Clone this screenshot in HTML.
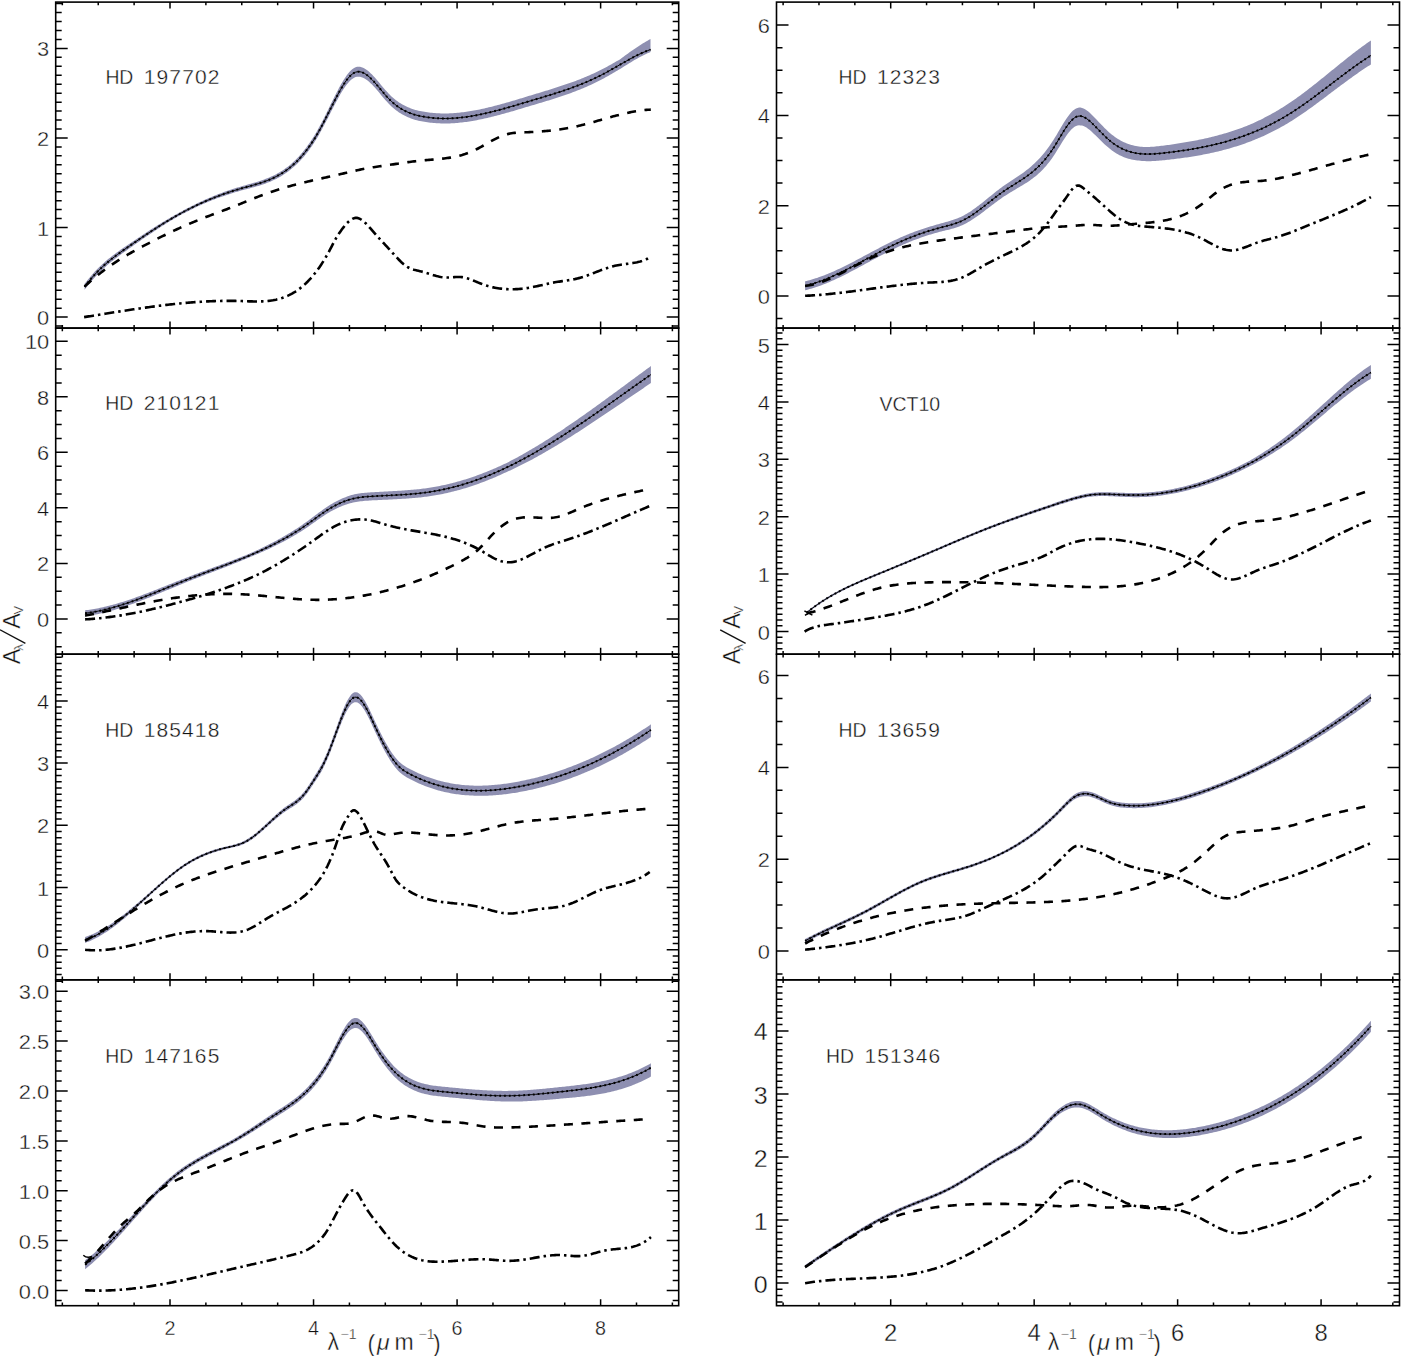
<!DOCTYPE html><html><head><meta charset="utf-8"><style>html,body{margin:0;padding:0;background:#fff;}svg{display:block;}</style></head><body>
<svg width="1403" height="1356" viewBox="0 0 1403 1356">
<rect width="1403" height="1356" fill="#fff"/>
<path d="M84.6 283.87 L86.1 281.91 L87.59 280 L89.09 278.16 L90.59 276.38 L92.09 274.66 L93.58 272.99 L95.08 271.37 L96.58 269.81 L98.07 268.29 L99.57 266.82 L101.07 265.4 L102.57 264.01 L104.06 262.67 L105.56 261.36 L107.06 260.09 L108.55 258.85 L110.05 257.64 L111.55 256.46 L113.04 255.31 L114.54 254.18 L116.04 253.07 L117.54 251.98 L119.03 250.9 L120.53 249.85 L122.03 248.8 L123.52 247.77 L125.02 246.74 L126.52 245.72 L128.02 244.7 L129.51 243.69 L131.01 242.68 L132.51 241.67 L134 240.66 L135.5 239.65 L137 238.65 L138.5 237.65 L139.99 236.65 L141.49 235.66 L142.99 234.67 L144.48 233.69 L145.98 232.71 L147.48 231.74 L148.97 230.77 L150.47 229.8 L151.97 228.85 L153.47 227.89 L154.96 226.95 L156.46 226.01 L157.96 225.07 L159.45 224.15 L160.95 223.23 L162.45 222.32 L163.95 221.42 L165.44 220.52 L166.94 219.63 L168.44 218.75 L169.93 217.88 L171.43 217.02 L172.93 216.17 L174.43 215.33 L175.92 214.5 L177.42 213.68 L178.92 212.86 L180.41 212.05 L181.91 211.23 L183.41 210.41 L184.91 209.6 L186.4 208.8 L187.9 208.02 L189.4 207.24 L190.89 206.47 L192.39 205.72 L193.89 204.97 L195.38 204.23 L196.88 203.51 L198.38 202.79 L199.88 202.08 L201.37 201.39 L202.87 200.7 L204.37 200.02 L205.86 199.36 L207.36 198.7 L208.86 198.05 L210.36 197.41 L211.85 196.79 L213.35 196.17 L214.85 195.56 L216.34 194.96 L217.84 194.37 L219.34 193.79 L220.84 193.22 L222.33 192.66 L223.83 192.11 L225.33 191.57 L226.82 191.04 L228.32 190.52 L229.82 190.01 L231.31 189.5 L232.81 189.01 L234.31 188.52 L235.81 188.05 L237.3 187.58 L238.8 187.13 L240.3 186.68 L241.79 186.24 L243.29 185.81 L244.79 185.39 L246.29 184.96 L247.78 184.54 L249.28 184.12 L250.78 183.69 L252.27 183.26 L253.77 182.82 L255.27 182.38 L256.77 181.92 L258.26 181.45 L259.76 180.97 L261.26 180.47 L262.75 179.95 L264.25 179.41 L265.75 178.85 L267.24 178.26 L268.74 177.65 L270.24 177.01 L271.74 176.34 L273.23 175.64 L274.73 174.9 L276.23 174.13 L277.72 173.31 L279.22 172.46 L280.72 171.57 L282.22 170.63 L283.71 169.65 L285.21 168.62 L286.71 167.54 L288.2 166.41 L289.7 165.22 L291.2 163.95 L292.7 162.61 L294.19 161.21 L295.69 159.75 L297.19 158.22 L298.68 156.63 L300.18 154.97 L301.68 153.25 L303.18 151.45 L304.67 149.58 L306.17 147.63 L307.67 145.6 L309.16 143.5 L310.66 141.31 L312.16 139.04 L313.65 136.68 L315.15 134.24 L316.65 131.71 L318.15 129.08 L319.64 126.36 L321.14 123.55 L322.64 120.67 L324.13 117.72 L325.63 114.72 L327.13 111.69 L328.63 108.64 L330.12 105.58 L331.62 102.52 L333.12 99.49 L334.61 96.48 L336.11 93.53 L337.61 90.64 L339.11 87.82 L340.6 85.11 L342.1 82.5 L343.6 80.03 L345.09 77.72 L346.59 75.57 L348.09 73.61 L349.58 71.86 L351.08 70.33 L352.58 69.05 L354.08 68.02 L355.57 67.28 L357.07 66.83 L358.57 66.66 L360.06 66.79 L361.56 67.14 L363.06 67.71 L364.56 68.48 L366.05 69.42 L367.55 70.52 L369.05 71.76 L370.54 73.13 L372.04 74.61 L373.54 76.19 L375.04 77.84 L376.53 79.55 L378.03 81.31 L379.53 83.09 L381.02 84.89 L382.52 86.68 L384.02 88.45 L385.52 90.18 L387.01 91.86 L388.51 93.46 L390.01 94.98 L391.5 96.42 L393 97.77 L394.5 99.03 L395.99 100.22 L397.49 101.34 L398.99 102.38 L400.49 103.35 L401.98 104.25 L403.48 105.09 L404.98 105.87 L406.47 106.59 L407.97 107.26 L409.47 107.87 L410.97 108.44 L412.46 108.96 L413.96 109.44 L415.46 109.88 L416.95 110.28 L418.45 110.64 L419.95 110.98 L421.45 111.29 L422.94 111.58 L424.44 111.84 L425.94 112.08 L427.43 112.3 L428.93 112.5 L430.43 112.68 L431.92 112.85 L433.42 112.99 L434.92 113.11 L436.42 113.22 L437.91 113.3 L439.41 113.37 L440.91 113.42 L442.4 113.45 L443.9 113.46 L445.4 113.45 L446.9 113.43 L448.39 113.39 L449.89 113.34 L451.39 113.27 L452.88 113.18 L454.38 113.08 L455.88 112.97 L457.38 112.84 L458.87 112.69 L460.37 112.54 L461.87 112.37 L463.36 112.18 L464.86 111.99 L466.36 111.78 L467.86 111.56 L469.35 111.33 L470.85 111.08 L472.35 110.83 L473.84 110.56 L475.34 110.29 L476.84 110 L478.33 109.7 L479.83 109.39 L481.33 109.08 L482.83 108.75 L484.32 108.42 L485.82 108.08 L487.32 107.73 L488.81 107.37 L490.31 107 L491.81 106.63 L493.31 106.25 L494.8 105.86 L496.3 105.47 L497.8 105.07 L499.29 104.67 L500.79 104.26 L502.29 103.84 L503.79 103.42 L505.28 103 L506.78 102.57 L508.28 102.14 L509.77 101.7 L511.27 101.26 L512.77 100.82 L514.26 100.38 L515.76 99.93 L517.26 99.48 L518.76 99.03 L520.25 98.58 L521.75 98.13 L523.25 97.67 L524.74 97.22 L526.24 96.77 L527.74 96.31 L529.24 95.86 L530.73 95.4 L532.23 94.95 L533.73 94.5 L535.22 94.05 L536.72 93.6 L538.22 93.15 L539.72 92.7 L541.21 92.24 L542.71 91.79 L544.21 91.33 L545.7 90.87 L547.2 90.41 L548.7 89.95 L550.19 89.48 L551.69 89.01 L553.19 88.54 L554.69 88.06 L556.18 87.58 L557.68 87.09 L559.18 86.6 L560.67 86.11 L562.17 85.62 L563.67 85.12 L565.17 84.62 L566.66 84.11 L568.16 83.59 L569.66 83.07 L571.15 82.54 L572.65 82 L574.15 81.45 L575.65 80.9 L577.14 80.33 L578.64 79.76 L580.14 79.17 L581.63 78.58 L583.13 77.97 L584.63 77.36 L586.13 76.73 L587.62 76.1 L589.12 75.45 L590.62 74.79 L592.11 74.12 L593.61 73.43 L595.11 72.73 L596.6 72.02 L598.1 71.3 L599.6 70.56 L601.1 69.81 L602.59 69.04 L604.09 68.26 L605.59 67.46 L607.08 66.65 L608.58 65.83 L610.08 65 L611.58 64.17 L613.07 63.32 L614.57 62.47 L616.07 61.62 L617.56 60.76 L619.06 59.9 L620.56 58.95 L622.06 57.83 L623.55 56.72 L625.05 55.61 L626.55 54.52 L628.04 53.42 L629.54 52.34 L631.04 51.27 L632.53 50.21 L634.03 49.17 L635.53 48.14 L637.03 47.13 L638.52 46.14 L640.02 45.17 L641.52 44.22 L643.01 43.29 L644.51 42.39 L646.01 41.51 L647.51 40.66 L649 39.84 L650.5 39.05 L650.5 52 L649 52.63 L647.51 53.29 L646.01 53.98 L644.51 54.7 L643.01 55.44 L641.52 56.21 L640.02 57 L638.52 57.81 L637.03 58.64 L635.53 59.49 L634.03 60.36 L632.53 61.25 L631.04 62.15 L629.54 63.06 L628.04 63.98 L626.55 64.91 L625.05 65.85 L623.55 66.8 L622.06 67.75 L620.56 68.71 L619.06 69.61 L617.56 70.49 L616.07 71.37 L614.57 72.24 L613.07 73.11 L611.58 73.98 L610.08 74.84 L608.58 75.69 L607.08 76.53 L605.59 77.35 L604.09 78.17 L602.59 78.97 L601.1 79.76 L599.6 80.53 L598.1 81.29 L596.6 82.03 L595.11 82.76 L593.61 83.48 L592.11 84.19 L590.62 84.88 L589.12 85.56 L587.62 86.23 L586.13 86.88 L584.63 87.53 L583.13 88.17 L581.63 88.79 L580.14 89.4 L578.64 90.01 L577.14 90.6 L575.65 91.19 L574.15 91.76 L572.65 92.33 L571.15 92.89 L569.66 93.44 L568.16 93.99 L566.66 94.52 L565.17 95.05 L563.67 95.58 L562.17 96.09 L560.67 96.6 L559.18 97.1 L557.68 97.58 L556.18 98.06 L554.69 98.54 L553.19 99.01 L551.69 99.48 L550.19 99.94 L548.7 100.4 L547.2 100.86 L545.7 101.31 L544.21 101.77 L542.71 102.22 L541.21 102.66 L539.72 103.11 L538.22 103.56 L536.72 104 L535.22 104.45 L533.73 104.89 L532.23 105.34 L530.73 105.78 L529.24 106.23 L527.74 106.68 L526.24 107.12 L524.74 107.57 L523.25 108.02 L521.75 108.47 L520.25 108.91 L518.76 109.36 L517.26 109.8 L515.76 110.25 L514.26 110.69 L512.77 111.13 L511.27 111.56 L509.77 111.99 L508.28 112.42 L506.78 112.85 L505.28 113.27 L503.79 113.69 L502.29 114.1 L500.79 114.51 L499.29 114.91 L497.8 115.31 L496.3 115.71 L494.8 116.09 L493.31 116.47 L491.81 116.85 L490.31 117.21 L488.81 117.57 L487.32 117.92 L485.82 118.27 L484.32 118.6 L482.83 118.93 L481.33 119.25 L479.83 119.56 L478.33 119.86 L476.84 120.15 L475.34 120.43 L473.84 120.7 L472.35 120.96 L470.85 121.21 L469.35 121.45 L467.86 121.68 L466.36 121.89 L464.86 122.09 L463.36 122.28 L461.87 122.46 L460.37 122.62 L458.87 122.77 L457.38 122.91 L455.88 123.03 L454.38 123.14 L452.88 123.24 L451.39 123.31 L449.89 123.38 L448.39 123.43 L446.9 123.46 L445.4 123.48 L443.9 123.48 L442.4 123.46 L440.91 123.42 L439.41 123.37 L437.91 123.3 L436.42 123.22 L434.92 123.11 L433.42 122.99 L431.92 122.85 L430.43 122.68 L428.93 122.5 L427.43 122.3 L425.94 122.08 L424.44 121.84 L422.94 121.58 L421.45 121.29 L419.95 120.98 L418.45 120.64 L416.95 120.28 L415.46 119.88 L413.96 119.44 L412.46 118.96 L410.97 118.44 L409.47 117.87 L407.97 117.26 L406.47 116.59 L404.98 115.87 L403.48 115.09 L401.98 114.25 L400.49 113.35 L398.99 112.38 L397.49 111.34 L395.99 110.22 L394.5 109.03 L393 107.77 L391.5 106.42 L390.01 104.98 L388.51 103.46 L387.01 101.86 L385.52 100.18 L384.02 98.45 L382.52 96.68 L381.02 94.89 L379.53 93.09 L378.03 91.31 L376.53 89.55 L375.04 87.84 L373.54 86.19 L372.04 84.61 L370.54 83.13 L369.05 81.76 L367.55 80.52 L366.05 79.42 L364.56 78.48 L363.06 77.71 L361.56 77.14 L360.06 76.79 L358.57 76.66 L357.07 76.76 L355.57 77.1 L354.08 77.73 L352.58 78.65 L351.08 79.82 L349.58 81.24 L348.09 82.88 L346.59 84.73 L345.09 86.77 L343.6 88.98 L342.1 91.33 L340.6 93.83 L339.11 96.44 L337.61 99.14 L336.11 101.92 L334.61 104.76 L333.12 107.66 L331.62 110.58 L330.12 113.53 L328.63 116.48 L327.13 119.42 L325.63 122.34 L324.13 125.23 L322.64 128.07 L321.14 130.84 L319.64 133.54 L318.15 136.15 L316.65 138.66 L315.15 141.09 L313.65 143.42 L312.16 145.67 L310.66 147.83 L309.16 149.91 L307.67 151.9 L306.17 153.82 L304.67 155.65 L303.18 157.42 L301.68 159.11 L300.18 160.72 L298.68 162.27 L297.19 163.75 L295.69 165.17 L294.19 166.52 L292.7 167.81 L291.2 169.04 L289.7 170.22 L288.2 171.38 L286.71 172.48 L285.21 173.53 L283.71 174.54 L282.22 175.49 L280.72 176.4 L279.22 177.27 L277.72 178.09 L276.23 178.88 L274.73 179.62 L273.23 180.33 L271.74 181.01 L270.24 181.65 L268.74 182.26 L267.24 182.85 L265.75 183.41 L264.25 183.94 L262.75 184.45 L261.26 184.95 L259.76 185.42 L258.26 185.88 L256.77 186.32 L255.27 186.75 L253.77 187.17 L252.27 187.58 L250.78 187.98 L249.28 188.38 L247.78 188.77 L246.29 189.17 L244.79 189.56 L243.29 189.96 L241.79 190.37 L240.3 190.78 L238.8 191.2 L237.3 191.63 L235.81 192.06 L234.31 192.51 L232.81 192.97 L231.31 193.44 L229.82 193.91 L228.32 194.4 L226.82 194.89 L225.33 195.4 L223.83 195.91 L222.33 196.43 L220.84 196.96 L219.34 197.51 L217.84 198.06 L216.34 198.62 L214.85 199.19 L213.35 199.77 L211.85 200.36 L210.36 200.97 L208.86 201.58 L207.36 202.2 L205.86 202.83 L204.37 203.47 L202.87 204.11 L201.37 204.77 L199.88 205.44 L198.38 206.12 L196.88 206.81 L195.38 207.51 L193.89 208.22 L192.39 208.94 L190.89 209.67 L189.4 210.41 L187.9 211.16 L186.4 211.92 L184.91 212.69 L183.41 213.47 L181.91 214.26 L180.41 215.06 L178.92 215.9 L177.42 216.76 L175.92 217.63 L174.43 218.5 L172.93 219.39 L171.43 220.29 L169.93 221.2 L168.44 222.12 L166.94 223.04 L165.44 223.97 L163.95 224.92 L162.45 225.87 L160.95 226.83 L159.45 227.79 L157.96 228.76 L156.46 229.74 L154.96 230.73 L153.47 231.72 L151.97 232.72 L150.47 233.73 L148.97 234.74 L147.48 235.75 L145.98 236.77 L144.48 237.8 L142.99 238.83 L141.49 239.87 L139.99 240.9 L138.5 241.95 L137 242.99 L135.5 244.04 L134 245.09 L132.51 246.15 L131.01 247.21 L129.51 248.27 L128.02 249.33 L126.52 250.39 L125.02 251.46 L123.52 252.53 L122.03 253.61 L120.53 254.71 L119.03 255.81 L117.54 256.93 L116.04 258.07 L114.54 259.22 L113.04 260.4 L111.55 261.6 L110.05 262.83 L108.55 264.08 L107.06 265.37 L105.56 266.69 L104.06 268.04 L102.57 269.43 L101.07 270.86 L99.57 272.34 L98.07 273.85 L96.58 275.42 L95.08 277.03 L93.58 278.69 L92.09 280.41 L90.59 282.18 L89.09 284 L87.59 285.89 L86.1 287.84 L84.6 289.85 Z" fill="#8e8fb1" stroke="none"/>
<path d="M84.6 286.86 L86.1 284.87 L87.59 282.95 L89.09 281.08 L90.59 279.28 L92.09 277.53 L93.58 275.84 L95.08 274.2 L96.58 272.61 L98.07 271.07 L99.57 269.58 L101.07 268.13 L102.57 266.72 L104.06 265.36 L105.56 264.02 L107.06 262.73 L108.55 261.47 L110.05 260.23 L111.55 259.03 L113.04 257.85 L114.54 256.7 L116.04 255.57 L117.54 254.45 L119.03 253.36 L120.53 252.28 L122.03 251.21 L123.52 250.15 L125.02 249.1 L126.52 248.06 L128.02 247.02 L129.51 245.98 L131.01 244.94 L132.51 243.91 L134 242.88 L135.5 241.85 L137 240.82 L138.5 239.8 L139.99 238.78 L141.49 237.76 L142.99 236.75 L144.48 235.75 L145.98 234.74 L147.48 233.74 L148.97 232.75 L150.47 231.77 L151.97 230.78 L153.47 229.81 L154.96 228.84 L156.46 227.88 L157.96 226.92 L159.45 225.97 L160.95 225.03 L162.45 224.09 L163.95 223.17 L165.44 222.25 L166.94 221.34 L168.44 220.43 L169.93 219.54 L171.43 218.66 L172.93 217.78 L174.43 216.92 L175.92 216.06 L177.42 215.22 L178.92 214.38 L180.41 213.56 L181.91 212.74 L183.41 211.94 L184.91 211.15 L186.4 210.36 L187.9 209.59 L189.4 208.82 L190.89 208.07 L192.39 207.33 L193.89 206.6 L195.38 205.87 L196.88 205.16 L198.38 204.46 L199.88 203.76 L201.37 203.08 L202.87 202.41 L204.37 201.74 L205.86 201.09 L207.36 200.45 L208.86 199.81 L210.36 199.19 L211.85 198.57 L213.35 197.97 L214.85 197.38 L216.34 196.79 L217.84 196.22 L219.34 195.65 L220.84 195.09 L222.33 194.55 L223.83 194.01 L225.33 193.48 L226.82 192.97 L228.32 192.46 L229.82 191.96 L231.31 191.47 L232.81 190.99 L234.31 190.52 L235.81 190.06 L237.3 189.61 L238.8 189.16 L240.3 188.73 L241.79 188.3 L243.29 187.89 L244.79 187.47 L246.29 187.07 L247.78 186.66 L249.28 186.25 L250.78 185.84 L252.27 185.42 L253.77 184.99 L255.27 184.56 L256.77 184.12 L258.26 183.66 L259.76 183.19 L261.26 182.71 L262.75 182.2 L264.25 181.68 L265.75 181.13 L267.24 180.56 L268.74 179.96 L270.24 179.33 L271.74 178.67 L273.23 177.98 L274.73 177.26 L276.23 176.5 L277.72 175.7 L279.22 174.87 L280.72 173.99 L282.22 173.06 L283.71 172.09 L285.21 171.08 L286.71 170.01 L288.2 168.89 L289.7 167.72 L291.2 166.49 L292.7 165.21 L294.19 163.86 L295.69 162.46 L297.19 160.99 L298.68 159.45 L300.18 157.85 L301.68 156.18 L303.18 154.43 L304.67 152.62 L306.17 150.72 L307.67 148.75 L309.16 146.7 L310.66 144.57 L312.16 142.35 L313.65 140.05 L315.15 137.66 L316.65 135.18 L318.15 132.61 L319.64 129.95 L321.14 127.2 L322.64 124.37 L324.13 121.47 L325.63 118.53 L327.13 115.55 L328.63 112.56 L330.12 109.55 L331.62 106.55 L333.12 103.57 L334.61 100.62 L336.11 97.73 L337.61 94.89 L339.11 92.13 L340.6 89.47 L342.1 86.92 L343.6 84.5 L345.09 82.24 L346.59 80.15 L348.09 78.24 L349.58 76.55 L351.08 75.07 L352.58 73.85 L354.08 72.88 L355.57 72.19 L357.07 71.79 L358.57 71.66 L360.06 71.79 L361.56 72.14 L363.06 72.71 L364.56 73.48 L366.05 74.42 L367.55 75.52 L369.05 76.76 L370.54 78.13 L372.04 79.61 L373.54 81.19 L375.04 82.84 L376.53 84.55 L378.03 86.31 L379.53 88.09 L381.02 89.89 L382.52 91.68 L384.02 93.45 L385.52 95.18 L387.01 96.86 L388.51 98.46 L390.01 99.98 L391.5 101.42 L393 102.77 L394.5 104.03 L395.99 105.22 L397.49 106.34 L398.99 107.38 L400.49 108.35 L401.98 109.25 L403.48 110.09 L404.98 110.87 L406.47 111.59 L407.97 112.26 L409.47 112.87 L410.97 113.44 L412.46 113.96 L413.96 114.44 L415.46 114.88 L416.95 115.28 L418.45 115.64 L419.95 115.98 L421.45 116.29 L422.94 116.58 L424.44 116.84 L425.94 117.08 L427.43 117.3 L428.93 117.5 L430.43 117.68 L431.92 117.85 L433.42 117.99 L434.92 118.11 L436.42 118.22 L437.91 118.3 L439.41 118.37 L440.91 118.42 L442.4 118.46 L443.9 118.48 L445.4 118.48 L446.9 118.46 L448.39 118.43 L449.89 118.38 L451.39 118.31 L452.88 118.24 L454.38 118.14 L455.88 118.03 L457.38 117.91 L458.87 117.77 L460.37 117.62 L461.87 117.46 L463.36 117.28 L464.86 117.09 L466.36 116.89 L467.86 116.68 L469.35 116.45 L470.85 116.21 L472.35 115.96 L473.84 115.7 L475.34 115.43 L476.84 115.15 L478.33 114.86 L479.83 114.56 L481.33 114.25 L482.83 113.93 L484.32 113.6 L485.82 113.27 L487.32 112.92 L488.81 112.57 L490.31 112.21 L491.81 111.85 L493.31 111.47 L494.8 111.09 L496.3 110.71 L497.8 110.31 L499.29 109.91 L500.79 109.51 L502.29 109.1 L503.79 108.69 L505.28 108.27 L506.78 107.85 L508.28 107.42 L509.77 106.99 L511.27 106.56 L512.77 106.13 L514.26 105.69 L515.76 105.25 L517.26 104.8 L518.76 104.36 L520.25 103.91 L521.75 103.47 L523.25 103.02 L524.74 102.57 L526.24 102.12 L527.74 101.68 L529.24 101.23 L530.73 100.78 L532.23 100.34 L533.73 99.89 L535.22 99.45 L536.72 99 L538.22 98.56 L539.72 98.11 L541.21 97.66 L542.71 97.22 L544.21 96.77 L545.7 96.31 L547.2 95.86 L548.7 95.4 L550.19 94.94 L551.69 94.48 L553.19 94.01 L554.69 93.54 L556.18 93.06 L557.68 92.58 L559.18 92.1 L560.67 91.61 L562.17 91.11 L563.67 90.61 L565.17 90.1 L566.66 89.59 L568.16 89.07 L569.66 88.54 L571.15 88 L572.65 87.46 L574.15 86.9 L575.65 86.34 L577.14 85.77 L578.64 85.19 L580.14 84.6 L581.63 84.01 L583.13 83.4 L584.63 82.78 L586.13 82.15 L587.62 81.5 L589.12 80.85 L590.62 80.19 L592.11 79.51 L593.61 78.82 L595.11 78.12 L596.6 77.4 L598.1 76.67 L599.6 75.93 L601.1 75.17 L602.59 74.4 L604.09 73.61 L605.59 72.81 L607.08 72 L608.58 71.17 L610.08 70.34 L611.58 69.49 L613.07 68.64 L614.57 67.79 L616.07 66.93 L617.56 66.07 L619.06 65.21 L620.56 64.34 L622.06 63.48 L623.55 62.63 L625.05 61.78 L626.55 60.93 L628.04 60.1 L629.54 59.27 L631.04 58.46 L632.53 57.66 L634.03 56.87 L635.53 56.1 L637.03 55.34 L638.52 54.61 L640.02 53.89 L641.52 53.2 L643.01 52.52 L644.51 51.88 L646.01 51.26 L647.51 50.67 L649 50.1 L650.5 49.57" fill="none" stroke="#000" stroke-width="1.0"/>
<path d="M84.6 286.86 L86.1 284.87 L87.59 282.95 L89.09 281.08 L90.59 279.28 L92.09 277.53 L93.58 275.84 L95.08 274.2 L96.58 272.61 L98.07 271.07 L99.57 269.58 L101.07 268.13 L102.57 266.72 L104.06 265.36 L105.56 264.02 L107.06 262.73 L108.55 261.47 L110.05 260.23 L111.55 259.03 L113.04 257.85 L114.54 256.7 L116.04 255.57 L117.54 254.45 L119.03 253.36 L120.53 252.28 L122.03 251.21 L123.52 250.15 L125.02 249.1 L126.52 248.06 L128.02 247.02 L129.51 245.98 L131.01 244.94 L132.51 243.91 L134 242.88 L135.5 241.85 L137 240.82 L138.5 239.8 L139.99 238.78 L141.49 237.76 L142.99 236.75 L144.48 235.75 L145.98 234.74 L147.48 233.74 L148.97 232.75 L150.47 231.77 L151.97 230.78 L153.47 229.81 L154.96 228.84 L156.46 227.88 L157.96 226.92 L159.45 225.97 L160.95 225.03 L162.45 224.09 L163.95 223.17 L165.44 222.25 L166.94 221.34 L168.44 220.43 L169.93 219.54 L171.43 218.66 L172.93 217.78 L174.43 216.92 L175.92 216.06 L177.42 215.22 L178.92 214.38 L180.41 213.56 L181.91 212.74 L183.41 211.94 L184.91 211.15 L186.4 210.36 L187.9 209.59 L189.4 208.82 L190.89 208.07 L192.39 207.33 L193.89 206.6 L195.38 205.87 L196.88 205.16 L198.38 204.46 L199.88 203.76 L201.37 203.08 L202.87 202.41 L204.37 201.74 L205.86 201.09 L207.36 200.45 L208.86 199.81 L210.36 199.19 L211.85 198.57 L213.35 197.97 L214.85 197.38 L216.34 196.79 L217.84 196.22 L219.34 195.65 L220.84 195.09 L222.33 194.55 L223.83 194.01 L225.33 193.48 L226.82 192.97 L228.32 192.46 L229.82 191.96 L231.31 191.47 L232.81 190.99 L234.31 190.52 L235.81 190.06 L237.3 189.61 L238.8 189.16 L240.3 188.73 L241.79 188.3 L243.29 187.89 L244.79 187.47 L246.29 187.07 L247.78 186.66 L249.28 186.25 L250.78 185.84 L252.27 185.42 L253.77 184.99 L255.27 184.56 L256.77 184.12 L258.26 183.66 L259.76 183.19 L261.26 182.71 L262.75 182.2 L264.25 181.68 L265.75 181.13 L267.24 180.56 L268.74 179.96 L270.24 179.33 L271.74 178.67 L273.23 177.98 L274.73 177.26 L276.23 176.5 L277.72 175.7 L279.22 174.87 L280.72 173.99 L282.22 173.06 L283.71 172.09 L285.21 171.08 L286.71 170.01 L288.2 168.89 L289.7 167.72 L291.2 166.49 L292.7 165.21 L294.19 163.86 L295.69 162.46 L297.19 160.99 L298.68 159.45 L300.18 157.85 L301.68 156.18 L303.18 154.43 L304.67 152.62 L306.17 150.72 L307.67 148.75 L309.16 146.7 L310.66 144.57 L312.16 142.35 L313.65 140.05 L315.15 137.66 L316.65 135.18 L318.15 132.61 L319.64 129.95 L321.14 127.2 L322.64 124.37 L324.13 121.47 L325.63 118.53 L327.13 115.55 L328.63 112.56 L330.12 109.55 L331.62 106.55 L333.12 103.57 L334.61 100.62 L336.11 97.73 L337.61 94.89 L339.11 92.13 L340.6 89.47 L342.1 86.92 L343.6 84.5 L345.09 82.24 L346.59 80.15 L348.09 78.24 L349.58 76.55 L351.08 75.07 L352.58 73.85 L354.08 72.88 L355.57 72.19 L357.07 71.79 L358.57 71.66 L360.06 71.79 L361.56 72.14 L363.06 72.71 L364.56 73.48 L366.05 74.42 L367.55 75.52 L369.05 76.76 L370.54 78.13 L372.04 79.61 L373.54 81.19 L375.04 82.84 L376.53 84.55 L378.03 86.31 L379.53 88.09 L381.02 89.89 L382.52 91.68 L384.02 93.45 L385.52 95.18 L387.01 96.86 L388.51 98.46 L390.01 99.98 L391.5 101.42 L393 102.77 L394.5 104.03 L395.99 105.22 L397.49 106.34 L398.99 107.38 L400.49 108.35 L401.98 109.25 L403.48 110.09 L404.98 110.87 L406.47 111.59 L407.97 112.26 L409.47 112.87 L410.97 113.44 L412.46 113.96 L413.96 114.44 L415.46 114.88 L416.95 115.28 L418.45 115.64 L419.95 115.98 L421.45 116.29 L422.94 116.58 L424.44 116.84 L425.94 117.08 L427.43 117.3 L428.93 117.5 L430.43 117.68 L431.92 117.85 L433.42 117.99 L434.92 118.11 L436.42 118.22 L437.91 118.3 L439.41 118.37 L440.91 118.42 L442.4 118.46 L443.9 118.48 L445.4 118.48 L446.9 118.46 L448.39 118.43 L449.89 118.38 L451.39 118.31 L452.88 118.24 L454.38 118.14 L455.88 118.03 L457.38 117.91 L458.87 117.77 L460.37 117.62 L461.87 117.46 L463.36 117.28 L464.86 117.09 L466.36 116.89 L467.86 116.68 L469.35 116.45 L470.85 116.21 L472.35 115.96 L473.84 115.7 L475.34 115.43 L476.84 115.15 L478.33 114.86 L479.83 114.56 L481.33 114.25 L482.83 113.93 L484.32 113.6 L485.82 113.27 L487.32 112.92 L488.81 112.57 L490.31 112.21 L491.81 111.85 L493.31 111.47 L494.8 111.09 L496.3 110.71 L497.8 110.31 L499.29 109.91 L500.79 109.51 L502.29 109.1 L503.79 108.69 L505.28 108.27 L506.78 107.85 L508.28 107.42 L509.77 106.99 L511.27 106.56 L512.77 106.13 L514.26 105.69 L515.76 105.25 L517.26 104.8 L518.76 104.36 L520.25 103.91 L521.75 103.47 L523.25 103.02 L524.74 102.57 L526.24 102.12 L527.74 101.68 L529.24 101.23 L530.73 100.78 L532.23 100.34 L533.73 99.89 L535.22 99.45 L536.72 99 L538.22 98.56 L539.72 98.11 L541.21 97.66 L542.71 97.22 L544.21 96.77 L545.7 96.31 L547.2 95.86 L548.7 95.4 L550.19 94.94 L551.69 94.48 L553.19 94.01 L554.69 93.54 L556.18 93.06 L557.68 92.58 L559.18 92.1 L560.67 91.61 L562.17 91.11 L563.67 90.61 L565.17 90.1 L566.66 89.59 L568.16 89.07 L569.66 88.54 L571.15 88 L572.65 87.46 L574.15 86.9 L575.65 86.34 L577.14 85.77 L578.64 85.19 L580.14 84.6 L581.63 84.01 L583.13 83.4 L584.63 82.78 L586.13 82.15 L587.62 81.5 L589.12 80.85 L590.62 80.19 L592.11 79.51 L593.61 78.82 L595.11 78.12 L596.6 77.4 L598.1 76.67 L599.6 75.93 L601.1 75.17 L602.59 74.4 L604.09 73.61 L605.59 72.81 L607.08 72 L608.58 71.17 L610.08 70.34 L611.58 69.49 L613.07 68.64 L614.57 67.79 L616.07 66.93 L617.56 66.07 L619.06 65.21 L620.56 64.34 L622.06 63.48 L623.55 62.63 L625.05 61.78 L626.55 60.93 L628.04 60.1 L629.54 59.27 L631.04 58.46 L632.53 57.66 L634.03 56.87 L635.53 56.1 L637.03 55.34 L638.52 54.61 L640.02 53.89 L641.52 53.2 L643.01 52.52 L644.51 51.88 L646.01 51.26 L647.51 50.67 L649 50.1 L650.5 49.57" fill="none" stroke="#000" stroke-width="2" stroke-dasharray="1.8 3"/>
<path d="M84.6 286.51 L86.1 285.12 L87.6 283.75 L89.09 282.41 L90.59 281.09 L92.09 279.8 L93.59 278.53 L95.09 277.28 L96.58 276.05 L98.08 274.85 L99.58 273.67 L101.08 272.5 L102.57 271.36 L104.07 270.24 L105.57 269.13 L107.07 268.05 L108.57 266.98 L110.06 265.93 L111.56 264.89 L113.06 263.87 L114.56 262.87 L116.06 261.89 L117.55 260.91 L119.05 259.96 L120.55 259.01 L122.05 258.08 L123.54 257.17 L125.04 256.26 L126.54 255.37 L128.04 254.49 L129.54 253.61 L131.03 252.75 L132.53 251.9 L134.03 251.06 L135.53 250.23 L137.03 249.4 L138.52 248.58 L140.02 247.77 L141.52 246.97 L143.02 246.17 L144.52 245.38 L146.01 244.59 L147.51 243.81 L149.01 243.03 L150.51 242.25 L152 241.48 L153.5 240.71 L155 239.95 L156.5 239.19 L158 238.44 L159.49 237.69 L160.99 236.94 L162.49 236.2 L163.99 235.46 L165.49 234.73 L166.98 234 L168.48 233.28 L169.98 232.56 L171.48 231.85 L172.98 231.14 L174.47 230.44 L175.97 229.75 L177.47 229.05 L178.97 228.37 L180.46 227.69 L181.96 227.02 L183.46 226.35 L184.96 225.68 L186.46 225.03 L187.95 224.38 L189.45 223.73 L190.95 223.1 L192.45 222.47 L193.95 221.84 L195.44 221.22 L196.94 220.61 L198.44 220.01 L199.94 219.41 L201.43 218.82 L202.93 218.23 L204.43 217.65 L205.93 217.07 L207.43 216.5 L208.92 215.93 L210.42 215.36 L211.92 214.79 L213.42 214.23 L214.92 213.67 L216.41 213.11 L217.91 212.55 L219.41 211.99 L220.91 211.42 L222.41 210.86 L223.9 210.3 L225.4 209.73 L226.9 209.16 L228.4 208.58 L229.89 208.01 L231.39 207.42 L232.89 206.84 L234.39 206.24 L235.89 205.65 L237.38 205.05 L238.88 204.45 L240.38 203.84 L241.88 203.24 L243.38 202.63 L244.87 202.02 L246.37 201.41 L247.87 200.81 L249.37 200.2 L250.87 199.6 L252.36 199 L253.86 198.4 L255.36 197.81 L256.86 197.22 L258.35 196.63 L259.85 196.05 L261.35 195.48 L262.85 194.92 L264.35 194.36 L265.84 193.81 L267.34 193.26 L268.84 192.73 L270.34 192.21 L271.84 191.69 L273.33 191.19 L274.83 190.69 L276.33 190.21 L277.83 189.73 L279.32 189.26 L280.82 188.8 L282.32 188.34 L283.82 187.89 L285.32 187.46 L286.81 187.02 L288.31 186.6 L289.81 186.18 L291.31 185.77 L292.81 185.36 L294.3 184.96 L295.8 184.56 L297.3 184.17 L298.8 183.79 L300.3 183.41 L301.79 183.04 L303.29 182.66 L304.79 182.3 L306.29 181.93 L307.78 181.58 L309.28 181.22 L310.78 180.87 L312.28 180.52 L313.78 180.17 L315.27 179.82 L316.77 179.48 L318.27 179.14 L319.77 178.8 L321.27 178.46 L322.76 178.13 L324.26 177.79 L325.76 177.45 L327.26 177.12 L328.76 176.78 L330.25 176.45 L331.75 176.11 L333.25 175.78 L334.75 175.44 L336.24 175.1 L337.74 174.76 L339.24 174.42 L340.74 174.08 L342.24 173.73 L343.73 173.38 L345.23 173.04 L346.73 172.69 L348.23 172.34 L349.73 171.99 L351.22 171.64 L352.72 171.3 L354.22 170.96 L355.72 170.62 L357.21 170.29 L358.71 169.96 L360.21 169.64 L361.71 169.33 L363.21 169.02 L364.7 168.73 L366.2 168.44 L367.7 168.16 L369.2 167.9 L370.7 167.64 L372.19 167.4 L373.69 167.16 L375.19 166.94 L376.69 166.72 L378.19 166.51 L379.68 166.3 L381.18 166.09 L382.68 165.88 L384.18 165.67 L385.67 165.45 L387.17 165.24 L388.67 165.02 L390.17 164.8 L391.67 164.57 L393.16 164.35 L394.66 164.12 L396.16 163.9 L397.66 163.67 L399.16 163.45 L400.65 163.23 L402.15 163.01 L403.65 162.79 L405.15 162.57 L406.64 162.36 L408.14 162.15 L409.64 161.95 L411.14 161.75 L412.64 161.55 L414.13 161.37 L415.63 161.19 L417.13 161.01 L418.63 160.84 L420.13 160.68 L421.62 160.53 L423.12 160.39 L424.62 160.25 L426.12 160.12 L427.62 159.99 L429.11 159.87 L430.61 159.74 L432.11 159.62 L433.61 159.49 L435.1 159.36 L436.6 159.23 L438.1 159.09 L439.6 158.94 L441.1 158.79 L442.59 158.62 L444.09 158.45 L445.59 158.26 L447.09 158.06 L448.59 157.84 L450.08 157.61 L451.58 157.35 L453.08 157.08 L454.58 156.79 L456.08 156.48 L457.57 156.14 L459.07 155.78 L460.57 155.39 L462.07 154.98 L463.56 154.53 L465.06 154.06 L466.56 153.55 L468.06 153.02 L469.56 152.44 L471.05 151.84 L472.55 151.19 L474.05 150.51 L475.55 149.79 L477.05 149.03 L478.54 148.24 L480.04 147.43 L481.54 146.6 L483.04 145.75 L484.53 144.89 L486.03 144.03 L487.53 143.16 L489.03 142.31 L490.53 141.46 L492.02 140.63 L493.52 139.83 L495.02 139.04 L496.52 138.29 L498.02 137.57 L499.51 136.89 L501.01 136.26 L502.51 135.67 L504.01 135.13 L505.51 134.65 L507 134.23 L508.5 133.87 L510 133.56 L511.5 133.3 L512.99 133.08 L514.49 132.91 L515.99 132.76 L517.49 132.64 L518.99 132.55 L520.48 132.48 L521.98 132.41 L523.48 132.36 L524.98 132.31 L526.48 132.25 L527.97 132.19 L529.47 132.13 L530.97 132.06 L532.47 131.98 L533.97 131.9 L535.46 131.82 L536.96 131.73 L538.46 131.63 L539.96 131.53 L541.45 131.42 L542.95 131.3 L544.45 131.17 L545.95 131.04 L547.45 130.9 L548.94 130.76 L550.44 130.6 L551.94 130.44 L553.44 130.27 L554.94 130.08 L556.43 129.89 L557.93 129.7 L559.43 129.49 L560.93 129.27 L562.42 129.04 L563.92 128.8 L565.42 128.55 L566.92 128.29 L568.42 128.02 L569.91 127.74 L571.41 127.45 L572.91 127.15 L574.41 126.83 L575.91 126.5 L577.4 126.16 L578.9 125.81 L580.4 125.45 L581.9 125.08 L583.4 124.71 L584.89 124.32 L586.39 123.93 L587.89 123.53 L589.39 123.12 L590.88 122.71 L592.38 122.3 L593.88 121.88 L595.38 121.45 L596.88 121.03 L598.37 120.6 L599.87 120.17 L601.37 119.74 L602.87 119.32 L604.37 118.89 L605.86 118.46 L607.36 118.04 L608.86 117.61 L610.36 117.19 L611.86 116.78 L613.35 116.37 L614.85 115.97 L616.35 115.57 L617.85 115.18 L619.34 114.79 L620.84 114.41 L622.34 114.05 L623.84 113.69 L625.34 113.34 L626.83 113 L628.33 112.68 L629.83 112.36 L631.33 112.06 L632.83 111.77 L634.32 111.5 L635.82 111.24 L637.32 111 L638.82 110.77 L640.31 110.56 L641.81 110.37 L643.31 110.19 L644.81 110.04 L646.31 109.9 L647.8 109.78 L649.3 109.69 L650.8 109.61" fill="none" stroke="#000" stroke-width="2.6" stroke-dasharray="9 8.5"/>
<path d="M84.1 317.1 L85.6 316.86 L87.1 316.63 L88.6 316.39 L90.1 316.16 L91.6 315.92 L93.1 315.68 L94.59 315.44 L96.09 315.2 L97.59 314.97 L99.09 314.73 L100.59 314.49 L102.09 314.25 L103.59 314.01 L105.09 313.77 L106.59 313.53 L108.09 313.29 L109.59 313.06 L111.09 312.82 L112.58 312.58 L114.08 312.34 L115.58 312.11 L117.08 311.87 L118.58 311.64 L120.08 311.4 L121.58 311.17 L123.08 310.94 L124.58 310.71 L126.08 310.48 L127.58 310.25 L129.08 310.02 L130.58 309.79 L132.07 309.57 L133.57 309.34 L135.07 309.12 L136.57 308.9 L138.07 308.68 L139.57 308.46 L141.07 308.25 L142.57 308.03 L144.07 307.82 L145.57 307.61 L147.07 307.4 L148.57 307.19 L150.07 306.99 L151.56 306.79 L153.06 306.59 L154.56 306.39 L156.06 306.19 L157.56 306 L159.06 305.81 L160.56 305.62 L162.06 305.44 L163.56 305.25 L165.06 305.07 L166.56 304.9 L168.06 304.72 L169.55 304.55 L171.05 304.38 L172.55 304.22 L174.05 304.05 L175.55 303.89 L177.05 303.74 L178.55 303.59 L180.05 303.44 L181.55 303.29 L183.05 303.15 L184.55 303.01 L186.05 302.88 L187.55 302.75 L189.04 302.62 L190.54 302.5 L192.04 302.38 L193.54 302.26 L195.04 302.15 L196.54 302.04 L198.04 301.94 L199.54 301.84 L201.04 301.75 L202.54 301.66 L204.04 301.57 L205.54 301.49 L207.03 301.41 L208.53 301.34 L210.03 301.27 L211.53 301.21 L213.03 301.16 L214.53 301.1 L216.03 301.06 L217.53 301.01 L219.03 300.98 L220.53 300.94 L222.03 300.92 L223.53 300.89 L225.03 300.88 L226.52 300.87 L228.02 300.86 L229.52 300.86 L231.02 300.87 L232.52 300.88 L234.02 300.9 L235.52 300.92 L237.02 300.95 L238.52 300.99 L240.02 301.03 L241.52 301.07 L243.02 301.13 L244.52 301.18 L246.01 301.23 L247.51 301.28 L249.01 301.33 L250.51 301.38 L252.01 301.42 L253.51 301.45 L255.01 301.46 L256.51 301.47 L258.01 301.46 L259.51 301.44 L261.01 301.4 L262.51 301.34 L264 301.26 L265.5 301.16 L267 301.03 L268.5 300.88 L270 300.69 L271.5 300.48 L273 300.24 L274.5 299.96 L276 299.65 L277.5 299.3 L279 298.91 L280.5 298.48 L282 298.01 L283.49 297.49 L284.99 296.93 L286.49 296.32 L287.99 295.66 L289.49 294.95 L290.99 294.18 L292.49 293.36 L293.99 292.48 L295.49 291.55 L296.99 290.55 L298.49 289.5 L299.99 288.37 L301.48 287.19 L302.98 285.93 L304.48 284.61 L305.98 283.21 L307.48 281.74 L308.98 280.2 L310.48 278.58 L311.98 276.88 L313.48 275.1 L314.98 273.24 L316.48 271.3 L317.98 269.27 L319.48 267.15 L320.97 264.95 L322.47 262.65 L323.97 260.26 L325.47 257.78 L326.97 255.2 L328.47 252.51 L329.97 249.73 L331.47 246.84 L332.97 243.92 L334.47 241.06 L335.97 238.38 L337.47 235.9 L338.97 233.59 L340.46 231.41 L341.96 229.33 L343.46 227.35 L344.96 225.48 L346.46 223.77 L347.96 222.22 L349.46 220.87 L350.96 219.74 L352.46 218.85 L353.96 218.24 L355.46 217.92 L356.96 217.92 L358.45 218.24 L359.95 218.85 L361.45 219.73 L362.95 220.82 L364.45 222.1 L365.95 223.54 L367.45 225.1 L368.95 226.74 L370.45 228.43 L371.95 230.14 L373.45 231.84 L374.95 233.53 L376.45 235.2 L377.94 236.86 L379.44 238.51 L380.94 240.16 L382.44 241.8 L383.94 243.43 L385.44 245.07 L386.94 246.7 L388.44 248.34 L389.94 249.98 L391.44 251.62 L392.94 253.28 L394.44 254.93 L395.93 256.58 L397.43 258.19 L398.93 259.76 L400.43 261.27 L401.93 262.69 L403.43 264.02 L404.93 265.23 L406.43 266.32 L407.93 267.25 L409.43 268.03 L410.93 268.69 L412.43 269.24 L413.93 269.71 L415.42 270.11 L416.92 270.47 L418.42 270.81 L419.92 271.16 L421.42 271.53 L422.92 271.93 L424.42 272.36 L425.92 272.81 L427.42 273.27 L428.92 273.74 L430.42 274.22 L431.92 274.68 L433.42 275.13 L434.91 275.56 L436.41 275.97 L437.91 276.34 L439.41 276.67 L440.91 276.96 L442.41 277.19 L443.91 277.36 L445.41 277.46 L446.91 277.5 L448.41 277.48 L449.91 277.41 L451.41 277.32 L452.9 277.22 L454.4 277.12 L455.9 277.03 L457.4 276.98 L458.9 276.97 L460.4 277.03 L461.9 277.16 L463.4 277.37 L464.9 277.67 L466.4 278.05 L467.9 278.49 L469.4 278.98 L470.9 279.53 L472.39 280.1 L473.89 280.71 L475.39 281.33 L476.89 281.96 L478.39 282.59 L479.89 283.2 L481.39 283.8 L482.89 284.36 L484.39 284.89 L485.89 285.38 L487.39 285.85 L488.89 286.28 L490.38 286.68 L491.88 287.05 L493.38 287.39 L494.88 287.7 L496.38 287.98 L497.88 288.23 L499.38 288.46 L500.88 288.65 L502.38 288.82 L503.88 288.96 L505.38 289.08 L506.88 289.16 L508.38 289.23 L509.87 289.27 L511.37 289.28 L512.87 289.27 L514.37 289.23 L515.87 289.17 L517.37 289.09 L518.87 288.99 L520.37 288.87 L521.87 288.72 L523.37 288.55 L524.87 288.37 L526.37 288.16 L527.87 287.93 L529.36 287.69 L530.86 287.42 L532.36 287.14 L533.86 286.84 L535.36 286.54 L536.86 286.21 L538.36 285.89 L539.86 285.55 L541.36 285.21 L542.86 284.87 L544.36 284.53 L545.86 284.19 L547.35 283.86 L548.85 283.53 L550.35 283.21 L551.85 282.91 L553.35 282.61 L554.85 282.34 L556.35 282.08 L557.85 281.83 L559.35 281.6 L560.85 281.37 L562.35 281.15 L563.85 280.93 L565.35 280.71 L566.84 280.49 L568.34 280.25 L569.84 280.01 L571.34 279.75 L572.84 279.48 L574.34 279.18 L575.84 278.86 L577.34 278.51 L578.84 278.13 L580.34 277.72 L581.84 277.28 L583.34 276.81 L584.83 276.31 L586.33 275.8 L587.83 275.26 L589.33 274.71 L590.83 274.14 L592.33 273.57 L593.83 272.99 L595.33 272.4 L596.83 271.81 L598.33 271.23 L599.83 270.65 L601.33 270.08 L602.83 269.52 L604.32 268.97 L605.82 268.44 L607.32 267.93 L608.82 267.45 L610.32 266.99 L611.82 266.56 L613.32 266.16 L614.82 265.79 L616.32 265.47 L617.82 265.18 L619.32 264.92 L620.82 264.69 L622.32 264.47 L623.81 264.28 L625.31 264.09 L626.81 263.9 L628.31 263.71 L629.81 263.51 L631.31 263.3 L632.81 263.07 L634.31 262.81 L635.81 262.53 L637.31 262.21 L638.81 261.84 L640.31 261.43 L641.8 260.97 L643.3 260.45 L644.8 259.86 L646.3 259.2 L647.8 258.47 L649.3 257.66 L650.8 256.77" fill="none" stroke="#000" stroke-width="2.6" stroke-dasharray="10 4 2.5 4"/>
<path d="M85.1 610.25 L86.6 610.07 L88.09 609.88 L89.59 609.67 L91.09 609.45 L92.58 609.21 L94.08 608.96 L95.58 608.7 L97.07 608.42 L98.57 608.13 L100.07 607.83 L101.57 607.51 L103.06 607.18 L104.56 606.84 L106.06 606.49 L107.55 606.12 L109.05 605.75 L110.55 605.36 L112.04 604.96 L113.54 604.55 L115.04 604.14 L116.53 603.71 L118.03 603.27 L119.53 602.82 L121.02 602.36 L122.52 601.9 L124.02 601.43 L125.51 600.94 L127.01 600.45 L128.51 599.95 L130 599.45 L131.5 598.94 L133 598.42 L134.5 597.89 L135.99 597.36 L137.49 596.82 L138.99 596.27 L140.48 595.72 L141.98 595.17 L143.48 594.61 L144.97 594.04 L146.47 593.48 L147.97 592.9 L149.46 592.32 L150.96 591.74 L152.46 591.16 L153.95 590.57 L155.45 589.98 L156.95 589.39 L158.44 588.8 L159.94 588.2 L161.44 587.6 L162.93 587 L164.43 586.4 L165.93 585.8 L167.43 585.2 L168.92 584.6 L170.42 584 L171.92 583.39 L173.41 582.79 L174.91 582.19 L176.41 581.59 L177.9 581 L179.4 580.4 L180.9 579.81 L182.39 579.22 L183.89 578.63 L185.39 578.04 L186.88 577.46 L188.38 576.88 L189.88 576.3 L191.37 575.73 L192.87 575.16 L194.37 574.59 L195.87 574.03 L197.36 573.47 L198.86 572.91 L200.36 572.35 L201.85 571.79 L203.35 571.24 L204.85 570.68 L206.34 570.13 L207.84 569.58 L209.34 569.03 L210.83 568.48 L212.33 567.93 L213.83 567.37 L215.32 566.82 L216.82 566.27 L218.32 565.72 L219.81 565.16 L221.31 564.61 L222.81 564.05 L224.3 563.5 L225.8 562.94 L227.3 562.37 L228.8 561.81 L230.29 561.24 L231.79 560.67 L233.29 560.1 L234.78 559.52 L236.28 558.94 L237.78 558.36 L239.27 557.77 L240.77 557.18 L242.27 556.59 L243.76 555.99 L245.26 555.38 L246.76 554.77 L248.25 554.15 L249.75 553.53 L251.25 552.87 L252.74 552.2 L254.24 551.52 L255.74 550.83 L257.23 550.13 L258.73 549.43 L260.23 548.73 L261.73 548.01 L263.22 547.29 L264.72 546.56 L266.22 545.82 L267.71 545.07 L269.21 544.32 L270.71 543.55 L272.2 542.78 L273.7 541.99 L275.2 541.2 L276.69 540.4 L278.19 539.58 L279.69 538.76 L281.18 537.92 L282.68 537.08 L284.18 536.22 L285.67 535.35 L287.17 534.47 L288.67 533.57 L290.17 532.66 L291.66 531.74 L293.16 530.81 L294.66 529.86 L296.15 528.9 L297.65 527.92 L299.15 526.93 L300.64 525.93 L302.14 524.9 L303.64 523.87 L305.13 522.82 L306.63 521.75 L308.13 520.66 L309.62 519.56 L311.12 518.45 L312.62 517.33 L314.11 516.2 L315.61 515.07 L317.11 513.94 L318.6 512.82 L320.1 511.72 L321.6 510.63 L323.1 509.55 L324.59 508.5 L326.09 507.48 L327.59 506.49 L329.08 505.53 L330.58 504.6 L332.08 503.71 L333.57 502.84 L335.07 502.01 L336.57 501.21 L338.06 500.45 L339.56 499.72 L341.06 499.02 L342.55 498.36 L344.05 497.73 L345.55 497.14 L347.04 496.58 L348.54 496.06 L350.04 495.57 L351.53 495.12 L353.03 494.71 L354.53 494.34 L356.03 494 L357.52 493.73 L359.02 493.49 L360.52 493.28 L362.01 493.09 L363.51 492.93 L365.01 492.79 L366.5 492.67 L368 492.56 L369.5 492.45 L370.99 492.36 L372.49 492.26 L373.99 492.17 L375.48 492.08 L376.98 491.99 L378.48 491.91 L379.97 491.83 L381.47 491.74 L382.97 491.66 L384.47 491.58 L385.96 491.5 L387.46 491.42 L388.96 491.34 L390.45 491.26 L391.95 491.18 L393.45 491.1 L394.94 491.01 L396.44 490.93 L397.94 490.84 L399.43 490.75 L400.93 490.65 L402.43 490.55 L403.92 490.45 L405.42 490.34 L406.92 490.23 L408.41 490.11 L409.91 489.99 L411.41 489.86 L412.9 489.73 L414.4 489.59 L415.9 489.44 L417.4 489.29 L418.89 489.13 L420.39 488.96 L421.89 488.78 L423.38 488.6 L424.88 488.4 L426.38 488.2 L427.87 487.99 L429.37 487.77 L430.87 487.53 L432.36 487.29 L433.86 487.04 L435.36 486.77 L436.85 486.5 L438.35 486.22 L439.85 485.92 L441.34 485.62 L442.84 485.3 L444.34 484.98 L445.83 484.65 L447.33 484.3 L448.83 483.95 L450.33 483.58 L451.82 483.21 L453.32 482.82 L454.82 482.43 L456.31 482.03 L457.81 481.61 L459.31 481.19 L460.8 480.76 L462.3 480.31 L463.8 479.86 L465.29 479.4 L466.79 478.93 L468.29 478.45 L469.78 477.96 L471.28 477.46 L472.78 476.95 L474.27 476.43 L475.77 475.9 L477.27 475.36 L478.77 474.81 L480.26 474.26 L481.76 473.69 L483.26 473.12 L484.75 472.53 L486.25 471.94 L487.75 471.34 L489.24 470.73 L490.74 470.11 L492.24 469.48 L493.73 468.84 L495.23 468.19 L496.73 467.54 L498.22 466.87 L499.72 466.2 L501.22 465.52 L502.71 464.82 L504.21 464.12 L505.71 463.4 L507.2 462.64 L508.7 461.88 L510.2 461.11 L511.7 460.33 L513.19 459.55 L514.69 458.75 L516.19 457.95 L517.68 457.14 L519.18 456.32 L520.68 455.49 L522.17 454.66 L523.67 453.81 L525.17 452.96 L526.66 452.11 L528.16 451.24 L529.66 450.37 L531.15 449.49 L532.65 448.61 L534.15 447.72 L535.64 446.82 L537.14 445.92 L538.64 445 L540.13 444.09 L541.63 443.16 L543.13 442.23 L544.63 441.3 L546.12 440.36 L547.62 439.41 L549.12 438.46 L550.61 437.5 L552.11 436.53 L553.61 435.56 L555.1 434.59 L556.6 433.61 L558.1 432.62 L559.59 431.63 L561.09 430.64 L562.59 429.64 L564.08 428.63 L565.58 427.62 L567.08 426.61 L568.57 425.59 L570.07 424.57 L571.57 423.55 L573.07 422.52 L574.56 421.48 L576.06 420.44 L577.56 419.4 L579.05 418.36 L580.55 417.31 L582.05 416.26 L583.54 415.2 L585.04 414.14 L586.54 413.08 L588.03 412.02 L589.53 410.95 L591.03 409.88 L592.52 408.81 L594.02 407.74 L595.52 406.66 L597.01 405.58 L598.51 404.5 L600.01 403.41 L601.5 402.33 L603 401.24 L604.5 400.15 L606 399.06 L607.49 397.97 L608.99 396.87 L610.49 395.78 L611.98 394.68 L613.48 393.58 L614.98 392.48 L616.47 391.38 L617.97 390.28 L619.47 389.18 L620.96 388.08 L622.46 386.98 L623.96 385.88 L625.45 384.77 L626.95 383.67 L628.45 382.57 L629.94 381.46 L631.44 380.36 L632.94 379.26 L634.43 378.15 L635.93 377.05 L637.43 375.95 L638.93 374.85 L640.42 373.75 L641.92 372.65 L643.42 371.55 L644.91 370.46 L646.41 369.36 L647.91 368.27 L649.4 367.17 L650.9 366.08 L650.9 383.07 L649.4 384.08 L647.91 385.1 L646.41 386.11 L644.91 387.12 L643.42 388.14 L641.92 389.15 L640.42 390.17 L638.93 391.19 L637.43 392.21 L635.93 393.23 L634.43 394.25 L632.94 395.27 L631.44 396.29 L629.94 397.31 L628.45 398.33 L626.95 399.35 L625.45 400.37 L623.96 401.39 L622.46 402.41 L620.96 403.44 L619.47 404.45 L617.97 405.47 L616.47 406.49 L614.98 407.51 L613.48 408.53 L611.98 409.54 L610.49 410.56 L608.99 411.57 L607.49 412.58 L606 413.59 L604.5 414.6 L603 415.61 L601.5 416.62 L600.01 417.62 L598.51 418.62 L597.01 419.62 L595.52 420.62 L594.02 421.61 L592.52 422.61 L591.03 423.6 L589.53 424.58 L588.03 425.57 L586.54 426.55 L585.04 427.53 L583.54 428.51 L582.05 429.48 L580.55 430.45 L579.05 431.42 L577.56 432.38 L576.06 433.34 L574.56 434.29 L573.07 435.25 L571.57 436.19 L570.07 437.14 L568.57 438.08 L567.08 439.01 L565.58 439.94 L564.08 440.87 L562.59 441.79 L561.09 442.71 L559.59 443.62 L558.1 444.53 L556.6 445.44 L555.1 446.33 L553.61 447.23 L552.11 448.11 L550.61 449 L549.12 449.87 L547.62 450.74 L546.12 451.61 L544.63 452.47 L543.13 453.32 L541.63 454.17 L540.13 455.01 L538.64 455.85 L537.14 456.68 L535.64 457.5 L534.15 458.32 L532.65 459.13 L531.15 459.93 L529.66 460.72 L528.16 461.51 L526.66 462.29 L525.17 463.07 L523.67 463.84 L522.17 464.6 L520.68 465.35 L519.18 466.09 L517.68 466.83 L516.19 467.56 L514.69 468.28 L513.19 468.99 L511.7 469.7 L510.2 470.4 L508.7 471.09 L507.2 471.77 L505.71 472.44 L504.21 473.12 L502.71 473.81 L501.22 474.49 L499.72 475.16 L498.22 475.83 L496.73 476.48 L495.23 477.13 L493.73 477.76 L492.24 478.39 L490.74 479.01 L489.24 479.62 L487.75 480.22 L486.25 480.82 L484.75 481.4 L483.26 481.97 L481.76 482.54 L480.26 483.09 L478.77 483.64 L477.27 484.18 L475.77 484.7 L474.27 485.22 L472.78 485.73 L471.28 486.23 L469.78 486.72 L468.29 487.2 L466.79 487.67 L465.29 488.13 L463.8 488.58 L462.3 489.03 L460.8 489.46 L459.31 489.88 L457.81 490.3 L456.31 490.7 L454.82 491.09 L453.32 491.48 L451.82 491.85 L450.33 492.22 L448.83 492.57 L447.33 492.91 L445.83 493.25 L444.34 493.57 L442.84 493.89 L441.34 494.19 L439.85 494.49 L438.35 494.77 L436.85 495.04 L435.36 495.31 L433.86 495.56 L432.36 495.8 L430.87 496.04 L429.37 496.26 L427.87 496.47 L426.38 496.67 L424.88 496.87 L423.38 497.05 L421.89 497.22 L420.39 497.39 L418.89 497.55 L417.4 497.7 L415.9 497.84 L414.4 497.98 L412.9 498.11 L411.41 498.23 L409.91 498.35 L408.41 498.46 L406.92 498.57 L405.42 498.67 L403.92 498.77 L402.43 498.86 L400.93 498.95 L399.43 499.04 L397.94 499.12 L396.44 499.2 L394.94 499.28 L393.45 499.35 L391.95 499.42 L390.45 499.5 L388.96 499.57 L387.46 499.64 L385.96 499.71 L384.47 499.77 L382.97 499.84 L381.47 499.91 L379.97 499.99 L378.48 500.06 L376.98 500.13 L375.48 500.21 L373.99 500.29 L372.49 500.37 L370.99 500.46 L369.5 500.54 L368 500.64 L366.5 500.74 L365.01 500.85 L363.51 500.98 L362.01 501.13 L360.52 501.31 L359.02 501.51 L357.52 501.74 L356.03 502 L354.53 502.28 L353.03 502.59 L351.53 502.94 L350.04 503.33 L348.54 503.75 L347.04 504.21 L345.55 504.7 L344.05 505.23 L342.55 505.8 L341.06 506.4 L339.56 507.03 L338.06 507.7 L336.57 508.41 L335.07 509.14 L333.57 509.91 L332.08 510.71 L330.58 511.55 L329.08 512.41 L327.59 513.31 L326.09 514.24 L324.59 515.2 L323.1 516.19 L321.6 517.2 L320.1 518.23 L318.6 519.27 L317.11 520.33 L315.61 521.39 L314.11 522.46 L312.62 523.52 L311.12 524.59 L309.62 525.64 L308.13 526.68 L306.63 527.7 L305.13 528.7 L303.64 529.69 L302.14 530.67 L300.64 531.63 L299.15 532.57 L297.65 533.5 L296.15 534.41 L294.66 535.31 L293.16 536.2 L291.66 537.07 L290.17 537.93 L288.67 538.78 L287.17 539.61 L285.67 540.43 L284.18 541.24 L282.68 542.03 L281.18 542.82 L279.69 543.59 L278.19 544.35 L276.69 545.11 L275.2 545.85 L273.7 546.58 L272.2 547.3 L270.71 548.01 L269.21 548.71 L267.71 549.41 L266.22 550.09 L264.72 550.77 L263.22 551.44 L261.73 552.1 L260.23 552.75 L258.73 553.4 L257.23 554.03 L255.74 554.67 L254.24 555.29 L252.74 555.91 L251.25 556.52 L249.75 557.14 L248.25 557.78 L246.76 558.42 L245.26 559.05 L243.76 559.68 L242.27 560.3 L240.77 560.92 L239.27 561.53 L237.78 562.14 L236.28 562.74 L234.78 563.34 L233.29 563.94 L231.79 564.54 L230.29 565.13 L228.8 565.72 L227.3 566.3 L225.8 566.89 L224.3 567.47 L222.81 568.05 L221.31 568.63 L219.81 569.2 L218.32 569.78 L216.82 570.35 L215.32 570.93 L213.83 571.5 L212.33 572.07 L210.83 572.65 L209.34 573.22 L207.84 573.79 L206.34 574.37 L204.85 574.94 L203.35 575.52 L201.85 576.09 L200.36 576.67 L198.86 577.25 L197.36 577.83 L195.87 578.42 L194.37 579 L192.87 579.59 L191.37 580.18 L189.88 580.78 L188.38 581.37 L186.88 581.98 L185.39 582.58 L183.89 583.19 L182.39 583.8 L180.9 584.41 L179.4 585.03 L177.9 585.65 L176.41 586.27 L174.91 586.89 L173.41 587.51 L171.92 588.13 L170.42 588.75 L168.92 589.38 L167.43 590 L165.93 590.62 L164.43 591.25 L162.93 591.87 L161.44 592.49 L159.94 593.11 L158.44 593.73 L156.95 594.34 L155.45 594.96 L153.95 595.57 L152.46 596.18 L150.96 596.78 L149.46 597.39 L147.97 597.99 L146.47 598.58 L144.97 599.17 L143.48 599.76 L141.98 600.34 L140.48 600.92 L138.99 601.49 L137.49 602.06 L135.99 602.62 L134.5 603.17 L133 603.72 L131.5 604.26 L130 604.79 L128.51 605.32 L127.01 605.84 L125.51 606.35 L124.02 606.86 L122.52 607.35 L121.02 607.84 L119.53 608.32 L118.03 608.79 L116.53 609.25 L115.04 609.7 L113.54 610.14 L112.04 610.57 L110.55 610.99 L109.05 611.4 L107.55 611.8 L106.06 612.18 L104.56 612.56 L103.06 612.92 L101.57 613.27 L100.07 613.61 L98.57 613.93 L97.07 614.25 L95.58 614.55 L94.08 614.83 L92.58 615.1 L91.09 615.36 L89.59 615.6 L88.09 615.83 L86.6 616.05 L85.1 616.25 Z" fill="#8e8fb1" stroke="none"/>
<path d="M85.1 613.25 L86.6 613.06 L88.09 612.86 L89.59 612.64 L91.09 612.41 L92.58 612.16 L94.08 611.9 L95.58 611.62 L97.07 611.33 L98.57 611.03 L100.07 610.72 L101.57 610.39 L103.06 610.05 L104.56 609.7 L106.06 609.33 L107.55 608.96 L109.05 608.57 L110.55 608.17 L112.04 607.77 L113.54 607.35 L115.04 606.92 L116.53 606.48 L118.03 606.03 L119.53 605.57 L121.02 605.1 L122.52 604.63 L124.02 604.14 L125.51 603.65 L127.01 603.15 L128.51 602.64 L130 602.12 L131.5 601.6 L133 601.07 L134.5 600.53 L135.99 599.99 L137.49 599.44 L138.99 598.88 L140.48 598.32 L141.98 597.75 L143.48 597.18 L144.97 596.61 L146.47 596.03 L147.97 595.44 L149.46 594.86 L150.96 594.26 L152.46 593.67 L153.95 593.07 L155.45 592.47 L156.95 591.87 L158.44 591.26 L159.94 590.66 L161.44 590.05 L162.93 589.44 L164.43 588.82 L165.93 588.21 L167.43 587.6 L168.92 586.99 L170.42 586.37 L171.92 585.76 L173.41 585.15 L174.91 584.54 L176.41 583.93 L177.9 583.32 L179.4 582.72 L180.9 582.11 L182.39 581.51 L183.89 580.91 L185.39 580.31 L186.88 579.72 L188.38 579.13 L189.88 578.54 L191.37 577.96 L192.87 577.38 L194.37 576.8 L195.87 576.22 L197.36 575.65 L198.86 575.08 L200.36 574.51 L201.85 573.94 L203.35 573.38 L204.85 572.81 L206.34 572.25 L207.84 571.69 L209.34 571.12 L210.83 570.56 L212.33 570 L213.83 569.44 L215.32 568.88 L216.82 568.31 L218.32 567.75 L219.81 567.18 L221.31 566.62 L222.81 566.05 L224.3 565.48 L225.8 564.91 L227.3 564.34 L228.8 563.76 L230.29 563.19 L231.79 562.6 L233.29 562.02 L234.78 561.43 L236.28 560.84 L237.78 560.25 L239.27 559.65 L240.77 559.05 L242.27 558.44 L243.76 557.83 L245.26 557.21 L246.76 556.59 L248.25 555.97 L249.75 555.34 L251.25 554.7 L252.74 554.05 L254.24 553.4 L255.74 552.75 L257.23 552.08 L258.73 551.41 L260.23 550.74 L261.73 550.05 L263.22 549.36 L264.72 548.66 L266.22 547.96 L267.71 547.24 L269.21 546.51 L270.71 545.78 L272.2 545.04 L273.7 544.29 L275.2 543.52 L276.69 542.75 L278.19 541.97 L279.69 541.18 L281.18 540.37 L282.68 539.56 L284.18 538.73 L285.67 537.89 L287.17 537.04 L288.67 536.17 L290.17 535.3 L291.66 534.41 L293.16 533.5 L294.66 532.59 L296.15 531.66 L297.65 530.71 L299.15 529.75 L300.64 528.78 L302.14 527.79 L303.64 526.78 L305.13 525.76 L306.63 524.72 L308.13 523.67 L309.62 522.6 L311.12 521.52 L312.62 520.43 L314.11 519.33 L315.61 518.23 L317.11 517.14 L318.6 516.05 L320.1 514.97 L321.6 513.91 L323.1 512.87 L324.59 511.85 L326.09 510.86 L327.59 509.9 L329.08 508.97 L330.58 508.07 L332.08 507.21 L333.57 506.38 L335.07 505.58 L336.57 504.81 L338.06 504.08 L339.56 503.38 L341.06 502.71 L342.55 502.08 L344.05 501.48 L345.55 500.92 L347.04 500.39 L348.54 499.9 L350.04 499.45 L351.53 499.03 L353.03 498.65 L354.53 498.31 L356.03 498 L357.52 497.73 L359.02 497.5 L360.52 497.29 L362.01 497.11 L363.51 496.96 L365.01 496.82 L366.5 496.7 L368 496.6 L369.5 496.5 L370.99 496.41 L372.49 496.32 L373.99 496.23 L375.48 496.15 L376.98 496.06 L378.48 495.98 L379.97 495.91 L381.47 495.83 L382.97 495.75 L384.47 495.68 L385.96 495.6 L387.46 495.53 L388.96 495.46 L390.45 495.38 L391.95 495.3 L393.45 495.22 L394.94 495.14 L396.44 495.06 L397.94 494.98 L399.43 494.89 L400.93 494.8 L402.43 494.71 L403.92 494.61 L405.42 494.51 L406.92 494.4 L408.41 494.29 L409.91 494.17 L411.41 494.05 L412.9 493.92 L414.4 493.78 L415.9 493.64 L417.4 493.49 L418.89 493.34 L420.39 493.18 L421.89 493 L423.38 492.82 L424.88 492.63 L426.38 492.44 L427.87 492.23 L429.37 492.01 L430.87 491.78 L432.36 491.55 L433.86 491.3 L435.36 491.04 L436.85 490.77 L438.35 490.49 L439.85 490.2 L441.34 489.9 L442.84 489.6 L444.34 489.28 L445.83 488.95 L447.33 488.61 L448.83 488.26 L450.33 487.9 L451.82 487.53 L453.32 487.15 L454.82 486.76 L456.31 486.36 L457.81 485.95 L459.31 485.54 L460.8 485.11 L462.3 484.67 L463.8 484.22 L465.29 483.77 L466.79 483.3 L468.29 482.82 L469.78 482.34 L471.28 481.84 L472.78 481.34 L474.27 480.82 L475.77 480.3 L477.27 479.77 L478.77 479.23 L480.26 478.68 L481.76 478.12 L483.26 477.55 L484.75 476.97 L486.25 476.38 L487.75 475.78 L489.24 475.18 L490.74 474.56 L492.24 473.94 L493.73 473.3 L495.23 472.66 L496.73 472.01 L498.22 471.35 L499.72 470.68 L501.22 470 L502.71 469.32 L504.21 468.62 L505.71 467.92 L507.2 467.2 L508.7 466.48 L510.2 465.75 L511.7 465.02 L513.19 464.27 L514.69 463.52 L516.19 462.75 L517.68 461.98 L519.18 461.2 L520.68 460.42 L522.17 459.63 L523.67 458.82 L525.17 458.02 L526.66 457.2 L528.16 456.38 L529.66 455.55 L531.15 454.71 L532.65 453.87 L534.15 453.02 L535.64 452.16 L537.14 451.3 L538.64 450.43 L540.13 449.55 L541.63 448.67 L543.13 447.78 L544.63 446.88 L546.12 445.98 L547.62 445.08 L549.12 444.16 L550.61 443.25 L552.11 442.32 L553.61 441.39 L555.1 440.46 L556.6 439.52 L558.1 438.58 L559.59 437.63 L561.09 436.67 L562.59 435.72 L564.08 434.75 L565.58 433.78 L567.08 432.81 L568.57 431.84 L570.07 430.85 L571.57 429.87 L573.07 428.88 L574.56 427.89 L576.06 426.89 L577.56 425.89 L579.05 424.89 L580.55 423.88 L582.05 422.87 L583.54 421.85 L585.04 420.84 L586.54 419.82 L588.03 418.79 L589.53 417.77 L591.03 416.74 L592.52 415.71 L594.02 414.67 L595.52 413.64 L597.01 412.6 L598.51 411.56 L600.01 410.52 L601.5 409.47 L603 408.43 L604.5 407.38 L606 406.33 L607.49 405.28 L608.99 404.22 L610.49 403.17 L611.98 402.11 L613.48 401.06 L614.98 400 L616.47 398.94 L617.97 397.88 L619.47 396.82 L620.96 395.76 L622.46 394.7 L623.96 393.63 L625.45 392.57 L626.95 391.51 L628.45 390.45 L629.94 389.39 L631.44 388.32 L632.94 387.26 L634.43 386.2 L635.93 385.14 L637.43 384.08 L638.93 383.02 L640.42 381.96 L641.92 380.9 L643.42 379.84 L644.91 378.79 L646.41 377.73 L647.91 376.68 L649.4 375.63 L650.9 374.58" fill="none" stroke="#000" stroke-width="1.0"/>
<path d="M85.1 613.25 L86.6 613.06 L88.09 612.86 L89.59 612.64 L91.09 612.41 L92.58 612.16 L94.08 611.9 L95.58 611.62 L97.07 611.33 L98.57 611.03 L100.07 610.72 L101.57 610.39 L103.06 610.05 L104.56 609.7 L106.06 609.33 L107.55 608.96 L109.05 608.57 L110.55 608.17 L112.04 607.77 L113.54 607.35 L115.04 606.92 L116.53 606.48 L118.03 606.03 L119.53 605.57 L121.02 605.1 L122.52 604.63 L124.02 604.14 L125.51 603.65 L127.01 603.15 L128.51 602.64 L130 602.12 L131.5 601.6 L133 601.07 L134.5 600.53 L135.99 599.99 L137.49 599.44 L138.99 598.88 L140.48 598.32 L141.98 597.75 L143.48 597.18 L144.97 596.61 L146.47 596.03 L147.97 595.44 L149.46 594.86 L150.96 594.26 L152.46 593.67 L153.95 593.07 L155.45 592.47 L156.95 591.87 L158.44 591.26 L159.94 590.66 L161.44 590.05 L162.93 589.44 L164.43 588.82 L165.93 588.21 L167.43 587.6 L168.92 586.99 L170.42 586.37 L171.92 585.76 L173.41 585.15 L174.91 584.54 L176.41 583.93 L177.9 583.32 L179.4 582.72 L180.9 582.11 L182.39 581.51 L183.89 580.91 L185.39 580.31 L186.88 579.72 L188.38 579.13 L189.88 578.54 L191.37 577.96 L192.87 577.38 L194.37 576.8 L195.87 576.22 L197.36 575.65 L198.86 575.08 L200.36 574.51 L201.85 573.94 L203.35 573.38 L204.85 572.81 L206.34 572.25 L207.84 571.69 L209.34 571.12 L210.83 570.56 L212.33 570 L213.83 569.44 L215.32 568.88 L216.82 568.31 L218.32 567.75 L219.81 567.18 L221.31 566.62 L222.81 566.05 L224.3 565.48 L225.8 564.91 L227.3 564.34 L228.8 563.76 L230.29 563.19 L231.79 562.6 L233.29 562.02 L234.78 561.43 L236.28 560.84 L237.78 560.25 L239.27 559.65 L240.77 559.05 L242.27 558.44 L243.76 557.83 L245.26 557.21 L246.76 556.59 L248.25 555.97 L249.75 555.34 L251.25 554.7 L252.74 554.05 L254.24 553.4 L255.74 552.75 L257.23 552.08 L258.73 551.41 L260.23 550.74 L261.73 550.05 L263.22 549.36 L264.72 548.66 L266.22 547.96 L267.71 547.24 L269.21 546.51 L270.71 545.78 L272.2 545.04 L273.7 544.29 L275.2 543.52 L276.69 542.75 L278.19 541.97 L279.69 541.18 L281.18 540.37 L282.68 539.56 L284.18 538.73 L285.67 537.89 L287.17 537.04 L288.67 536.17 L290.17 535.3 L291.66 534.41 L293.16 533.5 L294.66 532.59 L296.15 531.66 L297.65 530.71 L299.15 529.75 L300.64 528.78 L302.14 527.79 L303.64 526.78 L305.13 525.76 L306.63 524.72 L308.13 523.67 L309.62 522.6 L311.12 521.52 L312.62 520.43 L314.11 519.33 L315.61 518.23 L317.11 517.14 L318.6 516.05 L320.1 514.97 L321.6 513.91 L323.1 512.87 L324.59 511.85 L326.09 510.86 L327.59 509.9 L329.08 508.97 L330.58 508.07 L332.08 507.21 L333.57 506.38 L335.07 505.58 L336.57 504.81 L338.06 504.08 L339.56 503.38 L341.06 502.71 L342.55 502.08 L344.05 501.48 L345.55 500.92 L347.04 500.39 L348.54 499.9 L350.04 499.45 L351.53 499.03 L353.03 498.65 L354.53 498.31 L356.03 498 L357.52 497.73 L359.02 497.5 L360.52 497.29 L362.01 497.11 L363.51 496.96 L365.01 496.82 L366.5 496.7 L368 496.6 L369.5 496.5 L370.99 496.41 L372.49 496.32 L373.99 496.23 L375.48 496.15 L376.98 496.06 L378.48 495.98 L379.97 495.91 L381.47 495.83 L382.97 495.75 L384.47 495.68 L385.96 495.6 L387.46 495.53 L388.96 495.46 L390.45 495.38 L391.95 495.3 L393.45 495.22 L394.94 495.14 L396.44 495.06 L397.94 494.98 L399.43 494.89 L400.93 494.8 L402.43 494.71 L403.92 494.61 L405.42 494.51 L406.92 494.4 L408.41 494.29 L409.91 494.17 L411.41 494.05 L412.9 493.92 L414.4 493.78 L415.9 493.64 L417.4 493.49 L418.89 493.34 L420.39 493.18 L421.89 493 L423.38 492.82 L424.88 492.63 L426.38 492.44 L427.87 492.23 L429.37 492.01 L430.87 491.78 L432.36 491.55 L433.86 491.3 L435.36 491.04 L436.85 490.77 L438.35 490.49 L439.85 490.2 L441.34 489.9 L442.84 489.6 L444.34 489.28 L445.83 488.95 L447.33 488.61 L448.83 488.26 L450.33 487.9 L451.82 487.53 L453.32 487.15 L454.82 486.76 L456.31 486.36 L457.81 485.95 L459.31 485.54 L460.8 485.11 L462.3 484.67 L463.8 484.22 L465.29 483.77 L466.79 483.3 L468.29 482.82 L469.78 482.34 L471.28 481.84 L472.78 481.34 L474.27 480.82 L475.77 480.3 L477.27 479.77 L478.77 479.23 L480.26 478.68 L481.76 478.12 L483.26 477.55 L484.75 476.97 L486.25 476.38 L487.75 475.78 L489.24 475.18 L490.74 474.56 L492.24 473.94 L493.73 473.3 L495.23 472.66 L496.73 472.01 L498.22 471.35 L499.72 470.68 L501.22 470 L502.71 469.32 L504.21 468.62 L505.71 467.92 L507.2 467.2 L508.7 466.48 L510.2 465.75 L511.7 465.02 L513.19 464.27 L514.69 463.52 L516.19 462.75 L517.68 461.98 L519.18 461.2 L520.68 460.42 L522.17 459.63 L523.67 458.82 L525.17 458.02 L526.66 457.2 L528.16 456.38 L529.66 455.55 L531.15 454.71 L532.65 453.87 L534.15 453.02 L535.64 452.16 L537.14 451.3 L538.64 450.43 L540.13 449.55 L541.63 448.67 L543.13 447.78 L544.63 446.88 L546.12 445.98 L547.62 445.08 L549.12 444.16 L550.61 443.25 L552.11 442.32 L553.61 441.39 L555.1 440.46 L556.6 439.52 L558.1 438.58 L559.59 437.63 L561.09 436.67 L562.59 435.72 L564.08 434.75 L565.58 433.78 L567.08 432.81 L568.57 431.84 L570.07 430.85 L571.57 429.87 L573.07 428.88 L574.56 427.89 L576.06 426.89 L577.56 425.89 L579.05 424.89 L580.55 423.88 L582.05 422.87 L583.54 421.85 L585.04 420.84 L586.54 419.82 L588.03 418.79 L589.53 417.77 L591.03 416.74 L592.52 415.71 L594.02 414.67 L595.52 413.64 L597.01 412.6 L598.51 411.56 L600.01 410.52 L601.5 409.47 L603 408.43 L604.5 407.38 L606 406.33 L607.49 405.28 L608.99 404.22 L610.49 403.17 L611.98 402.11 L613.48 401.06 L614.98 400 L616.47 398.94 L617.97 397.88 L619.47 396.82 L620.96 395.76 L622.46 394.7 L623.96 393.63 L625.45 392.57 L626.95 391.51 L628.45 390.45 L629.94 389.39 L631.44 388.32 L632.94 387.26 L634.43 386.2 L635.93 385.14 L637.43 384.08 L638.93 383.02 L640.42 381.96 L641.92 380.9 L643.42 379.84 L644.91 378.79 L646.41 377.73 L647.91 376.68 L649.4 375.63 L650.9 374.58" fill="none" stroke="#000" stroke-width="2" stroke-dasharray="1.8 3"/>
<path d="M85.1 615.62 L86.6 615.33 L88.1 615.04 L89.59 614.75 L91.09 614.45 L92.59 614.15 L94.09 613.84 L95.59 613.54 L97.09 613.23 L98.58 612.92 L100.08 612.61 L101.58 612.29 L103.08 611.98 L104.58 611.66 L106.07 611.34 L107.57 611.02 L109.07 610.7 L110.57 610.38 L112.07 610.06 L113.56 609.74 L115.06 609.41 L116.56 609.09 L118.06 608.77 L119.56 608.44 L121.06 608.12 L122.55 607.8 L124.05 607.47 L125.55 607.15 L127.05 606.83 L128.55 606.51 L130.04 606.19 L131.54 605.87 L133.04 605.56 L134.54 605.24 L136.04 604.93 L137.53 604.62 L139.03 604.31 L140.53 604 L142.03 603.69 L143.53 603.39 L145.03 603.09 L146.52 602.79 L148.02 602.5 L149.52 602.21 L151.02 601.92 L152.52 601.63 L154.01 601.35 L155.51 601.07 L157.01 600.8 L158.51 600.53 L160.01 600.26 L161.51 600 L163 599.74 L164.5 599.49 L166 599.24 L167.5 598.99 L169 598.76 L170.49 598.52 L171.99 598.29 L173.49 598.07 L174.99 597.85 L176.49 597.63 L177.98 597.42 L179.48 597.22 L180.98 597.02 L182.48 596.83 L183.98 596.64 L185.48 596.45 L186.97 596.28 L188.47 596.11 L189.97 595.94 L191.47 595.78 L192.97 595.62 L194.46 595.48 L195.96 595.33 L197.46 595.2 L198.96 595.07 L200.46 594.94 L201.95 594.83 L203.45 594.71 L204.95 594.61 L206.45 594.51 L207.95 594.42 L209.45 594.33 L210.94 594.25 L212.44 594.18 L213.94 594.12 L215.44 594.06 L216.94 594.01 L218.43 593.96 L219.93 593.92 L221.43 593.89 L222.93 593.87 L224.43 593.85 L225.92 593.85 L227.42 593.85 L228.92 593.85 L230.42 593.87 L231.92 593.89 L233.42 593.92 L234.91 593.95 L236.41 594 L237.91 594.05 L239.41 594.11 L240.91 594.18 L242.4 594.26 L243.9 594.34 L245.4 594.43 L246.9 594.53 L248.4 594.63 L249.9 594.74 L251.39 594.85 L252.89 594.97 L254.39 595.09 L255.89 595.22 L257.39 595.35 L258.88 595.48 L260.38 595.62 L261.88 595.76 L263.38 595.9 L264.88 596.04 L266.37 596.19 L267.87 596.34 L269.37 596.49 L270.87 596.64 L272.37 596.79 L273.87 596.94 L275.36 597.09 L276.86 597.24 L278.36 597.39 L279.86 597.54 L281.36 597.69 L282.85 597.83 L284.35 597.97 L285.85 598.11 L287.35 598.25 L288.85 598.38 L290.34 598.51 L291.84 598.64 L293.34 598.76 L294.84 598.88 L296.34 598.99 L297.84 599.09 L299.33 599.19 L300.83 599.29 L302.33 599.38 L303.83 599.46 L305.33 599.53 L306.82 599.6 L308.32 599.66 L309.82 599.71 L311.32 599.75 L312.82 599.79 L314.32 599.81 L315.81 599.83 L317.31 599.83 L318.81 599.83 L320.31 599.82 L321.81 599.8 L323.3 599.77 L324.8 599.73 L326.3 599.68 L327.8 599.62 L329.3 599.56 L330.79 599.48 L332.29 599.4 L333.79 599.3 L335.29 599.2 L336.79 599.09 L338.29 598.97 L339.78 598.84 L341.28 598.71 L342.78 598.56 L344.28 598.41 L345.78 598.24 L347.27 598.07 L348.77 597.89 L350.27 597.7 L351.77 597.51 L353.27 597.3 L354.76 597.09 L356.26 596.86 L357.76 596.63 L359.26 596.39 L360.76 596.14 L362.26 595.89 L363.75 595.62 L365.25 595.35 L366.75 595.07 L368.25 594.78 L369.75 594.48 L371.24 594.18 L372.74 593.86 L374.24 593.54 L375.74 593.21 L377.24 592.88 L378.74 592.53 L380.23 592.18 L381.73 591.81 L383.23 591.45 L384.73 591.07 L386.23 590.68 L387.72 590.29 L389.22 589.89 L390.72 589.48 L392.22 589.06 L393.72 588.64 L395.21 588.21 L396.71 587.77 L398.21 587.32 L399.71 586.86 L401.21 586.4 L402.71 585.92 L404.2 585.44 L405.7 584.96 L407.2 584.46 L408.7 583.96 L410.2 583.44 L411.69 582.92 L413.19 582.4 L414.69 581.86 L416.19 581.32 L417.69 580.76 L419.18 580.2 L420.68 579.64 L422.18 579.06 L423.68 578.47 L425.18 577.88 L426.68 577.28 L428.17 576.67 L429.67 576.06 L431.17 575.43 L432.67 574.8 L434.17 574.16 L435.66 573.51 L437.16 572.85 L438.66 572.18 L440.16 571.51 L441.66 570.83 L443.16 570.14 L444.65 569.44 L446.15 568.73 L447.65 568.02 L449.15 567.29 L450.65 566.56 L452.14 565.82 L453.64 565.07 L455.14 564.31 L456.64 563.55 L458.14 562.78 L459.63 562 L461.13 561.21 L462.63 560.4 L464.13 559.58 L465.63 558.73 L467.13 557.85 L468.62 556.93 L470.12 555.96 L471.62 554.94 L473.12 553.85 L474.62 552.7 L476.11 551.47 L477.61 550.16 L479.11 548.77 L480.61 547.29 L482.11 545.75 L483.6 544.16 L485.1 542.54 L486.6 540.89 L488.1 539.24 L489.6 537.61 L491.1 535.99 L492.59 534.42 L494.09 532.9 L495.59 531.44 L497.09 530.05 L498.59 528.71 L500.08 527.45 L501.58 526.25 L503.08 525.13 L504.58 524.08 L506.08 523.1 L507.57 522.21 L509.07 521.4 L510.57 520.67 L512.07 520.02 L513.57 519.46 L515.07 518.98 L516.56 518.57 L518.06 518.22 L519.56 517.94 L521.06 517.71 L522.56 517.54 L524.05 517.41 L525.55 517.33 L527.05 517.28 L528.55 517.27 L530.05 517.29 L531.55 517.33 L533.04 517.39 L534.54 517.46 L536.04 517.55 L537.54 517.63 L539.04 517.72 L540.53 517.81 L542.03 517.88 L543.53 517.94 L545.03 517.97 L546.53 517.99 L548.02 517.97 L549.52 517.92 L551.02 517.84 L552.52 517.7 L554.02 517.52 L555.52 517.29 L557.01 517 L558.51 516.66 L560.01 516.26 L561.51 515.82 L563.01 515.34 L564.5 514.83 L566 514.28 L567.5 513.7 L569 513.1 L570.5 512.47 L571.99 511.84 L573.49 511.19 L574.99 510.54 L576.49 509.88 L577.99 509.23 L579.49 508.58 L580.98 507.95 L582.48 507.33 L583.98 506.72 L585.48 506.12 L586.98 505.54 L588.47 504.98 L589.97 504.42 L591.47 503.88 L592.97 503.35 L594.47 502.83 L595.97 502.33 L597.46 501.83 L598.96 501.35 L600.46 500.87 L601.96 500.41 L603.46 499.95 L604.95 499.51 L606.45 499.08 L607.95 498.65 L609.45 498.23 L610.95 497.82 L612.44 497.42 L613.94 497.03 L615.44 496.64 L616.94 496.26 L618.44 495.89 L619.94 495.52 L621.43 495.16 L622.93 494.8 L624.43 494.45 L625.93 494.11 L627.43 493.77 L628.92 493.43 L630.42 493.1 L631.92 492.77 L633.42 492.44 L634.92 492.12 L636.41 491.8 L637.91 491.48 L639.41 491.17 L640.91 490.85 L642.41 490.54 L643.91 490.23 L645.4 489.92 L646.9 489.61 L648.4 489.3" fill="none" stroke="#000" stroke-width="2.6" stroke-dasharray="9 8.5"/>
<path d="M85.1 619.41 L86.6 619.32 L88.09 619.22 L89.59 619.12 L91.09 619 L92.58 618.88 L94.08 618.75 L95.58 618.62 L97.07 618.48 L98.57 618.33 L100.07 618.18 L101.57 618.02 L103.06 617.85 L104.56 617.67 L106.06 617.49 L107.55 617.31 L109.05 617.11 L110.55 616.91 L112.04 616.71 L113.54 616.5 L115.04 616.28 L116.53 616.05 L118.03 615.82 L119.53 615.59 L121.02 615.35 L122.52 615.1 L124.02 614.85 L125.51 614.59 L127.01 614.33 L128.51 614.06 L130 613.78 L131.5 613.5 L133 613.22 L134.5 612.93 L135.99 612.64 L137.49 612.34 L138.99 612.03 L140.48 611.72 L141.98 611.41 L143.48 611.09 L144.97 610.77 L146.47 610.44 L147.97 610.11 L149.46 609.77 L150.96 609.43 L152.46 609.09 L153.95 608.74 L155.45 608.39 L156.95 608.03 L158.44 607.67 L159.94 607.3 L161.44 606.94 L162.93 606.56 L164.43 606.19 L165.93 605.81 L167.43 605.43 L168.92 605.04 L170.42 604.65 L171.92 604.26 L173.41 603.86 L174.91 603.46 L176.41 603.06 L177.9 602.66 L179.4 602.25 L180.9 601.84 L182.39 601.42 L183.89 601.01 L185.39 600.59 L186.88 600.17 L188.38 599.75 L189.88 599.32 L191.37 598.89 L192.87 598.46 L194.37 598.02 L195.87 597.59 L197.36 597.15 L198.86 596.7 L200.36 596.25 L201.85 595.8 L203.35 595.35 L204.85 594.88 L206.34 594.42 L207.84 593.95 L209.34 593.48 L210.83 593 L212.33 592.52 L213.83 592.03 L215.32 591.53 L216.82 591.03 L218.32 590.53 L219.81 590.01 L221.31 589.5 L222.81 588.97 L224.3 588.44 L225.8 587.91 L227.3 587.36 L228.8 586.81 L230.29 586.25 L231.79 585.69 L233.29 585.12 L234.78 584.54 L236.28 583.95 L237.78 583.35 L239.27 582.75 L240.77 582.13 L242.27 581.51 L243.76 580.88 L245.26 580.24 L246.76 579.6 L248.25 578.94 L249.75 578.27 L251.25 577.6 L252.74 576.91 L254.24 576.22 L255.74 575.51 L257.23 574.8 L258.73 574.07 L260.23 573.33 L261.73 572.59 L263.22 571.83 L264.72 571.06 L266.22 570.28 L267.71 569.49 L269.21 568.69 L270.71 567.87 L272.2 567.05 L273.7 566.22 L275.2 565.37 L276.69 564.52 L278.19 563.65 L279.69 562.78 L281.18 561.89 L282.68 561 L284.18 560.09 L285.67 559.18 L287.17 558.26 L288.67 557.32 L290.17 556.38 L291.66 555.43 L293.16 554.47 L294.66 553.49 L296.15 552.52 L297.65 551.53 L299.15 550.53 L300.64 549.52 L302.14 548.51 L303.64 547.48 L305.13 546.45 L306.63 545.41 L308.13 544.36 L309.62 543.31 L311.12 542.24 L312.62 541.17 L314.11 540.09 L315.61 539 L317.11 537.92 L318.6 536.83 L320.1 535.75 L321.6 534.68 L323.1 533.62 L324.59 532.59 L326.09 531.57 L327.59 530.58 L329.08 529.61 L330.58 528.69 L332.08 527.79 L333.57 526.94 L335.07 526.14 L336.57 525.37 L338.06 524.66 L339.56 523.98 L341.06 523.36 L342.55 522.77 L344.05 522.23 L345.55 521.74 L347.04 521.3 L348.54 520.89 L350.04 520.54 L351.53 520.23 L353.03 519.97 L354.53 519.75 L356.03 519.58 L357.52 519.45 L359.02 519.37 L360.52 519.34 L362.01 519.36 L363.51 519.42 L365.01 519.53 L366.5 519.68 L368 519.88 L369.5 520.13 L370.99 520.43 L372.49 520.77 L373.99 521.15 L375.48 521.56 L376.98 521.99 L378.48 522.44 L379.97 522.9 L381.47 523.37 L382.97 523.83 L384.47 524.29 L385.96 524.73 L387.46 525.16 L388.96 525.57 L390.45 525.97 L391.95 526.35 L393.45 526.72 L394.94 527.08 L396.44 527.42 L397.94 527.75 L399.43 528.07 L400.93 528.39 L402.43 528.69 L403.92 528.99 L405.42 529.27 L406.92 529.56 L408.41 529.83 L409.91 530.1 L411.41 530.36 L412.9 530.63 L414.4 530.88 L415.9 531.14 L417.4 531.39 L418.89 531.65 L420.39 531.9 L421.89 532.15 L423.38 532.41 L424.88 532.66 L426.38 532.92 L427.87 533.18 L429.37 533.45 L430.87 533.72 L432.36 534 L433.86 534.28 L435.36 534.57 L436.85 534.87 L438.35 535.18 L439.85 535.49 L441.34 535.82 L442.84 536.16 L444.34 536.5 L445.83 536.87 L447.33 537.24 L448.83 537.63 L450.33 538.03 L451.82 538.45 L453.32 538.88 L454.82 539.33 L456.31 539.79 L457.81 540.28 L459.31 540.78 L460.8 541.31 L462.3 541.85 L463.8 542.42 L465.29 543 L466.79 543.61 L468.29 544.24 L469.78 544.9 L471.28 545.58 L472.78 546.28 L474.27 547.02 L475.77 547.78 L477.27 548.56 L478.77 549.38 L480.26 550.22 L481.76 551.09 L483.26 551.98 L484.75 552.89 L486.25 553.8 L487.75 554.71 L489.24 555.6 L490.74 556.47 L492.24 557.3 L493.73 558.1 L495.23 558.85 L496.73 559.53 L498.22 560.16 L499.72 560.7 L501.22 561.17 L502.71 561.57 L504.21 561.88 L505.71 562.1 L507.2 562.25 L508.7 562.3 L510.2 562.27 L511.7 562.14 L513.19 561.92 L514.69 561.63 L516.19 561.25 L517.68 560.81 L519.18 560.31 L520.68 559.74 L522.17 559.12 L523.67 558.46 L525.17 557.76 L526.66 557.02 L528.16 556.25 L529.66 555.46 L531.15 554.66 L532.65 553.84 L534.15 553.02 L535.64 552.2 L537.14 551.39 L538.64 550.59 L540.13 549.8 L541.63 549.05 L543.13 548.32 L544.63 547.63 L546.12 546.98 L547.62 546.35 L549.12 545.75 L550.61 545.18 L552.11 544.63 L553.61 544.1 L555.1 543.59 L556.6 543.1 L558.1 542.61 L559.59 542.14 L561.09 541.67 L562.59 541.2 L564.08 540.73 L565.58 540.27 L567.08 539.8 L568.57 539.32 L570.07 538.83 L571.57 538.33 L573.07 537.83 L574.56 537.31 L576.06 536.79 L577.56 536.26 L579.05 535.72 L580.55 535.18 L582.05 534.63 L583.54 534.07 L585.04 533.5 L586.54 532.93 L588.03 532.35 L589.53 531.76 L591.03 531.17 L592.52 530.58 L594.02 529.98 L595.52 529.37 L597.01 528.76 L598.51 528.14 L600.01 527.52 L601.5 526.9 L603 526.27 L604.5 525.63 L606 525 L607.49 524.36 L608.99 523.72 L610.49 523.07 L611.98 522.43 L613.48 521.78 L614.98 521.13 L616.47 520.47 L617.97 519.82 L619.47 519.17 L620.96 518.51 L622.46 517.85 L623.96 517.19 L625.45 516.54 L626.95 515.88 L628.45 515.22 L629.94 514.56 L631.44 513.91 L632.94 513.25 L634.43 512.6 L635.93 511.95 L637.43 511.29 L638.93 510.64 L640.42 510 L641.92 509.35 L643.42 508.71 L644.91 508.07 L646.41 507.44 L647.91 506.8 L649.4 506.17 L650.9 505.55" fill="none" stroke="#000" stroke-width="2.6" stroke-dasharray="10 4 2.5 4"/>
<path d="M85.1 936.88 L86.6 936.41 L88.09 935.9 L89.59 935.36 L91.09 934.78 L92.58 934.16 L94.08 933.51 L95.58 932.82 L97.07 932.1 L98.57 931.34 L100.07 930.56 L101.57 929.74 L103.06 928.9 L104.56 928.02 L106.06 927.12 L107.55 926.19 L109.05 925.24 L110.55 924.26 L112.04 923.25 L113.54 922.22 L115.04 921.17 L116.53 920.1 L118.03 919 L119.53 917.89 L121.02 916.76 L122.52 915.61 L124.02 914.44 L125.51 913.25 L127.01 912.05 L128.51 910.84 L130 909.61 L131.5 908.37 L133 907.12 L134.5 905.85 L135.99 904.58 L137.49 903.29 L138.99 902 L140.48 900.7 L141.98 899.4 L143.48 898.08 L144.97 896.77 L146.47 895.45 L147.97 894.12 L149.46 892.8 L150.96 891.46 L152.46 890.11 L153.95 888.76 L155.45 887.41 L156.95 886.07 L158.44 884.74 L159.94 883.41 L161.44 882.1 L162.93 880.79 L164.43 879.5 L165.93 878.22 L167.43 876.95 L168.92 875.7 L170.42 874.47 L171.92 873.25 L173.41 872.06 L174.91 870.88 L176.41 869.73 L177.9 868.6 L179.4 867.5 L180.9 866.42 L182.39 865.38 L183.89 864.36 L185.39 863.37 L186.88 862.41 L188.38 861.48 L189.88 860.59 L191.37 859.72 L192.87 858.88 L194.37 858.07 L195.87 857.29 L197.36 856.54 L198.86 855.81 L200.36 855.11 L201.85 854.43 L203.35 853.78 L204.85 853.16 L206.34 852.56 L207.84 851.98 L209.34 851.42 L210.83 850.88 L212.33 850.37 L213.83 849.87 L215.32 849.4 L216.82 848.94 L218.32 848.51 L219.81 848.09 L221.31 847.69 L222.81 847.3 L224.3 846.93 L225.8 846.58 L227.3 846.24 L228.8 845.91 L230.29 845.56 L231.79 845.19 L233.29 844.8 L234.78 844.39 L236.28 843.95 L237.78 843.48 L239.27 842.96 L240.77 842.4 L242.27 841.77 L243.76 841.09 L245.26 840.34 L246.76 839.5 L248.25 838.6 L249.75 837.62 L251.25 836.59 L252.74 835.49 L254.24 834.33 L255.74 833.13 L257.23 831.89 L258.73 830.6 L260.23 829.29 L261.73 827.94 L263.22 826.57 L264.72 825.18 L266.22 823.78 L267.71 822.37 L269.21 820.96 L270.71 819.55 L272.2 818.15 L273.7 816.76 L275.2 815.39 L276.69 814.04 L278.19 812.72 L279.69 811.44 L281.18 810.19 L282.68 808.98 L284.18 807.83 L285.67 806.73 L287.17 805.68 L288.67 804.67 L290.17 803.68 L291.66 802.69 L293.16 801.68 L294.66 800.64 L296.15 799.53 L297.65 798.34 L299.15 797.05 L300.64 795.63 L302.14 794.04 L303.64 792.29 L305.13 790.38 L306.63 788.32 L308.13 786.15 L309.62 783.88 L311.12 781.55 L312.62 779.17 L314.11 776.77 L315.61 774.37 L317.11 771.95 L318.6 769.47 L320.1 766.87 L321.6 764.13 L323.1 761.19 L324.59 758.03 L326.09 754.68 L327.59 751.15 L329.08 747.45 L330.58 743.6 L332.08 739.61 L333.57 735.51 L335.07 731.33 L336.57 727.13 L338.06 722.96 L339.56 718.85 L341.06 714.87 L342.55 711.05 L344.05 707.44 L345.55 704.1 L347.04 701.07 L348.54 698.4 L350.04 696.14 L351.53 694.33 L353.03 693.02 L354.53 692.29 L356.03 692.17 L357.52 692.58 L359.02 693.49 L360.52 694.83 L362.01 696.56 L363.51 698.65 L365.01 701.04 L366.5 703.69 L368 706.55 L369.5 709.57 L370.99 712.72 L372.49 715.94 L373.99 719.19 L375.48 722.42 L376.98 725.6 L378.48 728.73 L379.97 731.79 L381.47 734.78 L382.97 737.69 L384.47 740.51 L385.96 743.23 L387.46 745.84 L388.96 748.34 L390.45 750.71 L391.95 752.95 L393.45 755.06 L394.94 757.01 L396.44 758.81 L397.94 760.46 L399.43 761.96 L400.93 763.32 L402.43 764.52 L403.92 765.58 L405.42 766.53 L406.92 767.4 L408.41 768.23 L409.91 769.03 L411.41 769.81 L412.9 770.56 L414.4 771.3 L415.9 772.02 L417.4 772.71 L418.89 773.39 L420.39 774.04 L421.89 774.68 L423.38 775.29 L424.88 775.89 L426.38 776.46 L427.87 777.02 L429.37 777.55 L430.87 778.07 L432.36 778.57 L433.86 779.05 L435.36 779.51 L436.85 779.96 L438.35 780.38 L439.85 780.79 L441.34 781.18 L442.84 781.55 L444.34 781.91 L445.83 782.24 L447.33 782.56 L448.83 782.87 L450.33 783.15 L451.82 783.43 L453.32 783.68 L454.82 783.92 L456.31 784.14 L457.81 784.35 L459.31 784.54 L460.8 784.72 L462.3 784.88 L463.8 785.02 L465.29 785.15 L466.79 785.27 L468.29 785.37 L469.78 785.46 L471.28 785.53 L472.78 785.58 L474.27 785.63 L475.77 785.65 L477.27 785.67 L478.77 785.67 L480.26 785.66 L481.76 785.63 L483.26 785.6 L484.75 785.55 L486.25 785.49 L487.75 785.41 L489.24 785.33 L490.74 785.23 L492.24 785.12 L493.73 785 L495.23 784.87 L496.73 784.73 L498.22 784.57 L499.72 784.41 L501.22 784.24 L502.71 784.05 L504.21 783.86 L505.71 783.65 L507.2 783.44 L508.7 783.22 L510.2 782.99 L511.7 782.74 L513.19 782.49 L514.69 782.23 L516.19 781.97 L517.68 781.69 L519.18 781.41 L520.68 781.11 L522.17 780.81 L523.67 780.51 L525.17 780.19 L526.66 779.87 L528.16 779.53 L529.66 779.19 L531.15 778.85 L532.65 778.49 L534.15 778.13 L535.64 777.76 L537.14 777.38 L538.64 776.99 L540.13 776.59 L541.63 776.19 L543.13 775.78 L544.63 775.36 L546.12 774.93 L547.62 774.5 L549.12 774.05 L550.61 773.6 L552.11 773.14 L553.61 772.67 L555.1 772.2 L556.6 771.71 L558.1 771.22 L559.59 770.72 L561.09 770.21 L562.59 769.7 L564.08 769.17 L565.58 768.64 L567.08 768.1 L568.57 767.55 L570.07 766.99 L571.57 766.43 L573.07 765.85 L574.56 765.27 L576.06 764.68 L577.56 764.08 L579.05 763.47 L580.55 762.86 L582.05 762.23 L583.54 761.6 L585.04 760.96 L586.54 760.31 L588.03 759.66 L589.53 758.99 L591.03 758.32 L592.52 757.63 L594.02 756.94 L595.52 756.24 L597.01 755.54 L598.51 754.82 L600.01 754.1 L601.5 753.36 L603 752.62 L604.5 751.87 L606 751.11 L607.49 750.35 L608.99 749.57 L610.49 748.79 L611.98 748 L613.48 747.2 L614.98 746.39 L616.47 745.57 L617.97 744.74 L619.47 743.91 L620.96 743.06 L622.46 742.21 L623.96 741.35 L625.45 740.48 L626.95 739.6 L628.45 738.71 L629.94 737.82 L631.44 736.91 L632.94 736 L634.43 735.08 L635.93 734.15 L637.43 733.21 L638.93 732.26 L640.42 731.31 L641.92 730.34 L643.42 729.37 L644.91 728.38 L646.41 727.39 L647.91 726.39 L649.4 725.38 L650.9 724.36 L650.9 736.96 L649.4 737.96 L647.91 738.95 L646.41 739.92 L644.91 740.9 L643.42 741.86 L641.92 742.81 L640.42 743.75 L638.93 744.69 L637.43 745.62 L635.93 746.53 L634.43 747.44 L632.94 748.34 L631.44 749.23 L629.94 750.12 L628.45 750.99 L626.95 751.86 L625.45 752.71 L623.96 753.56 L622.46 754.4 L620.96 755.23 L619.47 756.05 L617.97 756.87 L616.47 757.67 L614.98 758.47 L613.48 759.26 L611.98 760.04 L610.49 760.81 L608.99 761.57 L607.49 762.32 L606 763.07 L604.5 763.81 L603 764.53 L601.5 765.25 L600.01 765.96 L598.51 766.67 L597.01 767.36 L595.52 768.05 L594.02 768.73 L592.52 769.39 L591.03 770.05 L589.53 770.71 L588.03 771.35 L586.54 771.99 L585.04 772.61 L583.54 773.23 L582.05 773.84 L580.55 774.45 L579.05 775.04 L577.56 775.63 L576.06 776.2 L574.56 776.77 L573.07 777.33 L571.57 777.88 L570.07 778.43 L568.57 778.97 L567.08 779.49 L565.58 780.01 L564.08 780.52 L562.59 781.03 L561.09 781.52 L559.59 782.01 L558.1 782.49 L556.6 782.96 L555.1 783.42 L553.61 783.88 L552.11 784.32 L550.61 784.76 L549.12 785.19 L547.62 785.61 L546.12 786.03 L544.63 786.43 L543.13 786.83 L541.63 787.22 L540.13 787.6 L538.64 787.98 L537.14 788.34 L535.64 788.7 L534.15 789.05 L532.65 789.39 L531.15 789.73 L529.66 790.05 L528.16 790.37 L526.66 790.68 L525.17 790.98 L523.67 791.28 L522.17 791.56 L520.68 791.84 L519.18 792.11 L517.68 792.38 L516.19 792.63 L514.69 792.88 L513.19 793.11 L511.7 793.34 L510.2 793.56 L508.7 793.77 L507.2 793.98 L505.71 794.17 L504.21 794.35 L502.71 794.52 L501.22 794.69 L499.72 794.84 L498.22 794.98 L496.73 795.11 L495.23 795.23 L493.73 795.34 L492.24 795.44 L490.74 795.53 L489.24 795.6 L487.75 795.67 L486.25 795.72 L484.75 795.76 L483.26 795.79 L481.76 795.8 L480.26 795.81 L478.77 795.8 L477.27 795.77 L475.77 795.74 L474.27 795.69 L472.78 795.62 L471.28 795.55 L469.78 795.46 L468.29 795.37 L466.79 795.27 L465.29 795.15 L463.8 795.02 L462.3 794.88 L460.8 794.72 L459.31 794.54 L457.81 794.35 L456.31 794.14 L454.82 793.92 L453.32 793.68 L451.82 793.43 L450.33 793.15 L448.83 792.87 L447.33 792.56 L445.83 792.24 L444.34 791.91 L442.84 791.55 L441.34 791.18 L439.85 790.79 L438.35 790.38 L436.85 789.96 L435.36 789.51 L433.86 789.05 L432.36 788.57 L430.87 788.07 L429.37 787.55 L427.87 787.02 L426.38 786.46 L424.88 785.89 L423.38 785.29 L421.89 784.68 L420.39 784.04 L418.89 783.39 L417.4 782.71 L415.9 782.02 L414.4 781.3 L412.9 780.56 L411.41 779.81 L409.91 779.03 L408.41 778.23 L406.92 777.4 L405.42 776.53 L403.92 775.58 L402.43 774.52 L400.93 773.32 L399.43 771.96 L397.94 770.46 L396.44 768.81 L394.94 767.01 L393.45 765.06 L391.95 762.95 L390.45 760.71 L388.96 758.34 L387.46 755.84 L385.96 753.23 L384.47 750.51 L382.97 747.69 L381.47 744.78 L379.97 741.79 L378.48 738.73 L376.98 735.6 L375.48 732.42 L373.99 729.19 L372.49 725.94 L370.99 722.72 L369.5 719.57 L368 716.55 L366.5 713.69 L365.01 711.04 L363.51 708.65 L362.01 706.56 L360.52 704.83 L359.02 703.49 L357.52 702.58 L356.03 702.17 L354.53 702.29 L353.03 702.93 L351.53 704.1 L350.04 705.77 L348.54 707.89 L347.04 710.43 L345.55 713.32 L344.05 716.52 L342.55 719.99 L341.06 723.67 L339.56 727.52 L338.06 731.48 L336.57 735.52 L335.07 739.58 L333.57 743.62 L332.08 747.58 L330.58 751.43 L329.08 755.14 L327.59 758.71 L326.09 762.1 L324.59 765.31 L323.1 768.32 L321.6 771.13 L320.1 773.73 L318.6 776.19 L317.11 778.54 L315.61 780.82 L314.11 783.08 L312.62 785.33 L311.12 787.58 L309.62 789.77 L308.13 791.9 L306.63 793.94 L305.13 795.86 L303.64 797.63 L302.14 799.24 L300.64 800.69 L299.15 802.02 L297.65 803.25 L296.15 804.38 L294.66 805.44 L293.16 806.43 L291.66 807.38 L290.17 808.32 L288.67 809.25 L287.17 810.2 L285.67 811.19 L284.18 812.24 L282.68 813.34 L281.18 814.49 L279.69 815.68 L278.19 816.91 L276.69 818.18 L275.2 819.47 L273.7 820.79 L272.2 822.12 L270.71 823.46 L269.21 824.82 L267.71 826.17 L266.22 827.53 L264.72 828.87 L263.22 830.2 L261.73 831.52 L260.23 832.81 L258.73 834.07 L257.23 835.3 L255.74 836.49 L254.24 837.63 L252.74 838.73 L251.25 839.77 L249.75 840.76 L248.25 841.68 L246.76 842.53 L245.26 843.3 L243.76 844 L242.27 844.63 L240.77 845.2 L239.27 845.71 L237.78 846.17 L236.28 846.58 L234.78 846.97 L233.29 847.32 L231.79 847.66 L230.29 847.98 L228.8 848.31 L227.3 848.66 L225.8 849.01 L224.3 849.37 L222.81 849.75 L221.31 850.15 L219.81 850.56 L218.32 850.99 L216.82 851.44 L215.32 851.91 L213.83 852.39 L212.33 852.9 L210.83 853.43 L209.34 853.97 L207.84 854.54 L206.34 855.13 L204.85 855.75 L203.35 856.38 L201.85 857.05 L200.36 857.73 L198.86 858.44 L197.36 859.18 L195.87 859.95 L194.37 860.74 L192.87 861.56 L191.37 862.41 L189.88 863.29 L188.38 864.19 L186.88 865.13 L185.39 866.1 L183.89 867.1 L182.39 868.13 L180.9 869.19 L179.4 870.28 L177.9 871.39 L176.41 872.53 L174.91 873.69 L173.41 874.88 L171.92 876.09 L170.42 877.31 L168.92 878.56 L167.43 879.82 L165.93 881.1 L164.43 882.39 L162.93 883.69 L161.44 885.01 L159.94 886.34 L158.44 887.67 L156.95 889.02 L155.45 890.37 L153.95 891.73 L152.46 893.09 L150.96 894.45 L149.46 895.82 L147.97 897.22 L146.47 898.61 L144.97 900 L143.48 901.38 L141.98 902.77 L140.48 904.14 L138.99 905.51 L137.49 906.87 L135.99 908.22 L134.5 909.57 L133 910.9 L131.5 912.22 L130 913.53 L128.51 914.83 L127.01 916.11 L125.51 917.38 L124.02 918.64 L122.52 919.87 L121.02 921.09 L119.53 922.3 L118.03 923.48 L116.53 924.64 L115.04 925.79 L113.54 926.91 L112.04 928 L110.55 929.08 L109.05 930.13 L107.55 931.15 L106.06 932.15 L104.56 933.12 L103.06 934.06 L101.57 934.98 L100.07 935.86 L98.57 936.72 L97.07 937.54 L95.58 938.33 L94.08 939.09 L92.58 939.81 L91.09 940.5 L89.59 941.15 L88.09 941.76 L86.6 942.34 L85.1 942.88 Z" fill="#8e8fb1" stroke="none"/>
<path d="M85.1 939.88 L86.6 939.37 L88.09 938.83 L89.59 938.25 L91.09 937.64 L92.58 936.98 L94.08 936.3 L95.58 935.57 L97.07 934.82 L98.57 934.03 L100.07 933.21 L101.57 932.36 L103.06 931.48 L104.56 930.57 L106.06 929.64 L107.55 928.67 L109.05 927.68 L110.55 926.67 L112.04 925.63 L113.54 924.56 L115.04 923.48 L116.53 922.37 L118.03 921.24 L119.53 920.09 L121.02 918.93 L122.52 917.74 L124.02 916.54 L125.51 915.32 L127.01 914.08 L128.51 912.83 L130 911.57 L131.5 910.3 L133 909.01 L134.5 907.71 L135.99 906.4 L137.49 905.08 L138.99 903.76 L140.48 902.42 L141.98 901.08 L143.48 899.73 L144.97 898.38 L146.47 897.03 L147.97 895.67 L149.46 894.31 L150.96 892.95 L152.46 891.6 L153.95 890.24 L155.45 888.89 L156.95 887.54 L158.44 886.21 L159.94 884.87 L161.44 883.55 L162.93 882.24 L164.43 880.94 L165.93 879.66 L167.43 878.38 L168.92 877.13 L170.42 875.89 L171.92 874.67 L173.41 873.47 L174.91 872.29 L176.41 871.13 L177.9 870 L179.4 868.89 L180.9 867.81 L182.39 866.75 L183.89 865.73 L185.39 864.73 L186.88 863.77 L188.38 862.84 L189.88 861.94 L191.37 861.06 L192.87 860.22 L194.37 859.41 L195.87 858.62 L197.36 857.86 L198.86 857.13 L200.36 856.42 L201.85 855.74 L203.35 855.08 L204.85 854.45 L206.34 853.84 L207.84 853.26 L209.34 852.7 L210.83 852.15 L212.33 851.63 L213.83 851.13 L215.32 850.65 L216.82 850.19 L218.32 849.75 L219.81 849.33 L221.31 848.92 L222.81 848.53 L224.3 848.15 L225.8 847.79 L227.3 847.45 L228.8 847.11 L230.29 846.77 L231.79 846.42 L233.29 846.06 L234.78 845.68 L236.28 845.27 L237.78 844.82 L239.27 844.33 L240.77 843.8 L242.27 843.2 L243.76 842.55 L245.26 841.82 L246.76 841.02 L248.25 840.14 L249.75 839.19 L251.25 838.18 L252.74 837.11 L254.24 835.98 L255.74 834.81 L257.23 833.59 L258.73 832.34 L260.23 831.05 L261.73 829.73 L263.22 828.39 L264.72 827.03 L266.22 825.65 L267.71 824.27 L269.21 822.89 L270.71 821.51 L272.2 820.14 L273.7 818.77 L275.2 817.43 L276.69 816.11 L278.19 814.82 L279.69 813.56 L281.18 812.34 L282.68 811.16 L284.18 810.03 L285.67 808.96 L287.17 807.94 L288.67 806.96 L290.17 806 L291.66 805.04 L293.16 804.06 L294.66 803.04 L296.15 801.96 L297.65 800.8 L299.15 799.54 L300.64 798.16 L302.14 796.64 L303.64 794.96 L305.13 793.12 L306.63 791.13 L308.13 789.03 L309.62 786.83 L311.12 784.56 L312.62 782.25 L314.11 779.92 L315.61 777.59 L317.11 775.24 L318.6 772.83 L320.1 770.3 L321.6 767.63 L323.1 764.76 L324.59 761.67 L326.09 758.39 L327.59 754.93 L329.08 751.3 L330.58 747.51 L332.08 743.6 L333.57 739.56 L335.07 735.46 L336.57 731.33 L338.06 727.22 L339.56 723.18 L341.06 719.27 L342.55 715.52 L344.05 711.98 L345.55 708.71 L347.04 705.75 L348.54 703.15 L350.04 700.95 L351.53 699.21 L353.03 697.97 L354.53 697.29 L356.03 697.17 L357.52 697.58 L359.02 698.49 L360.52 699.83 L362.01 701.56 L363.51 703.65 L365.01 706.04 L366.5 708.69 L368 711.55 L369.5 714.57 L370.99 717.72 L372.49 720.94 L373.99 724.19 L375.48 727.42 L376.98 730.6 L378.48 733.73 L379.97 736.79 L381.47 739.78 L382.97 742.69 L384.47 745.51 L385.96 748.23 L387.46 750.84 L388.96 753.34 L390.45 755.71 L391.95 757.95 L393.45 760.06 L394.94 762.01 L396.44 763.81 L397.94 765.46 L399.43 766.96 L400.93 768.32 L402.43 769.52 L403.92 770.58 L405.42 771.53 L406.92 772.4 L408.41 773.23 L409.91 774.03 L411.41 774.81 L412.9 775.56 L414.4 776.3 L415.9 777.02 L417.4 777.71 L418.89 778.39 L420.39 779.04 L421.89 779.68 L423.38 780.29 L424.88 780.89 L426.38 781.46 L427.87 782.02 L429.37 782.55 L430.87 783.07 L432.36 783.57 L433.86 784.05 L435.36 784.51 L436.85 784.96 L438.35 785.38 L439.85 785.79 L441.34 786.18 L442.84 786.55 L444.34 786.91 L445.83 787.24 L447.33 787.56 L448.83 787.87 L450.33 788.15 L451.82 788.43 L453.32 788.68 L454.82 788.92 L456.31 789.14 L457.81 789.35 L459.31 789.54 L460.8 789.72 L462.3 789.88 L463.8 790.02 L465.29 790.15 L466.79 790.27 L468.29 790.37 L469.78 790.46 L471.28 790.53 L472.78 790.59 L474.27 790.64 L475.77 790.67 L477.27 790.69 L478.77 790.7 L480.26 790.69 L481.76 790.67 L483.26 790.64 L484.75 790.6 L486.25 790.54 L487.75 790.47 L489.24 790.39 L490.74 790.3 L492.24 790.19 L493.73 790.08 L495.23 789.95 L496.73 789.82 L498.22 789.67 L499.72 789.51 L501.22 789.34 L502.71 789.16 L504.21 788.97 L505.71 788.77 L507.2 788.56 L508.7 788.35 L510.2 788.12 L511.7 787.88 L513.19 787.64 L514.69 787.38 L516.19 787.12 L517.68 786.85 L519.18 786.57 L520.68 786.28 L522.17 785.99 L523.67 785.68 L525.17 785.37 L526.66 785.05 L528.16 784.73 L529.66 784.39 L531.15 784.05 L532.65 783.7 L534.15 783.34 L535.64 782.97 L537.14 782.6 L538.64 782.22 L540.13 781.83 L541.63 781.43 L543.13 781.02 L544.63 780.61 L546.12 780.19 L547.62 779.75 L549.12 779.32 L550.61 778.87 L552.11 778.41 L553.61 777.95 L555.1 777.48 L556.6 777 L558.1 776.51 L559.59 776.02 L561.09 775.52 L562.59 775 L564.08 774.48 L565.58 773.96 L567.08 773.42 L568.57 772.88 L570.07 772.32 L571.57 771.76 L573.07 771.19 L574.56 770.62 L576.06 770.03 L577.56 769.44 L579.05 768.83 L580.55 768.22 L582.05 767.61 L583.54 766.98 L585.04 766.34 L586.54 765.7 L588.03 765.05 L589.53 764.39 L591.03 763.72 L592.52 763.04 L594.02 762.35 L595.52 761.66 L597.01 760.96 L598.51 760.25 L600.01 759.53 L601.5 758.8 L603 758.06 L604.5 757.32 L606 756.57 L607.49 755.8 L608.99 755.03 L610.49 754.25 L611.98 753.47 L613.48 752.67 L614.98 751.87 L616.47 751.05 L617.97 750.23 L619.47 749.4 L620.96 748.56 L622.46 747.72 L623.96 746.86 L625.45 746 L626.95 745.12 L628.45 744.24 L629.94 743.35 L631.44 742.45 L632.94 741.54 L634.43 740.62 L635.93 739.7 L637.43 738.77 L638.93 737.82 L640.42 736.87 L641.92 735.91 L643.42 734.94 L644.91 733.96 L646.41 732.98 L647.91 731.98 L649.4 730.98 L650.9 729.96" fill="none" stroke="#000" stroke-width="1.0"/>
<path d="M85.1 939.88 L86.6 939.37 L88.09 938.83 L89.59 938.25 L91.09 937.64 L92.58 936.98 L94.08 936.3 L95.58 935.57 L97.07 934.82 L98.57 934.03 L100.07 933.21 L101.57 932.36 L103.06 931.48 L104.56 930.57 L106.06 929.64 L107.55 928.67 L109.05 927.68 L110.55 926.67 L112.04 925.63 L113.54 924.56 L115.04 923.48 L116.53 922.37 L118.03 921.24 L119.53 920.09 L121.02 918.93 L122.52 917.74 L124.02 916.54 L125.51 915.32 L127.01 914.08 L128.51 912.83 L130 911.57 L131.5 910.3 L133 909.01 L134.5 907.71 L135.99 906.4 L137.49 905.08 L138.99 903.76 L140.48 902.42 L141.98 901.08 L143.48 899.73 L144.97 898.38 L146.47 897.03 L147.97 895.67 L149.46 894.31 L150.96 892.95 L152.46 891.6 L153.95 890.24 L155.45 888.89 L156.95 887.54 L158.44 886.21 L159.94 884.87 L161.44 883.55 L162.93 882.24 L164.43 880.94 L165.93 879.66 L167.43 878.38 L168.92 877.13 L170.42 875.89 L171.92 874.67 L173.41 873.47 L174.91 872.29 L176.41 871.13 L177.9 870 L179.4 868.89 L180.9 867.81 L182.39 866.75 L183.89 865.73 L185.39 864.73 L186.88 863.77 L188.38 862.84 L189.88 861.94 L191.37 861.06 L192.87 860.22 L194.37 859.41 L195.87 858.62 L197.36 857.86 L198.86 857.13 L200.36 856.42 L201.85 855.74 L203.35 855.08 L204.85 854.45 L206.34 853.84 L207.84 853.26 L209.34 852.7 L210.83 852.15 L212.33 851.63 L213.83 851.13 L215.32 850.65 L216.82 850.19 L218.32 849.75 L219.81 849.33 L221.31 848.92 L222.81 848.53 L224.3 848.15 L225.8 847.79 L227.3 847.45 L228.8 847.11 L230.29 846.77 L231.79 846.42 L233.29 846.06 L234.78 845.68 L236.28 845.27 L237.78 844.82 L239.27 844.33 L240.77 843.8 L242.27 843.2 L243.76 842.55 L245.26 841.82 L246.76 841.02 L248.25 840.14 L249.75 839.19 L251.25 838.18 L252.74 837.11 L254.24 835.98 L255.74 834.81 L257.23 833.59 L258.73 832.34 L260.23 831.05 L261.73 829.73 L263.22 828.39 L264.72 827.03 L266.22 825.65 L267.71 824.27 L269.21 822.89 L270.71 821.51 L272.2 820.14 L273.7 818.77 L275.2 817.43 L276.69 816.11 L278.19 814.82 L279.69 813.56 L281.18 812.34 L282.68 811.16 L284.18 810.03 L285.67 808.96 L287.17 807.94 L288.67 806.96 L290.17 806 L291.66 805.04 L293.16 804.06 L294.66 803.04 L296.15 801.96 L297.65 800.8 L299.15 799.54 L300.64 798.16 L302.14 796.64 L303.64 794.96 L305.13 793.12 L306.63 791.13 L308.13 789.03 L309.62 786.83 L311.12 784.56 L312.62 782.25 L314.11 779.92 L315.61 777.59 L317.11 775.24 L318.6 772.83 L320.1 770.3 L321.6 767.63 L323.1 764.76 L324.59 761.67 L326.09 758.39 L327.59 754.93 L329.08 751.3 L330.58 747.51 L332.08 743.6 L333.57 739.56 L335.07 735.46 L336.57 731.33 L338.06 727.22 L339.56 723.18 L341.06 719.27 L342.55 715.52 L344.05 711.98 L345.55 708.71 L347.04 705.75 L348.54 703.15 L350.04 700.95 L351.53 699.21 L353.03 697.97 L354.53 697.29 L356.03 697.17 L357.52 697.58 L359.02 698.49 L360.52 699.83 L362.01 701.56 L363.51 703.65 L365.01 706.04 L366.5 708.69 L368 711.55 L369.5 714.57 L370.99 717.72 L372.49 720.94 L373.99 724.19 L375.48 727.42 L376.98 730.6 L378.48 733.73 L379.97 736.79 L381.47 739.78 L382.97 742.69 L384.47 745.51 L385.96 748.23 L387.46 750.84 L388.96 753.34 L390.45 755.71 L391.95 757.95 L393.45 760.06 L394.94 762.01 L396.44 763.81 L397.94 765.46 L399.43 766.96 L400.93 768.32 L402.43 769.52 L403.92 770.58 L405.42 771.53 L406.92 772.4 L408.41 773.23 L409.91 774.03 L411.41 774.81 L412.9 775.56 L414.4 776.3 L415.9 777.02 L417.4 777.71 L418.89 778.39 L420.39 779.04 L421.89 779.68 L423.38 780.29 L424.88 780.89 L426.38 781.46 L427.87 782.02 L429.37 782.55 L430.87 783.07 L432.36 783.57 L433.86 784.05 L435.36 784.51 L436.85 784.96 L438.35 785.38 L439.85 785.79 L441.34 786.18 L442.84 786.55 L444.34 786.91 L445.83 787.24 L447.33 787.56 L448.83 787.87 L450.33 788.15 L451.82 788.43 L453.32 788.68 L454.82 788.92 L456.31 789.14 L457.81 789.35 L459.31 789.54 L460.8 789.72 L462.3 789.88 L463.8 790.02 L465.29 790.15 L466.79 790.27 L468.29 790.37 L469.78 790.46 L471.28 790.53 L472.78 790.59 L474.27 790.64 L475.77 790.67 L477.27 790.69 L478.77 790.7 L480.26 790.69 L481.76 790.67 L483.26 790.64 L484.75 790.6 L486.25 790.54 L487.75 790.47 L489.24 790.39 L490.74 790.3 L492.24 790.19 L493.73 790.08 L495.23 789.95 L496.73 789.82 L498.22 789.67 L499.72 789.51 L501.22 789.34 L502.71 789.16 L504.21 788.97 L505.71 788.77 L507.2 788.56 L508.7 788.35 L510.2 788.12 L511.7 787.88 L513.19 787.64 L514.69 787.38 L516.19 787.12 L517.68 786.85 L519.18 786.57 L520.68 786.28 L522.17 785.99 L523.67 785.68 L525.17 785.37 L526.66 785.05 L528.16 784.73 L529.66 784.39 L531.15 784.05 L532.65 783.7 L534.15 783.34 L535.64 782.97 L537.14 782.6 L538.64 782.22 L540.13 781.83 L541.63 781.43 L543.13 781.02 L544.63 780.61 L546.12 780.19 L547.62 779.75 L549.12 779.32 L550.61 778.87 L552.11 778.41 L553.61 777.95 L555.1 777.48 L556.6 777 L558.1 776.51 L559.59 776.02 L561.09 775.52 L562.59 775 L564.08 774.48 L565.58 773.96 L567.08 773.42 L568.57 772.88 L570.07 772.32 L571.57 771.76 L573.07 771.19 L574.56 770.62 L576.06 770.03 L577.56 769.44 L579.05 768.83 L580.55 768.22 L582.05 767.61 L583.54 766.98 L585.04 766.34 L586.54 765.7 L588.03 765.05 L589.53 764.39 L591.03 763.72 L592.52 763.04 L594.02 762.35 L595.52 761.66 L597.01 760.96 L598.51 760.25 L600.01 759.53 L601.5 758.8 L603 758.06 L604.5 757.32 L606 756.57 L607.49 755.8 L608.99 755.03 L610.49 754.25 L611.98 753.47 L613.48 752.67 L614.98 751.87 L616.47 751.05 L617.97 750.23 L619.47 749.4 L620.96 748.56 L622.46 747.72 L623.96 746.86 L625.45 746 L626.95 745.12 L628.45 744.24 L629.94 743.35 L631.44 742.45 L632.94 741.54 L634.43 740.62 L635.93 739.7 L637.43 738.77 L638.93 737.82 L640.42 736.87 L641.92 735.91 L643.42 734.94 L644.91 733.96 L646.41 732.98 L647.91 731.98 L649.4 730.98 L650.9 729.96" fill="none" stroke="#000" stroke-width="2" stroke-dasharray="1.8 3"/>
<path d="M85.1 940.89 L86.6 939.98 L88.1 939.07 L89.59 938.16 L91.09 937.24 L92.59 936.32 L94.09 935.39 L95.59 934.46 L97.09 933.53 L98.58 932.59 L100.08 931.65 L101.58 930.71 L103.08 929.77 L104.58 928.83 L106.07 927.88 L107.57 926.94 L109.07 925.99 L110.57 925.04 L112.07 924.09 L113.56 923.14 L115.06 922.19 L116.56 921.25 L118.06 920.3 L119.56 919.35 L121.06 918.41 L122.55 917.46 L124.05 916.52 L125.55 915.58 L127.05 914.64 L128.55 913.71 L130.04 912.78 L131.54 911.85 L133.04 910.93 L134.54 910 L136.04 909.09 L137.53 908.17 L139.03 907.27 L140.53 906.36 L142.03 905.47 L143.53 904.57 L145.03 903.69 L146.52 902.8 L148.02 901.93 L149.52 901.06 L151.02 900.2 L152.52 899.34 L154.01 898.5 L155.51 897.66 L157.01 896.83 L158.51 896 L160.01 895.19 L161.51 894.38 L163 893.58 L164.5 892.79 L166 892.02 L167.5 891.25 L169 890.49 L170.49 889.74 L171.99 889 L173.49 888.27 L174.99 887.56 L176.49 886.85 L177.98 886.16 L179.48 885.48 L180.98 884.81 L182.48 884.15 L183.98 883.5 L185.48 882.86 L186.97 882.23 L188.47 881.6 L189.97 880.99 L191.47 880.39 L192.97 879.8 L194.46 879.21 L195.96 878.63 L197.46 878.06 L198.96 877.5 L200.46 876.95 L201.95 876.4 L203.45 875.86 L204.95 875.33 L206.45 874.8 L207.95 874.28 L209.45 873.77 L210.94 873.26 L212.44 872.76 L213.94 872.26 L215.44 871.77 L216.94 871.28 L218.43 870.8 L219.93 870.32 L221.43 869.84 L222.93 869.37 L224.43 868.9 L225.92 868.43 L227.42 867.97 L228.92 867.51 L230.42 867.06 L231.92 866.6 L233.42 866.15 L234.91 865.7 L236.41 865.25 L237.91 864.8 L239.41 864.35 L240.91 863.9 L242.4 863.45 L243.9 863.01 L245.4 862.56 L246.9 862.11 L248.4 861.66 L249.9 861.21 L251.39 860.76 L252.89 860.31 L254.39 859.86 L255.89 859.41 L257.39 858.95 L258.88 858.5 L260.38 858.04 L261.88 857.59 L263.38 857.14 L264.88 856.68 L266.37 856.23 L267.87 855.78 L269.37 855.33 L270.87 854.88 L272.37 854.43 L273.87 853.98 L275.36 853.54 L276.86 853.09 L278.36 852.65 L279.86 852.21 L281.36 851.78 L282.85 851.35 L284.35 850.92 L285.85 850.49 L287.35 850.07 L288.85 849.65 L290.34 849.23 L291.84 848.82 L293.34 848.41 L294.84 848.01 L296.34 847.61 L297.84 847.22 L299.33 846.83 L300.83 846.45 L302.33 846.07 L303.83 845.7 L305.33 845.34 L306.82 844.98 L308.32 844.62 L309.82 844.28 L311.32 843.94 L312.82 843.6 L314.32 843.28 L315.81 842.96 L317.31 842.65 L318.81 842.34 L320.31 842.05 L321.81 841.76 L323.3 841.48 L324.8 841.21 L326.3 840.95 L327.8 840.69 L329.3 840.44 L330.79 840.2 L332.29 839.96 L333.79 839.72 L335.29 839.48 L336.79 839.23 L338.29 838.99 L339.78 838.74 L341.28 838.49 L342.78 838.22 L344.28 837.95 L345.78 837.67 L347.27 837.38 L348.77 837.08 L350.27 836.76 L351.77 836.43 L353.27 836.08 L354.76 835.71 L356.26 835.32 L357.76 834.91 L359.26 834.47 L360.76 834.02 L362.26 833.54 L363.75 833.07 L365.25 832.62 L366.75 832.2 L368.25 831.83 L369.75 831.54 L371.24 831.34 L372.74 831.24 L374.24 831.27 L375.74 831.44 L377.24 831.77 L378.74 832.27 L380.23 832.86 L381.73 833.5 L383.23 834.11 L384.73 834.62 L386.23 834.97 L387.72 835.1 L389.22 835.03 L390.72 834.8 L392.22 834.47 L393.72 834.1 L395.21 833.74 L396.71 833.43 L398.21 833.17 L399.71 832.96 L401.21 832.8 L402.71 832.67 L404.2 832.59 L405.7 832.54 L407.2 832.53 L408.7 832.55 L410.2 832.59 L411.69 832.66 L413.19 832.76 L414.69 832.87 L416.19 833 L417.69 833.15 L419.18 833.31 L420.68 833.47 L422.18 833.64 L423.68 833.82 L425.18 834 L426.68 834.17 L428.17 834.34 L429.67 834.5 L431.17 834.65 L432.67 834.79 L434.17 834.92 L435.66 835.04 L437.16 835.14 L438.66 835.23 L440.16 835.3 L441.66 835.36 L443.16 835.41 L444.65 835.44 L446.15 835.46 L447.65 835.46 L449.15 835.44 L450.65 835.41 L452.14 835.36 L453.64 835.29 L455.14 835.21 L456.64 835.1 L458.14 834.98 L459.63 834.84 L461.13 834.68 L462.63 834.5 L464.13 834.29 L465.63 834.07 L467.13 833.83 L468.62 833.56 L470.12 833.28 L471.62 832.98 L473.12 832.67 L474.62 832.34 L476.11 831.99 L477.61 831.64 L479.11 831.27 L480.61 830.9 L482.11 830.51 L483.6 830.12 L485.1 829.73 L486.6 829.33 L488.1 828.92 L489.6 828.52 L491.1 828.11 L492.59 827.71 L494.09 827.3 L495.59 826.9 L497.09 826.51 L498.59 826.12 L500.08 825.74 L501.58 825.36 L503.08 825 L504.58 824.65 L506.08 824.31 L507.57 823.98 L509.07 823.67 L510.57 823.37 L512.07 823.09 L513.57 822.83 L515.07 822.58 L516.56 822.35 L518.06 822.13 L519.56 821.93 L521.06 821.74 L522.56 821.55 L524.05 821.38 L525.55 821.22 L527.05 821.07 L528.55 820.93 L530.05 820.79 L531.55 820.66 L533.04 820.53 L534.54 820.41 L536.04 820.29 L537.54 820.18 L539.04 820.07 L540.53 819.96 L542.03 819.84 L543.53 819.73 L545.03 819.62 L546.53 819.51 L548.02 819.39 L549.52 819.27 L551.02 819.14 L552.52 819.01 L554.02 818.88 L555.52 818.74 L557.01 818.6 L558.51 818.46 L560.01 818.31 L561.51 818.16 L563.01 818.01 L564.5 817.86 L566 817.7 L567.5 817.54 L569 817.38 L570.5 817.21 L571.99 817.05 L573.49 816.88 L574.99 816.71 L576.49 816.54 L577.99 816.36 L579.49 816.19 L580.98 816.01 L582.48 815.84 L583.98 815.66 L585.48 815.48 L586.98 815.3 L588.47 815.12 L589.97 814.94 L591.47 814.76 L592.97 814.57 L594.47 814.39 L595.97 814.21 L597.46 814.03 L598.96 813.85 L600.46 813.66 L601.96 813.48 L603.46 813.3 L604.95 813.12 L606.45 812.94 L607.95 812.77 L609.45 812.59 L610.95 812.41 L612.44 812.24 L613.94 812.07 L615.44 811.9 L616.94 811.73 L618.44 811.56 L619.94 811.39 L621.43 811.23 L622.93 811.07 L624.43 810.91 L625.93 810.75 L627.43 810.6 L628.92 810.45 L630.42 810.3 L631.92 810.15 L633.42 810.01 L634.92 809.87 L636.41 809.74 L637.91 809.61 L639.41 809.48 L640.91 809.35 L642.41 809.23 L643.91 809.12 L645.4 809 L646.9 808.89 L648.4 808.79" fill="none" stroke="#000" stroke-width="2.6" stroke-dasharray="9 8.5"/>
<path d="M85.1 949.77 L86.6 949.92 L88.1 950.05 L89.59 950.15 L91.09 950.22 L92.59 950.28 L94.09 950.31 L95.58 950.31 L97.08 950.3 L98.58 950.26 L100.08 950.21 L101.57 950.13 L103.07 950.04 L104.57 949.92 L106.07 949.79 L107.56 949.64 L109.06 949.48 L110.56 949.29 L112.06 949.1 L113.55 948.88 L115.05 948.66 L116.55 948.41 L118.05 948.16 L119.55 947.89 L121.04 947.61 L122.54 947.32 L124.04 947.02 L125.54 946.71 L127.03 946.38 L128.53 946.05 L130.03 945.71 L131.53 945.37 L133.02 945.01 L134.52 944.65 L136.02 944.28 L137.52 943.91 L139.01 943.53 L140.51 943.15 L142.01 942.76 L143.51 942.37 L145 941.98 L146.5 941.59 L148 941.19 L149.5 940.8 L150.99 940.4 L152.49 940 L153.99 939.61 L155.49 939.22 L156.99 938.83 L158.48 938.44 L159.98 938.06 L161.48 937.67 L162.98 937.3 L164.47 936.93 L165.97 936.56 L167.47 936.21 L168.97 935.86 L170.46 935.51 L171.96 935.18 L173.46 934.85 L174.96 934.54 L176.45 934.23 L177.95 933.93 L179.45 933.65 L180.95 933.37 L182.44 933.11 L183.94 932.87 L185.44 932.63 L186.94 932.41 L188.44 932.21 L189.93 932.02 L191.43 931.85 L192.93 931.69 L194.43 931.55 L195.92 931.43 L197.42 931.32 L198.92 931.24 L200.42 931.18 L201.91 931.13 L203.41 931.11 L204.91 931.11 L206.41 931.12 L207.9 931.17 L209.4 931.23 L210.9 931.32 L212.4 931.42 L213.89 931.53 L215.39 931.65 L216.89 931.78 L218.39 931.91 L219.89 932.04 L221.38 932.16 L222.88 932.28 L224.38 932.38 L225.88 932.46 L227.37 932.53 L228.87 932.57 L230.37 932.59 L231.87 932.57 L233.36 932.52 L234.86 932.43 L236.36 932.3 L237.86 932.13 L239.35 931.91 L240.85 931.63 L242.35 931.3 L243.85 930.91 L245.34 930.46 L246.84 929.94 L248.34 929.34 L249.84 928.68 L251.34 927.96 L252.83 927.17 L254.33 926.34 L255.83 925.47 L257.33 924.56 L258.82 923.63 L260.32 922.68 L261.82 921.72 L263.32 920.75 L264.81 919.79 L266.31 918.84 L267.81 917.92 L269.31 917.02 L270.8 916.14 L272.3 915.29 L273.8 914.46 L275.3 913.65 L276.79 912.85 L278.29 912.05 L279.79 911.27 L281.29 910.48 L282.78 909.69 L284.28 908.9 L285.78 908.1 L287.28 907.28 L288.78 906.45 L290.27 905.59 L291.77 904.72 L293.27 903.81 L294.77 902.87 L296.26 901.9 L297.76 900.89 L299.26 899.84 L300.76 898.74 L302.25 897.59 L303.75 896.39 L305.25 895.14 L306.75 893.82 L308.24 892.43 L309.74 890.98 L311.24 889.46 L312.74 887.87 L314.23 886.19 L315.73 884.43 L317.23 882.56 L318.73 880.58 L320.23 878.47 L321.72 876.22 L323.22 873.81 L324.72 871.22 L326.22 868.44 L327.71 865.46 L329.21 862.26 L330.71 858.83 L332.21 855.16 L333.7 851.22 L335.2 847 L336.7 842.54 L338.2 837.99 L339.69 833.56 L341.19 829.45 L342.69 825.83 L344.19 822.89 L345.68 820.42 L347.18 817.98 L348.68 815.36 L350.18 812.95 L351.68 811.2 L353.17 810.37 L354.67 810.41 L356.17 811.2 L357.67 812.64 L359.16 814.62 L360.66 817.03 L362.16 819.76 L363.66 822.71 L365.15 825.78 L366.65 828.87 L368.15 831.96 L369.65 835.01 L371.14 837.99 L372.64 840.85 L374.14 843.57 L375.64 846.13 L377.13 848.54 L378.63 850.85 L380.13 853.1 L381.63 855.33 L383.12 857.57 L384.62 859.88 L386.12 862.29 L387.62 864.81 L389.12 867.47 L390.61 870.28 L392.11 873.2 L393.61 876.07 L395.11 878.68 L396.6 880.87 L398.1 882.65 L399.6 884.12 L401.1 885.4 L402.59 886.59 L404.09 887.72 L405.59 888.79 L407.09 889.81 L408.58 890.77 L410.08 891.69 L411.58 892.55 L413.08 893.37 L414.57 894.13 L416.07 894.86 L417.57 895.54 L419.07 896.18 L420.57 896.78 L422.06 897.34 L423.56 897.86 L425.06 898.35 L426.56 898.81 L428.05 899.23 L429.55 899.63 L431.05 900 L432.55 900.34 L434.04 900.65 L435.54 900.95 L437.04 901.22 L438.54 901.47 L440.03 901.71 L441.53 901.92 L443.03 902.13 L444.53 902.32 L446.02 902.5 L447.52 902.66 L449.02 902.83 L450.52 902.98 L452.02 903.13 L453.51 903.28 L455.01 903.42 L456.51 903.57 L458.01 903.72 L459.5 903.87 L461 904.03 L462.5 904.2 L464 904.37 L465.49 904.55 L466.99 904.75 L468.49 904.96 L469.99 905.19 L471.48 905.43 L472.98 905.69 L474.48 905.98 L475.98 906.28 L477.47 906.61 L478.97 906.97 L480.47 907.34 L481.97 907.74 L483.46 908.15 L484.96 908.57 L486.46 909 L487.96 909.43 L489.46 909.87 L490.95 910.29 L492.45 910.71 L493.95 911.11 L495.45 911.49 L496.94 911.86 L498.44 912.2 L499.94 912.5 L501.44 912.78 L502.93 913.01 L504.43 913.21 L505.93 913.36 L507.43 913.46 L508.92 913.5 L510.42 913.49 L511.92 913.43 L513.42 913.33 L514.91 913.19 L516.41 913.01 L517.91 912.81 L519.41 912.57 L520.91 912.32 L522.4 912.04 L523.9 911.75 L525.4 911.46 L526.9 911.15 L528.39 910.85 L529.89 910.55 L531.39 910.26 L532.89 909.99 L534.38 909.73 L535.88 909.49 L537.38 909.28 L538.88 909.09 L540.37 908.91 L541.87 908.75 L543.37 908.6 L544.87 908.45 L546.36 908.31 L547.86 908.17 L549.36 908.03 L550.86 907.88 L552.36 907.73 L553.85 907.55 L555.35 907.37 L556.85 907.16 L558.35 906.93 L559.84 906.67 L561.34 906.38 L562.84 906.06 L564.34 905.7 L565.83 905.3 L567.33 904.86 L568.83 904.37 L570.33 903.83 L571.82 903.25 L573.32 902.64 L574.82 901.99 L576.32 901.31 L577.81 900.6 L579.31 899.88 L580.81 899.14 L582.31 898.38 L583.81 897.62 L585.3 896.86 L586.8 896.1 L588.3 895.34 L589.8 894.6 L591.29 893.86 L592.79 893.15 L594.29 892.46 L595.79 891.8 L597.28 891.17 L598.78 890.57 L600.28 890.01 L601.78 889.49 L603.27 889 L604.77 888.53 L606.27 888.09 L607.77 887.68 L609.26 887.28 L610.76 886.9 L612.26 886.52 L613.76 886.16 L615.25 885.81 L616.75 885.45 L618.25 885.1 L619.75 884.74 L621.25 884.38 L622.74 884.01 L624.24 883.62 L625.74 883.22 L627.24 882.8 L628.73 882.35 L630.23 881.88 L631.73 881.38 L633.23 880.85 L634.72 880.29 L636.22 879.68 L637.72 879.04 L639.22 878.35 L640.71 877.61 L642.21 876.82 L643.71 875.98 L645.21 875.08 L646.7 874.12 L648.2 873.09 L649.7 872" fill="none" stroke="#000" stroke-width="2.6" stroke-dasharray="10 4 2.5 4"/>
<path d="M85.1 1260.23 L86.6 1259.12 L88.09 1257.98 L89.59 1256.82 L91.09 1255.62 L92.58 1254.4 L94.08 1253.15 L95.58 1251.87 L97.07 1250.57 L98.57 1249.24 L100.07 1247.89 L101.57 1246.52 L103.06 1245.13 L104.56 1243.71 L106.06 1242.28 L107.55 1240.84 L109.05 1239.37 L110.55 1237.89 L112.04 1236.39 L113.54 1234.89 L115.04 1233.36 L116.53 1231.83 L118.03 1230.29 L119.53 1228.73 L121.02 1227.17 L122.52 1225.6 L124.02 1224.03 L125.51 1222.45 L127.01 1220.86 L128.51 1219.28 L130 1217.69 L131.5 1216.09 L133 1214.5 L134.5 1212.91 L135.99 1211.32 L137.49 1209.74 L138.99 1208.16 L140.48 1206.58 L141.98 1205.01 L143.48 1203.44 L144.97 1201.89 L146.47 1200.34 L147.97 1198.8 L149.46 1197.28 L150.96 1195.74 L152.46 1194.21 L153.95 1192.68 L155.45 1191.18 L156.95 1189.69 L158.44 1188.22 L159.94 1186.76 L161.44 1185.33 L162.93 1183.91 L164.43 1182.52 L165.93 1181.15 L167.43 1179.8 L168.92 1178.48 L170.42 1177.18 L171.92 1175.91 L173.41 1174.67 L174.91 1173.46 L176.41 1172.28 L177.9 1171.12 L179.4 1170 L180.9 1168.9 L182.39 1167.83 L183.89 1166.78 L185.39 1165.76 L186.88 1164.76 L188.38 1163.78 L189.88 1162.82 L191.37 1161.88 L192.87 1160.96 L194.37 1160.06 L195.87 1159.18 L197.36 1158.31 L198.86 1157.45 L200.36 1156.61 L201.85 1155.78 L203.35 1154.96 L204.85 1154.15 L206.34 1153.35 L207.84 1152.56 L209.34 1151.77 L210.83 1150.99 L212.33 1150.22 L213.83 1149.44 L215.32 1148.67 L216.82 1147.91 L218.32 1147.14 L219.81 1146.37 L221.31 1145.6 L222.81 1144.82 L224.3 1144.04 L225.8 1143.26 L227.3 1142.47 L228.8 1141.67 L230.29 1140.86 L231.79 1140.01 L233.29 1139.16 L234.78 1138.29 L236.28 1137.41 L237.78 1136.51 L239.27 1135.61 L240.77 1134.69 L242.27 1133.76 L243.76 1132.82 L245.26 1131.87 L246.76 1130.91 L248.25 1129.95 L249.75 1128.97 L251.25 1127.99 L252.74 1127.01 L254.24 1126.02 L255.74 1125.03 L257.23 1124.03 L258.73 1123.03 L260.23 1122.02 L261.73 1121.02 L263.22 1120.02 L264.72 1119.01 L266.22 1118.01 L267.71 1117 L269.21 1116 L270.71 1115.01 L272.2 1114.01 L273.7 1113.03 L275.2 1112.04 L276.69 1111.07 L278.19 1110.09 L279.69 1109.12 L281.18 1108.15 L282.68 1107.17 L284.18 1106.18 L285.67 1105.18 L287.17 1104.17 L288.67 1103.14 L290.17 1102.09 L291.66 1101.02 L293.16 1099.92 L294.66 1098.8 L296.15 1097.64 L297.65 1096.44 L299.15 1095.21 L300.64 1093.92 L302.14 1092.57 L303.64 1091.17 L305.13 1089.72 L306.63 1088.22 L308.13 1086.66 L309.62 1085.04 L311.12 1083.36 L312.62 1081.62 L314.11 1079.8 L315.61 1077.92 L317.11 1075.96 L318.6 1073.92 L320.1 1071.8 L321.6 1069.6 L323.1 1067.32 L324.59 1064.94 L326.09 1062.47 L327.59 1059.9 L329.08 1057.24 L330.58 1054.48 L332.08 1051.61 L333.57 1048.66 L335.07 1045.67 L336.57 1042.66 L338.06 1039.68 L339.56 1036.75 L341.06 1033.91 L342.55 1031.19 L344.05 1028.63 L345.55 1026.26 L347.04 1024.11 L348.54 1022.22 L350.04 1020.63 L351.53 1019.36 L353.03 1018.45 L354.53 1017.96 L356.03 1017.93 L357.52 1018.3 L359.02 1019.05 L360.52 1020.13 L362.01 1021.52 L363.51 1023.17 L365.01 1025.04 L366.5 1027.11 L368 1029.33 L369.5 1031.66 L370.99 1034.08 L372.49 1036.55 L373.99 1039.02 L375.48 1041.46 L376.98 1043.85 L378.48 1046.18 L379.97 1048.45 L381.47 1050.65 L382.97 1052.78 L384.47 1054.84 L385.96 1056.84 L387.46 1058.75 L388.96 1060.59 L390.45 1062.35 L391.95 1064.03 L393.45 1065.63 L394.94 1067.15 L396.44 1068.58 L397.94 1069.94 L399.43 1071.23 L400.93 1072.44 L402.43 1073.58 L403.92 1074.66 L405.42 1075.67 L406.92 1076.61 L408.41 1077.5 L409.91 1078.33 L411.41 1079.1 L412.9 1079.83 L414.4 1080.5 L415.9 1081.12 L417.4 1081.69 L418.89 1082.22 L420.39 1082.71 L421.89 1083.16 L423.38 1083.58 L424.88 1083.96 L426.38 1084.3 L427.87 1084.62 L429.37 1084.91 L430.87 1085.18 L432.36 1085.42 L433.86 1085.64 L435.36 1085.84 L436.85 1086.03 L438.35 1086.21 L439.85 1086.37 L441.34 1086.53 L442.84 1086.68 L444.34 1086.83 L445.83 1086.97 L447.33 1087.12 L448.83 1087.26 L450.33 1087.41 L451.82 1087.55 L453.32 1087.69 L454.82 1087.84 L456.31 1087.98 L457.81 1088.12 L459.31 1088.25 L460.8 1088.39 L462.3 1088.53 L463.8 1088.66 L465.29 1088.79 L466.79 1088.92 L468.29 1089.04 L469.78 1089.17 L471.28 1089.29 L472.78 1089.41 L474.27 1089.53 L475.77 1089.64 L477.27 1089.75 L478.77 1089.86 L480.26 1089.96 L481.76 1090.06 L483.26 1090.15 L484.75 1090.24 L486.25 1090.33 L487.75 1090.4 L489.24 1090.48 L490.74 1090.55 L492.24 1090.61 L493.73 1090.67 L495.23 1090.72 L496.73 1090.76 L498.22 1090.8 L499.72 1090.83 L501.22 1090.86 L502.71 1090.88 L504.21 1090.89 L505.71 1090.89 L507.2 1090.89 L508.7 1090.87 L510.2 1090.86 L511.7 1090.83 L513.19 1090.79 L514.69 1090.75 L516.19 1090.7 L517.68 1090.64 L519.18 1090.58 L520.68 1090.51 L522.17 1090.43 L523.67 1090.35 L525.17 1090.26 L526.66 1090.16 L528.16 1090.06 L529.66 1089.95 L531.15 1089.84 L532.65 1089.73 L534.15 1089.61 L535.64 1089.48 L537.14 1089.36 L538.64 1089.22 L540.13 1089.09 L541.63 1088.95 L543.13 1088.81 L544.63 1088.66 L546.12 1088.52 L547.62 1088.37 L549.12 1088.21 L550.61 1088.06 L552.11 1087.91 L553.61 1087.75 L555.1 1087.59 L556.6 1087.44 L558.1 1087.28 L559.59 1087.12 L561.09 1086.96 L562.59 1086.8 L564.08 1086.64 L565.58 1086.48 L567.08 1086.32 L568.57 1086.16 L570.07 1085.99 L571.57 1085.82 L573.07 1085.65 L574.56 1085.48 L576.06 1085.3 L577.56 1085.12 L579.05 1084.94 L580.55 1084.75 L582.05 1084.55 L583.54 1084.35 L585.04 1084.14 L586.54 1083.93 L588.03 1083.71 L589.53 1083.49 L591.03 1083.25 L592.52 1083.01 L594.02 1082.76 L595.52 1082.5 L597.01 1082.23 L598.51 1081.96 L600.01 1081.67 L601.5 1081.37 L603 1081.06 L604.5 1080.75 L606 1080.42 L607.49 1080.07 L608.99 1079.72 L610.49 1079.35 L611.98 1078.97 L613.48 1078.58 L614.98 1078.18 L616.47 1077.75 L617.97 1077.32 L619.47 1076.87 L620.96 1076.4 L622.46 1075.92 L623.96 1075.43 L625.45 1074.91 L626.95 1074.38 L628.45 1073.84 L629.94 1073.27 L631.44 1072.69 L632.94 1072.09 L634.43 1071.47 L635.93 1070.83 L637.43 1070.17 L638.93 1069.49 L640.42 1068.79 L641.92 1068.07 L643.42 1067.33 L644.91 1066.57 L646.41 1065.79 L647.91 1064.98 L649.4 1064.15 L650.9 1063.3 L650.9 1076.6 L649.4 1077.42 L647.91 1078.22 L646.41 1079 L644.91 1079.76 L643.42 1080.49 L641.92 1081.21 L640.42 1081.9 L638.93 1082.57 L637.43 1083.22 L635.93 1083.85 L634.43 1084.47 L632.94 1085.06 L631.44 1085.63 L629.94 1086.19 L628.45 1086.73 L626.95 1087.25 L625.45 1087.75 L623.96 1088.23 L622.46 1088.7 L620.96 1089.16 L619.47 1089.6 L617.97 1090.02 L616.47 1090.43 L614.98 1090.82 L613.48 1091.2 L611.98 1091.56 L610.49 1091.92 L608.99 1092.25 L607.49 1092.58 L606 1092.9 L604.5 1093.2 L603 1093.49 L601.5 1093.77 L600.01 1094.04 L598.51 1094.3 L597.01 1094.55 L595.52 1094.79 L594.02 1095.02 L592.52 1095.24 L591.03 1095.46 L589.53 1095.67 L588.03 1095.86 L586.54 1096.06 L585.04 1096.24 L583.54 1096.42 L582.05 1096.59 L580.55 1096.76 L579.05 1096.93 L577.56 1097.08 L576.06 1097.24 L574.56 1097.39 L573.07 1097.53 L571.57 1097.68 L570.07 1097.82 L568.57 1097.95 L567.08 1098.09 L565.58 1098.22 L564.08 1098.36 L562.59 1098.49 L561.09 1098.62 L559.59 1098.75 L558.1 1098.88 L556.6 1099.01 L555.1 1099.15 L553.61 1099.28 L552.11 1099.4 L550.61 1099.53 L549.12 1099.66 L547.62 1099.78 L546.12 1099.9 L544.63 1100.02 L543.13 1100.14 L541.63 1100.25 L540.13 1100.37 L538.64 1100.47 L537.14 1100.58 L535.64 1100.68 L534.15 1100.78 L532.65 1100.87 L531.15 1100.96 L529.66 1101.04 L528.16 1101.12 L526.66 1101.19 L525.17 1101.26 L523.67 1101.32 L522.17 1101.38 L520.68 1101.43 L519.18 1101.47 L517.68 1101.51 L516.19 1101.54 L514.69 1101.56 L513.19 1101.58 L511.7 1101.59 L510.2 1101.59 L508.7 1101.58 L507.2 1101.56 L505.71 1101.54 L504.21 1101.51 L502.71 1101.47 L501.22 1101.43 L499.72 1101.37 L498.22 1101.31 L496.73 1101.25 L495.23 1101.18 L493.73 1101.1 L492.24 1101.01 L490.74 1100.92 L489.24 1100.83 L487.75 1100.73 L486.25 1100.62 L484.75 1100.51 L483.26 1100.39 L481.76 1100.27 L480.26 1100.15 L478.77 1100.02 L477.27 1099.89 L475.77 1099.75 L474.27 1099.61 L472.78 1099.46 L471.28 1099.31 L469.78 1099.17 L468.29 1099.04 L466.79 1098.92 L465.29 1098.79 L463.8 1098.66 L462.3 1098.53 L460.8 1098.39 L459.31 1098.25 L457.81 1098.12 L456.31 1097.98 L454.82 1097.84 L453.32 1097.69 L451.82 1097.55 L450.33 1097.41 L448.83 1097.26 L447.33 1097.12 L445.83 1096.97 L444.34 1096.83 L442.84 1096.68 L441.34 1096.53 L439.85 1096.37 L438.35 1096.21 L436.85 1096.03 L435.36 1095.84 L433.86 1095.64 L432.36 1095.42 L430.87 1095.18 L429.37 1094.91 L427.87 1094.62 L426.38 1094.3 L424.88 1093.96 L423.38 1093.58 L421.89 1093.16 L420.39 1092.71 L418.89 1092.22 L417.4 1091.69 L415.9 1091.12 L414.4 1090.5 L412.9 1089.83 L411.41 1089.1 L409.91 1088.33 L408.41 1087.5 L406.92 1086.61 L405.42 1085.67 L403.92 1084.66 L402.43 1083.58 L400.93 1082.44 L399.43 1081.23 L397.94 1079.94 L396.44 1078.58 L394.94 1077.15 L393.45 1075.63 L391.95 1074.03 L390.45 1072.35 L388.96 1070.59 L387.46 1068.75 L385.96 1066.84 L384.47 1064.84 L382.97 1062.78 L381.47 1060.65 L379.97 1058.45 L378.48 1056.18 L376.98 1053.85 L375.48 1051.46 L373.99 1049.02 L372.49 1046.55 L370.99 1044.08 L369.5 1041.66 L368 1039.33 L366.5 1037.11 L365.01 1035.04 L363.51 1033.17 L362.01 1031.52 L360.52 1030.13 L359.02 1029.05 L357.52 1028.3 L356.03 1027.93 L354.53 1027.96 L353.03 1028.38 L351.53 1029.18 L350.04 1030.34 L348.54 1031.82 L347.04 1033.6 L345.55 1035.63 L344.05 1037.89 L342.55 1040.34 L341.06 1042.95 L339.56 1045.68 L338.06 1048.5 L336.57 1051.37 L335.07 1054.27 L333.57 1057.15 L332.08 1059.99 L330.58 1062.74 L329.08 1065.4 L327.59 1067.95 L326.09 1070.4 L324.59 1072.76 L323.1 1075.03 L321.6 1077.2 L320.1 1079.29 L318.6 1081.3 L317.11 1083.23 L315.61 1085.08 L314.11 1086.85 L312.62 1088.55 L311.12 1090.19 L309.62 1091.76 L308.13 1093.26 L306.63 1094.71 L305.13 1096.1 L303.64 1097.44 L302.14 1098.73 L300.64 1099.97 L299.15 1101.19 L297.65 1102.38 L296.15 1103.53 L294.66 1104.64 L293.16 1105.73 L291.66 1106.78 L290.17 1107.81 L288.67 1108.82 L287.17 1109.8 L285.67 1110.77 L284.18 1111.73 L282.68 1112.67 L281.18 1113.61 L279.69 1114.54 L278.19 1115.47 L276.69 1116.4 L275.2 1117.33 L273.7 1118.27 L272.2 1119.22 L270.71 1120.17 L269.21 1121.13 L267.71 1122.08 L266.22 1123.04 L264.72 1124 L263.22 1124.96 L261.73 1125.93 L260.23 1126.89 L258.73 1127.85 L257.23 1128.81 L255.74 1129.76 L254.24 1130.71 L252.74 1131.66 L251.25 1132.6 L249.75 1133.54 L248.25 1134.47 L246.76 1135.39 L245.26 1136.31 L243.76 1137.21 L242.27 1138.11 L240.77 1138.99 L239.27 1139.87 L237.78 1140.73 L236.28 1141.59 L234.78 1142.42 L233.29 1143.25 L231.79 1144.06 L230.29 1144.87 L228.8 1145.69 L227.3 1146.5 L225.8 1147.31 L224.3 1148.11 L222.81 1148.91 L221.31 1149.71 L219.81 1150.5 L218.32 1151.28 L216.82 1152.07 L215.32 1152.86 L213.83 1153.65 L212.33 1154.44 L210.83 1155.23 L209.34 1156.03 L207.84 1156.84 L206.34 1157.65 L204.85 1158.47 L203.35 1159.29 L201.85 1160.13 L200.36 1160.98 L198.86 1161.84 L197.36 1162.72 L195.87 1163.6 L194.37 1164.51 L192.87 1165.43 L191.37 1166.37 L189.88 1167.32 L188.38 1168.3 L186.88 1169.3 L185.39 1170.31 L183.89 1171.36 L182.39 1172.42 L180.9 1173.51 L179.4 1174.63 L177.9 1175.77 L176.41 1176.95 L174.91 1178.15 L173.41 1179.38 L171.92 1180.64 L170.42 1181.93 L168.92 1183.24 L167.43 1184.58 L165.93 1185.95 L164.43 1187.34 L162.93 1188.75 L161.44 1190.18 L159.94 1191.64 L158.44 1193.11 L156.95 1194.6 L155.45 1196.11 L153.95 1197.64 L152.46 1199.18 L150.96 1200.73 L149.46 1202.31 L147.97 1203.93 L146.47 1205.56 L144.97 1207.2 L143.48 1208.84 L141.98 1210.5 L140.48 1212.16 L138.99 1213.83 L137.49 1215.51 L135.99 1217.18 L134.5 1218.87 L133 1220.55 L131.5 1222.23 L130 1223.92 L128.51 1225.6 L127.01 1227.28 L125.51 1228.96 L124.02 1230.63 L122.52 1232.3 L121.02 1233.96 L119.53 1235.61 L118.03 1237.26 L116.53 1238.89 L115.04 1240.52 L113.54 1242.13 L112.04 1243.73 L110.55 1245.32 L109.05 1246.89 L107.55 1248.45 L106.06 1249.99 L104.56 1251.51 L103.06 1253.01 L101.57 1254.5 L100.07 1255.96 L98.57 1257.4 L97.07 1258.82 L95.58 1260.22 L94.08 1261.59 L92.58 1262.93 L91.09 1264.25 L89.59 1265.53 L88.09 1266.79 L86.6 1268.02 L85.1 1269.22 Z" fill="#8e8fb1" stroke="none"/>
<path d="M85.1 1264.72 L86.6 1263.57 L88.09 1262.39 L89.59 1261.18 L91.09 1259.93 L92.58 1258.66 L94.08 1257.37 L95.58 1256.04 L97.07 1254.69 L98.57 1253.32 L100.07 1251.93 L101.57 1250.51 L103.06 1249.07 L104.56 1247.61 L106.06 1246.14 L107.55 1244.64 L109.05 1243.13 L110.55 1241.6 L112.04 1240.06 L113.54 1238.51 L115.04 1236.94 L116.53 1235.36 L118.03 1233.77 L119.53 1232.17 L121.02 1230.56 L122.52 1228.95 L124.02 1227.33 L125.51 1225.7 L127.01 1224.07 L128.51 1222.44 L130 1220.8 L131.5 1219.16 L133 1217.53 L134.5 1215.89 L135.99 1214.25 L137.49 1212.62 L138.99 1210.99 L140.48 1209.37 L141.98 1207.75 L143.48 1206.14 L144.97 1204.54 L146.47 1202.95 L147.97 1201.37 L149.46 1199.8 L150.96 1198.24 L152.46 1196.69 L153.95 1195.16 L155.45 1193.64 L156.95 1192.14 L158.44 1190.66 L159.94 1189.2 L161.44 1187.75 L162.93 1186.33 L164.43 1184.93 L165.93 1183.55 L167.43 1182.19 L168.92 1180.86 L170.42 1179.56 L171.92 1178.28 L173.41 1177.03 L174.91 1175.8 L176.41 1174.61 L177.9 1173.45 L179.4 1172.31 L180.9 1171.21 L182.39 1170.12 L183.89 1169.07 L185.39 1168.04 L186.88 1167.03 L188.38 1166.04 L189.88 1165.07 L191.37 1164.12 L192.87 1163.2 L194.37 1162.29 L195.87 1161.39 L197.36 1160.51 L198.86 1159.65 L200.36 1158.8 L201.85 1157.96 L203.35 1157.13 L204.85 1156.31 L206.34 1155.5 L207.84 1154.7 L209.34 1153.9 L210.83 1153.11 L212.33 1152.33 L213.83 1151.55 L215.32 1150.77 L216.82 1149.99 L218.32 1149.21 L219.81 1148.43 L221.31 1147.65 L222.81 1146.87 L224.3 1146.08 L225.8 1145.29 L227.3 1144.49 L228.8 1143.68 L230.29 1142.86 L231.79 1142.04 L233.29 1141.2 L234.78 1140.36 L236.28 1139.5 L237.78 1138.62 L239.27 1137.74 L240.77 1136.84 L242.27 1135.93 L243.76 1135.01 L245.26 1134.09 L246.76 1133.15 L248.25 1132.21 L249.75 1131.26 L251.25 1130.3 L252.74 1129.33 L254.24 1128.37 L255.74 1127.39 L257.23 1126.42 L258.73 1125.44 L260.23 1124.46 L261.73 1123.47 L263.22 1122.49 L264.72 1121.51 L266.22 1120.52 L267.71 1119.54 L269.21 1118.56 L270.71 1117.59 L272.2 1116.62 L273.7 1115.65 L275.2 1114.69 L276.69 1113.73 L278.19 1112.78 L279.69 1111.83 L281.18 1110.88 L282.68 1109.92 L284.18 1108.95 L285.67 1107.98 L287.17 1106.99 L288.67 1105.98 L290.17 1104.95 L291.66 1103.9 L293.16 1102.82 L294.66 1101.72 L296.15 1100.58 L297.65 1099.41 L299.15 1098.2 L300.64 1096.95 L302.14 1095.65 L303.64 1094.31 L305.13 1092.91 L306.63 1091.47 L308.13 1089.96 L309.62 1088.4 L311.12 1086.78 L312.62 1085.09 L314.11 1083.33 L315.61 1081.5 L317.11 1079.59 L318.6 1077.61 L320.1 1075.55 L321.6 1073.4 L323.1 1071.17 L324.59 1068.85 L326.09 1066.44 L327.59 1063.93 L329.08 1061.32 L330.58 1058.61 L332.08 1055.8 L333.57 1052.91 L335.07 1049.97 L336.57 1047.02 L338.06 1044.09 L339.56 1041.21 L341.06 1038.43 L342.55 1035.76 L344.05 1033.26 L345.55 1030.94 L347.04 1028.85 L348.54 1027.02 L350.04 1025.48 L351.53 1024.27 L353.03 1023.42 L354.53 1022.96 L356.03 1022.93 L357.52 1023.3 L359.02 1024.05 L360.52 1025.13 L362.01 1026.52 L363.51 1028.17 L365.01 1030.04 L366.5 1032.11 L368 1034.33 L369.5 1036.66 L370.99 1039.08 L372.49 1041.55 L373.99 1044.02 L375.48 1046.46 L376.98 1048.85 L378.48 1051.18 L379.97 1053.45 L381.47 1055.65 L382.97 1057.78 L384.47 1059.84 L385.96 1061.84 L387.46 1063.75 L388.96 1065.59 L390.45 1067.35 L391.95 1069.03 L393.45 1070.63 L394.94 1072.15 L396.44 1073.58 L397.94 1074.94 L399.43 1076.23 L400.93 1077.44 L402.43 1078.58 L403.92 1079.66 L405.42 1080.67 L406.92 1081.61 L408.41 1082.5 L409.91 1083.33 L411.41 1084.1 L412.9 1084.83 L414.4 1085.5 L415.9 1086.12 L417.4 1086.69 L418.89 1087.22 L420.39 1087.71 L421.89 1088.16 L423.38 1088.58 L424.88 1088.96 L426.38 1089.3 L427.87 1089.62 L429.37 1089.91 L430.87 1090.18 L432.36 1090.42 L433.86 1090.64 L435.36 1090.84 L436.85 1091.03 L438.35 1091.21 L439.85 1091.37 L441.34 1091.53 L442.84 1091.68 L444.34 1091.83 L445.83 1091.97 L447.33 1092.12 L448.83 1092.26 L450.33 1092.41 L451.82 1092.55 L453.32 1092.69 L454.82 1092.84 L456.31 1092.98 L457.81 1093.12 L459.31 1093.25 L460.8 1093.39 L462.3 1093.53 L463.8 1093.66 L465.29 1093.79 L466.79 1093.92 L468.29 1094.04 L469.78 1094.17 L471.28 1094.29 L472.78 1094.4 L474.27 1094.52 L475.77 1094.63 L477.27 1094.73 L478.77 1094.84 L480.26 1094.93 L481.76 1095.03 L483.26 1095.12 L484.75 1095.2 L486.25 1095.28 L487.75 1095.36 L489.24 1095.43 L490.74 1095.49 L492.24 1095.55 L493.73 1095.6 L495.23 1095.65 L496.73 1095.69 L498.22 1095.72 L499.72 1095.75 L501.22 1095.77 L502.71 1095.78 L504.21 1095.79 L505.71 1095.79 L507.2 1095.78 L508.7 1095.77 L510.2 1095.74 L511.7 1095.71 L513.19 1095.67 L514.69 1095.63 L516.19 1095.57 L517.68 1095.51 L519.18 1095.44 L520.68 1095.37 L522.17 1095.29 L523.67 1095.2 L525.17 1095.1 L526.66 1095 L528.16 1094.9 L529.66 1094.79 L531.15 1094.67 L532.65 1094.56 L534.15 1094.43 L535.64 1094.3 L537.14 1094.17 L538.64 1094.03 L540.13 1093.89 L541.63 1093.75 L543.13 1093.61 L544.63 1093.46 L546.12 1093.31 L547.62 1093.15 L549.12 1093 L550.61 1092.84 L552.11 1092.68 L553.61 1092.52 L555.1 1092.36 L556.6 1092.2 L558.1 1092.03 L559.59 1091.87 L561.09 1091.71 L562.59 1091.54 L564.08 1091.38 L565.58 1091.22 L567.08 1091.05 L568.57 1090.88 L570.07 1090.71 L571.57 1090.54 L573.07 1090.37 L574.56 1090.19 L576.06 1090.01 L577.56 1089.82 L579.05 1089.64 L580.55 1089.44 L582.05 1089.24 L583.54 1089.04 L585.04 1088.83 L586.54 1088.61 L588.03 1088.39 L589.53 1088.16 L591.03 1087.92 L592.52 1087.67 L594.02 1087.42 L595.52 1087.15 L597.01 1086.88 L598.51 1086.6 L600.01 1086.31 L601.5 1086.01 L603 1085.7 L604.5 1085.37 L606 1085.04 L607.49 1084.69 L608.99 1084.34 L610.49 1083.97 L611.98 1083.58 L613.48 1083.19 L614.98 1082.77 L616.47 1082.35 L617.97 1081.91 L619.47 1081.46 L620.96 1080.99 L622.46 1080.5 L623.96 1080 L625.45 1079.48 L626.95 1078.95 L628.45 1078.4 L629.94 1077.83 L631.44 1077.24 L632.94 1076.64 L634.43 1076.01 L635.93 1075.37 L637.43 1074.71 L638.93 1074.02 L640.42 1073.32 L641.92 1072.6 L643.42 1071.85 L644.91 1071.09 L646.41 1070.3 L647.91 1069.49 L649.4 1068.65 L650.9 1067.8" fill="none" stroke="#000" stroke-width="1.0"/>
<path d="M85.1 1264.72 L86.6 1263.57 L88.09 1262.39 L89.59 1261.18 L91.09 1259.93 L92.58 1258.66 L94.08 1257.37 L95.58 1256.04 L97.07 1254.69 L98.57 1253.32 L100.07 1251.93 L101.57 1250.51 L103.06 1249.07 L104.56 1247.61 L106.06 1246.14 L107.55 1244.64 L109.05 1243.13 L110.55 1241.6 L112.04 1240.06 L113.54 1238.51 L115.04 1236.94 L116.53 1235.36 L118.03 1233.77 L119.53 1232.17 L121.02 1230.56 L122.52 1228.95 L124.02 1227.33 L125.51 1225.7 L127.01 1224.07 L128.51 1222.44 L130 1220.8 L131.5 1219.16 L133 1217.53 L134.5 1215.89 L135.99 1214.25 L137.49 1212.62 L138.99 1210.99 L140.48 1209.37 L141.98 1207.75 L143.48 1206.14 L144.97 1204.54 L146.47 1202.95 L147.97 1201.37 L149.46 1199.8 L150.96 1198.24 L152.46 1196.69 L153.95 1195.16 L155.45 1193.64 L156.95 1192.14 L158.44 1190.66 L159.94 1189.2 L161.44 1187.75 L162.93 1186.33 L164.43 1184.93 L165.93 1183.55 L167.43 1182.19 L168.92 1180.86 L170.42 1179.56 L171.92 1178.28 L173.41 1177.03 L174.91 1175.8 L176.41 1174.61 L177.9 1173.45 L179.4 1172.31 L180.9 1171.21 L182.39 1170.12 L183.89 1169.07 L185.39 1168.04 L186.88 1167.03 L188.38 1166.04 L189.88 1165.07 L191.37 1164.12 L192.87 1163.2 L194.37 1162.29 L195.87 1161.39 L197.36 1160.51 L198.86 1159.65 L200.36 1158.8 L201.85 1157.96 L203.35 1157.13 L204.85 1156.31 L206.34 1155.5 L207.84 1154.7 L209.34 1153.9 L210.83 1153.11 L212.33 1152.33 L213.83 1151.55 L215.32 1150.77 L216.82 1149.99 L218.32 1149.21 L219.81 1148.43 L221.31 1147.65 L222.81 1146.87 L224.3 1146.08 L225.8 1145.29 L227.3 1144.49 L228.8 1143.68 L230.29 1142.86 L231.79 1142.04 L233.29 1141.2 L234.78 1140.36 L236.28 1139.5 L237.78 1138.62 L239.27 1137.74 L240.77 1136.84 L242.27 1135.93 L243.76 1135.01 L245.26 1134.09 L246.76 1133.15 L248.25 1132.21 L249.75 1131.26 L251.25 1130.3 L252.74 1129.33 L254.24 1128.37 L255.74 1127.39 L257.23 1126.42 L258.73 1125.44 L260.23 1124.46 L261.73 1123.47 L263.22 1122.49 L264.72 1121.51 L266.22 1120.52 L267.71 1119.54 L269.21 1118.56 L270.71 1117.59 L272.2 1116.62 L273.7 1115.65 L275.2 1114.69 L276.69 1113.73 L278.19 1112.78 L279.69 1111.83 L281.18 1110.88 L282.68 1109.92 L284.18 1108.95 L285.67 1107.98 L287.17 1106.99 L288.67 1105.98 L290.17 1104.95 L291.66 1103.9 L293.16 1102.82 L294.66 1101.72 L296.15 1100.58 L297.65 1099.41 L299.15 1098.2 L300.64 1096.95 L302.14 1095.65 L303.64 1094.31 L305.13 1092.91 L306.63 1091.47 L308.13 1089.96 L309.62 1088.4 L311.12 1086.78 L312.62 1085.09 L314.11 1083.33 L315.61 1081.5 L317.11 1079.59 L318.6 1077.61 L320.1 1075.55 L321.6 1073.4 L323.1 1071.17 L324.59 1068.85 L326.09 1066.44 L327.59 1063.93 L329.08 1061.32 L330.58 1058.61 L332.08 1055.8 L333.57 1052.91 L335.07 1049.97 L336.57 1047.02 L338.06 1044.09 L339.56 1041.21 L341.06 1038.43 L342.55 1035.76 L344.05 1033.26 L345.55 1030.94 L347.04 1028.85 L348.54 1027.02 L350.04 1025.48 L351.53 1024.27 L353.03 1023.42 L354.53 1022.96 L356.03 1022.93 L357.52 1023.3 L359.02 1024.05 L360.52 1025.13 L362.01 1026.52 L363.51 1028.17 L365.01 1030.04 L366.5 1032.11 L368 1034.33 L369.5 1036.66 L370.99 1039.08 L372.49 1041.55 L373.99 1044.02 L375.48 1046.46 L376.98 1048.85 L378.48 1051.18 L379.97 1053.45 L381.47 1055.65 L382.97 1057.78 L384.47 1059.84 L385.96 1061.84 L387.46 1063.75 L388.96 1065.59 L390.45 1067.35 L391.95 1069.03 L393.45 1070.63 L394.94 1072.15 L396.44 1073.58 L397.94 1074.94 L399.43 1076.23 L400.93 1077.44 L402.43 1078.58 L403.92 1079.66 L405.42 1080.67 L406.92 1081.61 L408.41 1082.5 L409.91 1083.33 L411.41 1084.1 L412.9 1084.83 L414.4 1085.5 L415.9 1086.12 L417.4 1086.69 L418.89 1087.22 L420.39 1087.71 L421.89 1088.16 L423.38 1088.58 L424.88 1088.96 L426.38 1089.3 L427.87 1089.62 L429.37 1089.91 L430.87 1090.18 L432.36 1090.42 L433.86 1090.64 L435.36 1090.84 L436.85 1091.03 L438.35 1091.21 L439.85 1091.37 L441.34 1091.53 L442.84 1091.68 L444.34 1091.83 L445.83 1091.97 L447.33 1092.12 L448.83 1092.26 L450.33 1092.41 L451.82 1092.55 L453.32 1092.69 L454.82 1092.84 L456.31 1092.98 L457.81 1093.12 L459.31 1093.25 L460.8 1093.39 L462.3 1093.53 L463.8 1093.66 L465.29 1093.79 L466.79 1093.92 L468.29 1094.04 L469.78 1094.17 L471.28 1094.29 L472.78 1094.4 L474.27 1094.52 L475.77 1094.63 L477.27 1094.73 L478.77 1094.84 L480.26 1094.93 L481.76 1095.03 L483.26 1095.12 L484.75 1095.2 L486.25 1095.28 L487.75 1095.36 L489.24 1095.43 L490.74 1095.49 L492.24 1095.55 L493.73 1095.6 L495.23 1095.65 L496.73 1095.69 L498.22 1095.72 L499.72 1095.75 L501.22 1095.77 L502.71 1095.78 L504.21 1095.79 L505.71 1095.79 L507.2 1095.78 L508.7 1095.77 L510.2 1095.74 L511.7 1095.71 L513.19 1095.67 L514.69 1095.63 L516.19 1095.57 L517.68 1095.51 L519.18 1095.44 L520.68 1095.37 L522.17 1095.29 L523.67 1095.2 L525.17 1095.1 L526.66 1095 L528.16 1094.9 L529.66 1094.79 L531.15 1094.67 L532.65 1094.56 L534.15 1094.43 L535.64 1094.3 L537.14 1094.17 L538.64 1094.03 L540.13 1093.89 L541.63 1093.75 L543.13 1093.61 L544.63 1093.46 L546.12 1093.31 L547.62 1093.15 L549.12 1093 L550.61 1092.84 L552.11 1092.68 L553.61 1092.52 L555.1 1092.36 L556.6 1092.2 L558.1 1092.03 L559.59 1091.87 L561.09 1091.71 L562.59 1091.54 L564.08 1091.38 L565.58 1091.22 L567.08 1091.05 L568.57 1090.88 L570.07 1090.71 L571.57 1090.54 L573.07 1090.37 L574.56 1090.19 L576.06 1090.01 L577.56 1089.82 L579.05 1089.64 L580.55 1089.44 L582.05 1089.24 L583.54 1089.04 L585.04 1088.83 L586.54 1088.61 L588.03 1088.39 L589.53 1088.16 L591.03 1087.92 L592.52 1087.67 L594.02 1087.42 L595.52 1087.15 L597.01 1086.88 L598.51 1086.6 L600.01 1086.31 L601.5 1086.01 L603 1085.7 L604.5 1085.37 L606 1085.04 L607.49 1084.69 L608.99 1084.34 L610.49 1083.97 L611.98 1083.58 L613.48 1083.19 L614.98 1082.77 L616.47 1082.35 L617.97 1081.91 L619.47 1081.46 L620.96 1080.99 L622.46 1080.5 L623.96 1080 L625.45 1079.48 L626.95 1078.95 L628.45 1078.4 L629.94 1077.83 L631.44 1077.24 L632.94 1076.64 L634.43 1076.01 L635.93 1075.37 L637.43 1074.71 L638.93 1074.02 L640.42 1073.32 L641.92 1072.6 L643.42 1071.85 L644.91 1071.09 L646.41 1070.3 L647.91 1069.49 L649.4 1068.65 L650.9 1067.8" fill="none" stroke="#000" stroke-width="2" stroke-dasharray="1.8 3"/>
<path d="M85.1 1263.43 L86.6 1262.21 L88.1 1260.92 L89.59 1259.55 L91.09 1258.11 L92.59 1256.61 L94.09 1255.05 L95.59 1253.45 L97.09 1251.8 L98.58 1250.12 L100.08 1248.42 L101.58 1246.69 L103.08 1244.95 L104.58 1243.19 L106.07 1241.44 L107.57 1239.69 L109.07 1237.96 L110.57 1236.24 L112.07 1234.55 L113.56 1232.89 L115.06 1231.27 L116.56 1229.69 L118.06 1228.17 L119.56 1226.7 L121.06 1225.27 L122.55 1223.89 L124.05 1222.54 L125.55 1221.22 L127.05 1219.91 L128.55 1218.62 L130.04 1217.32 L131.54 1216.03 L133.04 1214.72 L134.54 1213.39 L136.04 1212.04 L137.53 1210.66 L139.03 1209.23 L140.53 1207.77 L142.03 1206.29 L143.53 1204.78 L145.03 1203.27 L146.52 1201.77 L148.02 1200.27 L149.52 1198.79 L151.02 1197.34 L152.52 1195.93 L154.01 1194.56 L155.51 1193.25 L157.01 1192 L158.51 1190.81 L160.01 1189.68 L161.51 1188.6 L163 1187.57 L164.5 1186.59 L166 1185.66 L167.5 1184.77 L169 1183.91 L170.49 1183.09 L171.99 1182.31 L173.49 1181.55 L174.99 1180.82 L176.49 1180.11 L177.98 1179.43 L179.48 1178.76 L180.98 1178.12 L182.48 1177.49 L183.98 1176.87 L185.48 1176.27 L186.97 1175.68 L188.47 1175.1 L189.97 1174.53 L191.47 1173.96 L192.97 1173.4 L194.46 1172.84 L195.96 1172.28 L197.46 1171.72 L198.96 1171.16 L200.46 1170.59 L201.95 1170.02 L203.45 1169.44 L204.95 1168.86 L206.45 1168.28 L207.95 1167.69 L209.45 1167.09 L210.94 1166.5 L212.44 1165.89 L213.94 1165.29 L215.44 1164.69 L216.94 1164.08 L218.43 1163.47 L219.93 1162.86 L221.43 1162.25 L222.93 1161.65 L224.43 1161.04 L225.92 1160.43 L227.42 1159.82 L228.92 1159.22 L230.42 1158.61 L231.92 1158.01 L233.42 1157.41 L234.91 1156.82 L236.41 1156.23 L237.91 1155.64 L239.41 1155.05 L240.91 1154.48 L242.4 1153.9 L243.9 1153.34 L245.4 1152.77 L246.9 1152.22 L248.4 1151.67 L249.9 1151.13 L251.39 1150.6 L252.89 1150.07 L254.39 1149.55 L255.89 1149.04 L257.39 1148.53 L258.88 1148.02 L260.38 1147.52 L261.88 1147.01 L263.38 1146.51 L264.88 1146.01 L266.37 1145.5 L267.87 1144.99 L269.37 1144.48 L270.87 1143.97 L272.37 1143.44 L273.87 1142.91 L275.36 1142.38 L276.86 1141.83 L278.36 1141.28 L279.86 1140.71 L281.36 1140.15 L282.85 1139.57 L284.35 1139 L285.85 1138.42 L287.35 1137.83 L288.85 1137.25 L290.34 1136.66 L291.84 1136.08 L293.34 1135.5 L294.84 1134.92 L296.34 1134.34 L297.84 1133.77 L299.33 1133.21 L300.83 1132.65 L302.33 1132.1 L303.83 1131.56 L305.33 1131.03 L306.82 1130.51 L308.32 1130 L309.82 1129.51 L311.32 1129.03 L312.82 1128.56 L314.32 1128.11 L315.81 1127.68 L317.31 1127.26 L318.81 1126.87 L320.31 1126.49 L321.81 1126.14 L323.3 1125.8 L324.8 1125.5 L326.3 1125.21 L327.8 1124.95 L329.3 1124.71 L330.79 1124.51 L332.29 1124.33 L333.79 1124.18 L335.29 1124.06 L336.79 1123.97 L338.29 1123.91 L339.78 1123.89 L341.28 1123.88 L342.78 1123.88 L344.28 1123.86 L345.78 1123.82 L347.27 1123.73 L348.77 1123.57 L350.27 1123.35 L351.77 1123.03 L353.27 1122.6 L354.76 1122.05 L356.26 1121.4 L357.76 1120.68 L359.26 1119.91 L360.76 1119.13 L362.26 1118.35 L363.75 1117.61 L365.25 1116.94 L366.75 1116.36 L368.25 1115.9 L369.75 1115.58 L371.24 1115.43 L372.74 1115.45 L374.24 1115.59 L375.74 1115.84 L377.24 1116.18 L378.74 1116.57 L380.23 1116.99 L381.73 1117.41 L383.23 1117.81 L384.73 1118.17 L386.23 1118.45 L387.72 1118.64 L389.22 1118.71 L390.72 1118.68 L392.22 1118.56 L393.72 1118.37 L395.21 1118.13 L396.71 1117.85 L398.21 1117.54 L399.71 1117.23 L401.21 1116.93 L402.71 1116.66 L404.2 1116.43 L405.7 1116.25 L407.2 1116.16 L408.7 1116.15 L410.2 1116.23 L411.69 1116.39 L413.19 1116.62 L414.69 1116.9 L416.19 1117.23 L417.69 1117.6 L419.18 1117.99 L420.68 1118.4 L422.18 1118.81 L423.68 1119.22 L425.18 1119.61 L426.68 1119.98 L428.17 1120.31 L429.67 1120.6 L431.17 1120.85 L432.67 1121.06 L434.17 1121.24 L435.66 1121.39 L437.16 1121.52 L438.66 1121.62 L440.16 1121.71 L441.66 1121.78 L443.16 1121.83 L444.65 1121.88 L446.15 1121.92 L447.65 1121.95 L449.15 1121.99 L450.65 1122.03 L452.14 1122.08 L453.64 1122.14 L455.14 1122.21 L456.64 1122.29 L458.14 1122.4 L459.63 1122.53 L461.13 1122.69 L462.63 1122.87 L464.13 1123.07 L465.63 1123.3 L467.13 1123.54 L468.62 1123.8 L470.12 1124.07 L471.62 1124.34 L473.12 1124.62 L474.62 1124.9 L476.11 1125.18 L477.61 1125.45 L479.11 1125.72 L480.61 1125.97 L482.11 1126.21 L483.6 1126.44 L485.1 1126.64 L486.6 1126.82 L488.1 1126.98 L489.6 1127.11 L491.1 1127.23 L492.59 1127.32 L494.09 1127.4 L495.59 1127.46 L497.09 1127.51 L498.59 1127.54 L500.08 1127.56 L501.58 1127.56 L503.08 1127.56 L504.58 1127.54 L506.08 1127.52 L507.57 1127.49 L509.07 1127.46 L510.57 1127.42 L512.07 1127.38 L513.57 1127.33 L515.07 1127.29 L516.56 1127.24 L518.06 1127.19 L519.56 1127.13 L521.06 1127.07 L522.56 1127.01 L524.05 1126.95 L525.55 1126.88 L527.05 1126.82 L528.55 1126.75 L530.05 1126.68 L531.55 1126.6 L533.04 1126.53 L534.54 1126.45 L536.04 1126.37 L537.54 1126.3 L539.04 1126.21 L540.53 1126.13 L542.03 1126.05 L543.53 1125.96 L545.03 1125.88 L546.53 1125.79 L548.02 1125.7 L549.52 1125.61 L551.02 1125.52 L552.52 1125.43 L554.02 1125.34 L555.52 1125.24 L557.01 1125.15 L558.51 1125.06 L560.01 1124.96 L561.51 1124.86 L563.01 1124.77 L564.5 1124.67 L566 1124.57 L567.5 1124.48 L569 1124.38 L570.5 1124.28 L571.99 1124.18 L573.49 1124.08 L574.99 1123.98 L576.49 1123.88 L577.99 1123.78 L579.49 1123.67 L580.98 1123.57 L582.48 1123.47 L583.98 1123.37 L585.48 1123.26 L586.98 1123.16 L588.47 1123.06 L589.97 1122.96 L591.47 1122.85 L592.97 1122.75 L594.47 1122.65 L595.97 1122.54 L597.46 1122.44 L598.96 1122.34 L600.46 1122.23 L601.96 1122.13 L603.46 1122.03 L604.95 1121.92 L606.45 1121.82 L607.95 1121.72 L609.45 1121.62 L610.95 1121.51 L612.44 1121.41 L613.94 1121.31 L615.44 1121.21 L616.94 1121.11 L618.44 1121.01 L619.94 1120.91 L621.43 1120.81 L622.93 1120.71 L624.43 1120.61 L625.93 1120.51 L627.43 1120.42 L628.92 1120.32 L630.42 1120.23 L631.92 1120.13 L633.42 1120.04 L634.92 1119.94 L636.41 1119.85 L637.91 1119.76 L639.41 1119.66 L640.91 1119.57 L642.41 1119.48 L643.91 1119.4 L645.4 1119.31 L646.9 1119.22 L648.4 1119.13" fill="none" stroke="#000" stroke-width="2.6" stroke-dasharray="9 8.5"/>
<path d="M85.1 1290.28 L86.6 1290.36 L88.09 1290.42 L89.59 1290.47 L91.09 1290.52 L92.58 1290.56 L94.08 1290.58 L95.58 1290.6 L97.07 1290.61 L98.57 1290.62 L100.07 1290.61 L101.57 1290.6 L103.06 1290.57 L104.56 1290.54 L106.06 1290.5 L107.55 1290.46 L109.05 1290.4 L110.55 1290.34 L112.04 1290.27 L113.54 1290.19 L115.04 1290.11 L116.53 1290.02 L118.03 1289.92 L119.53 1289.81 L121.02 1289.7 L122.52 1289.58 L124.02 1289.45 L125.51 1289.32 L127.01 1289.18 L128.51 1289.03 L130 1288.88 L131.5 1288.72 L133 1288.55 L134.5 1288.38 L135.99 1288.2 L137.49 1288.02 L138.99 1287.83 L140.48 1287.64 L141.98 1287.44 L143.48 1287.23 L144.97 1287.02 L146.47 1286.8 L147.97 1286.58 L149.46 1286.36 L150.96 1286.13 L152.46 1285.89 L153.95 1285.65 L155.45 1285.4 L156.95 1285.15 L158.44 1284.9 L159.94 1284.64 L161.44 1284.37 L162.93 1284.11 L164.43 1283.84 L165.93 1283.56 L167.43 1283.28 L168.92 1283 L170.42 1282.71 L171.92 1282.42 L173.41 1282.13 L174.91 1281.83 L176.41 1281.53 L177.9 1281.23 L179.4 1280.92 L180.9 1280.61 L182.39 1280.3 L183.89 1279.98 L185.39 1279.67 L186.88 1279.35 L188.38 1279.02 L189.88 1278.7 L191.37 1278.37 L192.87 1278.04 L194.37 1277.71 L195.87 1277.38 L197.36 1277.04 L198.86 1276.71 L200.36 1276.37 L201.85 1276.03 L203.35 1275.69 L204.85 1275.34 L206.34 1275 L207.84 1274.66 L209.34 1274.31 L210.83 1273.96 L212.33 1273.61 L213.83 1273.27 L215.32 1272.92 L216.82 1272.57 L218.32 1272.22 L219.81 1271.87 L221.31 1271.52 L222.81 1271.17 L224.3 1270.82 L225.8 1270.47 L227.3 1270.12 L228.8 1269.77 L230.29 1269.42 L231.79 1269.07 L233.29 1268.72 L234.78 1268.37 L236.28 1268.03 L237.78 1267.68 L239.27 1267.33 L240.77 1266.99 L242.27 1266.65 L243.76 1266.3 L245.26 1265.96 L246.76 1265.62 L248.25 1265.27 L249.75 1264.93 L251.25 1264.59 L252.74 1264.25 L254.24 1263.91 L255.74 1263.56 L257.23 1263.22 L258.73 1262.88 L260.23 1262.53 L261.73 1262.19 L263.22 1261.85 L264.72 1261.5 L266.22 1261.16 L267.71 1260.81 L269.21 1260.46 L270.71 1260.11 L272.2 1259.77 L273.7 1259.42 L275.2 1259.06 L276.69 1258.71 L278.19 1258.36 L279.69 1258 L281.18 1257.64 L282.68 1257.29 L284.18 1256.93 L285.67 1256.56 L287.17 1256.2 L288.67 1255.83 L290.17 1255.47 L291.66 1255.1 L293.16 1254.72 L294.66 1254.33 L296.15 1253.93 L297.65 1253.5 L299.15 1253.04 L300.64 1252.54 L302.14 1252 L303.64 1251.41 L305.13 1250.76 L306.63 1250.06 L308.13 1249.28 L309.62 1248.43 L311.12 1247.5 L312.62 1246.49 L314.11 1245.38 L315.61 1244.17 L317.11 1242.86 L318.6 1241.43 L320.1 1239.88 L321.6 1238.19 L323.1 1236.36 L324.59 1234.37 L326.09 1232.22 L327.59 1229.88 L329.08 1227.36 L330.58 1224.64 L332.08 1221.8 L333.57 1218.9 L335.07 1216.02 L336.57 1213.17 L338.06 1210.37 L339.56 1207.62 L341.06 1204.95 L342.55 1202.35 L344.05 1199.85 L345.55 1197.45 L347.04 1195.22 L348.54 1193.28 L350.04 1191.72 L351.53 1190.66 L353.03 1190.22 L354.53 1190.49 L356.03 1191.58 L357.52 1193.39 L359.02 1195.72 L360.52 1198.37 L362.01 1201.11 L363.51 1203.77 L365.01 1206.29 L366.5 1208.68 L368 1210.95 L369.5 1213.13 L370.99 1215.21 L372.49 1217.23 L373.99 1219.19 L375.48 1221.11 L376.98 1223.01 L378.48 1224.89 L379.97 1226.77 L381.47 1228.67 L382.97 1230.57 L384.47 1232.47 L385.96 1234.36 L387.46 1236.22 L388.96 1238.04 L390.45 1239.81 L391.95 1241.52 L393.45 1243.17 L394.94 1244.72 L396.44 1246.19 L397.94 1247.58 L399.43 1248.88 L400.93 1250.11 L402.43 1251.26 L403.92 1252.33 L405.42 1253.33 L406.92 1254.26 L408.41 1255.12 L409.91 1255.91 L411.41 1256.65 L412.9 1257.32 L414.4 1257.93 L415.9 1258.49 L417.4 1258.99 L418.89 1259.44 L420.39 1259.85 L421.89 1260.2 L423.38 1260.51 L424.88 1260.78 L426.38 1261.01 L427.87 1261.21 L429.37 1261.37 L430.87 1261.49 L432.36 1261.59 L433.86 1261.65 L435.36 1261.7 L436.85 1261.72 L438.35 1261.72 L439.85 1261.7 L441.34 1261.66 L442.84 1261.61 L444.34 1261.55 L445.83 1261.47 L447.33 1261.39 L448.83 1261.29 L450.33 1261.19 L451.82 1261.08 L453.32 1260.96 L454.82 1260.84 L456.31 1260.71 L457.81 1260.59 L459.31 1260.46 L460.8 1260.33 L462.3 1260.2 L463.8 1260.08 L465.29 1259.96 L466.79 1259.84 L468.29 1259.74 L469.78 1259.63 L471.28 1259.54 L472.78 1259.46 L474.27 1259.39 L475.77 1259.33 L477.27 1259.28 L478.77 1259.25 L480.26 1259.23 L481.76 1259.23 L483.26 1259.25 L484.75 1259.29 L486.25 1259.35 L487.75 1259.43 L489.24 1259.52 L490.74 1259.63 L492.24 1259.75 L493.73 1259.88 L495.23 1260.01 L496.73 1260.14 L498.22 1260.26 L499.72 1260.39 L501.22 1260.5 L502.71 1260.6 L504.21 1260.69 L505.71 1260.76 L507.2 1260.81 L508.7 1260.83 L510.2 1260.83 L511.7 1260.8 L513.19 1260.74 L514.69 1260.65 L516.19 1260.53 L517.68 1260.4 L519.18 1260.24 L520.68 1260.06 L522.17 1259.86 L523.67 1259.65 L525.17 1259.42 L526.66 1259.19 L528.16 1258.94 L529.66 1258.68 L531.15 1258.42 L532.65 1258.16 L534.15 1257.9 L535.64 1257.63 L537.14 1257.37 L538.64 1257.11 L540.13 1256.86 L541.63 1256.61 L543.13 1256.38 L544.63 1256.16 L546.12 1255.95 L547.62 1255.76 L549.12 1255.58 L550.61 1255.43 L552.11 1255.3 L553.61 1255.19 L555.1 1255.11 L556.6 1255.06 L558.1 1255.03 L559.59 1255.04 L561.09 1255.09 L562.59 1255.16 L564.08 1255.26 L565.58 1255.38 L567.08 1255.51 L568.57 1255.65 L570.07 1255.78 L571.57 1255.91 L573.07 1256.02 L574.56 1256.1 L576.06 1256.15 L577.56 1256.17 L579.05 1256.14 L580.55 1256.06 L582.05 1255.92 L583.54 1255.73 L585.04 1255.49 L586.54 1255.2 L588.03 1254.88 L589.53 1254.53 L591.03 1254.16 L592.52 1253.76 L594.02 1253.35 L595.52 1252.94 L597.01 1252.52 L598.51 1252.11 L600.01 1251.71 L601.5 1251.33 L603 1250.96 L604.5 1250.63 L606 1250.33 L607.49 1250.07 L608.99 1249.84 L610.49 1249.64 L611.98 1249.47 L613.48 1249.31 L614.98 1249.17 L616.47 1249.04 L617.97 1248.91 L619.47 1248.78 L620.96 1248.64 L622.46 1248.5 L623.96 1248.33 L625.45 1248.15 L626.95 1247.94 L628.45 1247.71 L629.94 1247.43 L631.44 1247.12 L632.94 1246.76 L634.43 1246.35 L635.93 1245.88 L637.43 1245.36 L638.93 1244.76 L640.42 1244.1 L641.92 1243.37 L643.42 1242.55 L644.91 1241.65 L646.41 1240.66 L647.91 1239.57 L649.4 1238.39 L650.9 1237.1" fill="none" stroke="#000" stroke-width="2.6" stroke-dasharray="10 4 2.5 4"/>
<path d="M805.1 281.25 L806.6 280.9 L808.09 280.53 L809.59 280.14 L811.09 279.73 L812.58 279.29 L814.08 278.84 L815.58 278.37 L817.07 277.88 L818.57 277.37 L820.07 276.84 L821.57 276.3 L823.06 275.74 L824.56 275.16 L826.06 274.57 L827.55 273.96 L829.05 273.34 L830.55 272.71 L832.04 272.06 L833.54 271.4 L835.04 270.73 L836.53 270.04 L838.03 269.35 L839.53 268.64 L841.02 267.93 L842.52 267.2 L844.02 266.47 L845.51 265.73 L847.01 264.98 L848.51 264.22 L850 263.45 L851.5 262.68 L853 261.91 L854.5 261.13 L855.99 260.34 L857.49 259.55 L858.99 258.76 L860.48 257.96 L861.98 257.16 L863.48 256.36 L864.97 255.56 L866.47 254.76 L867.97 253.96 L869.46 253.16 L870.96 252.36 L872.46 251.56 L873.95 250.76 L875.45 249.96 L876.95 249.17 L878.44 248.38 L879.94 247.6 L881.44 246.82 L882.93 246.04 L884.43 245.27 L885.93 244.51 L887.43 243.76 L888.92 243.01 L890.42 242.27 L891.92 241.54 L893.41 240.81 L894.91 240.1 L896.41 239.4 L897.9 238.71 L899.4 238.02 L900.9 237.35 L902.39 236.7 L903.89 236.05 L905.39 235.42 L906.88 234.8 L908.38 234.19 L909.88 233.59 L911.37 233 L912.87 232.42 L914.37 231.86 L915.87 231.3 L917.36 230.76 L918.86 230.22 L920.36 229.7 L921.85 229.19 L923.35 228.69 L924.85 228.19 L926.34 227.71 L927.84 227.24 L929.34 226.78 L930.83 226.32 L932.33 225.88 L933.83 225.44 L935.32 225.02 L936.82 224.6 L938.32 224.2 L939.81 223.8 L941.31 223.37 L942.81 222.95 L944.3 222.53 L945.8 222.11 L947.3 221.68 L948.8 221.24 L950.29 220.79 L951.79 220.32 L953.29 219.83 L954.78 219.31 L956.28 218.76 L957.78 218.17 L959.27 217.55 L960.77 216.89 L962.27 216.18 L963.76 215.42 L965.26 214.6 L966.76 213.74 L968.25 212.84 L969.75 211.89 L971.25 210.9 L972.74 209.87 L974.24 208.82 L975.74 207.73 L977.23 206.62 L978.73 205.48 L980.23 204.32 L981.73 203.14 L983.22 201.95 L984.72 200.75 L986.22 199.54 L987.71 198.32 L989.21 197.1 L990.71 195.89 L992.2 194.67 L993.7 193.47 L995.2 192.27 L996.69 191.09 L998.19 189.92 L999.69 188.78 L1001.18 187.65 L1002.68 186.55 L1004.18 185.48 L1005.67 184.44 L1007.17 183.42 L1008.67 182.42 L1010.17 181.43 L1011.66 180.46 L1013.16 179.49 L1014.66 178.52 L1016.15 177.56 L1017.65 176.59 L1019.15 175.61 L1020.64 174.58 L1022.14 173.49 L1023.64 172.38 L1025.13 171.25 L1026.63 170.09 L1028.13 168.89 L1029.62 167.66 L1031.12 166.38 L1032.62 165.06 L1034.11 163.69 L1035.61 162.27 L1037.11 160.79 L1038.6 159.25 L1040.1 157.64 L1041.6 155.96 L1043.1 154.21 L1044.59 152.38 L1046.09 150.47 L1047.59 148.48 L1049.08 146.39 L1050.58 144.24 L1052.08 142.05 L1053.57 139.76 L1055.07 137.36 L1056.57 134.89 L1058.06 132.36 L1059.56 129.82 L1061.06 127.28 L1062.55 124.78 L1064.05 122.34 L1065.55 119.99 L1067.04 117.76 L1068.54 115.68 L1070.04 113.77 L1071.53 112.07 L1073.03 110.6 L1074.53 109.4 L1076.03 108.48 L1077.52 107.88 L1079.02 107.59 L1080.52 107.61 L1082.01 107.93 L1083.51 108.5 L1085.01 109.27 L1086.5 110.23 L1088 111.36 L1089.5 112.62 L1090.99 113.99 L1092.49 115.45 L1093.99 116.97 L1095.48 118.53 L1096.98 120.11 L1098.48 121.69 L1099.97 123.26 L1101.47 124.83 L1102.97 126.37 L1104.47 127.88 L1105.96 129.36 L1107.46 130.79 L1108.96 132.16 L1110.45 133.46 L1111.95 134.69 L1113.45 135.86 L1114.94 136.95 L1116.44 137.97 L1117.94 138.93 L1119.43 139.83 L1120.93 140.66 L1122.43 141.44 L1123.92 142.15 L1125.42 142.81 L1126.92 143.42 L1128.41 143.97 L1129.91 144.48 L1131.41 144.93 L1132.9 145.34 L1134.4 145.7 L1135.9 146.02 L1137.4 146.3 L1138.89 146.54 L1140.39 146.73 L1141.89 146.84 L1143.38 146.91 L1144.88 146.95 L1146.38 146.96 L1147.87 146.94 L1149.37 146.9 L1150.87 146.83 L1152.36 146.75 L1153.86 146.64 L1155.36 146.51 L1156.85 146.37 L1158.35 146.22 L1159.85 146.05 L1161.34 145.87 L1162.84 145.68 L1164.34 145.49 L1165.83 145.29 L1167.33 145.09 L1168.83 144.89 L1170.33 144.68 L1171.82 144.47 L1173.32 144.25 L1174.82 144.03 L1176.31 143.81 L1177.81 143.58 L1179.31 143.35 L1180.8 143.11 L1182.3 142.87 L1183.8 142.62 L1185.29 142.37 L1186.79 142.11 L1188.29 141.85 L1189.78 141.58 L1191.28 141.3 L1192.78 141.02 L1194.27 140.74 L1195.77 140.45 L1197.27 140.15 L1198.77 139.84 L1200.26 139.53 L1201.76 139.22 L1203.26 138.89 L1204.75 138.56 L1206.25 138.22 L1207.75 137.88 L1209.24 137.52 L1210.74 137.16 L1212.24 136.8 L1213.73 136.42 L1215.23 136.04 L1216.73 135.65 L1218.22 135.25 L1219.72 134.84 L1221.22 134.43 L1222.71 134 L1224.21 133.57 L1225.71 133.13 L1227.2 132.68 L1228.7 132.22 L1230.2 131.75 L1231.7 131.27 L1233.19 130.78 L1234.69 130.28 L1236.19 129.77 L1237.68 129.26 L1239.18 128.73 L1240.68 128.19 L1242.17 127.64 L1243.67 127.08 L1245.17 126.51 L1246.66 125.93 L1248.16 125.34 L1249.66 124.74 L1251.15 124.09 L1252.65 123.42 L1254.15 122.74 L1255.64 122.04 L1257.14 121.33 L1258.64 120.62 L1260.13 119.89 L1261.63 119.14 L1263.13 118.39 L1264.63 117.62 L1266.12 116.84 L1267.62 116.05 L1269.12 115.24 L1270.61 114.42 L1272.11 113.59 L1273.61 112.75 L1275.1 111.89 L1276.6 111.02 L1278.1 110.13 L1279.59 109.23 L1281.09 108.32 L1282.59 107.39 L1284.08 106.45 L1285.58 105.49 L1287.08 104.52 L1288.57 103.53 L1290.07 102.53 L1291.57 101.52 L1293.07 100.49 L1294.56 99.44 L1296.06 98.39 L1297.56 97.32 L1299.05 96.23 L1300.55 95.14 L1302.05 94.03 L1303.54 92.91 L1305.04 91.79 L1306.54 90.65 L1308.03 89.5 L1309.53 88.35 L1311.03 87.18 L1312.52 86.01 L1314.02 84.84 L1315.52 83.65 L1317.01 82.46 L1318.51 81.27 L1320.01 80.07 L1321.5 78.86 L1323 77.66 L1324.5 76.45 L1326 75.23 L1327.49 74.02 L1328.99 72.8 L1330.49 71.59 L1331.98 70.37 L1333.48 69.15 L1334.98 67.94 L1336.47 66.72 L1337.97 65.51 L1339.47 64.3 L1340.96 63.09 L1342.46 61.89 L1343.96 60.69 L1345.45 59.5 L1346.95 58.31 L1348.45 57.12 L1349.94 55.95 L1351.44 54.78 L1352.94 53.61 L1354.43 52.46 L1355.93 51.32 L1357.43 50.18 L1358.93 49.05 L1360.42 47.94 L1361.92 46.83 L1363.42 45.74 L1364.91 44.66 L1366.41 43.59 L1367.91 42.53 L1369.4 41.49 L1370.9 40.46 L1370.9 64.45 L1369.4 65.4 L1367.91 66.35 L1366.41 67.32 L1364.91 68.3 L1363.42 69.3 L1361.92 70.31 L1360.42 71.32 L1358.93 72.35 L1357.43 73.39 L1355.93 74.44 L1354.43 75.5 L1352.94 76.57 L1351.44 77.65 L1349.94 78.73 L1348.45 79.82 L1346.95 80.92 L1345.45 82.02 L1343.96 83.13 L1342.46 84.24 L1340.96 85.35 L1339.47 86.47 L1337.97 87.6 L1336.47 88.72 L1334.98 89.85 L1333.48 90.98 L1331.98 92.11 L1330.49 93.24 L1328.99 94.37 L1327.49 95.5 L1326 96.63 L1324.5 97.76 L1323 98.88 L1321.5 100 L1320.01 101.12 L1318.51 102.23 L1317.01 103.34 L1315.52 104.44 L1314.02 105.54 L1312.52 106.63 L1311.03 107.71 L1309.53 108.79 L1308.03 109.86 L1306.54 110.92 L1305.04 111.97 L1303.54 113.01 L1302.05 114.04 L1300.55 115.06 L1299.05 116.07 L1297.56 117.07 L1296.06 118.05 L1294.56 119.02 L1293.07 119.98 L1291.57 120.92 L1290.07 121.85 L1288.57 122.77 L1287.08 123.67 L1285.58 124.55 L1284.08 125.42 L1282.59 126.27 L1281.09 127.12 L1279.59 127.94 L1278.1 128.76 L1276.6 129.56 L1275.1 130.34 L1273.61 131.11 L1272.11 131.87 L1270.61 132.62 L1269.12 133.35 L1267.62 134.07 L1266.12 134.77 L1264.63 135.47 L1263.13 136.15 L1261.63 136.82 L1260.13 137.47 L1258.64 138.12 L1257.14 138.75 L1255.64 139.37 L1254.15 139.98 L1252.65 140.57 L1251.15 141.16 L1249.66 141.73 L1248.16 142.29 L1246.66 142.84 L1245.17 143.38 L1243.67 143.91 L1242.17 144.43 L1240.68 144.94 L1239.18 145.43 L1237.68 145.92 L1236.19 146.4 L1234.69 146.86 L1233.19 147.32 L1231.7 147.77 L1230.2 148.21 L1228.7 148.63 L1227.2 149.05 L1225.71 149.46 L1224.21 149.86 L1222.71 150.26 L1221.22 150.64 L1219.72 151.02 L1218.22 151.38 L1216.73 151.74 L1215.23 152.09 L1213.73 152.43 L1212.24 152.77 L1210.74 153.09 L1209.24 153.41 L1207.75 153.72 L1206.25 154.03 L1204.75 154.33 L1203.26 154.62 L1201.76 154.9 L1200.26 155.18 L1198.77 155.45 L1197.27 155.71 L1195.77 155.97 L1194.27 156.22 L1192.78 156.46 L1191.28 156.7 L1189.78 156.94 L1188.29 157.16 L1186.79 157.39 L1185.29 157.6 L1183.8 157.81 L1182.3 158.02 L1180.8 158.22 L1179.31 158.42 L1177.81 158.61 L1176.31 158.8 L1174.82 158.98 L1173.32 159.16 L1171.82 159.34 L1170.33 159.51 L1168.83 159.68 L1167.33 159.84 L1165.83 160 L1164.34 160.16 L1162.84 160.31 L1161.34 160.45 L1159.85 160.59 L1158.35 160.72 L1156.85 160.83 L1155.36 160.93 L1153.86 161.02 L1152.36 161.08 L1150.87 161.13 L1149.37 161.16 L1147.87 161.16 L1146.38 161.13 L1144.88 161.08 L1143.38 161 L1141.89 160.89 L1140.39 160.74 L1138.89 160.62 L1137.4 160.47 L1135.9 160.28 L1134.4 160.06 L1132.9 159.79 L1131.41 159.47 L1129.91 159.11 L1128.41 158.71 L1126.92 158.25 L1125.42 157.74 L1123.92 157.17 L1122.43 156.55 L1120.93 155.87 L1119.43 155.13 L1117.94 154.33 L1116.44 153.47 L1114.94 152.54 L1113.45 151.54 L1111.95 150.47 L1110.45 149.33 L1108.96 148.12 L1107.46 146.85 L1105.96 145.51 L1104.47 144.13 L1102.97 142.72 L1101.47 141.27 L1099.97 139.8 L1098.48 138.31 L1096.98 136.83 L1095.48 135.35 L1093.99 133.89 L1092.49 132.46 L1090.99 131.09 L1089.5 129.82 L1088 128.65 L1086.5 127.62 L1085.01 126.75 L1083.51 126.07 L1082.01 125.61 L1080.52 125.38 L1079.02 125.33 L1077.52 125.53 L1076.03 126.04 L1074.53 126.87 L1073.03 127.99 L1071.53 129.36 L1070.04 130.97 L1068.54 132.79 L1067.04 134.78 L1065.55 136.92 L1064.05 139.18 L1062.55 141.53 L1061.06 143.94 L1059.56 146.39 L1058.06 148.85 L1056.57 151.28 L1055.07 153.66 L1053.57 155.97 L1052.08 158.17 L1050.58 160.28 L1049.08 162.26 L1047.59 164.12 L1046.09 165.9 L1044.59 167.59 L1043.1 169.2 L1041.6 170.73 L1040.1 172.19 L1038.6 173.58 L1037.11 174.9 L1035.61 176.16 L1034.11 177.36 L1032.62 178.51 L1031.12 179.61 L1029.62 180.67 L1028.13 181.68 L1026.63 182.66 L1025.13 183.6 L1023.64 184.52 L1022.14 185.41 L1020.64 186.27 L1019.15 187.17 L1017.65 188.08 L1016.15 188.98 L1014.66 189.88 L1013.16 190.78 L1011.66 191.68 L1010.17 192.59 L1008.67 193.51 L1007.17 194.44 L1005.67 195.39 L1004.18 196.37 L1002.68 197.37 L1001.18 198.4 L999.69 199.46 L998.19 200.54 L996.69 201.64 L995.2 202.76 L993.7 203.88 L992.2 205.02 L990.71 206.17 L989.21 207.32 L987.71 208.47 L986.22 209.62 L984.72 210.76 L983.22 211.9 L981.73 213.02 L980.23 214.13 L978.73 215.22 L977.23 216.29 L975.74 217.34 L974.24 218.36 L972.74 219.35 L971.25 220.3 L969.75 221.23 L968.25 222.11 L966.76 222.95 L965.26 223.74 L963.76 224.49 L962.27 225.18 L960.77 225.82 L959.27 226.42 L957.78 226.97 L956.28 227.49 L954.78 227.97 L953.29 228.42 L951.79 228.85 L950.29 229.25 L948.8 229.64 L947.3 230.01 L945.8 230.37 L944.3 230.72 L942.81 231.08 L941.31 231.43 L939.81 231.8 L938.32 232.21 L936.82 232.63 L935.32 233.05 L933.83 233.49 L932.33 233.94 L930.83 234.39 L929.34 234.85 L927.84 235.33 L926.34 235.81 L924.85 236.31 L923.35 236.81 L921.85 237.32 L920.36 237.85 L918.86 238.38 L917.36 238.92 L915.87 239.48 L914.37 240.05 L912.87 240.62 L911.37 241.21 L909.88 241.81 L908.38 242.42 L906.88 243.04 L905.39 243.67 L903.89 244.32 L902.39 244.98 L900.9 245.64 L899.4 246.32 L897.9 247.02 L896.41 247.72 L894.91 248.43 L893.41 249.16 L891.92 249.89 L890.42 250.64 L888.92 251.39 L887.43 252.15 L885.93 252.91 L884.43 253.69 L882.93 254.47 L881.44 255.25 L879.94 256.04 L878.44 256.84 L876.95 257.64 L875.45 258.44 L873.95 259.25 L872.46 260.06 L870.96 260.87 L869.46 261.68 L867.97 262.49 L866.47 263.31 L864.97 264.12 L863.48 264.93 L861.98 265.74 L860.48 266.55 L858.99 267.36 L857.49 268.16 L855.99 268.96 L854.5 269.76 L853 270.55 L851.5 271.34 L850 272.12 L848.51 272.9 L847.01 273.66 L845.51 274.43 L844.02 275.18 L842.52 275.92 L841.02 276.66 L839.53 277.39 L838.03 278.1 L836.53 278.81 L835.04 279.51 L833.54 280.19 L832.04 280.86 L830.55 281.52 L829.05 282.16 L827.55 282.8 L826.06 283.41 L824.56 284.02 L823.06 284.6 L821.57 285.17 L820.07 285.73 L818.57 286.27 L817.07 286.79 L815.58 287.29 L814.08 287.77 L812.58 288.24 L811.09 288.68 L809.59 289.1 L808.09 289.51 L806.6 289.89 L805.1 290.25 Z" fill="#8e8fb1" stroke="none"/>
<path d="M805.1 285.75 L806.6 285.4 L808.09 285.02 L809.59 284.62 L811.09 284.2 L812.58 283.76 L814.08 283.31 L815.58 282.83 L817.07 282.33 L818.57 281.82 L820.07 281.28 L821.57 280.74 L823.06 280.17 L824.56 279.59 L826.06 278.99 L827.55 278.38 L829.05 277.75 L830.55 277.11 L832.04 276.46 L833.54 275.79 L835.04 275.12 L836.53 274.43 L838.03 273.73 L839.53 273.01 L841.02 272.29 L842.52 271.56 L844.02 270.82 L845.51 270.08 L847.01 269.32 L848.51 268.56 L850 267.79 L851.5 267.01 L853 266.23 L854.5 265.44 L855.99 264.65 L857.49 263.86 L858.99 263.06 L860.48 262.26 L861.98 261.45 L863.48 260.65 L864.97 259.84 L866.47 259.03 L867.97 258.23 L869.46 257.42 L870.96 256.61 L872.46 255.81 L873.95 255 L875.45 254.2 L876.95 253.4 L878.44 252.61 L879.94 251.82 L881.44 251.04 L882.93 250.25 L884.43 249.48 L885.93 248.71 L887.43 247.95 L888.92 247.2 L890.42 246.45 L891.92 245.71 L893.41 244.99 L894.91 244.27 L896.41 243.56 L897.9 242.86 L899.4 242.17 L900.9 241.5 L902.39 240.84 L903.89 240.19 L905.39 239.55 L906.88 238.92 L908.38 238.3 L909.88 237.7 L911.37 237.1 L912.87 236.52 L914.37 235.95 L915.87 235.39 L917.36 234.84 L918.86 234.3 L920.36 233.77 L921.85 233.25 L923.35 232.75 L924.85 232.25 L926.34 231.76 L927.84 231.28 L929.34 230.81 L930.83 230.36 L932.33 229.91 L933.83 229.47 L935.32 229.04 L936.82 228.61 L938.32 228.2 L939.81 227.8 L941.31 227.4 L942.81 227.01 L944.3 226.63 L945.8 226.24 L947.3 225.84 L948.8 225.44 L950.29 225.02 L951.79 224.58 L953.29 224.12 L954.78 223.64 L956.28 223.12 L957.78 222.57 L959.27 221.99 L960.77 221.36 L962.27 220.68 L963.76 219.95 L965.26 219.17 L966.76 218.34 L968.25 217.47 L969.75 216.56 L971.25 215.6 L972.74 214.61 L974.24 213.59 L975.74 212.53 L977.23 211.45 L978.73 210.35 L980.23 209.22 L981.73 208.08 L983.22 206.92 L984.72 205.76 L986.22 204.58 L987.71 203.4 L989.21 202.21 L990.71 201.03 L992.2 199.85 L993.7 198.68 L995.2 197.51 L996.69 196.36 L998.19 195.23 L999.69 194.12 L1001.18 193.03 L1002.68 191.96 L1004.18 190.93 L1005.67 189.92 L1007.17 188.93 L1008.67 187.96 L1010.17 187.01 L1011.66 186.07 L1013.16 185.13 L1014.66 184.2 L1016.15 183.27 L1017.65 182.33 L1019.15 181.39 L1020.64 180.43 L1022.14 179.45 L1023.64 178.45 L1025.13 177.43 L1026.63 176.37 L1028.13 175.29 L1029.62 174.16 L1031.12 173 L1032.62 171.79 L1034.11 170.53 L1035.61 169.21 L1037.11 167.84 L1038.6 166.41 L1040.1 164.91 L1041.6 163.35 L1043.1 161.7 L1044.59 159.99 L1046.09 158.18 L1047.59 156.3 L1049.08 154.32 L1050.58 152.25 L1052.08 150.08 L1053.57 147.81 L1055.07 145.44 L1056.57 143 L1058.06 140.5 L1059.56 137.98 L1061.06 135.46 L1062.55 132.98 L1064.05 130.57 L1065.55 128.25 L1067.04 126.04 L1068.54 123.99 L1070.04 122.11 L1071.53 120.43 L1073.03 118.99 L1074.53 117.81 L1076.03 116.91 L1077.52 116.34 L1079.02 116.07 L1080.52 116.1 L1082.01 116.38 L1083.51 116.91 L1085.01 117.65 L1086.5 118.57 L1088 119.66 L1089.5 120.88 L1090.99 122.22 L1092.49 123.64 L1093.99 125.12 L1095.48 126.64 L1096.98 128.18 L1098.48 129.72 L1099.97 131.26 L1101.47 132.79 L1102.97 134.3 L1104.47 135.77 L1105.96 137.21 L1107.46 138.6 L1108.96 139.93 L1110.45 141.2 L1111.95 142.4 L1113.45 143.52 L1114.94 144.58 L1116.44 145.56 L1117.94 146.48 L1119.43 147.34 L1120.93 148.14 L1122.43 148.88 L1123.92 149.55 L1125.42 150.18 L1126.92 150.75 L1128.41 151.26 L1129.91 151.73 L1131.41 152.15 L1132.9 152.52 L1134.4 152.84 L1135.9 153.13 L1137.4 153.37 L1138.89 153.57 L1140.39 153.74 L1141.89 153.87 L1143.38 153.97 L1144.88 154.04 L1146.38 154.08 L1147.87 154.09 L1149.37 154.07 L1150.87 154.03 L1152.36 153.97 L1153.86 153.89 L1155.36 153.79 L1156.85 153.68 L1158.35 153.55 L1159.85 153.41 L1161.34 153.26 L1162.84 153.1 L1164.34 152.93 L1165.83 152.76 L1167.33 152.59 L1168.83 152.41 L1170.33 152.23 L1171.82 152.05 L1173.32 151.86 L1174.82 151.67 L1176.31 151.47 L1177.81 151.27 L1179.31 151.06 L1180.8 150.85 L1182.3 150.64 L1183.8 150.42 L1185.29 150.19 L1186.79 149.96 L1188.29 149.72 L1189.78 149.48 L1191.28 149.24 L1192.78 148.98 L1194.27 148.73 L1195.77 148.46 L1197.27 148.19 L1198.77 147.91 L1200.26 147.63 L1201.76 147.34 L1203.26 147.04 L1204.75 146.74 L1206.25 146.43 L1207.75 146.11 L1209.24 145.78 L1210.74 145.45 L1212.24 145.11 L1213.73 144.76 L1215.23 144.41 L1216.73 144.04 L1218.22 143.67 L1219.72 143.29 L1221.22 142.9 L1222.71 142.51 L1224.21 142.1 L1225.71 141.68 L1227.2 141.26 L1228.7 140.83 L1230.2 140.39 L1231.7 139.93 L1233.19 139.47 L1234.69 139 L1236.19 138.52 L1237.68 138.03 L1239.18 137.53 L1240.68 137.02 L1242.17 136.5 L1243.67 135.97 L1245.17 135.43 L1246.66 134.87 L1248.16 134.31 L1249.66 133.73 L1251.15 133.15 L1252.65 132.55 L1254.15 131.94 L1255.64 131.32 L1257.14 130.69 L1258.64 130.04 L1260.13 129.39 L1261.63 128.72 L1263.13 128.04 L1264.63 127.35 L1266.12 126.64 L1267.62 125.92 L1269.12 125.19 L1270.61 124.45 L1272.11 123.69 L1273.61 122.92 L1275.1 122.13 L1276.6 121.34 L1278.1 120.52 L1279.59 119.7 L1281.09 118.86 L1282.59 118.01 L1284.08 117.14 L1285.58 116.26 L1287.08 115.36 L1288.57 114.45 L1290.07 113.52 L1291.57 112.58 L1293.07 111.62 L1294.56 110.65 L1296.06 109.67 L1297.56 108.67 L1299.05 107.66 L1300.55 106.64 L1302.05 105.61 L1303.54 104.57 L1305.04 103.51 L1306.54 102.45 L1308.03 101.38 L1309.53 100.3 L1311.03 99.21 L1312.52 98.11 L1314.02 97.01 L1315.52 95.9 L1317.01 94.78 L1318.51 93.66 L1320.01 92.54 L1321.5 91.41 L1323 90.28 L1324.5 89.14 L1326 88 L1327.49 86.86 L1328.99 85.72 L1330.49 84.58 L1331.98 83.43 L1333.48 82.29 L1334.98 81.15 L1336.47 80.01 L1337.97 78.87 L1339.47 77.74 L1340.96 76.6 L1342.46 75.47 L1343.96 74.35 L1345.45 73.23 L1346.95 72.11 L1348.45 71.01 L1349.94 69.9 L1351.44 68.81 L1352.94 67.72 L1354.43 66.64 L1355.93 65.57 L1357.43 64.51 L1358.93 63.45 L1360.42 62.41 L1361.92 61.38 L1363.42 60.36 L1364.91 59.35 L1366.41 58.36 L1367.91 57.38 L1369.4 56.41 L1370.9 55.45" fill="none" stroke="#000" stroke-width="1.0"/>
<path d="M805.1 285.75 L806.6 285.4 L808.09 285.02 L809.59 284.62 L811.09 284.2 L812.58 283.76 L814.08 283.31 L815.58 282.83 L817.07 282.33 L818.57 281.82 L820.07 281.28 L821.57 280.74 L823.06 280.17 L824.56 279.59 L826.06 278.99 L827.55 278.38 L829.05 277.75 L830.55 277.11 L832.04 276.46 L833.54 275.79 L835.04 275.12 L836.53 274.43 L838.03 273.73 L839.53 273.01 L841.02 272.29 L842.52 271.56 L844.02 270.82 L845.51 270.08 L847.01 269.32 L848.51 268.56 L850 267.79 L851.5 267.01 L853 266.23 L854.5 265.44 L855.99 264.65 L857.49 263.86 L858.99 263.06 L860.48 262.26 L861.98 261.45 L863.48 260.65 L864.97 259.84 L866.47 259.03 L867.97 258.23 L869.46 257.42 L870.96 256.61 L872.46 255.81 L873.95 255 L875.45 254.2 L876.95 253.4 L878.44 252.61 L879.94 251.82 L881.44 251.04 L882.93 250.25 L884.43 249.48 L885.93 248.71 L887.43 247.95 L888.92 247.2 L890.42 246.45 L891.92 245.71 L893.41 244.99 L894.91 244.27 L896.41 243.56 L897.9 242.86 L899.4 242.17 L900.9 241.5 L902.39 240.84 L903.89 240.19 L905.39 239.55 L906.88 238.92 L908.38 238.3 L909.88 237.7 L911.37 237.1 L912.87 236.52 L914.37 235.95 L915.87 235.39 L917.36 234.84 L918.86 234.3 L920.36 233.77 L921.85 233.25 L923.35 232.75 L924.85 232.25 L926.34 231.76 L927.84 231.28 L929.34 230.81 L930.83 230.36 L932.33 229.91 L933.83 229.47 L935.32 229.04 L936.82 228.61 L938.32 228.2 L939.81 227.8 L941.31 227.4 L942.81 227.01 L944.3 226.63 L945.8 226.24 L947.3 225.84 L948.8 225.44 L950.29 225.02 L951.79 224.58 L953.29 224.12 L954.78 223.64 L956.28 223.12 L957.78 222.57 L959.27 221.99 L960.77 221.36 L962.27 220.68 L963.76 219.95 L965.26 219.17 L966.76 218.34 L968.25 217.47 L969.75 216.56 L971.25 215.6 L972.74 214.61 L974.24 213.59 L975.74 212.53 L977.23 211.45 L978.73 210.35 L980.23 209.22 L981.73 208.08 L983.22 206.92 L984.72 205.76 L986.22 204.58 L987.71 203.4 L989.21 202.21 L990.71 201.03 L992.2 199.85 L993.7 198.68 L995.2 197.51 L996.69 196.36 L998.19 195.23 L999.69 194.12 L1001.18 193.03 L1002.68 191.96 L1004.18 190.93 L1005.67 189.92 L1007.17 188.93 L1008.67 187.96 L1010.17 187.01 L1011.66 186.07 L1013.16 185.13 L1014.66 184.2 L1016.15 183.27 L1017.65 182.33 L1019.15 181.39 L1020.64 180.43 L1022.14 179.45 L1023.64 178.45 L1025.13 177.43 L1026.63 176.37 L1028.13 175.29 L1029.62 174.16 L1031.12 173 L1032.62 171.79 L1034.11 170.53 L1035.61 169.21 L1037.11 167.84 L1038.6 166.41 L1040.1 164.91 L1041.6 163.35 L1043.1 161.7 L1044.59 159.99 L1046.09 158.18 L1047.59 156.3 L1049.08 154.32 L1050.58 152.25 L1052.08 150.08 L1053.57 147.81 L1055.07 145.44 L1056.57 143 L1058.06 140.5 L1059.56 137.98 L1061.06 135.46 L1062.55 132.98 L1064.05 130.57 L1065.55 128.25 L1067.04 126.04 L1068.54 123.99 L1070.04 122.11 L1071.53 120.43 L1073.03 118.99 L1074.53 117.81 L1076.03 116.91 L1077.52 116.34 L1079.02 116.07 L1080.52 116.1 L1082.01 116.38 L1083.51 116.91 L1085.01 117.65 L1086.5 118.57 L1088 119.66 L1089.5 120.88 L1090.99 122.22 L1092.49 123.64 L1093.99 125.12 L1095.48 126.64 L1096.98 128.18 L1098.48 129.72 L1099.97 131.26 L1101.47 132.79 L1102.97 134.3 L1104.47 135.77 L1105.96 137.21 L1107.46 138.6 L1108.96 139.93 L1110.45 141.2 L1111.95 142.4 L1113.45 143.52 L1114.94 144.58 L1116.44 145.56 L1117.94 146.48 L1119.43 147.34 L1120.93 148.14 L1122.43 148.88 L1123.92 149.55 L1125.42 150.18 L1126.92 150.75 L1128.41 151.26 L1129.91 151.73 L1131.41 152.15 L1132.9 152.52 L1134.4 152.84 L1135.9 153.13 L1137.4 153.37 L1138.89 153.57 L1140.39 153.74 L1141.89 153.87 L1143.38 153.97 L1144.88 154.04 L1146.38 154.08 L1147.87 154.09 L1149.37 154.07 L1150.87 154.03 L1152.36 153.97 L1153.86 153.89 L1155.36 153.79 L1156.85 153.68 L1158.35 153.55 L1159.85 153.41 L1161.34 153.26 L1162.84 153.1 L1164.34 152.93 L1165.83 152.76 L1167.33 152.59 L1168.83 152.41 L1170.33 152.23 L1171.82 152.05 L1173.32 151.86 L1174.82 151.67 L1176.31 151.47 L1177.81 151.27 L1179.31 151.06 L1180.8 150.85 L1182.3 150.64 L1183.8 150.42 L1185.29 150.19 L1186.79 149.96 L1188.29 149.72 L1189.78 149.48 L1191.28 149.24 L1192.78 148.98 L1194.27 148.73 L1195.77 148.46 L1197.27 148.19 L1198.77 147.91 L1200.26 147.63 L1201.76 147.34 L1203.26 147.04 L1204.75 146.74 L1206.25 146.43 L1207.75 146.11 L1209.24 145.78 L1210.74 145.45 L1212.24 145.11 L1213.73 144.76 L1215.23 144.41 L1216.73 144.04 L1218.22 143.67 L1219.72 143.29 L1221.22 142.9 L1222.71 142.51 L1224.21 142.1 L1225.71 141.68 L1227.2 141.26 L1228.7 140.83 L1230.2 140.39 L1231.7 139.93 L1233.19 139.47 L1234.69 139 L1236.19 138.52 L1237.68 138.03 L1239.18 137.53 L1240.68 137.02 L1242.17 136.5 L1243.67 135.97 L1245.17 135.43 L1246.66 134.87 L1248.16 134.31 L1249.66 133.73 L1251.15 133.15 L1252.65 132.55 L1254.15 131.94 L1255.64 131.32 L1257.14 130.69 L1258.64 130.04 L1260.13 129.39 L1261.63 128.72 L1263.13 128.04 L1264.63 127.35 L1266.12 126.64 L1267.62 125.92 L1269.12 125.19 L1270.61 124.45 L1272.11 123.69 L1273.61 122.92 L1275.1 122.13 L1276.6 121.34 L1278.1 120.52 L1279.59 119.7 L1281.09 118.86 L1282.59 118.01 L1284.08 117.14 L1285.58 116.26 L1287.08 115.36 L1288.57 114.45 L1290.07 113.52 L1291.57 112.58 L1293.07 111.62 L1294.56 110.65 L1296.06 109.67 L1297.56 108.67 L1299.05 107.66 L1300.55 106.64 L1302.05 105.61 L1303.54 104.57 L1305.04 103.51 L1306.54 102.45 L1308.03 101.38 L1309.53 100.3 L1311.03 99.21 L1312.52 98.11 L1314.02 97.01 L1315.52 95.9 L1317.01 94.78 L1318.51 93.66 L1320.01 92.54 L1321.5 91.41 L1323 90.28 L1324.5 89.14 L1326 88 L1327.49 86.86 L1328.99 85.72 L1330.49 84.58 L1331.98 83.43 L1333.48 82.29 L1334.98 81.15 L1336.47 80.01 L1337.97 78.87 L1339.47 77.74 L1340.96 76.6 L1342.46 75.47 L1343.96 74.35 L1345.45 73.23 L1346.95 72.11 L1348.45 71.01 L1349.94 69.9 L1351.44 68.81 L1352.94 67.72 L1354.43 66.64 L1355.93 65.57 L1357.43 64.51 L1358.93 63.45 L1360.42 62.41 L1361.92 61.38 L1363.42 60.36 L1364.91 59.35 L1366.41 58.36 L1367.91 57.38 L1369.4 56.41 L1370.9 55.45" fill="none" stroke="#000" stroke-width="2" stroke-dasharray="1.8 3"/>
<path d="M805.1 285.99 L806.6 285.8 L808.09 285.57 L809.59 285.31 L811.09 285 L812.58 284.67 L814.08 284.29 L815.58 283.89 L817.07 283.45 L818.57 282.98 L820.07 282.49 L821.57 281.97 L823.06 281.42 L824.56 280.84 L826.06 280.25 L827.55 279.63 L829.05 278.98 L830.55 278.32 L832.04 277.65 L833.54 276.95 L835.04 276.24 L836.53 275.52 L838.03 274.78 L839.53 274.03 L841.02 273.27 L842.52 272.51 L844.02 271.73 L845.51 270.95 L847.01 270.16 L848.51 269.38 L850 268.58 L851.5 267.79 L853 267 L854.5 266.21 L855.99 265.43 L857.49 264.65 L858.99 263.87 L860.48 263.1 L861.98 262.35 L863.48 261.6 L864.97 260.86 L866.47 260.14 L867.97 259.43 L869.46 258.73 L870.96 258.05 L872.46 257.39 L873.95 256.75 L875.45 256.12 L876.95 255.51 L878.44 254.91 L879.94 254.33 L881.44 253.77 L882.93 253.22 L884.43 252.69 L885.93 252.17 L887.43 251.66 L888.92 251.17 L890.42 250.7 L891.92 250.23 L893.41 249.78 L894.91 249.34 L896.41 248.91 L897.9 248.5 L899.4 248.09 L900.9 247.7 L902.39 247.32 L903.89 246.95 L905.39 246.59 L906.88 246.24 L908.38 245.9 L909.88 245.57 L911.37 245.25 L912.87 244.93 L914.37 244.63 L915.87 244.33 L917.36 244.04 L918.86 243.76 L920.36 243.48 L921.85 243.21 L923.35 242.95 L924.85 242.69 L926.34 242.44 L927.84 242.2 L929.34 241.96 L930.83 241.72 L932.33 241.49 L933.83 241.27 L935.32 241.05 L936.82 240.83 L938.32 240.61 L939.81 240.4 L941.31 240.19 L942.81 239.98 L944.3 239.78 L945.8 239.57 L947.3 239.37 L948.8 239.17 L950.29 238.97 L951.79 238.77 L953.29 238.57 L954.78 238.37 L956.28 238.17 L957.78 237.98 L959.27 237.79 L960.77 237.59 L962.27 237.4 L963.76 237.21 L965.26 237.02 L966.76 236.83 L968.25 236.64 L969.75 236.45 L971.25 236.26 L972.74 236.08 L974.24 235.89 L975.74 235.7 L977.23 235.52 L978.73 235.33 L980.23 235.15 L981.73 234.96 L983.22 234.78 L984.72 234.6 L986.22 234.41 L987.71 234.23 L989.21 234.05 L990.71 233.86 L992.2 233.68 L993.7 233.49 L995.2 233.31 L996.69 233.13 L998.19 232.94 L999.69 232.76 L1001.18 232.58 L1002.68 232.39 L1004.18 232.21 L1005.67 232.02 L1007.17 231.84 L1008.67 231.65 L1010.17 231.46 L1011.66 231.28 L1013.16 231.09 L1014.66 230.9 L1016.15 230.71 L1017.65 230.52 L1019.15 230.33 L1020.64 230.14 L1022.14 229.95 L1023.64 229.75 L1025.13 229.56 L1026.63 229.37 L1028.13 229.18 L1029.62 229 L1031.12 228.82 L1032.62 228.64 L1034.11 228.46 L1035.61 228.3 L1037.11 228.13 L1038.6 227.98 L1040.1 227.83 L1041.6 227.69 L1043.1 227.56 L1044.59 227.44 L1046.09 227.33 L1047.59 227.24 L1049.08 227.15 L1050.58 227.07 L1052.08 226.99 L1053.57 226.93 L1055.07 226.86 L1056.57 226.8 L1058.06 226.74 L1059.56 226.68 L1061.06 226.62 L1062.55 226.55 L1064.05 226.48 L1065.55 226.4 L1067.04 226.32 L1068.54 226.23 L1070.04 226.12 L1071.53 226.01 L1073.03 225.88 L1074.53 225.75 L1076.03 225.62 L1077.52 225.48 L1079.02 225.35 L1080.52 225.22 L1082.01 225.11 L1083.51 225.01 L1085.01 224.92 L1086.5 224.86 L1088 224.83 L1089.5 224.82 L1090.99 224.85 L1092.49 224.9 L1093.99 224.98 L1095.48 225.07 L1096.98 225.18 L1098.48 225.3 L1099.97 225.41 L1101.47 225.52 L1102.97 225.61 L1104.47 225.69 L1105.96 225.74 L1107.46 225.76 L1108.96 225.77 L1110.45 225.75 L1111.95 225.7 L1113.45 225.65 L1114.94 225.57 L1116.44 225.48 L1117.94 225.38 L1119.43 225.26 L1120.93 225.14 L1122.43 225.01 L1123.92 224.88 L1125.42 224.74 L1126.92 224.6 L1128.41 224.46 L1129.91 224.32 L1131.41 224.19 L1132.9 224.06 L1134.4 223.93 L1135.9 223.81 L1137.4 223.69 L1138.89 223.56 L1140.39 223.44 L1141.89 223.31 L1143.38 223.18 L1144.88 223.05 L1146.38 222.91 L1147.87 222.76 L1149.37 222.61 L1150.87 222.45 L1152.36 222.29 L1153.86 222.11 L1155.36 221.92 L1156.85 221.72 L1158.35 221.51 L1159.85 221.29 L1161.34 221.05 L1162.84 220.79 L1164.34 220.51 L1165.83 220.22 L1167.33 219.9 L1168.83 219.57 L1170.33 219.21 L1171.82 218.83 L1173.32 218.42 L1174.82 217.99 L1176.31 217.52 L1177.81 217.03 L1179.31 216.51 L1180.8 215.96 L1182.3 215.37 L1183.8 214.75 L1185.29 214.1 L1186.79 213.41 L1188.29 212.68 L1189.78 211.91 L1191.28 211.1 L1192.78 210.25 L1194.27 209.36 L1195.77 208.43 L1197.27 207.44 L1198.77 206.42 L1200.26 205.34 L1201.76 204.22 L1203.26 203.05 L1204.75 201.86 L1206.25 200.64 L1207.75 199.41 L1209.24 198.17 L1210.74 196.95 L1212.24 195.73 L1213.73 194.54 L1215.23 193.38 L1216.73 192.26 L1218.22 191.2 L1219.72 190.2 L1221.22 189.26 L1222.71 188.4 L1224.21 187.6 L1225.71 186.87 L1227.2 186.21 L1228.7 185.6 L1230.2 185.05 L1231.7 184.56 L1233.19 184.11 L1234.69 183.71 L1236.19 183.35 L1237.68 183.03 L1239.18 182.75 L1240.68 182.51 L1242.17 182.29 L1243.67 182.11 L1245.17 181.94 L1246.66 181.8 L1248.16 181.67 L1249.66 181.56 L1251.15 181.47 L1252.65 181.38 L1254.15 181.29 L1255.64 181.21 L1257.14 181.12 L1258.64 181.03 L1260.13 180.94 L1261.63 180.83 L1263.13 180.71 L1264.63 180.57 L1266.12 180.41 L1267.62 180.23 L1269.12 180.03 L1270.61 179.81 L1272.11 179.57 L1273.61 179.31 L1275.1 179.03 L1276.6 178.74 L1278.1 178.44 L1279.59 178.12 L1281.09 177.79 L1282.59 177.45 L1284.08 177.1 L1285.58 176.74 L1287.08 176.37 L1288.57 176 L1290.07 175.62 L1291.57 175.24 L1293.07 174.85 L1294.56 174.46 L1296.06 174.07 L1297.56 173.67 L1299.05 173.27 L1300.55 172.87 L1302.05 172.46 L1303.54 172.06 L1305.04 171.65 L1306.54 171.23 L1308.03 170.82 L1309.53 170.41 L1311.03 169.99 L1312.52 169.57 L1314.02 169.15 L1315.52 168.73 L1317.01 168.31 L1318.51 167.89 L1320.01 167.47 L1321.5 167.05 L1323 166.63 L1324.5 166.21 L1326 165.79 L1327.49 165.36 L1328.99 164.94 L1330.49 164.53 L1331.98 164.11 L1333.48 163.69 L1334.98 163.28 L1336.47 162.86 L1337.97 162.45 L1339.47 162.04 L1340.96 161.63 L1342.46 161.23 L1343.96 160.83 L1345.45 160.43 L1346.95 160.03 L1348.45 159.64 L1349.94 159.24 L1351.44 158.86 L1352.94 158.47 L1354.43 158.09 L1355.93 157.72 L1357.43 157.35 L1358.93 156.98 L1360.42 156.62 L1361.92 156.26 L1363.42 155.91 L1364.91 155.56 L1366.41 155.22 L1367.91 154.88 L1369.4 154.55 L1370.9 154.22" fill="none" stroke="#000" stroke-width="2.6" stroke-dasharray="9 8.5"/>
<path d="M805.1 295.8 L806.6 295.73 L808.09 295.66 L809.59 295.58 L811.09 295.49 L812.58 295.4 L814.08 295.3 L815.58 295.2 L817.07 295.09 L818.57 294.98 L820.07 294.86 L821.57 294.73 L823.06 294.6 L824.56 294.47 L826.06 294.33 L827.55 294.19 L829.05 294.04 L830.55 293.89 L832.04 293.73 L833.54 293.57 L835.04 293.41 L836.53 293.24 L838.03 293.07 L839.53 292.9 L841.02 292.73 L842.52 292.55 L844.02 292.37 L845.51 292.18 L847.01 291.99 L848.51 291.81 L850 291.62 L851.5 291.42 L853 291.23 L854.5 291.03 L855.99 290.83 L857.49 290.64 L858.99 290.44 L860.48 290.23 L861.98 290.03 L863.48 289.83 L864.97 289.63 L866.47 289.42 L867.97 289.22 L869.46 289.02 L870.96 288.81 L872.46 288.61 L873.95 288.41 L875.45 288.2 L876.95 288 L878.44 287.8 L879.94 287.6 L881.44 287.4 L882.93 287.2 L884.43 287.01 L885.93 286.81 L887.43 286.62 L888.92 286.43 L890.42 286.24 L891.92 286.05 L893.41 285.87 L894.91 285.69 L896.41 285.51 L897.9 285.33 L899.4 285.16 L900.9 284.99 L902.39 284.82 L903.89 284.66 L905.39 284.5 L906.88 284.35 L908.38 284.19 L909.88 284.05 L911.37 283.9 L912.87 283.76 L914.37 283.63 L915.87 283.5 L917.36 283.38 L918.86 283.26 L920.36 283.14 L921.85 283.03 L923.35 282.93 L924.85 282.83 L926.34 282.74 L927.84 282.65 L929.34 282.57 L930.83 282.5 L932.33 282.43 L933.83 282.36 L935.32 282.3 L936.82 282.23 L938.32 282.15 L939.81 282.07 L941.31 281.97 L942.81 281.85 L944.3 281.72 L945.8 281.56 L947.3 281.38 L948.8 281.16 L950.29 280.92 L951.79 280.64 L953.29 280.33 L954.78 279.97 L956.28 279.57 L957.78 279.12 L959.27 278.62 L960.77 278.07 L962.27 277.46 L963.76 276.81 L965.26 276.1 L966.76 275.36 L968.25 274.58 L969.75 273.77 L971.25 272.93 L972.74 272.07 L974.24 271.2 L975.74 270.31 L977.23 269.42 L978.73 268.53 L980.23 267.64 L981.73 266.76 L983.22 265.89 L984.72 265.04 L986.22 264.21 L987.71 263.39 L989.21 262.59 L990.71 261.8 L992.2 261.03 L993.7 260.27 L995.2 259.51 L996.69 258.77 L998.19 258.03 L999.69 257.3 L1001.18 256.58 L1002.68 255.86 L1004.18 255.15 L1005.67 254.44 L1007.17 253.72 L1008.67 253.01 L1010.17 252.3 L1011.66 251.58 L1013.16 250.86 L1014.66 250.12 L1016.15 249.36 L1017.65 248.58 L1019.15 247.78 L1020.64 246.96 L1022.14 246.1 L1023.64 245.2 L1025.13 244.27 L1026.63 243.3 L1028.13 242.28 L1029.62 241.21 L1031.12 240.09 L1032.62 238.91 L1034.11 237.67 L1035.61 236.37 L1037.11 235 L1038.6 233.56 L1040.1 232.04 L1041.6 230.44 L1043.1 228.76 L1044.59 227 L1046.09 225.15 L1047.59 223.2 L1049.08 221.19 L1050.58 219.12 L1052.08 217.02 L1053.57 214.9 L1055.07 212.78 L1056.57 210.68 L1058.06 208.63 L1059.56 206.61 L1061.06 204.63 L1062.55 202.64 L1064.05 200.62 L1065.55 198.54 L1067.04 196.37 L1068.54 194.16 L1070.04 192.01 L1071.53 190.02 L1073.03 188.27 L1074.53 186.87 L1076.03 185.89 L1077.52 185.45 L1079.02 185.58 L1080.52 186.2 L1082.01 187.15 L1083.51 188.3 L1085.01 189.51 L1086.5 190.73 L1088 191.97 L1089.5 193.21 L1090.99 194.47 L1092.49 195.74 L1093.99 197.02 L1095.48 198.31 L1096.98 199.62 L1098.48 200.94 L1099.97 202.27 L1101.47 203.62 L1102.97 204.98 L1104.47 206.34 L1105.96 207.7 L1107.46 209.06 L1108.96 210.4 L1110.45 211.71 L1111.95 213 L1113.45 214.25 L1114.94 215.46 L1116.44 216.62 L1117.94 217.72 L1119.43 218.75 L1120.93 219.72 L1122.43 220.61 L1123.92 221.42 L1125.42 222.14 L1126.92 222.79 L1128.41 223.37 L1129.91 223.88 L1131.41 224.34 L1132.9 224.73 L1134.4 225.08 L1135.9 225.38 L1137.4 225.64 L1138.89 225.87 L1140.39 226.06 L1141.89 226.23 L1143.38 226.38 L1144.88 226.52 L1146.38 226.64 L1147.87 226.76 L1149.37 226.88 L1150.87 227 L1152.36 227.12 L1153.86 227.24 L1155.36 227.36 L1156.85 227.49 L1158.35 227.63 L1159.85 227.77 L1161.34 227.92 L1162.84 228.08 L1164.34 228.25 L1165.83 228.43 L1167.33 228.62 L1168.83 228.82 L1170.33 229.04 L1171.82 229.27 L1173.32 229.52 L1174.82 229.78 L1176.31 230.07 L1177.81 230.37 L1179.31 230.69 L1180.8 231.03 L1182.3 231.4 L1183.8 231.78 L1185.29 232.19 L1186.79 232.63 L1188.29 233.09 L1189.78 233.58 L1191.28 234.1 L1192.78 234.65 L1194.27 235.22 L1195.77 235.83 L1197.27 236.47 L1198.77 237.14 L1200.26 237.85 L1201.76 238.59 L1203.26 239.37 L1204.75 240.16 L1206.25 240.97 L1207.75 241.79 L1209.24 242.61 L1210.74 243.42 L1212.24 244.22 L1213.73 245.01 L1215.23 245.76 L1216.73 246.49 L1218.22 247.17 L1219.72 247.81 L1221.22 248.4 L1222.71 248.92 L1224.21 249.38 L1225.71 249.77 L1227.2 250.07 L1228.7 250.29 L1230.2 250.41 L1231.7 250.43 L1233.19 250.36 L1234.69 250.2 L1236.19 249.95 L1237.68 249.64 L1239.18 249.26 L1240.68 248.83 L1242.17 248.34 L1243.67 247.82 L1245.17 247.26 L1246.66 246.68 L1248.16 246.09 L1249.66 245.48 L1251.15 244.88 L1252.65 244.28 L1254.15 243.7 L1255.64 243.14 L1257.14 242.62 L1258.64 242.12 L1260.13 241.64 L1261.63 241.19 L1263.13 240.75 L1264.63 240.33 L1266.12 239.93 L1267.62 239.53 L1269.12 239.14 L1270.61 238.75 L1272.11 238.35 L1273.61 237.96 L1275.1 237.56 L1276.6 237.15 L1278.1 236.72 L1279.59 236.28 L1281.09 235.82 L1282.59 235.34 L1284.08 234.84 L1285.58 234.33 L1287.08 233.79 L1288.57 233.24 L1290.07 232.68 L1291.57 232.1 L1293.07 231.52 L1294.56 230.92 L1296.06 230.32 L1297.56 229.71 L1299.05 229.1 L1300.55 228.48 L1302.05 227.86 L1303.54 227.24 L1305.04 226.62 L1306.54 226.01 L1308.03 225.39 L1309.53 224.78 L1311.03 224.17 L1312.52 223.57 L1314.02 222.96 L1315.52 222.36 L1317.01 221.75 L1318.51 221.15 L1320.01 220.54 L1321.5 219.94 L1323 219.33 L1324.5 218.73 L1326 218.12 L1327.49 217.51 L1328.99 216.89 L1330.49 216.28 L1331.98 215.66 L1333.48 215.04 L1334.98 214.41 L1336.47 213.78 L1337.97 213.14 L1339.47 212.5 L1340.96 211.85 L1342.46 211.19 L1343.96 210.53 L1345.45 209.86 L1346.95 209.19 L1348.45 208.51 L1349.94 207.82 L1351.44 207.12 L1352.94 206.41 L1354.43 205.69 L1355.93 204.96 L1357.43 204.23 L1358.93 203.48 L1360.42 202.72 L1361.92 201.95 L1363.42 201.17 L1364.91 200.37 L1366.41 199.57 L1367.91 198.75 L1369.4 197.92 L1370.9 197.07" fill="none" stroke="#000" stroke-width="2.6" stroke-dasharray="10 4 2.5 4"/>
<path d="M806.8 611.57 L808.3 610.36 L809.79 609.18 L811.29 608.03 L812.79 606.9 L814.28 605.8 L815.78 604.71 L817.27 603.65 L818.77 602.62 L820.27 601.6 L821.76 600.61 L823.26 599.63 L824.76 598.68 L826.25 597.74 L827.75 596.83 L829.24 595.93 L830.74 595.05 L832.24 594.19 L833.73 593.34 L835.23 592.51 L836.73 591.69 L838.22 590.89 L839.72 590.11 L841.21 589.33 L842.71 588.57 L844.21 587.83 L845.7 587.09 L847.2 586.37 L848.7 585.65 L850.19 584.95 L851.69 584.25 L853.18 583.57 L854.68 582.89 L856.18 582.22 L857.67 581.56 L859.17 580.91 L860.67 580.26 L862.16 579.62 L863.66 578.98 L865.16 578.34 L866.65 577.71 L868.15 577.09 L869.64 576.46 L871.14 575.84 L872.64 575.22 L874.13 574.6 L875.63 573.98 L877.13 573.36 L878.62 572.74 L880.12 572.12 L881.61 571.5 L883.11 570.88 L884.61 570.26 L886.1 569.65 L887.6 569.03 L889.1 568.41 L890.59 567.79 L892.09 567.17 L893.58 566.55 L895.08 565.93 L896.58 565.31 L898.07 564.69 L899.57 564.07 L901.07 563.45 L902.56 562.83 L904.06 562.21 L905.55 561.58 L907.05 560.96 L908.55 560.34 L910.04 559.71 L911.54 559.08 L913.04 558.46 L914.53 557.83 L916.03 557.2 L917.53 556.57 L919.02 555.94 L920.52 555.31 L922.01 554.68 L923.51 554.04 L925.01 553.41 L926.5 552.77 L928 552.13 L929.5 551.5 L930.99 550.86 L932.49 550.22 L933.98 549.57 L935.48 548.93 L936.98 548.29 L938.47 547.65 L939.97 547 L941.47 546.36 L942.96 545.72 L944.46 545.08 L945.95 544.43 L947.45 543.79 L948.95 543.15 L950.44 542.51 L951.94 541.87 L953.44 541.23 L954.93 540.59 L956.43 539.95 L957.92 539.31 L959.42 538.68 L960.92 538.05 L962.41 537.41 L963.91 536.78 L965.41 536.15 L966.9 535.53 L968.4 534.9 L969.9 534.28 L971.39 533.66 L972.89 533.04 L974.38 532.43 L975.88 531.81 L977.38 531.2 L978.87 530.6 L980.37 529.99 L981.87 529.39 L983.36 528.8 L984.86 528.2 L986.35 527.61 L987.85 527.02 L989.35 526.44 L990.84 525.86 L992.34 525.28 L993.84 524.71 L995.33 524.14 L996.83 523.57 L998.32 523 L999.82 522.44 L1001.32 521.88 L1002.81 521.32 L1004.31 520.76 L1005.81 520.2 L1007.3 519.65 L1008.8 519.09 L1010.29 518.55 L1011.79 518 L1013.29 517.45 L1014.78 516.91 L1016.28 516.37 L1017.78 515.83 L1019.27 515.3 L1020.77 514.76 L1022.27 514.23 L1023.76 513.7 L1025.26 513.17 L1026.75 512.65 L1028.25 512.12 L1029.75 511.6 L1031.24 511.08 L1032.74 510.55 L1034.24 510.03 L1035.73 509.52 L1037.23 509 L1038.72 508.48 L1040.22 507.97 L1041.72 507.45 L1043.21 506.94 L1044.71 506.43 L1046.21 505.92 L1047.7 505.41 L1049.2 504.9 L1050.69 504.39 L1052.19 503.88 L1053.69 503.37 L1055.18 502.86 L1056.68 502.35 L1058.18 501.84 L1059.67 501.34 L1061.17 500.84 L1062.66 500.34 L1064.16 499.84 L1065.66 499.36 L1067.15 498.88 L1068.65 498.4 L1070.15 497.94 L1071.64 497.49 L1073.14 497.05 L1074.64 496.62 L1076.13 496.21 L1077.63 495.81 L1079.12 495.43 L1080.62 495.06 L1082.12 494.71 L1083.61 494.38 L1085.11 494.07 L1086.61 493.78 L1088.1 493.52 L1089.6 493.28 L1091.09 493.06 L1092.59 492.87 L1094.09 492.7 L1095.58 492.56 L1097.08 492.45 L1098.58 492.36 L1100.07 492.3 L1101.57 492.26 L1103.06 492.24 L1104.56 492.24 L1106.06 492.25 L1107.55 492.27 L1109.05 492.31 L1110.55 492.35 L1112.04 492.4 L1113.54 492.46 L1115.04 492.52 L1116.53 492.58 L1118.03 492.64 L1119.52 492.7 L1121.02 492.75 L1122.52 492.8 L1124.01 492.85 L1125.51 492.89 L1127.01 492.92 L1128.5 492.95 L1130 492.97 L1131.49 492.98 L1132.99 492.99 L1134.49 492.99 L1135.98 492.97 L1137.48 492.95 L1138.98 492.92 L1140.47 492.88 L1141.97 492.82 L1143.46 492.75 L1144.96 492.67 L1146.46 492.58 L1147.95 492.48 L1149.45 492.36 L1150.95 492.23 L1152.44 492.09 L1153.94 491.94 L1155.43 491.78 L1156.93 491.6 L1158.43 491.41 L1159.92 491.21 L1161.42 491 L1162.92 490.78 L1164.41 490.55 L1165.91 490.3 L1167.41 490.05 L1168.9 489.78 L1170.4 489.5 L1171.89 489.21 L1173.39 488.91 L1174.89 488.6 L1176.38 488.28 L1177.88 487.94 L1179.38 487.6 L1180.87 487.25 L1182.37 486.88 L1183.86 486.51 L1185.36 486.13 L1186.86 485.73 L1188.35 485.33 L1189.85 484.91 L1191.35 484.49 L1192.84 484.05 L1194.34 483.61 L1195.83 483.15 L1197.33 482.69 L1198.83 482.21 L1200.32 481.73 L1201.82 481.24 L1203.32 480.74 L1204.81 480.23 L1206.31 479.71 L1207.8 479.18 L1209.3 478.64 L1210.8 478.09 L1212.29 477.53 L1213.79 476.97 L1215.29 476.4 L1216.78 475.81 L1218.28 475.22 L1219.78 474.62 L1221.27 474.02 L1222.77 473.4 L1224.26 472.77 L1225.76 472.14 L1227.26 471.5 L1228.75 470.84 L1230.25 470.18 L1231.75 469.51 L1233.24 468.83 L1234.74 468.14 L1236.23 467.43 L1237.73 466.72 L1239.23 466 L1240.72 465.27 L1242.22 464.53 L1243.72 463.78 L1245.21 463.01 L1246.71 462.24 L1248.2 461.45 L1249.7 460.66 L1251.2 459.81 L1252.69 458.95 L1254.19 458.07 L1255.69 457.18 L1257.18 456.28 L1258.68 455.36 L1260.17 454.44 L1261.67 453.5 L1263.17 452.55 L1264.66 451.59 L1266.16 450.62 L1267.66 449.63 L1269.15 448.63 L1270.65 447.62 L1272.15 446.59 L1273.64 445.56 L1275.14 444.51 L1276.63 443.44 L1278.13 442.36 L1279.63 441.27 L1281.12 440.17 L1282.62 439.05 L1284.12 437.92 L1285.61 436.77 L1287.11 435.61 L1288.6 434.44 L1290.1 433.25 L1291.6 432.04 L1293.09 430.82 L1294.59 429.59 L1296.09 428.35 L1297.58 427.08 L1299.08 425.81 L1300.57 424.53 L1302.07 423.23 L1303.57 421.93 L1305.06 420.61 L1306.56 419.29 L1308.06 417.96 L1309.55 416.62 L1311.05 415.27 L1312.54 413.92 L1314.04 412.56 L1315.54 411.2 L1317.03 409.84 L1318.53 408.48 L1320.03 407.11 L1321.52 405.74 L1323.02 404.37 L1324.52 403 L1326.01 401.63 L1327.51 400.27 L1329 398.91 L1330.5 397.55 L1332 396.19 L1333.49 394.84 L1334.99 393.5 L1336.49 392.16 L1337.98 390.84 L1339.48 389.51 L1340.97 388.2 L1342.47 386.9 L1343.97 385.61 L1345.46 384.33 L1346.96 383.06 L1348.46 381.8 L1349.95 380.56 L1351.45 379.33 L1352.94 378.12 L1354.44 376.92 L1355.94 375.74 L1357.43 374.58 L1358.93 373.43 L1360.43 372.31 L1361.92 371.2 L1363.42 370.11 L1364.91 369.05 L1366.41 368 L1367.91 366.98 L1369.4 365.99 L1370.9 365.02 L1370.9 378.81 L1369.4 379.68 L1367.91 380.58 L1366.41 381.49 L1364.91 382.44 L1363.42 383.4 L1361.92 384.38 L1360.43 385.39 L1358.93 386.41 L1357.43 387.46 L1355.94 388.52 L1354.44 389.6 L1352.94 390.69 L1351.45 391.81 L1349.95 392.93 L1348.46 394.07 L1346.96 395.23 L1345.46 396.4 L1343.97 397.58 L1342.47 398.77 L1340.97 399.97 L1339.48 401.18 L1337.98 402.4 L1336.49 403.63 L1334.99 404.86 L1333.49 406.1 L1332 407.35 L1330.5 408.6 L1329 409.86 L1327.51 411.12 L1326.01 412.39 L1324.52 413.65 L1323.02 414.92 L1321.52 416.19 L1320.03 417.45 L1318.53 418.72 L1317.03 419.98 L1315.54 421.25 L1314.04 422.5 L1312.54 423.76 L1311.05 425.01 L1309.55 426.25 L1308.06 427.49 L1306.56 428.72 L1305.06 429.94 L1303.57 431.16 L1302.07 432.36 L1300.57 433.55 L1299.08 434.74 L1297.58 435.91 L1296.09 437.07 L1294.59 438.21 L1293.09 439.35 L1291.6 440.46 L1290.1 441.56 L1288.6 442.65 L1287.11 443.73 L1285.61 444.78 L1284.12 445.83 L1282.62 446.86 L1281.12 447.88 L1279.63 448.88 L1278.13 449.87 L1276.63 450.85 L1275.14 451.81 L1273.64 452.76 L1272.15 453.69 L1270.65 454.62 L1269.15 455.53 L1267.66 456.43 L1266.16 457.31 L1264.66 458.18 L1263.17 459.04 L1261.67 459.89 L1260.17 460.73 L1258.68 461.55 L1257.18 462.36 L1255.69 463.16 L1254.19 463.95 L1252.69 464.73 L1251.2 465.49 L1249.7 466.25 L1248.2 467.03 L1246.71 467.8 L1245.21 468.55 L1243.72 469.3 L1242.22 470.03 L1240.72 470.75 L1239.23 471.47 L1237.73 472.17 L1236.23 472.86 L1234.74 473.55 L1233.24 474.22 L1231.75 474.88 L1230.25 475.53 L1228.75 476.18 L1227.26 476.81 L1225.76 477.44 L1224.26 478.05 L1222.77 478.66 L1221.27 479.26 L1219.78 479.85 L1218.28 480.43 L1216.78 481 L1215.29 481.56 L1213.79 482.12 L1212.29 482.66 L1210.8 483.2 L1209.3 483.73 L1207.8 484.25 L1206.31 484.76 L1204.81 485.26 L1203.32 485.75 L1201.82 486.24 L1200.32 486.71 L1198.83 487.17 L1197.33 487.63 L1195.83 488.07 L1194.34 488.51 L1192.84 488.94 L1191.35 489.35 L1189.85 489.76 L1188.35 490.15 L1186.86 490.54 L1185.36 490.92 L1183.86 491.28 L1182.37 491.64 L1180.87 491.98 L1179.38 492.32 L1177.88 492.64 L1176.38 492.96 L1174.89 493.26 L1173.39 493.55 L1171.89 493.83 L1170.4 494.1 L1168.9 494.36 L1167.41 494.61 L1165.91 494.85 L1164.41 495.08 L1162.92 495.29 L1161.42 495.5 L1159.92 495.69 L1158.43 495.87 L1156.93 496.04 L1155.43 496.19 L1153.94 496.34 L1152.44 496.47 L1150.95 496.59 L1149.45 496.7 L1147.95 496.8 L1146.46 496.89 L1144.96 496.96 L1143.46 497.02 L1141.97 497.07 L1140.47 497.11 L1138.98 497.13 L1137.48 497.15 L1135.98 497.15 L1134.49 497.14 L1132.99 497.13 L1131.49 497.1 L1130 497.07 L1128.5 497.03 L1127.01 496.98 L1125.51 496.93 L1124.01 496.87 L1122.52 496.81 L1121.02 496.74 L1119.52 496.67 L1118.03 496.59 L1116.53 496.51 L1115.04 496.43 L1113.54 496.36 L1112.04 496.28 L1110.55 496.21 L1109.05 496.15 L1107.55 496.09 L1106.06 496.05 L1104.56 496.02 L1103.06 496 L1101.57 496.01 L1100.07 496.03 L1098.58 496.07 L1097.08 496.14 L1095.58 496.23 L1094.09 496.35 L1092.59 496.5 L1091.09 496.67 L1089.6 496.87 L1088.1 497.1 L1086.61 497.35 L1085.11 497.62 L1083.61 497.91 L1082.12 498.22 L1080.62 498.55 L1079.12 498.9 L1077.63 499.27 L1076.13 499.65 L1074.64 500.05 L1073.14 500.46 L1071.64 500.89 L1070.15 501.32 L1068.65 501.77 L1067.15 502.22 L1065.66 502.69 L1064.16 503.16 L1062.66 503.63 L1061.17 504.12 L1059.67 504.6 L1058.18 505.09 L1056.68 505.58 L1055.18 506.07 L1053.69 506.57 L1052.19 507.06 L1050.69 507.55 L1049.2 508.04 L1047.7 508.54 L1046.21 509.03 L1044.71 509.53 L1043.21 510.02 L1041.72 510.52 L1040.22 511.02 L1038.72 511.51 L1037.23 512.01 L1035.73 512.51 L1034.24 513.02 L1032.74 513.52 L1031.24 514.02 L1029.75 514.53 L1028.25 515.04 L1026.75 515.54 L1025.26 516.05 L1023.76 516.57 L1022.27 517.08 L1020.77 517.59 L1019.27 518.11 L1017.78 518.63 L1016.28 519.15 L1014.78 519.68 L1013.29 520.2 L1011.79 520.73 L1010.29 521.26 L1008.8 521.79 L1007.3 522.33 L1005.81 522.86 L1004.31 523.4 L1002.81 523.95 L1001.32 524.49 L999.82 525.04 L998.32 525.6 L996.83 526.16 L995.33 526.72 L993.84 527.29 L992.34 527.86 L990.84 528.43 L989.35 529.01 L987.85 529.59 L986.35 530.17 L984.86 530.75 L983.36 531.34 L981.87 531.94 L980.37 532.53 L978.87 533.13 L977.38 533.74 L975.88 534.34 L974.38 534.95 L972.89 535.56 L971.39 536.17 L969.9 536.79 L968.4 537.41 L966.9 538.03 L965.41 538.65 L963.91 539.27 L962.41 539.9 L960.92 540.53 L959.42 541.15 L957.92 541.79 L956.43 542.42 L954.93 543.05 L953.44 543.68 L951.94 544.32 L950.44 544.96 L948.95 545.59 L947.45 546.23 L945.95 546.87 L944.46 547.5 L942.96 548.14 L941.47 548.78 L939.97 549.42 L938.47 550.06 L936.98 550.7 L935.48 551.33 L933.98 551.97 L932.49 552.61 L930.99 553.24 L929.5 553.88 L928 554.51 L926.5 555.15 L925.01 555.78 L923.51 556.41 L922.01 557.04 L920.52 557.67 L919.02 558.29 L917.53 558.92 L916.03 559.54 L914.53 560.17 L913.04 560.79 L911.54 561.41 L910.04 562.03 L908.55 562.65 L907.05 563.27 L905.55 563.89 L904.06 564.51 L902.56 565.13 L901.07 565.75 L899.57 566.36 L898.07 566.98 L896.58 567.59 L895.08 568.21 L893.58 568.82 L892.09 569.44 L890.59 570.05 L889.1 570.67 L887.6 571.28 L886.1 571.9 L884.61 572.51 L883.11 573.12 L881.61 573.74 L880.12 574.35 L878.62 574.97 L877.13 575.58 L875.63 576.2 L874.13 576.81 L872.64 577.43 L871.14 578.04 L869.64 578.66 L868.15 579.28 L866.65 579.9 L865.16 580.53 L863.66 581.16 L862.16 581.79 L860.67 582.43 L859.17 583.07 L857.67 583.72 L856.18 584.38 L854.68 585.05 L853.18 585.72 L851.69 586.4 L850.19 587.09 L848.7 587.79 L847.2 588.5 L845.7 589.22 L844.21 589.95 L842.71 590.69 L841.21 591.45 L839.72 592.21 L838.22 593 L836.73 593.79 L835.23 594.6 L833.73 595.43 L832.24 596.27 L830.74 597.13 L829.24 598 L827.75 598.9 L826.25 599.81 L824.76 600.74 L823.26 601.69 L821.76 602.66 L820.27 603.65 L818.77 604.66 L817.27 605.69 L815.78 606.75 L814.28 607.82 L812.79 608.93 L811.29 610.05 L809.79 611.2 L808.3 612.37 L806.8 613.57 Z" fill="#8e8fb1" stroke="none"/>
<path d="M806.8 612.57 L808.3 611.37 L809.79 610.19 L811.29 609.04 L812.79 607.91 L814.28 606.81 L815.78 605.73 L817.27 604.67 L818.77 603.64 L820.27 602.62 L821.76 601.63 L823.26 600.66 L824.76 599.71 L826.25 598.78 L827.75 597.86 L829.24 596.97 L830.74 596.09 L832.24 595.23 L833.73 594.38 L835.23 593.56 L836.73 592.74 L838.22 591.94 L839.72 591.16 L841.21 590.39 L842.71 589.63 L844.21 588.89 L845.7 588.15 L847.2 587.43 L848.7 586.72 L850.19 586.02 L851.69 585.33 L853.18 584.64 L854.68 583.97 L856.18 583.3 L857.67 582.64 L859.17 581.99 L860.67 581.34 L862.16 580.7 L863.66 580.07 L865.16 579.44 L866.65 578.81 L868.15 578.18 L869.64 577.56 L871.14 576.94 L872.64 576.32 L874.13 575.7 L875.63 575.09 L877.13 574.47 L878.62 573.85 L880.12 573.24 L881.61 572.62 L883.11 572 L884.61 571.39 L886.1 570.77 L887.6 570.15 L889.1 569.54 L890.59 568.92 L892.09 568.3 L893.58 567.69 L895.08 567.07 L896.58 566.45 L898.07 565.83 L899.57 565.22 L901.07 564.6 L902.56 563.98 L904.06 563.36 L905.55 562.74 L907.05 562.12 L908.55 561.49 L910.04 560.87 L911.54 560.25 L913.04 559.62 L914.53 559 L916.03 558.37 L917.53 557.75 L919.02 557.12 L920.52 556.49 L922.01 555.86 L923.51 555.23 L925.01 554.59 L926.5 553.96 L928 553.32 L929.5 552.69 L930.99 552.05 L932.49 551.41 L933.98 550.77 L935.48 550.13 L936.98 549.49 L938.47 548.85 L939.97 548.21 L941.47 547.57 L942.96 546.93 L944.46 546.29 L945.95 545.65 L947.45 545.01 L948.95 544.37 L950.44 543.73 L951.94 543.09 L953.44 542.46 L954.93 541.82 L956.43 541.18 L957.92 540.55 L959.42 539.92 L960.92 539.29 L962.41 538.66 L963.91 538.03 L965.41 537.4 L966.9 536.78 L968.4 536.15 L969.9 535.53 L971.39 534.92 L972.89 534.3 L974.38 533.69 L975.88 533.08 L977.38 532.47 L978.87 531.87 L980.37 531.26 L981.87 530.67 L983.36 530.07 L984.86 529.48 L986.35 528.89 L987.85 528.3 L989.35 527.72 L990.84 527.14 L992.34 526.57 L993.84 526 L995.33 525.43 L996.83 524.86 L998.32 524.3 L999.82 523.74 L1001.32 523.19 L1002.81 522.63 L1004.31 522.08 L1005.81 521.53 L1007.3 520.99 L1008.8 520.44 L1010.29 519.9 L1011.79 519.36 L1013.29 518.83 L1014.78 518.29 L1016.28 517.76 L1017.78 517.23 L1019.27 516.71 L1020.77 516.18 L1022.27 515.66 L1023.76 515.13 L1025.26 514.61 L1026.75 514.1 L1028.25 513.58 L1029.75 513.06 L1031.24 512.55 L1032.74 512.04 L1034.24 511.53 L1035.73 511.02 L1037.23 510.51 L1038.72 510 L1040.22 509.49 L1041.72 508.99 L1043.21 508.48 L1044.71 507.98 L1046.21 507.47 L1047.7 506.97 L1049.2 506.47 L1050.69 505.97 L1052.19 505.47 L1053.69 504.97 L1055.18 504.47 L1056.68 503.97 L1058.18 503.47 L1059.67 502.97 L1061.17 502.48 L1062.66 501.99 L1064.16 501.5 L1065.66 501.02 L1067.15 500.55 L1068.65 500.09 L1070.15 499.63 L1071.64 499.19 L1073.14 498.76 L1074.64 498.34 L1076.13 497.93 L1077.63 497.54 L1079.12 497.17 L1080.62 496.81 L1082.12 496.47 L1083.61 496.15 L1085.11 495.85 L1086.61 495.57 L1088.1 495.31 L1089.6 495.08 L1091.09 494.87 L1092.59 494.68 L1094.09 494.53 L1095.58 494.4 L1097.08 494.29 L1098.58 494.22 L1100.07 494.17 L1101.57 494.13 L1103.06 494.12 L1104.56 494.13 L1106.06 494.15 L1107.55 494.18 L1109.05 494.23 L1110.55 494.28 L1112.04 494.34 L1113.54 494.41 L1115.04 494.48 L1116.53 494.55 L1118.03 494.62 L1119.52 494.68 L1121.02 494.75 L1122.52 494.8 L1124.01 494.86 L1125.51 494.91 L1127.01 494.95 L1128.5 494.99 L1130 495.02 L1131.49 495.04 L1132.99 495.06 L1134.49 495.06 L1135.98 495.06 L1137.48 495.05 L1138.98 495.03 L1140.47 494.99 L1141.97 494.95 L1143.46 494.89 L1144.96 494.82 L1146.46 494.73 L1147.95 494.64 L1149.45 494.53 L1150.95 494.41 L1152.44 494.28 L1153.94 494.14 L1155.43 493.99 L1156.93 493.82 L1158.43 493.64 L1159.92 493.45 L1161.42 493.25 L1162.92 493.04 L1164.41 492.81 L1165.91 492.58 L1167.41 492.33 L1168.9 492.07 L1170.4 491.8 L1171.89 491.52 L1173.39 491.23 L1174.89 490.93 L1176.38 490.62 L1177.88 490.29 L1179.38 489.96 L1180.87 489.62 L1182.37 489.26 L1183.86 488.9 L1185.36 488.52 L1186.86 488.14 L1188.35 487.74 L1189.85 487.33 L1191.35 486.92 L1192.84 486.49 L1194.34 486.06 L1195.83 485.61 L1197.33 485.16 L1198.83 484.69 L1200.32 484.22 L1201.82 483.74 L1203.32 483.25 L1204.81 482.74 L1206.31 482.23 L1207.8 481.71 L1209.3 481.18 L1210.8 480.65 L1212.29 480.1 L1213.79 479.54 L1215.29 478.98 L1216.78 478.41 L1218.28 477.83 L1219.78 477.24 L1221.27 476.64 L1222.77 476.03 L1224.26 475.41 L1225.76 474.79 L1227.26 474.15 L1228.75 473.51 L1230.25 472.86 L1231.75 472.19 L1233.24 471.52 L1234.74 470.84 L1236.23 470.15 L1237.73 469.45 L1239.23 468.73 L1240.72 468.01 L1242.22 467.28 L1243.72 466.54 L1245.21 465.78 L1246.71 465.02 L1248.2 464.24 L1249.7 463.46 L1251.2 462.66 L1252.69 461.85 L1254.19 461.03 L1255.69 460.2 L1257.18 459.36 L1258.68 458.5 L1260.17 457.63 L1261.67 456.75 L1263.17 455.86 L1264.66 454.96 L1266.16 454.04 L1267.66 453.12 L1269.15 452.17 L1270.65 451.22 L1272.15 450.25 L1273.64 449.27 L1275.14 448.28 L1276.63 447.28 L1278.13 446.26 L1279.63 445.22 L1281.12 444.18 L1282.62 443.12 L1284.12 442.04 L1285.61 440.95 L1287.11 439.85 L1288.6 438.74 L1290.1 437.6 L1291.6 436.46 L1293.09 435.3 L1294.59 434.12 L1296.09 432.94 L1297.58 431.73 L1299.08 430.52 L1300.57 429.29 L1302.07 428.05 L1303.57 426.81 L1305.06 425.55 L1306.56 424.28 L1308.06 423.01 L1309.55 421.73 L1311.05 420.44 L1312.54 419.15 L1314.04 417.85 L1315.54 416.55 L1317.03 415.24 L1318.53 413.94 L1320.03 412.63 L1321.52 411.32 L1323.02 410.01 L1324.52 408.7 L1326.01 407.39 L1327.51 406.08 L1329 404.78 L1330.5 403.48 L1332 402.18 L1333.49 400.89 L1334.99 399.6 L1336.49 398.32 L1337.98 397.05 L1339.48 395.79 L1340.97 394.54 L1342.47 393.29 L1343.97 392.06 L1345.46 390.83 L1346.96 389.62 L1348.46 388.43 L1349.95 387.24 L1351.45 386.07 L1352.94 384.92 L1354.44 383.78 L1355.94 382.66 L1357.43 381.55 L1358.93 380.46 L1360.43 379.39 L1361.92 378.35 L1363.42 377.32 L1364.91 376.31 L1366.41 375.33 L1367.91 374.36 L1369.4 373.43 L1370.9 372.51" fill="none" stroke="#000" stroke-width="1.0"/>
<path d="M806.8 612.57 L808.3 611.37 L809.79 610.19 L811.29 609.04 L812.79 607.91 L814.28 606.81 L815.78 605.73 L817.27 604.67 L818.77 603.64 L820.27 602.62 L821.76 601.63 L823.26 600.66 L824.76 599.71 L826.25 598.78 L827.75 597.86 L829.24 596.97 L830.74 596.09 L832.24 595.23 L833.73 594.38 L835.23 593.56 L836.73 592.74 L838.22 591.94 L839.72 591.16 L841.21 590.39 L842.71 589.63 L844.21 588.89 L845.7 588.15 L847.2 587.43 L848.7 586.72 L850.19 586.02 L851.69 585.33 L853.18 584.64 L854.68 583.97 L856.18 583.3 L857.67 582.64 L859.17 581.99 L860.67 581.34 L862.16 580.7 L863.66 580.07 L865.16 579.44 L866.65 578.81 L868.15 578.18 L869.64 577.56 L871.14 576.94 L872.64 576.32 L874.13 575.7 L875.63 575.09 L877.13 574.47 L878.62 573.85 L880.12 573.24 L881.61 572.62 L883.11 572 L884.61 571.39 L886.1 570.77 L887.6 570.15 L889.1 569.54 L890.59 568.92 L892.09 568.3 L893.58 567.69 L895.08 567.07 L896.58 566.45 L898.07 565.83 L899.57 565.22 L901.07 564.6 L902.56 563.98 L904.06 563.36 L905.55 562.74 L907.05 562.12 L908.55 561.49 L910.04 560.87 L911.54 560.25 L913.04 559.62 L914.53 559 L916.03 558.37 L917.53 557.75 L919.02 557.12 L920.52 556.49 L922.01 555.86 L923.51 555.23 L925.01 554.59 L926.5 553.96 L928 553.32 L929.5 552.69 L930.99 552.05 L932.49 551.41 L933.98 550.77 L935.48 550.13 L936.98 549.49 L938.47 548.85 L939.97 548.21 L941.47 547.57 L942.96 546.93 L944.46 546.29 L945.95 545.65 L947.45 545.01 L948.95 544.37 L950.44 543.73 L951.94 543.09 L953.44 542.46 L954.93 541.82 L956.43 541.18 L957.92 540.55 L959.42 539.92 L960.92 539.29 L962.41 538.66 L963.91 538.03 L965.41 537.4 L966.9 536.78 L968.4 536.15 L969.9 535.53 L971.39 534.92 L972.89 534.3 L974.38 533.69 L975.88 533.08 L977.38 532.47 L978.87 531.87 L980.37 531.26 L981.87 530.67 L983.36 530.07 L984.86 529.48 L986.35 528.89 L987.85 528.3 L989.35 527.72 L990.84 527.14 L992.34 526.57 L993.84 526 L995.33 525.43 L996.83 524.86 L998.32 524.3 L999.82 523.74 L1001.32 523.19 L1002.81 522.63 L1004.31 522.08 L1005.81 521.53 L1007.3 520.99 L1008.8 520.44 L1010.29 519.9 L1011.79 519.36 L1013.29 518.83 L1014.78 518.29 L1016.28 517.76 L1017.78 517.23 L1019.27 516.71 L1020.77 516.18 L1022.27 515.66 L1023.76 515.13 L1025.26 514.61 L1026.75 514.1 L1028.25 513.58 L1029.75 513.06 L1031.24 512.55 L1032.74 512.04 L1034.24 511.53 L1035.73 511.02 L1037.23 510.51 L1038.72 510 L1040.22 509.49 L1041.72 508.99 L1043.21 508.48 L1044.71 507.98 L1046.21 507.47 L1047.7 506.97 L1049.2 506.47 L1050.69 505.97 L1052.19 505.47 L1053.69 504.97 L1055.18 504.47 L1056.68 503.97 L1058.18 503.47 L1059.67 502.97 L1061.17 502.48 L1062.66 501.99 L1064.16 501.5 L1065.66 501.02 L1067.15 500.55 L1068.65 500.09 L1070.15 499.63 L1071.64 499.19 L1073.14 498.76 L1074.64 498.34 L1076.13 497.93 L1077.63 497.54 L1079.12 497.17 L1080.62 496.81 L1082.12 496.47 L1083.61 496.15 L1085.11 495.85 L1086.61 495.57 L1088.1 495.31 L1089.6 495.08 L1091.09 494.87 L1092.59 494.68 L1094.09 494.53 L1095.58 494.4 L1097.08 494.29 L1098.58 494.22 L1100.07 494.17 L1101.57 494.13 L1103.06 494.12 L1104.56 494.13 L1106.06 494.15 L1107.55 494.18 L1109.05 494.23 L1110.55 494.28 L1112.04 494.34 L1113.54 494.41 L1115.04 494.48 L1116.53 494.55 L1118.03 494.62 L1119.52 494.68 L1121.02 494.75 L1122.52 494.8 L1124.01 494.86 L1125.51 494.91 L1127.01 494.95 L1128.5 494.99 L1130 495.02 L1131.49 495.04 L1132.99 495.06 L1134.49 495.06 L1135.98 495.06 L1137.48 495.05 L1138.98 495.03 L1140.47 494.99 L1141.97 494.95 L1143.46 494.89 L1144.96 494.82 L1146.46 494.73 L1147.95 494.64 L1149.45 494.53 L1150.95 494.41 L1152.44 494.28 L1153.94 494.14 L1155.43 493.99 L1156.93 493.82 L1158.43 493.64 L1159.92 493.45 L1161.42 493.25 L1162.92 493.04 L1164.41 492.81 L1165.91 492.58 L1167.41 492.33 L1168.9 492.07 L1170.4 491.8 L1171.89 491.52 L1173.39 491.23 L1174.89 490.93 L1176.38 490.62 L1177.88 490.29 L1179.38 489.96 L1180.87 489.62 L1182.37 489.26 L1183.86 488.9 L1185.36 488.52 L1186.86 488.14 L1188.35 487.74 L1189.85 487.33 L1191.35 486.92 L1192.84 486.49 L1194.34 486.06 L1195.83 485.61 L1197.33 485.16 L1198.83 484.69 L1200.32 484.22 L1201.82 483.74 L1203.32 483.25 L1204.81 482.74 L1206.31 482.23 L1207.8 481.71 L1209.3 481.18 L1210.8 480.65 L1212.29 480.1 L1213.79 479.54 L1215.29 478.98 L1216.78 478.41 L1218.28 477.83 L1219.78 477.24 L1221.27 476.64 L1222.77 476.03 L1224.26 475.41 L1225.76 474.79 L1227.26 474.15 L1228.75 473.51 L1230.25 472.86 L1231.75 472.19 L1233.24 471.52 L1234.74 470.84 L1236.23 470.15 L1237.73 469.45 L1239.23 468.73 L1240.72 468.01 L1242.22 467.28 L1243.72 466.54 L1245.21 465.78 L1246.71 465.02 L1248.2 464.24 L1249.7 463.46 L1251.2 462.66 L1252.69 461.85 L1254.19 461.03 L1255.69 460.2 L1257.18 459.36 L1258.68 458.5 L1260.17 457.63 L1261.67 456.75 L1263.17 455.86 L1264.66 454.96 L1266.16 454.04 L1267.66 453.12 L1269.15 452.17 L1270.65 451.22 L1272.15 450.25 L1273.64 449.27 L1275.14 448.28 L1276.63 447.28 L1278.13 446.26 L1279.63 445.22 L1281.12 444.18 L1282.62 443.12 L1284.12 442.04 L1285.61 440.95 L1287.11 439.85 L1288.6 438.74 L1290.1 437.6 L1291.6 436.46 L1293.09 435.3 L1294.59 434.12 L1296.09 432.94 L1297.58 431.73 L1299.08 430.52 L1300.57 429.29 L1302.07 428.05 L1303.57 426.81 L1305.06 425.55 L1306.56 424.28 L1308.06 423.01 L1309.55 421.73 L1311.05 420.44 L1312.54 419.15 L1314.04 417.85 L1315.54 416.55 L1317.03 415.24 L1318.53 413.94 L1320.03 412.63 L1321.52 411.32 L1323.02 410.01 L1324.52 408.7 L1326.01 407.39 L1327.51 406.08 L1329 404.78 L1330.5 403.48 L1332 402.18 L1333.49 400.89 L1334.99 399.6 L1336.49 398.32 L1337.98 397.05 L1339.48 395.79 L1340.97 394.54 L1342.47 393.29 L1343.97 392.06 L1345.46 390.83 L1346.96 389.62 L1348.46 388.43 L1349.95 387.24 L1351.45 386.07 L1352.94 384.92 L1354.44 383.78 L1355.94 382.66 L1357.43 381.55 L1358.93 380.46 L1360.43 379.39 L1361.92 378.35 L1363.42 377.32 L1364.91 376.31 L1366.41 375.33 L1367.91 374.36 L1369.4 373.43 L1370.9 372.51" fill="none" stroke="#000" stroke-width="2" stroke-dasharray="1.8 3"/>
<path d="M806.8 613.45 L808.3 613.1 L809.8 612.73 L811.3 612.34 L812.8 611.93 L814.29 611.5 L815.79 611.06 L817.29 610.6 L818.79 610.13 L820.29 609.64 L821.79 609.14 L823.29 608.62 L824.79 608.1 L826.29 607.56 L827.78 607.01 L829.28 606.46 L830.78 605.89 L832.28 605.32 L833.78 604.74 L835.28 604.15 L836.78 603.56 L838.28 602.96 L839.78 602.36 L841.28 601.76 L842.77 601.16 L844.27 600.55 L845.77 599.95 L847.27 599.34 L848.77 598.74 L850.27 598.14 L851.77 597.54 L853.27 596.95 L854.77 596.36 L856.26 595.77 L857.76 595.2 L859.26 594.63 L860.76 594.07 L862.26 593.51 L863.76 592.97 L865.26 592.44 L866.76 591.91 L868.26 591.41 L869.75 590.91 L871.25 590.43 L872.75 589.96 L874.25 589.51 L875.75 589.07 L877.25 588.65 L878.75 588.25 L880.25 587.87 L881.75 587.5 L883.25 587.16 L884.74 586.82 L886.24 586.51 L887.74 586.21 L889.24 585.92 L890.74 585.65 L892.24 585.39 L893.74 585.15 L895.24 584.92 L896.74 584.71 L898.23 584.5 L899.73 584.31 L901.23 584.13 L902.73 583.97 L904.23 583.81 L905.73 583.66 L907.23 583.52 L908.73 583.4 L910.23 583.28 L911.72 583.17 L913.22 583.07 L914.72 582.97 L916.22 582.89 L917.72 582.81 L919.22 582.73 L920.72 582.67 L922.22 582.61 L923.72 582.55 L925.22 582.5 L926.71 582.45 L928.21 582.41 L929.71 582.37 L931.21 582.33 L932.71 582.3 L934.21 582.27 L935.71 582.24 L937.21 582.22 L938.71 582.19 L940.2 582.18 L941.7 582.16 L943.2 582.15 L944.7 582.14 L946.2 582.13 L947.7 582.12 L949.2 582.12 L950.7 582.12 L952.2 582.13 L953.69 582.13 L955.19 582.14 L956.69 582.15 L958.19 582.16 L959.69 582.18 L961.19 582.2 L962.69 582.21 L964.19 582.24 L965.69 582.26 L967.19 582.29 L968.68 582.31 L970.18 582.34 L971.68 582.38 L973.18 582.41 L974.68 582.45 L976.18 582.48 L977.68 582.52 L979.18 582.56 L980.68 582.61 L982.17 582.65 L983.67 582.7 L985.17 582.74 L986.67 582.79 L988.17 582.84 L989.67 582.89 L991.17 582.95 L992.67 583 L994.17 583.06 L995.66 583.11 L997.16 583.17 L998.66 583.23 L1000.16 583.29 L1001.66 583.35 L1003.16 583.41 L1004.66 583.48 L1006.16 583.54 L1007.66 583.61 L1009.16 583.67 L1010.65 583.74 L1012.15 583.8 L1013.65 583.87 L1015.15 583.94 L1016.65 584.01 L1018.15 584.08 L1019.65 584.15 L1021.15 584.22 L1022.65 584.29 L1024.14 584.36 L1025.64 584.43 L1027.14 584.5 L1028.64 584.57 L1030.14 584.64 L1031.64 584.71 L1033.14 584.79 L1034.64 584.86 L1036.14 584.93 L1037.63 585 L1039.13 585.07 L1040.63 585.14 L1042.13 585.21 L1043.63 585.28 L1045.13 585.35 L1046.63 585.42 L1048.13 585.49 L1049.63 585.56 L1051.13 585.63 L1052.62 585.7 L1054.12 585.77 L1055.62 585.83 L1057.12 585.9 L1058.62 585.96 L1060.12 586.03 L1061.62 586.09 L1063.12 586.15 L1064.62 586.22 L1066.11 586.28 L1067.61 586.34 L1069.11 586.4 L1070.61 586.45 L1072.11 586.51 L1073.61 586.56 L1075.11 586.62 L1076.61 586.67 L1078.11 586.72 L1079.6 586.77 L1081.1 586.82 L1082.6 586.86 L1084.1 586.91 L1085.6 586.94 L1087.1 586.98 L1088.6 587.01 L1090.1 587.04 L1091.6 587.06 L1093.1 587.08 L1094.59 587.1 L1096.09 587.1 L1097.59 587.11 L1099.09 587.1 L1100.59 587.09 L1102.09 587.08 L1103.59 587.06 L1105.09 587.03 L1106.59 586.99 L1108.08 586.94 L1109.58 586.89 L1111.08 586.83 L1112.58 586.75 L1114.08 586.67 L1115.58 586.58 L1117.08 586.48 L1118.58 586.37 L1120.08 586.25 L1121.57 586.12 L1123.07 585.98 L1124.57 585.83 L1126.07 585.66 L1127.57 585.48 L1129.07 585.29 L1130.57 585.09 L1132.07 584.88 L1133.57 584.65 L1135.07 584.4 L1136.56 584.15 L1138.06 583.88 L1139.56 583.59 L1141.06 583.29 L1142.56 582.97 L1144.06 582.64 L1145.56 582.3 L1147.06 581.93 L1148.56 581.55 L1150.05 581.15 L1151.55 580.74 L1153.05 580.31 L1154.55 579.86 L1156.05 579.39 L1157.55 578.9 L1159.05 578.4 L1160.55 577.87 L1162.05 577.33 L1163.54 576.77 L1165.04 576.18 L1166.54 575.58 L1168.04 574.95 L1169.54 574.31 L1171.04 573.64 L1172.54 572.95 L1174.04 572.23 L1175.54 571.49 L1177.04 570.72 L1178.53 569.93 L1180.03 569.11 L1181.53 568.25 L1183.03 567.37 L1184.53 566.45 L1186.03 565.51 L1187.53 564.53 L1189.03 563.51 L1190.53 562.46 L1192.02 561.37 L1193.52 560.25 L1195.02 559.08 L1196.52 557.88 L1198.02 556.63 L1199.52 555.35 L1201.02 554.02 L1202.52 552.64 L1204.02 551.22 L1205.51 549.76 L1207.01 548.25 L1208.51 546.71 L1210.01 545.14 L1211.51 543.57 L1213.01 541.99 L1214.51 540.43 L1216.01 538.9 L1217.51 537.4 L1219.01 535.95 L1220.5 534.56 L1222 533.25 L1223.5 532.02 L1225 530.88 L1226.5 529.83 L1228 528.86 L1229.5 527.97 L1231 527.15 L1232.5 526.41 L1233.99 525.73 L1235.49 525.12 L1236.99 524.57 L1238.49 524.08 L1239.99 523.64 L1241.49 523.25 L1242.99 522.9 L1244.49 522.59 L1245.99 522.33 L1247.48 522.09 L1248.98 521.89 L1250.48 521.72 L1251.98 521.56 L1253.48 521.43 L1254.98 521.31 L1256.48 521.2 L1257.98 521.1 L1259.48 521.01 L1260.98 520.91 L1262.47 520.81 L1263.97 520.71 L1265.47 520.59 L1266.97 520.46 L1268.47 520.31 L1269.97 520.13 L1271.47 519.94 L1272.97 519.73 L1274.47 519.5 L1275.96 519.25 L1277.46 518.99 L1278.96 518.71 L1280.46 518.41 L1281.96 518.1 L1283.46 517.77 L1284.96 517.44 L1286.46 517.09 L1287.96 516.73 L1289.45 516.35 L1290.95 515.97 L1292.45 515.58 L1293.95 515.19 L1295.45 514.78 L1296.95 514.37 L1298.45 513.95 L1299.95 513.53 L1301.45 513.1 L1302.95 512.66 L1304.44 512.21 L1305.94 511.76 L1307.44 511.31 L1308.94 510.85 L1310.44 510.38 L1311.94 509.91 L1313.44 509.44 L1314.94 508.96 L1316.44 508.48 L1317.93 507.99 L1319.43 507.5 L1320.93 507.01 L1322.43 506.51 L1323.93 506.01 L1325.43 505.51 L1326.93 505 L1328.43 504.5 L1329.93 503.99 L1331.42 503.48 L1332.92 502.96 L1334.42 502.45 L1335.92 501.94 L1337.42 501.42 L1338.92 500.9 L1340.42 500.39 L1341.92 499.87 L1343.42 499.35 L1344.92 498.84 L1346.41 498.32 L1347.91 497.81 L1349.41 497.29 L1350.91 496.78 L1352.41 496.27 L1353.91 495.76 L1355.41 495.25 L1356.91 494.75 L1358.41 494.25 L1359.9 493.75 L1361.4 493.25 L1362.9 492.76 L1364.4 492.26 L1365.9 491.78" fill="none" stroke="#000" stroke-width="2.6" stroke-dasharray="9 8.5"/>
<path d="M804.6 631.61 L806.1 630.7 L807.6 629.88 L809.09 629.15 L810.59 628.5 L812.09 627.92 L813.59 627.41 L815.09 626.95 L816.59 626.55 L818.08 626.2 L819.58 625.89 L821.08 625.61 L822.58 625.36 L824.08 625.14 L825.57 624.93 L827.07 624.73 L828.57 624.53 L830.07 624.33 L831.57 624.13 L833.06 623.93 L834.56 623.72 L836.06 623.52 L837.56 623.3 L839.06 623.09 L840.56 622.88 L842.05 622.66 L843.55 622.44 L845.05 622.22 L846.55 622 L848.05 621.78 L849.54 621.55 L851.04 621.32 L852.54 621.09 L854.04 620.86 L855.54 620.63 L857.04 620.4 L858.53 620.16 L860.03 619.93 L861.53 619.69 L863.03 619.45 L864.53 619.21 L866.02 618.97 L867.52 618.73 L869.02 618.49 L870.52 618.25 L872.02 618 L873.51 617.76 L875.01 617.51 L876.51 617.26 L878.01 617 L879.51 616.74 L881.01 616.48 L882.5 616.21 L884 615.94 L885.5 615.66 L887 615.38 L888.5 615.09 L889.99 614.8 L891.49 614.49 L892.99 614.19 L894.49 613.87 L895.99 613.54 L897.49 613.21 L898.98 612.87 L900.48 612.52 L901.98 612.16 L903.48 611.79 L904.98 611.41 L906.47 611.02 L907.97 610.61 L909.47 610.2 L910.97 609.77 L912.47 609.34 L913.96 608.89 L915.46 608.42 L916.96 607.94 L918.46 607.45 L919.96 606.95 L921.46 606.43 L922.95 605.89 L924.45 605.34 L925.95 604.78 L927.45 604.19 L928.95 603.6 L930.44 602.98 L931.94 602.36 L933.44 601.72 L934.94 601.07 L936.44 600.4 L937.94 599.73 L939.43 599.04 L940.93 598.35 L942.43 597.65 L943.93 596.93 L945.43 596.21 L946.92 595.49 L948.42 594.75 L949.92 594.01 L951.42 593.27 L952.92 592.52 L954.41 591.77 L955.91 591.01 L957.41 590.25 L958.91 589.5 L960.41 588.73 L961.91 587.97 L963.4 587.21 L964.9 586.45 L966.4 585.7 L967.9 584.94 L969.4 584.19 L970.89 583.44 L972.39 582.69 L973.89 581.95 L975.39 581.22 L976.89 580.49 L978.39 579.77 L979.88 579.06 L981.38 578.35 L982.88 577.66 L984.38 576.97 L985.88 576.3 L987.37 575.63 L988.87 574.98 L990.37 574.34 L991.87 573.72 L993.37 573.1 L994.86 572.5 L996.36 571.92 L997.86 571.35 L999.36 570.8 L1000.86 570.26 L1002.36 569.73 L1003.85 569.21 L1005.35 568.71 L1006.85 568.21 L1008.35 567.73 L1009.85 567.25 L1011.34 566.78 L1012.84 566.32 L1014.34 565.86 L1015.84 565.41 L1017.34 564.96 L1018.84 564.51 L1020.33 564.07 L1021.83 563.63 L1023.33 563.19 L1024.83 562.74 L1026.33 562.3 L1027.82 561.86 L1029.32 561.41 L1030.82 560.95 L1032.32 560.47 L1033.82 559.98 L1035.31 559.47 L1036.81 558.94 L1038.31 558.37 L1039.81 557.78 L1041.31 557.16 L1042.81 556.49 L1044.3 555.79 L1045.8 555.05 L1047.3 554.27 L1048.8 553.48 L1050.3 552.67 L1051.79 551.85 L1053.29 551.04 L1054.79 550.23 L1056.29 549.43 L1057.79 548.66 L1059.29 547.92 L1060.78 547.21 L1062.28 546.54 L1063.78 545.9 L1065.28 545.29 L1066.78 544.71 L1068.27 544.16 L1069.77 543.64 L1071.27 543.15 L1072.77 542.69 L1074.27 542.26 L1075.76 541.86 L1077.26 541.49 L1078.76 541.14 L1080.26 540.82 L1081.76 540.52 L1083.26 540.26 L1084.75 540.01 L1086.25 539.79 L1087.75 539.6 L1089.25 539.43 L1090.75 539.28 L1092.24 539.15 L1093.74 539.05 L1095.24 538.97 L1096.74 538.91 L1098.24 538.87 L1099.74 538.85 L1101.23 538.85 L1102.73 538.87 L1104.23 538.9 L1105.73 538.96 L1107.23 539.03 L1108.72 539.12 L1110.22 539.22 L1111.72 539.34 L1113.22 539.47 L1114.72 539.62 L1116.21 539.78 L1117.71 539.95 L1119.21 540.13 L1120.71 540.33 L1122.21 540.54 L1123.71 540.75 L1125.2 540.98 L1126.7 541.22 L1128.2 541.46 L1129.7 541.72 L1131.2 541.98 L1132.69 542.24 L1134.19 542.52 L1135.69 542.8 L1137.19 543.08 L1138.69 543.37 L1140.19 543.66 L1141.68 543.96 L1143.18 544.26 L1144.68 544.57 L1146.18 544.89 L1147.68 545.21 L1149.17 545.54 L1150.67 545.87 L1152.17 546.22 L1153.67 546.57 L1155.17 546.93 L1156.66 547.31 L1158.16 547.69 L1159.66 548.08 L1161.16 548.48 L1162.66 548.89 L1164.16 549.32 L1165.65 549.76 L1167.15 550.21 L1168.65 550.67 L1170.15 551.14 L1171.65 551.63 L1173.14 552.14 L1174.64 552.66 L1176.14 553.19 L1177.64 553.74 L1179.14 554.31 L1180.64 554.89 L1182.13 555.49 L1183.63 556.1 L1185.13 556.74 L1186.63 557.39 L1188.13 558.06 L1189.62 558.75 L1191.12 559.46 L1192.62 560.19 L1194.12 560.94 L1195.62 561.71 L1197.11 562.51 L1198.61 563.32 L1200.11 564.16 L1201.61 565.02 L1203.11 565.9 L1204.61 566.81 L1206.1 567.74 L1207.6 568.69 L1209.1 569.65 L1210.6 570.62 L1212.1 571.58 L1213.59 572.52 L1215.09 573.44 L1216.59 574.33 L1218.09 575.17 L1219.59 575.97 L1221.09 576.7 L1222.58 577.37 L1224.08 577.96 L1225.58 578.47 L1227.08 578.88 L1228.58 579.19 L1230.07 579.39 L1231.57 579.47 L1233.07 579.43 L1234.57 579.29 L1236.07 579.04 L1237.56 578.71 L1239.06 578.3 L1240.56 577.82 L1242.06 577.28 L1243.56 576.68 L1245.06 576.04 L1246.55 575.37 L1248.05 574.68 L1249.55 573.97 L1251.05 573.26 L1252.55 572.54 L1254.04 571.85 L1255.54 571.17 L1257.04 570.52 L1258.54 569.91 L1260.04 569.31 L1261.54 568.74 L1263.03 568.19 L1264.53 567.66 L1266.03 567.14 L1267.53 566.63 L1269.03 566.13 L1270.52 565.63 L1272.02 565.14 L1273.52 564.65 L1275.02 564.16 L1276.52 563.65 L1278.01 563.15 L1279.51 562.62 L1281.01 562.09 L1282.51 561.54 L1284.01 560.97 L1285.51 560.39 L1287 559.8 L1288.5 559.19 L1290 558.56 L1291.5 557.93 L1293 557.28 L1294.49 556.62 L1295.99 555.95 L1297.49 555.27 L1298.99 554.58 L1300.49 553.88 L1301.99 553.17 L1303.48 552.45 L1304.98 551.72 L1306.48 550.99 L1307.98 550.25 L1309.48 549.51 L1310.97 548.76 L1312.47 548 L1313.97 547.24 L1315.47 546.47 L1316.97 545.71 L1318.46 544.94 L1319.96 544.16 L1321.46 543.39 L1322.96 542.61 L1324.46 541.84 L1325.96 541.06 L1327.45 540.29 L1328.95 539.51 L1330.45 538.74 L1331.95 537.97 L1333.45 537.2 L1334.94 536.44 L1336.44 535.68 L1337.94 534.92 L1339.44 534.17 L1340.94 533.43 L1342.44 532.69 L1343.93 531.95 L1345.43 531.23 L1346.93 530.51 L1348.43 529.8 L1349.93 529.1 L1351.42 528.41 L1352.92 527.73 L1354.42 527.06 L1355.92 526.4 L1357.42 525.76 L1358.91 525.12 L1360.41 524.5 L1361.91 523.89 L1363.41 523.3 L1364.91 522.72 L1366.41 522.15 L1367.9 521.6 L1369.4 521.07 L1370.9 520.55" fill="none" stroke="#000" stroke-width="2.6" stroke-dasharray="10 4 2.5 4"/>
<path d="M805.1 939.08 L806.6 938.26 L808.09 937.47 L809.59 936.68 L811.09 935.9 L812.58 935.13 L814.08 934.37 L815.58 933.63 L817.07 932.88 L818.57 932.15 L820.07 931.43 L821.57 930.71 L823.06 930 L824.56 929.29 L826.06 928.59 L827.55 927.89 L829.05 927.2 L830.55 926.51 L832.04 925.82 L833.54 925.13 L835.04 924.45 L836.53 923.77 L838.03 923.08 L839.53 922.4 L841.02 921.72 L842.52 921.03 L844.02 920.35 L845.51 919.66 L847.01 918.97 L848.51 918.27 L850 917.57 L851.5 916.87 L853 916.16 L854.5 915.44 L855.99 914.72 L857.49 913.99 L858.99 913.26 L860.48 912.51 L861.98 911.76 L863.48 911 L864.97 910.23 L866.47 909.44 L867.97 908.65 L869.46 907.85 L870.96 907.04 L872.46 906.22 L873.95 905.4 L875.45 904.57 L876.95 903.74 L878.44 902.9 L879.94 902.06 L881.44 901.21 L882.93 900.36 L884.43 899.51 L885.93 898.66 L887.43 897.82 L888.92 896.97 L890.42 896.12 L891.92 895.28 L893.41 894.44 L894.91 893.6 L896.41 892.77 L897.9 891.95 L899.4 891.13 L900.9 890.32 L902.39 889.52 L903.89 888.73 L905.39 887.94 L906.88 887.17 L908.38 886.41 L909.88 885.66 L911.37 884.92 L912.87 884.2 L914.37 883.49 L915.87 882.8 L917.36 882.12 L918.86 881.46 L920.36 880.82 L921.85 880.2 L923.35 879.59 L924.85 879 L926.34 878.43 L927.84 877.87 L929.34 877.33 L930.83 876.79 L932.33 876.28 L933.83 875.77 L935.32 875.28 L936.82 874.79 L938.32 874.31 L939.81 873.85 L941.31 873.39 L942.81 872.93 L944.3 872.48 L945.8 872.04 L947.3 871.6 L948.8 871.17 L950.29 870.73 L951.79 870.3 L953.29 869.87 L954.78 869.44 L956.28 869.01 L957.78 868.57 L959.27 868.13 L960.77 867.69 L962.27 867.25 L963.76 866.8 L965.26 866.34 L966.76 865.88 L968.25 865.41 L969.75 864.93 L971.25 864.44 L972.74 863.94 L974.24 863.43 L975.74 862.91 L977.23 862.38 L978.73 861.84 L980.23 861.29 L981.73 860.73 L983.22 860.16 L984.72 859.58 L986.22 858.99 L987.71 858.38 L989.21 857.76 L990.71 857.13 L992.2 856.49 L993.7 855.83 L995.2 855.16 L996.69 854.48 L998.19 853.78 L999.69 853.07 L1001.18 852.32 L1002.68 851.55 L1004.18 850.77 L1005.67 849.97 L1007.17 849.16 L1008.67 848.33 L1010.17 847.48 L1011.66 846.62 L1013.16 845.74 L1014.66 844.84 L1016.15 843.93 L1017.65 843 L1019.15 842.05 L1020.64 841.09 L1022.14 840.1 L1023.64 839.1 L1025.13 838.08 L1026.63 837.04 L1028.13 835.98 L1029.62 834.9 L1031.12 833.8 L1032.62 832.67 L1034.11 831.53 L1035.61 830.37 L1037.11 829.18 L1038.6 827.98 L1040.1 826.75 L1041.6 825.5 L1043.1 824.23 L1044.59 822.93 L1046.09 821.61 L1047.59 820.27 L1049.08 818.9 L1050.58 817.51 L1052.08 816.1 L1053.57 814.66 L1055.07 813.19 L1056.57 811.7 L1058.06 810.19 L1059.56 808.64 L1061.06 807.08 L1062.55 805.5 L1064.05 803.93 L1065.55 802.37 L1067.04 800.86 L1068.54 799.41 L1070.04 798.02 L1071.53 796.73 L1073.03 795.55 L1074.53 794.49 L1076.03 793.57 L1077.52 792.8 L1079.02 792.19 L1080.52 791.72 L1082.01 791.41 L1083.51 791.22 L1085.01 791.16 L1086.5 791.22 L1088 791.38 L1089.5 791.65 L1090.99 792.01 L1092.49 792.47 L1093.99 793 L1095.48 793.59 L1096.98 794.24 L1098.48 794.93 L1099.97 795.63 L1101.47 796.36 L1102.97 797.08 L1104.47 797.78 L1105.96 798.46 L1107.46 799.1 L1108.96 799.69 L1110.45 800.22 L1111.95 800.7 L1113.45 801.11 L1114.94 801.48 L1116.44 801.81 L1117.94 802.09 L1119.43 802.33 L1120.93 802.54 L1122.43 802.72 L1123.92 802.87 L1125.42 802.99 L1126.92 803.09 L1128.41 803.18 L1129.91 803.25 L1131.41 803.29 L1132.9 803.32 L1134.4 803.34 L1135.9 803.33 L1137.4 803.31 L1138.89 803.27 L1140.39 803.22 L1141.89 803.14 L1143.38 803.06 L1144.88 802.95 L1146.38 802.83 L1147.87 802.7 L1149.37 802.55 L1150.87 802.39 L1152.36 802.21 L1153.86 802.01 L1155.36 801.81 L1156.85 801.58 L1158.35 801.35 L1159.85 801.1 L1161.34 800.84 L1162.84 800.57 L1164.34 800.28 L1165.83 799.98 L1167.33 799.67 L1168.83 799.35 L1170.33 799.02 L1171.82 798.67 L1173.32 798.32 L1174.82 797.95 L1176.31 797.58 L1177.81 797.19 L1179.31 796.79 L1180.8 796.39 L1182.3 795.97 L1183.8 795.55 L1185.29 795.12 L1186.79 794.67 L1188.29 794.22 L1189.78 793.77 L1191.28 793.3 L1192.78 792.83 L1194.27 792.35 L1195.77 791.86 L1197.27 791.36 L1198.77 790.86 L1200.26 790.36 L1201.76 789.84 L1203.26 789.32 L1204.75 788.8 L1206.25 788.27 L1207.75 787.73 L1209.24 787.19 L1210.74 786.64 L1212.24 786.08 L1213.73 785.52 L1215.23 784.96 L1216.73 784.38 L1218.22 783.81 L1219.72 783.22 L1221.22 782.63 L1222.71 782.04 L1224.21 781.43 L1225.71 780.83 L1227.2 780.21 L1228.7 779.59 L1230.2 778.97 L1231.7 778.34 L1233.19 777.7 L1234.69 777.06 L1236.19 776.41 L1237.68 775.76 L1239.18 775.1 L1240.68 774.43 L1242.17 773.76 L1243.67 773.09 L1245.17 772.4 L1246.66 771.72 L1248.16 771.02 L1249.66 770.32 L1251.15 769.6 L1252.65 768.86 L1254.15 768.12 L1255.64 767.37 L1257.14 766.62 L1258.64 765.86 L1260.13 765.1 L1261.63 764.33 L1263.13 763.55 L1264.63 762.77 L1266.12 761.99 L1267.62 761.19 L1269.12 760.4 L1270.61 759.59 L1272.11 758.78 L1273.61 757.97 L1275.1 757.15 L1276.6 756.32 L1278.1 755.49 L1279.59 754.66 L1281.09 753.81 L1282.59 752.97 L1284.08 752.11 L1285.58 751.26 L1287.08 750.39 L1288.57 749.52 L1290.07 748.65 L1291.57 747.77 L1293.07 746.88 L1294.56 745.99 L1296.06 745.09 L1297.56 744.19 L1299.05 743.28 L1300.55 742.37 L1302.05 741.45 L1303.54 740.53 L1305.04 739.6 L1306.54 738.66 L1308.03 737.72 L1309.53 736.78 L1311.03 735.82 L1312.52 734.87 L1314.02 733.91 L1315.52 732.94 L1317.01 731.97 L1318.51 730.99 L1320.01 730.01 L1321.5 729.02 L1323 728.03 L1324.5 727.03 L1326 726.02 L1327.49 725.01 L1328.99 724 L1330.49 722.98 L1331.98 721.95 L1333.48 720.92 L1334.98 719.89 L1336.47 718.85 L1337.97 717.8 L1339.47 716.75 L1340.96 715.69 L1342.46 714.63 L1343.96 713.56 L1345.45 712.49 L1346.95 711.42 L1348.45 710.33 L1349.94 709.25 L1351.44 708.15 L1352.94 707.06 L1354.43 705.95 L1355.93 704.84 L1357.43 703.73 L1358.93 702.61 L1360.42 701.49 L1361.92 700.36 L1363.42 699.23 L1364.91 698.09 L1366.41 696.95 L1367.91 695.8 L1369.4 694.64 L1370.9 693.48 L1370.9 701.48 L1369.4 702.6 L1367.91 703.71 L1366.41 704.81 L1364.91 705.91 L1363.42 707 L1361.92 708.09 L1360.42 709.18 L1358.93 710.25 L1357.43 711.33 L1355.93 712.4 L1354.43 713.46 L1352.94 714.52 L1351.44 715.57 L1349.94 716.62 L1348.45 717.66 L1346.95 718.7 L1345.45 719.73 L1343.96 720.76 L1342.46 721.78 L1340.96 722.8 L1339.47 723.81 L1337.97 724.82 L1336.47 725.82 L1334.98 726.82 L1333.48 727.81 L1331.98 728.79 L1330.49 729.77 L1328.99 730.75 L1327.49 731.72 L1326 732.68 L1324.5 733.64 L1323 734.6 L1321.5 735.55 L1320.01 736.49 L1318.51 737.43 L1317.01 738.36 L1315.52 739.29 L1314.02 740.21 L1312.52 741.13 L1311.03 742.04 L1309.53 742.95 L1308.03 743.85 L1306.54 744.74 L1305.04 745.63 L1303.54 746.52 L1302.05 747.4 L1300.55 748.27 L1299.05 749.14 L1297.56 750 L1296.06 750.86 L1294.56 751.71 L1293.07 752.56 L1291.57 753.4 L1290.07 754.24 L1288.57 755.07 L1287.08 755.89 L1285.58 756.71 L1284.08 757.53 L1282.59 758.34 L1281.09 759.14 L1279.59 759.94 L1278.1 760.73 L1276.6 761.52 L1275.1 762.3 L1273.61 763.07 L1272.11 763.84 L1270.61 764.61 L1269.12 765.37 L1267.62 766.12 L1266.12 766.87 L1264.63 767.61 L1263.13 768.34 L1261.63 769.08 L1260.13 769.8 L1258.64 770.52 L1257.14 771.23 L1255.64 771.94 L1254.15 772.64 L1252.65 773.34 L1251.15 774.03 L1249.66 774.72 L1248.16 775.43 L1246.66 776.13 L1245.17 776.82 L1243.67 777.51 L1242.17 778.19 L1240.68 778.87 L1239.18 779.54 L1237.68 780.2 L1236.19 780.86 L1234.69 781.51 L1233.19 782.16 L1231.7 782.8 L1230.2 783.44 L1228.7 784.07 L1227.2 784.69 L1225.71 785.31 L1224.21 785.93 L1222.71 786.53 L1221.22 787.13 L1219.72 787.73 L1218.22 788.32 L1216.73 788.9 L1215.23 789.48 L1213.73 790.05 L1212.24 790.62 L1210.74 791.18 L1209.24 791.73 L1207.75 792.28 L1206.25 792.82 L1204.75 793.36 L1203.26 793.89 L1201.76 794.41 L1200.26 794.93 L1198.77 795.44 L1197.27 795.95 L1195.77 796.45 L1194.27 796.94 L1192.78 797.43 L1191.28 797.91 L1189.78 798.38 L1188.29 798.84 L1186.79 799.3 L1185.29 799.74 L1183.8 800.18 L1182.3 800.61 L1180.8 801.03 L1179.31 801.44 L1177.81 801.85 L1176.31 802.24 L1174.82 802.62 L1173.32 802.99 L1171.82 803.35 L1170.33 803.7 L1168.83 804.04 L1167.33 804.37 L1165.83 804.68 L1164.34 804.98 L1162.84 805.28 L1161.34 805.55 L1159.85 805.82 L1158.35 806.07 L1156.85 806.31 L1155.36 806.54 L1153.86 806.75 L1152.36 806.95 L1150.87 807.13 L1149.37 807.3 L1147.87 807.46 L1146.38 807.6 L1144.88 807.72 L1143.38 807.83 L1141.89 807.93 L1140.39 808 L1138.89 808.06 L1137.4 808.11 L1135.9 808.13 L1134.4 808.14 L1132.9 808.14 L1131.41 808.11 L1129.91 808.07 L1128.41 808.01 L1126.92 807.93 L1125.42 807.83 L1123.92 807.71 L1122.43 807.57 L1120.93 807.4 L1119.43 807.19 L1117.94 806.96 L1116.44 806.68 L1114.94 806.36 L1113.45 806 L1111.95 805.58 L1110.45 805.12 L1108.96 804.59 L1107.46 804.01 L1105.96 803.37 L1104.47 802.7 L1102.97 802 L1101.47 801.28 L1099.97 800.56 L1098.48 799.86 L1096.98 799.18 L1095.48 798.54 L1093.99 797.95 L1092.49 797.42 L1090.99 796.98 L1089.5 796.62 L1088 796.35 L1086.5 796.19 L1085.01 796.14 L1083.51 796.21 L1082.01 796.4 L1080.52 796.72 L1079.02 797.16 L1077.52 797.73 L1076.03 798.45 L1074.53 799.32 L1073.03 800.34 L1071.53 801.48 L1070.04 802.73 L1068.54 804.06 L1067.04 805.47 L1065.55 806.94 L1064.05 808.45 L1062.55 809.98 L1061.06 811.51 L1059.56 813.03 L1058.06 814.53 L1056.57 816 L1055.07 817.44 L1053.57 818.86 L1052.08 820.26 L1050.58 821.63 L1049.08 822.98 L1047.59 824.3 L1046.09 825.59 L1044.59 826.87 L1043.1 828.12 L1041.6 829.35 L1040.1 830.55 L1038.6 831.74 L1037.11 832.9 L1035.61 834.04 L1034.11 835.16 L1032.62 836.25 L1031.12 837.33 L1029.62 838.38 L1028.13 839.42 L1026.63 840.44 L1025.13 841.43 L1023.64 842.41 L1022.14 843.37 L1020.64 844.31 L1019.15 845.23 L1017.65 846.13 L1016.15 847.02 L1014.66 847.88 L1013.16 848.73 L1011.66 849.57 L1010.17 850.39 L1008.67 851.19 L1007.17 851.97 L1005.67 852.74 L1004.18 853.49 L1002.68 854.23 L1001.18 854.95 L999.69 855.67 L998.19 856.39 L996.69 857.09 L995.2 857.78 L993.7 858.46 L992.2 859.13 L990.71 859.78 L989.21 860.42 L987.71 861.04 L986.22 861.66 L984.72 862.26 L983.22 862.85 L981.73 863.43 L980.23 864 L978.73 864.55 L977.23 865.1 L975.74 865.64 L974.24 866.16 L972.74 866.68 L971.25 867.18 L969.75 867.68 L968.25 868.17 L966.76 868.65 L965.26 869.12 L963.76 869.58 L962.27 870.04 L960.77 870.5 L959.27 870.94 L957.78 871.39 L956.28 871.83 L954.78 872.27 L953.29 872.71 L951.79 873.15 L950.29 873.59 L948.8 874.03 L947.3 874.47 L945.8 874.92 L944.3 875.37 L942.81 875.83 L941.31 876.29 L939.81 876.75 L938.32 877.23 L936.82 877.71 L935.32 878.21 L933.83 878.71 L932.33 879.22 L930.83 879.75 L929.34 880.29 L927.84 880.84 L926.34 881.4 L924.85 881.99 L923.35 882.58 L921.85 883.2 L920.36 883.83 L918.86 884.48 L917.36 885.15 L915.87 885.83 L914.37 886.53 L912.87 887.25 L911.37 887.98 L909.88 888.72 L908.38 889.48 L906.88 890.25 L905.39 891.03 L903.89 891.82 L902.39 892.62 L900.9 893.43 L899.4 894.25 L897.9 895.07 L896.41 895.91 L894.91 896.74 L893.41 897.59 L891.92 898.43 L890.42 899.28 L888.92 900.14 L887.43 900.99 L885.93 901.85 L884.43 902.71 L882.93 903.56 L881.44 904.42 L879.94 905.27 L878.44 906.12 L876.95 906.97 L875.45 907.81 L873.95 908.65 L872.46 909.48 L870.96 910.3 L869.46 911.12 L867.97 911.93 L866.47 912.73 L864.97 913.52 L863.48 914.3 L861.98 915.07 L860.48 915.83 L858.99 916.58 L857.49 917.32 L855.99 918.06 L854.5 918.79 L853 919.51 L851.5 920.23 L850 920.94 L848.51 921.65 L847.01 922.35 L845.51 923.05 L844.02 923.75 L842.52 924.44 L841.02 925.13 L839.53 925.82 L838.03 926.51 L836.53 927.2 L835.04 927.89 L833.54 928.59 L832.04 929.28 L830.55 929.97 L829.05 930.67 L827.55 931.37 L826.06 932.08 L824.56 932.79 L823.06 933.5 L821.57 934.22 L820.07 934.95 L818.57 935.68 L817.07 936.42 L815.58 937.17 L814.08 937.93 L812.58 938.69 L811.09 939.47 L809.59 940.25 L808.09 941.05 L806.6 941.86 L805.1 942.68 Z" fill="#8e8fb1" stroke="none"/>
<path d="M805.1 940.88 L806.6 940.06 L808.09 939.26 L809.59 938.47 L811.09 937.68 L812.58 936.91 L814.08 936.15 L815.58 935.4 L817.07 934.65 L818.57 933.92 L820.07 933.19 L821.57 932.47 L823.06 931.75 L824.56 931.04 L826.06 930.33 L827.55 929.63 L829.05 928.93 L830.55 928.24 L832.04 927.55 L833.54 926.86 L835.04 926.17 L836.53 925.48 L838.03 924.8 L839.53 924.11 L841.02 923.42 L842.52 922.74 L844.02 922.05 L845.51 921.35 L847.01 920.66 L848.51 919.96 L850 919.26 L851.5 918.55 L853 917.83 L854.5 917.12 L855.99 916.39 L857.49 915.66 L858.99 914.92 L860.48 914.17 L861.98 913.41 L863.48 912.65 L864.97 911.87 L866.47 911.09 L867.97 910.29 L869.46 909.49 L870.96 908.67 L872.46 907.85 L873.95 907.02 L875.45 906.19 L876.95 905.35 L878.44 904.51 L879.94 903.66 L881.44 902.81 L882.93 901.96 L884.43 901.11 L885.93 900.26 L887.43 899.4 L888.92 898.55 L890.42 897.7 L891.92 896.86 L893.41 896.01 L894.91 895.17 L896.41 894.34 L897.9 893.51 L899.4 892.69 L900.9 891.88 L902.39 891.07 L903.89 890.27 L905.39 889.49 L906.88 888.71 L908.38 887.94 L909.88 887.19 L911.37 886.45 L912.87 885.72 L914.37 885.01 L915.87 884.32 L917.36 883.63 L918.86 882.97 L920.36 882.32 L921.85 881.7 L923.35 881.09 L924.85 880.49 L926.34 879.92 L927.84 879.35 L929.34 878.81 L930.83 878.27 L932.33 877.75 L933.83 877.24 L935.32 876.74 L936.82 876.25 L938.32 875.77 L939.81 875.3 L941.31 874.84 L942.81 874.38 L944.3 873.93 L945.8 873.48 L947.3 873.04 L948.8 872.6 L950.29 872.16 L951.79 871.73 L953.29 871.29 L954.78 870.86 L956.28 870.42 L957.78 869.98 L959.27 869.54 L960.77 869.09 L962.27 868.65 L963.76 868.19 L965.26 867.73 L966.76 867.26 L968.25 866.79 L969.75 866.3 L971.25 865.81 L972.74 865.31 L974.24 864.79 L975.74 864.27 L977.23 863.74 L978.73 863.2 L980.23 862.65 L981.73 862.08 L983.22 861.51 L984.72 860.92 L986.22 860.32 L987.71 859.71 L989.21 859.09 L990.71 858.45 L992.2 857.81 L993.7 857.15 L995.2 856.47 L996.69 855.78 L998.19 855.08 L999.69 854.37 L1001.18 853.64 L1002.68 852.89 L1004.18 852.13 L1005.67 851.35 L1007.17 850.56 L1008.67 849.76 L1010.17 848.93 L1011.66 848.09 L1013.16 847.24 L1014.66 846.36 L1016.15 845.47 L1017.65 844.57 L1019.15 843.64 L1020.64 842.7 L1022.14 841.74 L1023.64 840.75 L1025.13 839.76 L1026.63 838.74 L1028.13 837.7 L1029.62 836.64 L1031.12 835.56 L1032.62 834.46 L1034.11 833.34 L1035.61 832.2 L1037.11 831.04 L1038.6 829.86 L1040.1 828.65 L1041.6 827.42 L1043.1 826.17 L1044.59 824.9 L1046.09 823.6 L1047.59 822.28 L1049.08 820.94 L1050.58 819.57 L1052.08 818.18 L1053.57 816.76 L1055.07 815.32 L1056.57 813.85 L1058.06 812.36 L1059.56 810.84 L1061.06 809.29 L1062.55 807.74 L1064.05 806.19 L1065.55 804.66 L1067.04 803.17 L1068.54 801.74 L1070.04 800.38 L1071.53 799.11 L1073.03 797.94 L1074.53 796.91 L1076.03 796.01 L1077.52 795.27 L1079.02 794.67 L1080.52 794.22 L1082.01 793.9 L1083.51 793.72 L1085.01 793.65 L1086.5 793.7 L1088 793.87 L1089.5 794.13 L1090.99 794.5 L1092.49 794.95 L1093.99 795.48 L1095.48 796.07 L1096.98 796.71 L1098.48 797.39 L1099.97 798.1 L1101.47 798.82 L1102.97 799.54 L1104.47 800.24 L1105.96 800.92 L1107.46 801.56 L1108.96 802.14 L1110.45 802.67 L1111.95 803.14 L1113.45 803.56 L1114.94 803.92 L1116.44 804.24 L1117.94 804.52 L1119.43 804.76 L1120.93 804.97 L1122.43 805.14 L1123.92 805.29 L1125.42 805.41 L1126.92 805.51 L1128.41 805.59 L1129.91 805.66 L1131.41 805.7 L1132.9 805.73 L1134.4 805.74 L1135.9 805.73 L1137.4 805.71 L1138.89 805.67 L1140.39 805.61 L1141.89 805.54 L1143.38 805.44 L1144.88 805.34 L1146.38 805.22 L1147.87 805.08 L1149.37 804.93 L1150.87 804.76 L1152.36 804.58 L1153.86 804.38 L1155.36 804.17 L1156.85 803.95 L1158.35 803.71 L1159.85 803.46 L1161.34 803.2 L1162.84 802.92 L1164.34 802.63 L1165.83 802.33 L1167.33 802.02 L1168.83 801.7 L1170.33 801.36 L1171.82 801.01 L1173.32 800.65 L1174.82 800.29 L1176.31 799.91 L1177.81 799.52 L1179.31 799.12 L1180.8 798.71 L1182.3 798.29 L1183.8 797.87 L1185.29 797.43 L1186.79 796.99 L1188.29 796.53 L1189.78 796.07 L1191.28 795.6 L1192.78 795.13 L1194.27 794.64 L1195.77 794.15 L1197.27 793.66 L1198.77 793.15 L1200.26 792.64 L1201.76 792.13 L1203.26 791.61 L1204.75 791.08 L1206.25 790.54 L1207.75 790 L1209.24 789.46 L1210.74 788.91 L1212.24 788.35 L1213.73 787.79 L1215.23 787.22 L1216.73 786.64 L1218.22 786.06 L1219.72 785.48 L1221.22 784.88 L1222.71 784.28 L1224.21 783.68 L1225.71 783.07 L1227.2 782.45 L1228.7 781.83 L1230.2 781.2 L1231.7 780.57 L1233.19 779.93 L1234.69 779.29 L1236.19 778.64 L1237.68 777.98 L1239.18 777.32 L1240.68 776.65 L1242.17 775.98 L1243.67 775.3 L1245.17 774.61 L1246.66 773.92 L1248.16 773.23 L1249.66 772.52 L1251.15 771.82 L1252.65 771.1 L1254.15 770.38 L1255.64 769.66 L1257.14 768.93 L1258.64 768.19 L1260.13 767.45 L1261.63 766.7 L1263.13 765.95 L1264.63 765.19 L1266.12 764.43 L1267.62 763.66 L1269.12 762.88 L1270.61 762.1 L1272.11 761.31 L1273.61 760.52 L1275.1 759.72 L1276.6 758.92 L1278.1 758.11 L1279.59 757.3 L1281.09 756.48 L1282.59 755.65 L1284.08 754.82 L1285.58 753.98 L1287.08 753.14 L1288.57 752.3 L1290.07 751.44 L1291.57 750.58 L1293.07 749.72 L1294.56 748.85 L1296.06 747.98 L1297.56 747.1 L1299.05 746.21 L1300.55 745.32 L1302.05 744.42 L1303.54 743.52 L1305.04 742.61 L1306.54 741.7 L1308.03 740.78 L1309.53 739.86 L1311.03 738.93 L1312.52 738 L1314.02 737.06 L1315.52 736.11 L1317.01 735.16 L1318.51 734.21 L1320.01 733.25 L1321.5 732.28 L1323 731.31 L1324.5 730.33 L1326 729.35 L1327.49 728.37 L1328.99 727.37 L1330.49 726.38 L1331.98 725.37 L1333.48 724.36 L1334.98 723.35 L1336.47 722.33 L1337.97 721.31 L1339.47 720.28 L1340.96 719.25 L1342.46 718.21 L1343.96 717.16 L1345.45 716.11 L1346.95 715.06 L1348.45 714 L1349.94 712.93 L1351.44 711.86 L1352.94 710.79 L1354.43 709.71 L1355.93 708.62 L1357.43 707.53 L1358.93 706.43 L1360.42 705.33 L1361.92 704.23 L1363.42 703.12 L1364.91 702 L1366.41 700.88 L1367.91 699.75 L1369.4 698.62 L1370.9 697.48" fill="none" stroke="#000" stroke-width="1.0"/>
<path d="M805.1 940.88 L806.6 940.06 L808.09 939.26 L809.59 938.47 L811.09 937.68 L812.58 936.91 L814.08 936.15 L815.58 935.4 L817.07 934.65 L818.57 933.92 L820.07 933.19 L821.57 932.47 L823.06 931.75 L824.56 931.04 L826.06 930.33 L827.55 929.63 L829.05 928.93 L830.55 928.24 L832.04 927.55 L833.54 926.86 L835.04 926.17 L836.53 925.48 L838.03 924.8 L839.53 924.11 L841.02 923.42 L842.52 922.74 L844.02 922.05 L845.51 921.35 L847.01 920.66 L848.51 919.96 L850 919.26 L851.5 918.55 L853 917.83 L854.5 917.12 L855.99 916.39 L857.49 915.66 L858.99 914.92 L860.48 914.17 L861.98 913.41 L863.48 912.65 L864.97 911.87 L866.47 911.09 L867.97 910.29 L869.46 909.49 L870.96 908.67 L872.46 907.85 L873.95 907.02 L875.45 906.19 L876.95 905.35 L878.44 904.51 L879.94 903.66 L881.44 902.81 L882.93 901.96 L884.43 901.11 L885.93 900.26 L887.43 899.4 L888.92 898.55 L890.42 897.7 L891.92 896.86 L893.41 896.01 L894.91 895.17 L896.41 894.34 L897.9 893.51 L899.4 892.69 L900.9 891.88 L902.39 891.07 L903.89 890.27 L905.39 889.49 L906.88 888.71 L908.38 887.94 L909.88 887.19 L911.37 886.45 L912.87 885.72 L914.37 885.01 L915.87 884.32 L917.36 883.63 L918.86 882.97 L920.36 882.32 L921.85 881.7 L923.35 881.09 L924.85 880.49 L926.34 879.92 L927.84 879.35 L929.34 878.81 L930.83 878.27 L932.33 877.75 L933.83 877.24 L935.32 876.74 L936.82 876.25 L938.32 875.77 L939.81 875.3 L941.31 874.84 L942.81 874.38 L944.3 873.93 L945.8 873.48 L947.3 873.04 L948.8 872.6 L950.29 872.16 L951.79 871.73 L953.29 871.29 L954.78 870.86 L956.28 870.42 L957.78 869.98 L959.27 869.54 L960.77 869.09 L962.27 868.65 L963.76 868.19 L965.26 867.73 L966.76 867.26 L968.25 866.79 L969.75 866.3 L971.25 865.81 L972.74 865.31 L974.24 864.79 L975.74 864.27 L977.23 863.74 L978.73 863.2 L980.23 862.65 L981.73 862.08 L983.22 861.51 L984.72 860.92 L986.22 860.32 L987.71 859.71 L989.21 859.09 L990.71 858.45 L992.2 857.81 L993.7 857.15 L995.2 856.47 L996.69 855.78 L998.19 855.08 L999.69 854.37 L1001.18 853.64 L1002.68 852.89 L1004.18 852.13 L1005.67 851.35 L1007.17 850.56 L1008.67 849.76 L1010.17 848.93 L1011.66 848.09 L1013.16 847.24 L1014.66 846.36 L1016.15 845.47 L1017.65 844.57 L1019.15 843.64 L1020.64 842.7 L1022.14 841.74 L1023.64 840.75 L1025.13 839.76 L1026.63 838.74 L1028.13 837.7 L1029.62 836.64 L1031.12 835.56 L1032.62 834.46 L1034.11 833.34 L1035.61 832.2 L1037.11 831.04 L1038.6 829.86 L1040.1 828.65 L1041.6 827.42 L1043.1 826.17 L1044.59 824.9 L1046.09 823.6 L1047.59 822.28 L1049.08 820.94 L1050.58 819.57 L1052.08 818.18 L1053.57 816.76 L1055.07 815.32 L1056.57 813.85 L1058.06 812.36 L1059.56 810.84 L1061.06 809.29 L1062.55 807.74 L1064.05 806.19 L1065.55 804.66 L1067.04 803.17 L1068.54 801.74 L1070.04 800.38 L1071.53 799.11 L1073.03 797.94 L1074.53 796.91 L1076.03 796.01 L1077.52 795.27 L1079.02 794.67 L1080.52 794.22 L1082.01 793.9 L1083.51 793.72 L1085.01 793.65 L1086.5 793.7 L1088 793.87 L1089.5 794.13 L1090.99 794.5 L1092.49 794.95 L1093.99 795.48 L1095.48 796.07 L1096.98 796.71 L1098.48 797.39 L1099.97 798.1 L1101.47 798.82 L1102.97 799.54 L1104.47 800.24 L1105.96 800.92 L1107.46 801.56 L1108.96 802.14 L1110.45 802.67 L1111.95 803.14 L1113.45 803.56 L1114.94 803.92 L1116.44 804.24 L1117.94 804.52 L1119.43 804.76 L1120.93 804.97 L1122.43 805.14 L1123.92 805.29 L1125.42 805.41 L1126.92 805.51 L1128.41 805.59 L1129.91 805.66 L1131.41 805.7 L1132.9 805.73 L1134.4 805.74 L1135.9 805.73 L1137.4 805.71 L1138.89 805.67 L1140.39 805.61 L1141.89 805.54 L1143.38 805.44 L1144.88 805.34 L1146.38 805.22 L1147.87 805.08 L1149.37 804.93 L1150.87 804.76 L1152.36 804.58 L1153.86 804.38 L1155.36 804.17 L1156.85 803.95 L1158.35 803.71 L1159.85 803.46 L1161.34 803.2 L1162.84 802.92 L1164.34 802.63 L1165.83 802.33 L1167.33 802.02 L1168.83 801.7 L1170.33 801.36 L1171.82 801.01 L1173.32 800.65 L1174.82 800.29 L1176.31 799.91 L1177.81 799.52 L1179.31 799.12 L1180.8 798.71 L1182.3 798.29 L1183.8 797.87 L1185.29 797.43 L1186.79 796.99 L1188.29 796.53 L1189.78 796.07 L1191.28 795.6 L1192.78 795.13 L1194.27 794.64 L1195.77 794.15 L1197.27 793.66 L1198.77 793.15 L1200.26 792.64 L1201.76 792.13 L1203.26 791.61 L1204.75 791.08 L1206.25 790.54 L1207.75 790 L1209.24 789.46 L1210.74 788.91 L1212.24 788.35 L1213.73 787.79 L1215.23 787.22 L1216.73 786.64 L1218.22 786.06 L1219.72 785.48 L1221.22 784.88 L1222.71 784.28 L1224.21 783.68 L1225.71 783.07 L1227.2 782.45 L1228.7 781.83 L1230.2 781.2 L1231.7 780.57 L1233.19 779.93 L1234.69 779.29 L1236.19 778.64 L1237.68 777.98 L1239.18 777.32 L1240.68 776.65 L1242.17 775.98 L1243.67 775.3 L1245.17 774.61 L1246.66 773.92 L1248.16 773.23 L1249.66 772.52 L1251.15 771.82 L1252.65 771.1 L1254.15 770.38 L1255.64 769.66 L1257.14 768.93 L1258.64 768.19 L1260.13 767.45 L1261.63 766.7 L1263.13 765.95 L1264.63 765.19 L1266.12 764.43 L1267.62 763.66 L1269.12 762.88 L1270.61 762.1 L1272.11 761.31 L1273.61 760.52 L1275.1 759.72 L1276.6 758.92 L1278.1 758.11 L1279.59 757.3 L1281.09 756.48 L1282.59 755.65 L1284.08 754.82 L1285.58 753.98 L1287.08 753.14 L1288.57 752.3 L1290.07 751.44 L1291.57 750.58 L1293.07 749.72 L1294.56 748.85 L1296.06 747.98 L1297.56 747.1 L1299.05 746.21 L1300.55 745.32 L1302.05 744.42 L1303.54 743.52 L1305.04 742.61 L1306.54 741.7 L1308.03 740.78 L1309.53 739.86 L1311.03 738.93 L1312.52 738 L1314.02 737.06 L1315.52 736.11 L1317.01 735.16 L1318.51 734.21 L1320.01 733.25 L1321.5 732.28 L1323 731.31 L1324.5 730.33 L1326 729.35 L1327.49 728.37 L1328.99 727.37 L1330.49 726.38 L1331.98 725.37 L1333.48 724.36 L1334.98 723.35 L1336.47 722.33 L1337.97 721.31 L1339.47 720.28 L1340.96 719.25 L1342.46 718.21 L1343.96 717.16 L1345.45 716.11 L1346.95 715.06 L1348.45 714 L1349.94 712.93 L1351.44 711.86 L1352.94 710.79 L1354.43 709.71 L1355.93 708.62 L1357.43 707.53 L1358.93 706.43 L1360.42 705.33 L1361.92 704.23 L1363.42 703.12 L1364.91 702 L1366.41 700.88 L1367.91 699.75 L1369.4 698.62 L1370.9 697.48" fill="none" stroke="#000" stroke-width="2" stroke-dasharray="1.8 3"/>
<path d="M805.1 943.51 L806.6 942.73 L808.1 941.96 L809.59 941.2 L811.09 940.46 L812.59 939.72 L814.09 938.99 L815.58 938.27 L817.08 937.55 L818.58 936.85 L820.08 936.16 L821.57 935.48 L823.07 934.81 L824.57 934.15 L826.07 933.49 L827.56 932.85 L829.06 932.21 L830.56 931.59 L832.06 930.97 L833.55 930.36 L835.05 929.76 L836.55 929.17 L838.05 928.59 L839.55 928.02 L841.04 927.46 L842.54 926.9 L844.04 926.36 L845.54 925.82 L847.03 925.29 L848.53 924.77 L850.03 924.25 L851.53 923.75 L853.02 923.25 L854.52 922.76 L856.02 922.28 L857.52 921.81 L859.01 921.34 L860.51 920.89 L862.01 920.44 L863.51 920 L865 919.56 L866.5 919.13 L868 918.71 L869.5 918.3 L870.99 917.9 L872.49 917.5 L873.99 917.11 L875.49 916.73 L876.99 916.35 L878.48 915.98 L879.98 915.62 L881.48 915.27 L882.98 914.92 L884.47 914.57 L885.97 914.24 L887.47 913.91 L888.97 913.59 L890.46 913.27 L891.96 912.96 L893.46 912.66 L894.96 912.36 L896.45 912.07 L897.95 911.79 L899.45 911.51 L900.95 911.24 L902.44 910.97 L903.94 910.71 L905.44 910.46 L906.94 910.21 L908.44 909.96 L909.93 909.73 L911.43 909.49 L912.93 909.27 L914.43 909.05 L915.92 908.83 L917.42 908.62 L918.92 908.41 L920.42 908.21 L921.91 908.02 L923.41 907.82 L924.91 907.64 L926.41 907.46 L927.9 907.28 L929.4 907.11 L930.9 906.94 L932.4 906.78 L933.89 906.62 L935.39 906.47 L936.89 906.32 L938.39 906.17 L939.89 906.03 L941.38 905.9 L942.88 905.77 L944.38 905.64 L945.88 905.51 L947.37 905.39 L948.87 905.28 L950.37 905.16 L951.87 905.05 L953.36 904.95 L954.86 904.85 L956.36 904.75 L957.86 904.65 L959.35 904.56 L960.85 904.47 L962.35 904.39 L963.85 904.3 L965.34 904.22 L966.84 904.15 L968.34 904.08 L969.84 904.01 L971.34 903.94 L972.83 903.87 L974.33 903.81 L975.83 903.75 L977.33 903.69 L978.82 903.64 L980.32 903.59 L981.82 903.54 L983.32 903.49 L984.81 903.45 L986.31 903.4 L987.81 903.36 L989.31 903.32 L990.8 903.29 L992.3 903.25 L993.8 903.22 L995.3 903.18 L996.79 903.15 L998.29 903.12 L999.79 903.09 L1001.29 903.06 L1002.78 903.04 L1004.28 903.01 L1005.78 902.98 L1007.28 902.96 L1008.78 902.93 L1010.27 902.91 L1011.77 902.88 L1013.27 902.86 L1014.77 902.83 L1016.26 902.8 L1017.76 902.78 L1019.26 902.75 L1020.76 902.72 L1022.25 902.69 L1023.75 902.66 L1025.25 902.63 L1026.75 902.6 L1028.24 902.56 L1029.74 902.53 L1031.24 902.49 L1032.74 902.45 L1034.23 902.41 L1035.73 902.37 L1037.23 902.32 L1038.73 902.28 L1040.23 902.23 L1041.72 902.17 L1043.22 902.12 L1044.72 902.06 L1046.22 902 L1047.71 901.94 L1049.21 901.87 L1050.71 901.8 L1052.21 901.72 L1053.7 901.65 L1055.2 901.57 L1056.7 901.48 L1058.2 901.39 L1059.69 901.3 L1061.19 901.2 L1062.69 901.1 L1064.19 900.99 L1065.68 900.88 L1067.18 900.77 L1068.68 900.65 L1070.18 900.52 L1071.68 900.39 L1073.17 900.26 L1074.67 900.12 L1076.17 899.97 L1077.67 899.82 L1079.16 899.66 L1080.66 899.5 L1082.16 899.33 L1083.66 899.15 L1085.15 898.97 L1086.65 898.78 L1088.15 898.58 L1089.65 898.38 L1091.14 898.17 L1092.64 897.96 L1094.14 897.74 L1095.64 897.51 L1097.13 897.27 L1098.63 897.02 L1100.13 896.77 L1101.63 896.51 L1103.12 896.25 L1104.62 895.97 L1106.12 895.69 L1107.62 895.4 L1109.12 895.1 L1110.61 894.79 L1112.11 894.47 L1113.61 894.15 L1115.11 893.81 L1116.6 893.47 L1118.1 893.12 L1119.6 892.77 L1121.1 892.4 L1122.59 892.03 L1124.09 891.64 L1125.59 891.25 L1127.09 890.86 L1128.58 890.45 L1130.08 890.03 L1131.58 889.61 L1133.08 889.18 L1134.57 888.74 L1136.07 888.29 L1137.57 887.84 L1139.07 887.38 L1140.57 886.9 L1142.06 886.42 L1143.56 885.94 L1145.06 885.44 L1146.56 884.94 L1148.05 884.43 L1149.55 883.91 L1151.05 883.38 L1152.55 882.85 L1154.04 882.3 L1155.54 881.75 L1157.04 881.19 L1158.54 880.63 L1160.03 880.05 L1161.53 879.47 L1163.03 878.88 L1164.53 878.28 L1166.02 877.68 L1167.52 877.06 L1169.02 876.44 L1170.52 875.81 L1172.02 875.16 L1173.51 874.5 L1175.01 873.82 L1176.51 873.12 L1178.01 872.39 L1179.5 871.63 L1181 870.83 L1182.5 870.01 L1184 869.14 L1185.49 868.23 L1186.99 867.28 L1188.49 866.29 L1189.99 865.25 L1191.48 864.17 L1192.98 863.06 L1194.48 861.91 L1195.98 860.73 L1197.47 859.51 L1198.97 858.26 L1200.47 856.98 L1201.97 855.67 L1203.46 854.33 L1204.96 852.97 L1206.46 851.58 L1207.96 850.18 L1209.46 848.77 L1210.95 847.36 L1212.45 845.97 L1213.95 844.6 L1215.45 843.26 L1216.94 841.97 L1218.44 840.74 L1219.94 839.56 L1221.44 838.46 L1222.93 837.45 L1224.43 836.53 L1225.93 835.71 L1227.43 835.01 L1228.92 834.4 L1230.42 833.88 L1231.92 833.43 L1233.42 833.07 L1234.91 832.76 L1236.41 832.5 L1237.91 832.29 L1239.41 832.11 L1240.91 831.96 L1242.4 831.82 L1243.9 831.69 L1245.4 831.57 L1246.9 831.44 L1248.39 831.32 L1249.89 831.19 L1251.39 831.07 L1252.89 830.95 L1254.38 830.82 L1255.88 830.69 L1257.38 830.56 L1258.88 830.43 L1260.37 830.3 L1261.87 830.16 L1263.37 830.01 L1264.87 829.86 L1266.36 829.7 L1267.86 829.54 L1269.36 829.37 L1270.86 829.19 L1272.36 829 L1273.85 828.8 L1275.35 828.6 L1276.85 828.38 L1278.35 828.15 L1279.84 827.91 L1281.34 827.66 L1282.84 827.4 L1284.34 827.12 L1285.83 826.83 L1287.33 826.52 L1288.83 826.2 L1290.33 825.86 L1291.82 825.51 L1293.32 825.14 L1294.82 824.75 L1296.32 824.34 L1297.81 823.92 L1299.31 823.49 L1300.81 823.05 L1302.31 822.6 L1303.81 822.14 L1305.3 821.67 L1306.8 821.2 L1308.3 820.73 L1309.8 820.26 L1311.29 819.79 L1312.79 819.32 L1314.29 818.85 L1315.79 818.39 L1317.28 817.94 L1318.78 817.5 L1320.28 817.07 L1321.78 816.64 L1323.27 816.23 L1324.77 815.82 L1326.27 815.43 L1327.77 815.04 L1329.26 814.66 L1330.76 814.28 L1332.26 813.91 L1333.76 813.55 L1335.25 813.2 L1336.75 812.84 L1338.25 812.5 L1339.75 812.16 L1341.25 811.82 L1342.74 811.48 L1344.24 811.15 L1345.74 810.82 L1347.24 810.49 L1348.73 810.16 L1350.23 809.84 L1351.73 809.51 L1353.23 809.19 L1354.72 808.86 L1356.22 808.54 L1357.72 808.21 L1359.22 807.88 L1360.71 807.55 L1362.21 807.22 L1363.71 806.88 L1365.21 806.54 L1366.7 806.2 L1368.2 805.85 L1369.7 805.5" fill="none" stroke="#000" stroke-width="2.6" stroke-dasharray="9 8.5"/>
<path d="M805.1 949.69 L806.6 949.53 L808.09 949.37 L809.59 949.21 L811.09 949.04 L812.58 948.87 L814.08 948.7 L815.58 948.53 L817.07 948.35 L818.57 948.18 L820.07 947.99 L821.57 947.81 L823.06 947.62 L824.56 947.43 L826.06 947.23 L827.55 947.03 L829.05 946.83 L830.55 946.62 L832.04 946.41 L833.54 946.2 L835.04 945.98 L836.53 945.75 L838.03 945.52 L839.53 945.29 L841.02 945.05 L842.52 944.81 L844.02 944.56 L845.51 944.3 L847.01 944.04 L848.51 943.78 L850 943.5 L851.5 943.23 L853 942.94 L854.5 942.65 L855.99 942.36 L857.49 942.05 L858.99 941.75 L860.48 941.43 L861.98 941.11 L863.48 940.78 L864.97 940.44 L866.47 940.1 L867.97 939.74 L869.46 939.38 L870.96 939.02 L872.46 938.64 L873.95 938.26 L875.45 937.87 L876.95 937.47 L878.44 937.06 L879.94 936.65 L881.44 936.23 L882.93 935.81 L884.43 935.37 L885.93 934.94 L887.43 934.5 L888.92 934.06 L890.42 933.61 L891.92 933.16 L893.41 932.71 L894.91 932.26 L896.41 931.81 L897.9 931.35 L899.4 930.9 L900.9 930.45 L902.39 930 L903.89 929.55 L905.39 929.1 L906.88 928.66 L908.38 928.22 L909.88 927.79 L911.37 927.36 L912.87 926.94 L914.37 926.52 L915.87 926.11 L917.36 925.7 L918.86 925.31 L920.36 924.92 L921.85 924.54 L923.35 924.17 L924.85 923.81 L926.34 923.46 L927.84 923.13 L929.34 922.8 L930.83 922.49 L932.33 922.19 L933.83 921.9 L935.32 921.63 L936.82 921.37 L938.32 921.12 L939.81 920.88 L941.31 920.65 L942.81 920.43 L944.3 920.21 L945.8 919.99 L947.3 919.76 L948.8 919.53 L950.29 919.3 L951.79 919.05 L953.29 918.79 L954.78 918.52 L956.28 918.23 L957.78 917.91 L959.27 917.58 L960.77 917.22 L962.27 916.84 L963.76 916.42 L965.26 915.97 L966.76 915.49 L968.25 914.97 L969.75 914.42 L971.25 913.85 L972.74 913.25 L974.24 912.63 L975.74 911.98 L977.23 911.33 L978.73 910.65 L980.23 909.97 L981.73 909.27 L983.22 908.57 L984.72 907.87 L986.22 907.16 L987.71 906.46 L989.21 905.77 L990.71 905.08 L992.2 904.39 L993.7 903.72 L995.2 903.06 L996.69 902.4 L998.19 901.74 L999.69 901.09 L1001.18 900.44 L1002.68 899.78 L1004.18 899.13 L1005.67 898.46 L1007.17 897.8 L1008.67 897.12 L1010.17 896.44 L1011.66 895.75 L1013.16 895.04 L1014.66 894.32 L1016.15 893.58 L1017.65 892.83 L1019.15 892.06 L1020.64 891.26 L1022.14 890.45 L1023.64 889.61 L1025.13 888.75 L1026.63 887.86 L1028.13 886.94 L1029.62 885.99 L1031.12 885.01 L1032.62 883.99 L1034.11 882.95 L1035.61 881.86 L1037.11 880.75 L1038.6 879.59 L1040.1 878.41 L1041.6 877.19 L1043.1 875.93 L1044.59 874.64 L1046.09 873.32 L1047.59 871.96 L1049.08 870.57 L1050.58 869.15 L1052.08 867.7 L1053.57 866.24 L1055.07 864.78 L1056.57 863.34 L1058.06 861.9 L1059.56 860.46 L1061.06 858.99 L1062.55 857.5 L1064.05 855.97 L1065.55 854.4 L1067.04 852.85 L1068.54 851.35 L1070.04 849.94 L1071.53 848.67 L1073.03 847.59 L1074.53 846.72 L1076.03 846.11 L1077.52 845.81 L1079.02 845.84 L1080.52 846.13 L1082.01 846.62 L1083.51 847.21 L1085.01 847.83 L1086.5 848.4 L1088 848.91 L1089.5 849.38 L1090.99 849.81 L1092.49 850.23 L1093.99 850.65 L1095.48 851.08 L1096.98 851.55 L1098.48 852.08 L1099.97 852.65 L1101.47 853.28 L1102.97 853.96 L1104.47 854.66 L1105.96 855.4 L1107.46 856.16 L1108.96 856.94 L1110.45 857.72 L1111.95 858.5 L1113.45 859.27 L1114.94 860.03 L1116.44 860.77 L1117.94 861.48 L1119.43 862.16 L1120.93 862.81 L1122.43 863.43 L1123.92 864.03 L1125.42 864.6 L1126.92 865.15 L1128.41 865.67 L1129.91 866.17 L1131.41 866.64 L1132.9 867.09 L1134.4 867.51 L1135.9 867.92 L1137.4 868.3 L1138.89 868.66 L1140.39 869 L1141.89 869.33 L1143.38 869.65 L1144.88 869.95 L1146.38 870.25 L1147.87 870.54 L1149.37 870.82 L1150.87 871.1 L1152.36 871.37 L1153.86 871.65 L1155.36 871.93 L1156.85 872.22 L1158.35 872.51 L1159.85 872.82 L1161.34 873.13 L1162.84 873.46 L1164.34 873.8 L1165.83 874.16 L1167.33 874.54 L1168.83 874.94 L1170.33 875.36 L1171.82 875.81 L1173.32 876.29 L1174.82 876.78 L1176.31 877.3 L1177.81 877.85 L1179.31 878.41 L1180.8 879 L1182.3 879.6 L1183.8 880.23 L1185.29 880.87 L1186.79 881.54 L1188.29 882.22 L1189.78 882.91 L1191.28 883.62 L1192.78 884.35 L1194.27 885.09 L1195.77 885.84 L1197.27 886.61 L1198.77 887.39 L1200.26 888.17 L1201.76 888.97 L1203.26 889.78 L1204.75 890.58 L1206.25 891.37 L1207.75 892.16 L1209.24 892.92 L1210.74 893.65 L1212.24 894.36 L1213.73 895.03 L1215.23 895.65 L1216.73 896.23 L1218.22 896.74 L1219.72 897.2 L1221.22 897.59 L1222.71 897.91 L1224.21 898.14 L1225.71 898.29 L1227.2 898.35 L1228.7 898.31 L1230.2 898.18 L1231.7 897.95 L1233.19 897.64 L1234.69 897.26 L1236.19 896.81 L1237.68 896.3 L1239.18 895.73 L1240.68 895.12 L1242.17 894.47 L1243.67 893.79 L1245.17 893.09 L1246.66 892.37 L1248.16 891.64 L1249.66 890.9 L1251.15 890.17 L1252.65 889.46 L1254.15 888.76 L1255.64 888.09 L1257.14 887.45 L1258.64 886.84 L1260.13 886.26 L1261.63 885.71 L1263.13 885.18 L1264.63 884.67 L1266.12 884.17 L1267.62 883.69 L1269.12 883.23 L1270.61 882.77 L1272.11 882.32 L1273.61 881.88 L1275.1 881.44 L1276.6 881 L1278.1 880.56 L1279.59 880.11 L1281.09 879.65 L1282.59 879.19 L1284.08 878.72 L1285.58 878.23 L1287.08 877.74 L1288.57 877.24 L1290.07 876.74 L1291.57 876.22 L1293.07 875.7 L1294.56 875.17 L1296.06 874.63 L1297.56 874.09 L1299.05 873.54 L1300.55 872.98 L1302.05 872.41 L1303.54 871.84 L1305.04 871.27 L1306.54 870.68 L1308.03 870.09 L1309.53 869.5 L1311.03 868.9 L1312.52 868.3 L1314.02 867.69 L1315.52 867.07 L1317.01 866.46 L1318.51 865.83 L1320.01 865.21 L1321.5 864.58 L1323 863.95 L1324.5 863.31 L1326 862.67 L1327.49 862.03 L1328.99 861.38 L1330.49 860.73 L1331.98 860.08 L1333.48 859.43 L1334.98 858.78 L1336.47 858.12 L1337.97 857.46 L1339.47 856.81 L1340.96 856.15 L1342.46 855.49 L1343.96 854.83 L1345.45 854.16 L1346.95 853.5 L1348.45 852.84 L1349.94 852.18 L1351.44 851.52 L1352.94 850.86 L1354.43 850.2 L1355.93 849.54 L1357.43 848.88 L1358.93 848.23 L1360.42 847.58 L1361.92 846.92 L1363.42 846.27 L1364.91 845.63 L1366.41 844.98 L1367.91 844.34 L1369.4 843.7 L1370.9 843.06" fill="none" stroke="#000" stroke-width="2.6" stroke-dasharray="10 4 2.5 4"/>
<path d="M805.1 1264.97 L806.6 1263.95 L808.09 1262.94 L809.59 1261.92 L811.09 1260.91 L812.58 1259.9 L814.08 1258.88 L815.58 1257.87 L817.07 1256.86 L818.57 1255.84 L820.07 1254.84 L821.57 1253.83 L823.06 1252.82 L824.56 1251.82 L826.06 1250.81 L827.55 1249.81 L829.05 1248.81 L830.55 1247.82 L832.04 1246.83 L833.54 1245.84 L835.04 1244.85 L836.53 1243.87 L838.03 1242.89 L839.53 1241.91 L841.02 1240.94 L842.52 1239.97 L844.02 1239.01 L845.51 1238.05 L847.01 1237.09 L848.51 1236.14 L850 1235.2 L851.5 1234.26 L853 1233.32 L854.5 1232.39 L855.99 1231.47 L857.49 1230.56 L858.99 1229.65 L860.48 1228.74 L861.98 1227.84 L863.48 1226.95 L864.97 1226.07 L866.47 1225.19 L867.97 1224.32 L869.46 1223.46 L870.96 1222.61 L872.46 1221.76 L873.95 1220.92 L875.45 1220.09 L876.95 1219.27 L878.44 1218.46 L879.94 1217.65 L881.44 1216.86 L882.93 1216.07 L884.43 1215.29 L885.93 1214.53 L887.43 1213.77 L888.92 1213.02 L890.42 1212.29 L891.92 1211.56 L893.41 1210.84 L894.91 1210.14 L896.41 1209.44 L897.9 1208.76 L899.4 1208.09 L900.9 1207.42 L902.39 1206.77 L903.89 1206.13 L905.39 1205.5 L906.88 1204.88 L908.38 1204.27 L909.88 1203.66 L911.37 1203.06 L912.87 1202.46 L914.37 1201.87 L915.87 1201.28 L917.36 1200.69 L918.86 1200.11 L920.36 1199.52 L921.85 1198.94 L923.35 1198.35 L924.85 1197.76 L926.34 1197.16 L927.84 1196.57 L929.34 1195.96 L930.83 1195.35 L932.33 1194.74 L933.83 1194.11 L935.32 1193.48 L936.82 1192.83 L938.32 1192.18 L939.81 1191.52 L941.31 1190.84 L942.81 1190.15 L944.3 1189.44 L945.8 1188.72 L947.3 1187.98 L948.8 1187.23 L950.29 1186.45 L951.79 1185.66 L953.29 1184.85 L954.78 1184.03 L956.28 1183.18 L957.78 1182.33 L959.27 1181.45 L960.77 1180.57 L962.27 1179.67 L963.76 1178.76 L965.26 1177.85 L966.76 1176.92 L968.25 1175.98 L969.75 1175.04 L971.25 1174.1 L972.74 1173.15 L974.24 1172.19 L975.74 1171.23 L977.23 1170.27 L978.73 1169.31 L980.23 1168.36 L981.73 1167.4 L983.22 1166.45 L984.72 1165.49 L986.22 1164.55 L987.71 1163.61 L989.21 1162.68 L990.71 1161.75 L992.2 1160.84 L993.7 1159.93 L995.2 1159.04 L996.69 1158.16 L998.19 1157.29 L999.69 1156.43 L1001.18 1155.57 L1002.68 1154.72 L1004.18 1153.88 L1005.67 1153.05 L1007.17 1152.22 L1008.67 1151.39 L1010.17 1150.56 L1011.66 1149.72 L1013.16 1148.87 L1014.66 1148 L1016.15 1147.12 L1017.65 1146.21 L1019.15 1145.28 L1020.64 1144.32 L1022.14 1143.32 L1023.64 1142.29 L1025.13 1141.22 L1026.63 1140.1 L1028.13 1138.94 L1029.62 1137.72 L1031.12 1136.45 L1032.62 1135.12 L1034.11 1133.72 L1035.61 1132.27 L1037.11 1130.77 L1038.6 1129.22 L1040.1 1127.64 L1041.6 1126.04 L1043.1 1124.43 L1044.59 1122.81 L1046.09 1121.19 L1047.59 1119.59 L1049.08 1118 L1050.58 1116.45 L1052.08 1114.94 L1053.57 1113.48 L1055.07 1112.08 L1056.57 1110.74 L1058.06 1109.48 L1059.56 1108.28 L1061.06 1107.17 L1062.55 1106.14 L1064.05 1105.19 L1065.55 1104.33 L1067.04 1103.56 L1068.54 1102.88 L1070.04 1102.3 L1071.53 1101.81 L1073.03 1101.43 L1074.53 1101.16 L1076.03 1101 L1077.52 1100.96 L1079.02 1101.04 L1080.52 1101.23 L1082.01 1101.54 L1083.51 1101.95 L1085.01 1102.47 L1086.5 1103.07 L1088 1103.75 L1089.5 1104.49 L1090.99 1105.29 L1092.49 1106.14 L1093.99 1107.03 L1095.48 1107.94 L1096.98 1108.87 L1098.48 1109.81 L1099.97 1110.74 L1101.47 1111.66 L1102.97 1112.55 L1104.47 1113.42 L1105.96 1114.27 L1107.46 1115.1 L1108.96 1115.9 L1110.45 1116.68 L1111.95 1117.43 L1113.45 1118.16 L1114.94 1118.87 L1116.44 1119.56 L1117.94 1120.22 L1119.43 1120.86 L1120.93 1121.48 L1122.43 1122.07 L1123.92 1122.64 L1125.42 1123.19 L1126.92 1123.72 L1128.41 1124.22 L1129.91 1124.7 L1131.41 1125.16 L1132.9 1125.6 L1134.4 1126.01 L1135.9 1126.41 L1137.4 1126.78 L1138.89 1127.13 L1140.39 1127.47 L1141.89 1127.78 L1143.38 1128.07 L1144.88 1128.34 L1146.38 1128.6 L1147.87 1128.83 L1149.37 1129.04 L1150.87 1129.24 L1152.36 1129.42 L1153.86 1129.58 L1155.36 1129.72 L1156.85 1129.84 L1158.35 1129.95 L1159.85 1130.03 L1161.34 1130.11 L1162.84 1130.16 L1164.34 1130.2 L1165.83 1130.22 L1167.33 1130.23 L1168.83 1130.22 L1170.33 1130.19 L1171.82 1130.15 L1173.32 1130.1 L1174.82 1130.03 L1176.31 1129.94 L1177.81 1129.84 L1179.31 1129.73 L1180.8 1129.6 L1182.3 1129.46 L1183.8 1129.31 L1185.29 1129.14 L1186.79 1128.96 L1188.29 1128.77 L1189.78 1128.57 L1191.28 1128.35 L1192.78 1128.12 L1194.27 1127.88 L1195.77 1127.63 L1197.27 1127.37 L1198.77 1127.1 L1200.26 1126.82 L1201.76 1126.52 L1203.26 1126.22 L1204.75 1125.91 L1206.25 1125.59 L1207.75 1125.26 L1209.24 1124.91 L1210.74 1124.56 L1212.24 1124.2 L1213.73 1123.83 L1215.23 1123.46 L1216.73 1123.07 L1218.22 1122.67 L1219.72 1122.26 L1221.22 1121.84 L1222.71 1121.41 L1224.21 1120.97 L1225.71 1120.53 L1227.2 1120.07 L1228.7 1119.6 L1230.2 1119.12 L1231.7 1118.63 L1233.19 1118.13 L1234.69 1117.62 L1236.19 1117.1 L1237.68 1116.57 L1239.18 1116.03 L1240.68 1115.48 L1242.17 1114.91 L1243.67 1114.34 L1245.17 1113.76 L1246.66 1113.16 L1248.16 1112.56 L1249.66 1111.94 L1251.15 1111.31 L1252.65 1110.67 L1254.15 1110.02 L1255.64 1109.36 L1257.14 1108.69 L1258.64 1108.01 L1260.13 1107.31 L1261.63 1106.61 L1263.13 1105.89 L1264.63 1105.16 L1266.12 1104.42 L1267.62 1103.67 L1269.12 1102.91 L1270.61 1102.13 L1272.11 1101.35 L1273.61 1100.55 L1275.1 1099.74 L1276.6 1098.91 L1278.1 1098.08 L1279.59 1097.23 L1281.09 1096.38 L1282.59 1095.51 L1284.08 1094.62 L1285.58 1093.73 L1287.08 1092.82 L1288.57 1091.9 L1290.07 1090.97 L1291.57 1090.03 L1293.07 1089.07 L1294.56 1088.1 L1296.06 1087.12 L1297.56 1086.13 L1299.05 1085.12 L1300.55 1084.1 L1302.05 1083.07 L1303.54 1082.03 L1305.04 1080.97 L1306.54 1079.9 L1308.03 1078.81 L1309.53 1077.72 L1311.03 1076.61 L1312.52 1075.48 L1314.02 1074.35 L1315.52 1073.2 L1317.01 1072.03 L1318.51 1070.86 L1320.01 1069.67 L1321.5 1068.46 L1323 1067.25 L1324.5 1066.02 L1326 1064.77 L1327.49 1063.51 L1328.99 1062.24 L1330.49 1060.96 L1331.98 1059.66 L1333.48 1058.34 L1334.98 1057.02 L1336.47 1055.67 L1337.97 1054.32 L1339.47 1052.95 L1340.96 1051.57 L1342.46 1050.17 L1343.96 1048.76 L1345.45 1047.33 L1346.95 1045.89 L1348.45 1044.43 L1349.94 1042.96 L1351.44 1041.48 L1352.94 1039.98 L1354.43 1038.47 L1355.93 1036.94 L1357.43 1035.39 L1358.93 1033.83 L1360.42 1032.26 L1361.92 1030.67 L1363.42 1029.07 L1364.91 1027.45 L1366.41 1025.82 L1367.91 1024.17 L1369.4 1022.51 L1370.9 1020.83 L1370.9 1031.83 L1369.4 1033.48 L1367.91 1035.12 L1366.41 1036.75 L1364.91 1038.36 L1363.42 1039.95 L1361.92 1041.53 L1360.42 1043.1 L1358.93 1044.65 L1357.43 1046.18 L1355.93 1047.7 L1354.43 1049.2 L1352.94 1050.7 L1351.44 1052.17 L1349.94 1053.63 L1348.45 1055.08 L1346.95 1056.51 L1345.45 1057.93 L1343.96 1059.33 L1342.46 1060.72 L1340.96 1062.09 L1339.47 1063.45 L1337.97 1064.8 L1336.47 1066.13 L1334.98 1067.45 L1333.48 1068.75 L1331.98 1070.04 L1330.49 1071.32 L1328.99 1072.58 L1327.49 1073.83 L1326 1075.06 L1324.5 1076.28 L1323 1077.49 L1321.5 1078.69 L1320.01 1079.87 L1318.51 1081.03 L1317.01 1082.18 L1315.52 1083.32 L1314.02 1084.45 L1312.52 1085.56 L1311.03 1086.66 L1309.53 1087.75 L1308.03 1088.82 L1306.54 1089.88 L1305.04 1090.93 L1303.54 1091.97 L1302.05 1092.99 L1300.55 1094 L1299.05 1094.99 L1297.56 1095.97 L1296.06 1096.95 L1294.56 1097.9 L1293.07 1098.85 L1291.57 1099.78 L1290.07 1100.7 L1288.57 1101.61 L1287.08 1102.5 L1285.58 1103.39 L1284.08 1104.26 L1282.59 1105.12 L1281.09 1105.96 L1279.59 1106.8 L1278.1 1107.62 L1276.6 1108.43 L1275.1 1109.23 L1273.61 1110.02 L1272.11 1110.79 L1270.61 1111.56 L1269.12 1112.31 L1267.62 1113.05 L1266.12 1113.77 L1264.63 1114.49 L1263.13 1115.2 L1261.63 1115.89 L1260.13 1116.57 L1258.64 1117.24 L1257.14 1117.9 L1255.64 1118.55 L1254.15 1119.19 L1252.65 1119.81 L1251.15 1120.43 L1249.66 1121.03 L1248.16 1121.63 L1246.66 1122.21 L1245.17 1122.78 L1243.67 1123.34 L1242.17 1123.89 L1240.68 1124.43 L1239.18 1124.96 L1237.68 1125.48 L1236.19 1125.98 L1234.69 1126.48 L1233.19 1126.97 L1231.7 1127.44 L1230.2 1127.91 L1228.7 1128.36 L1227.2 1128.81 L1225.71 1129.24 L1224.21 1129.67 L1222.71 1130.08 L1221.22 1130.49 L1219.72 1130.88 L1218.22 1131.27 L1216.73 1131.64 L1215.23 1132.01 L1213.73 1132.36 L1212.24 1132.71 L1210.74 1133.05 L1209.24 1133.37 L1207.75 1133.69 L1206.25 1134 L1204.75 1134.3 L1203.26 1134.59 L1201.76 1134.87 L1200.26 1135.14 L1198.77 1135.4 L1197.27 1135.64 L1195.77 1135.88 L1194.27 1136.11 L1192.78 1136.32 L1191.28 1136.53 L1189.78 1136.72 L1188.29 1136.9 L1186.79 1137.07 L1185.29 1137.23 L1183.8 1137.37 L1182.3 1137.5 L1180.8 1137.62 L1179.31 1137.72 L1177.81 1137.81 L1176.31 1137.89 L1174.82 1137.95 L1173.32 1138 L1171.82 1138.03 L1170.33 1138.05 L1168.83 1138.05 L1167.33 1138.03 L1165.83 1138.01 L1164.34 1137.96 L1162.84 1137.9 L1161.34 1137.82 L1159.85 1137.73 L1158.35 1137.62 L1156.85 1137.49 L1155.36 1137.34 L1153.86 1137.18 L1152.36 1137 L1150.87 1136.8 L1149.37 1136.58 L1147.87 1136.34 L1146.38 1136.08 L1144.88 1135.81 L1143.38 1135.51 L1141.89 1135.2 L1140.39 1134.86 L1138.89 1134.51 L1137.4 1134.13 L1135.9 1133.74 L1134.4 1133.32 L1132.9 1132.88 L1131.41 1132.42 L1129.91 1131.94 L1128.41 1131.43 L1126.92 1130.91 L1125.42 1130.36 L1123.92 1129.79 L1122.43 1129.19 L1120.93 1128.58 L1119.43 1127.94 L1117.94 1127.27 L1116.44 1126.59 L1114.94 1125.88 L1113.45 1125.15 L1111.95 1124.39 L1110.45 1123.62 L1108.96 1122.82 L1107.46 1121.99 L1105.96 1121.14 L1104.47 1120.27 L1102.97 1119.38 L1101.47 1118.46 L1099.97 1117.52 L1098.48 1116.56 L1096.98 1115.61 L1095.48 1114.65 L1093.99 1113.72 L1092.49 1112.81 L1090.99 1111.94 L1089.5 1111.11 L1088 1110.34 L1086.5 1109.64 L1085.01 1109.02 L1083.51 1108.48 L1082.01 1108.04 L1080.52 1107.71 L1079.02 1107.5 L1077.52 1107.4 L1076.03 1107.42 L1074.53 1107.54 L1073.03 1107.76 L1071.53 1108.08 L1070.04 1108.51 L1068.54 1109.04 L1067.04 1109.66 L1065.55 1110.38 L1064.05 1111.18 L1062.55 1112.07 L1061.06 1113.05 L1059.56 1114.11 L1058.06 1115.24 L1056.57 1116.45 L1055.07 1117.73 L1053.57 1119.08 L1052.08 1120.49 L1050.58 1121.94 L1049.08 1123.44 L1047.59 1124.96 L1046.09 1126.51 L1044.59 1128.07 L1043.1 1129.64 L1041.6 1131.2 L1040.1 1132.74 L1038.6 1134.26 L1037.11 1135.75 L1035.61 1137.2 L1034.11 1138.6 L1032.62 1139.93 L1031.12 1141.21 L1029.62 1142.43 L1028.13 1143.59 L1026.63 1144.7 L1025.13 1145.76 L1023.64 1146.77 L1022.14 1147.75 L1020.64 1148.69 L1019.15 1149.59 L1017.65 1150.47 L1016.15 1151.32 L1014.66 1152.15 L1013.16 1152.96 L1011.66 1153.75 L1010.17 1154.54 L1008.67 1155.31 L1007.17 1156.09 L1005.67 1156.86 L1004.18 1157.64 L1002.68 1158.42 L1001.18 1159.22 L999.69 1160.03 L998.19 1160.89 L996.69 1161.76 L995.2 1162.64 L993.7 1163.53 L992.2 1164.44 L990.71 1165.35 L989.21 1166.28 L987.71 1167.21 L986.22 1168.15 L984.72 1169.09 L983.22 1170.05 L981.73 1171 L980.23 1171.96 L978.73 1172.91 L977.23 1173.87 L975.74 1174.83 L974.24 1175.79 L972.74 1176.75 L971.25 1177.7 L969.75 1178.64 L968.25 1179.58 L966.76 1180.52 L965.26 1181.45 L963.76 1182.36 L962.27 1183.27 L960.77 1184.17 L959.27 1185.05 L957.78 1185.93 L956.28 1186.78 L954.78 1187.63 L953.29 1188.45 L951.79 1189.26 L950.29 1190.05 L948.8 1190.83 L947.3 1191.58 L945.8 1192.32 L944.3 1193.04 L942.81 1193.75 L941.31 1194.44 L939.81 1195.12 L938.32 1195.78 L936.82 1196.43 L935.32 1197.08 L933.83 1197.71 L932.33 1198.34 L930.83 1198.95 L929.34 1199.56 L927.84 1200.17 L926.34 1200.76 L924.85 1201.36 L923.35 1201.95 L921.85 1202.54 L920.36 1203.12 L918.86 1203.71 L917.36 1204.29 L915.87 1204.88 L914.37 1205.47 L912.87 1206.06 L911.37 1206.66 L909.88 1207.26 L908.38 1207.87 L906.88 1208.48 L905.39 1209.1 L903.89 1209.73 L902.39 1210.37 L900.9 1211.02 L899.4 1211.69 L897.9 1212.36 L896.41 1213.04 L894.91 1213.74 L893.41 1214.44 L891.92 1215.16 L890.42 1215.89 L888.92 1216.62 L887.43 1217.37 L885.93 1218.13 L884.43 1218.89 L882.93 1219.67 L881.44 1220.46 L879.94 1221.25 L878.44 1222.06 L876.95 1222.87 L875.45 1223.69 L873.95 1224.52 L872.46 1225.36 L870.96 1226.21 L869.46 1227.06 L867.97 1227.92 L866.47 1228.79 L864.97 1229.67 L863.48 1230.55 L861.98 1231.44 L860.48 1232.34 L858.99 1233.25 L857.49 1234.16 L855.99 1235.07 L854.5 1235.99 L853 1236.92 L851.5 1237.86 L850 1238.8 L848.51 1239.74 L847.01 1240.69 L845.51 1241.65 L844.02 1242.61 L842.52 1243.57 L841.02 1244.54 L839.53 1245.51 L838.03 1246.49 L836.53 1247.47 L835.04 1248.45 L833.54 1249.44 L832.04 1250.43 L830.55 1251.42 L829.05 1252.41 L827.55 1253.41 L826.06 1254.41 L824.56 1255.42 L823.06 1256.42 L821.57 1257.43 L820.07 1258.44 L818.57 1259.44 L817.07 1260.46 L815.58 1261.47 L814.08 1262.48 L812.58 1263.5 L811.09 1264.51 L809.59 1265.52 L808.09 1266.54 L806.6 1267.55 L805.1 1268.57 Z" fill="#8e8fb1" stroke="none"/>
<path d="M805.1 1266.77 L806.6 1265.75 L808.09 1264.74 L809.59 1263.72 L811.09 1262.71 L812.58 1261.7 L814.08 1260.68 L815.58 1259.67 L817.07 1258.66 L818.57 1257.64 L820.07 1256.64 L821.57 1255.63 L823.06 1254.62 L824.56 1253.62 L826.06 1252.61 L827.55 1251.61 L829.05 1250.61 L830.55 1249.62 L832.04 1248.63 L833.54 1247.64 L835.04 1246.65 L836.53 1245.67 L838.03 1244.69 L839.53 1243.71 L841.02 1242.74 L842.52 1241.77 L844.02 1240.81 L845.51 1239.85 L847.01 1238.89 L848.51 1237.94 L850 1237 L851.5 1236.06 L853 1235.12 L854.5 1234.19 L855.99 1233.27 L857.49 1232.36 L858.99 1231.45 L860.48 1230.54 L861.98 1229.64 L863.48 1228.75 L864.97 1227.87 L866.47 1226.99 L867.97 1226.12 L869.46 1225.26 L870.96 1224.41 L872.46 1223.56 L873.95 1222.72 L875.45 1221.89 L876.95 1221.07 L878.44 1220.26 L879.94 1219.45 L881.44 1218.66 L882.93 1217.87 L884.43 1217.09 L885.93 1216.33 L887.43 1215.57 L888.92 1214.82 L890.42 1214.09 L891.92 1213.36 L893.41 1212.64 L894.91 1211.94 L896.41 1211.24 L897.9 1210.56 L899.4 1209.89 L900.9 1209.22 L902.39 1208.57 L903.89 1207.93 L905.39 1207.3 L906.88 1206.68 L908.38 1206.07 L909.88 1205.46 L911.37 1204.86 L912.87 1204.26 L914.37 1203.67 L915.87 1203.08 L917.36 1202.49 L918.86 1201.91 L920.36 1201.32 L921.85 1200.74 L923.35 1200.15 L924.85 1199.56 L926.34 1198.96 L927.84 1198.37 L929.34 1197.76 L930.83 1197.15 L932.33 1196.54 L933.83 1195.91 L935.32 1195.28 L936.82 1194.63 L938.32 1193.98 L939.81 1193.32 L941.31 1192.64 L942.81 1191.95 L944.3 1191.24 L945.8 1190.52 L947.3 1189.78 L948.8 1189.03 L950.29 1188.25 L951.79 1187.46 L953.29 1186.65 L954.78 1185.83 L956.28 1184.98 L957.78 1184.13 L959.27 1183.25 L960.77 1182.37 L962.27 1181.47 L963.76 1180.56 L965.26 1179.65 L966.76 1178.72 L968.25 1177.78 L969.75 1176.84 L971.25 1175.9 L972.74 1174.95 L974.24 1173.99 L975.74 1173.03 L977.23 1172.07 L978.73 1171.11 L980.23 1170.16 L981.73 1169.2 L983.22 1168.25 L984.72 1167.29 L986.22 1166.35 L987.71 1165.41 L989.21 1164.48 L990.71 1163.55 L992.2 1162.64 L993.7 1161.73 L995.2 1160.84 L996.69 1159.96 L998.19 1159.09 L999.69 1158.23 L1001.18 1157.4 L1002.68 1156.57 L1004.18 1155.76 L1005.67 1154.95 L1007.17 1154.15 L1008.67 1153.35 L1010.17 1152.55 L1011.66 1151.74 L1013.16 1150.91 L1014.66 1150.07 L1016.15 1149.22 L1017.65 1148.34 L1019.15 1147.44 L1020.64 1146.5 L1022.14 1145.54 L1023.64 1144.53 L1025.13 1143.49 L1026.63 1142.4 L1028.13 1141.26 L1029.62 1140.07 L1031.12 1138.83 L1032.62 1137.53 L1034.11 1136.16 L1035.61 1134.74 L1037.11 1133.26 L1038.6 1131.74 L1040.1 1130.19 L1041.6 1128.62 L1043.1 1127.03 L1044.59 1125.44 L1046.09 1123.85 L1047.59 1122.27 L1049.08 1120.72 L1050.58 1119.2 L1052.08 1117.71 L1053.57 1116.28 L1055.07 1114.91 L1056.57 1113.6 L1058.06 1112.36 L1059.56 1111.2 L1061.06 1110.11 L1062.55 1109.11 L1064.05 1108.19 L1065.55 1107.35 L1067.04 1106.61 L1068.54 1105.96 L1070.04 1105.4 L1071.53 1104.95 L1073.03 1104.6 L1074.53 1104.35 L1076.03 1104.21 L1077.52 1104.18 L1079.02 1104.27 L1080.52 1104.47 L1082.01 1104.79 L1083.51 1105.22 L1085.01 1105.74 L1086.5 1106.36 L1088 1107.05 L1089.5 1107.8 L1090.99 1108.62 L1092.49 1109.48 L1093.99 1110.37 L1095.48 1111.3 L1096.98 1112.24 L1098.48 1113.19 L1099.97 1114.13 L1101.47 1115.06 L1102.97 1115.96 L1104.47 1116.85 L1105.96 1117.71 L1107.46 1118.54 L1108.96 1119.36 L1110.45 1120.15 L1111.95 1120.91 L1113.45 1121.66 L1114.94 1122.38 L1116.44 1123.07 L1117.94 1123.75 L1119.43 1124.4 L1120.93 1125.03 L1122.43 1125.63 L1123.92 1126.21 L1125.42 1126.77 L1126.92 1127.31 L1128.41 1127.83 L1129.91 1128.32 L1131.41 1128.79 L1132.9 1129.24 L1134.4 1129.67 L1135.9 1130.07 L1137.4 1130.46 L1138.89 1130.82 L1140.39 1131.16 L1141.89 1131.49 L1143.38 1131.79 L1144.88 1132.08 L1146.38 1132.34 L1147.87 1132.58 L1149.37 1132.81 L1150.87 1133.02 L1152.36 1133.21 L1153.86 1133.38 L1155.36 1133.53 L1156.85 1133.66 L1158.35 1133.78 L1159.85 1133.88 L1161.34 1133.96 L1162.84 1134.03 L1164.34 1134.08 L1165.83 1134.11 L1167.33 1134.13 L1168.83 1134.13 L1170.33 1134.12 L1171.82 1134.09 L1173.32 1134.05 L1174.82 1133.99 L1176.31 1133.91 L1177.81 1133.83 L1179.31 1133.73 L1180.8 1133.61 L1182.3 1133.48 L1183.8 1133.34 L1185.29 1133.18 L1186.79 1133.02 L1188.29 1132.84 L1189.78 1132.64 L1191.28 1132.44 L1192.78 1132.22 L1194.27 1132 L1195.77 1131.76 L1197.27 1131.51 L1198.77 1131.25 L1200.26 1130.98 L1201.76 1130.7 L1203.26 1130.4 L1204.75 1130.1 L1206.25 1129.79 L1207.75 1129.47 L1209.24 1129.14 L1210.74 1128.81 L1212.24 1128.46 L1213.73 1128.1 L1215.23 1127.73 L1216.73 1127.35 L1218.22 1126.97 L1219.72 1126.57 L1221.22 1126.16 L1222.71 1125.75 L1224.21 1125.32 L1225.71 1124.88 L1227.2 1124.44 L1228.7 1123.98 L1230.2 1123.51 L1231.7 1123.04 L1233.19 1122.55 L1234.69 1122.05 L1236.19 1121.54 L1237.68 1121.02 L1239.18 1120.49 L1240.68 1119.95 L1242.17 1119.4 L1243.67 1118.84 L1245.17 1118.27 L1246.66 1117.68 L1248.16 1117.09 L1249.66 1116.49 L1251.15 1115.87 L1252.65 1115.24 L1254.15 1114.61 L1255.64 1113.96 L1257.14 1113.3 L1258.64 1112.63 L1260.13 1111.94 L1261.63 1111.25 L1263.13 1110.54 L1264.63 1109.83 L1266.12 1109.1 L1267.62 1108.36 L1269.12 1107.61 L1270.61 1106.84 L1272.11 1106.07 L1273.61 1105.28 L1275.1 1104.48 L1276.6 1103.67 L1278.1 1102.85 L1279.59 1102.02 L1281.09 1101.17 L1282.59 1100.31 L1284.08 1099.44 L1285.58 1098.56 L1287.08 1097.66 L1288.57 1096.76 L1290.07 1095.84 L1291.57 1094.91 L1293.07 1093.96 L1294.56 1093 L1296.06 1092.03 L1297.56 1091.05 L1299.05 1090.06 L1300.55 1089.05 L1302.05 1088.03 L1303.54 1087 L1305.04 1085.95 L1306.54 1084.89 L1308.03 1083.82 L1309.53 1082.73 L1311.03 1081.63 L1312.52 1080.52 L1314.02 1079.4 L1315.52 1078.26 L1317.01 1077.11 L1318.51 1075.94 L1320.01 1074.77 L1321.5 1073.57 L1323 1072.37 L1324.5 1071.15 L1326 1069.92 L1327.49 1068.67 L1328.99 1067.41 L1330.49 1066.14 L1331.98 1064.85 L1333.48 1063.55 L1334.98 1062.23 L1336.47 1060.9 L1337.97 1059.56 L1339.47 1058.2 L1340.96 1056.83 L1342.46 1055.44 L1343.96 1054.04 L1345.45 1052.63 L1346.95 1051.2 L1348.45 1049.76 L1349.94 1048.3 L1351.44 1046.82 L1352.94 1045.34 L1354.43 1043.83 L1355.93 1042.32 L1357.43 1040.79 L1358.93 1039.24 L1360.42 1037.68 L1361.92 1036.1 L1363.42 1034.51 L1364.91 1032.9 L1366.41 1031.28 L1367.91 1029.65 L1369.4 1027.99 L1370.9 1026.33" fill="none" stroke="#000" stroke-width="1.0"/>
<path d="M805.1 1266.77 L806.6 1265.75 L808.09 1264.74 L809.59 1263.72 L811.09 1262.71 L812.58 1261.7 L814.08 1260.68 L815.58 1259.67 L817.07 1258.66 L818.57 1257.64 L820.07 1256.64 L821.57 1255.63 L823.06 1254.62 L824.56 1253.62 L826.06 1252.61 L827.55 1251.61 L829.05 1250.61 L830.55 1249.62 L832.04 1248.63 L833.54 1247.64 L835.04 1246.65 L836.53 1245.67 L838.03 1244.69 L839.53 1243.71 L841.02 1242.74 L842.52 1241.77 L844.02 1240.81 L845.51 1239.85 L847.01 1238.89 L848.51 1237.94 L850 1237 L851.5 1236.06 L853 1235.12 L854.5 1234.19 L855.99 1233.27 L857.49 1232.36 L858.99 1231.45 L860.48 1230.54 L861.98 1229.64 L863.48 1228.75 L864.97 1227.87 L866.47 1226.99 L867.97 1226.12 L869.46 1225.26 L870.96 1224.41 L872.46 1223.56 L873.95 1222.72 L875.45 1221.89 L876.95 1221.07 L878.44 1220.26 L879.94 1219.45 L881.44 1218.66 L882.93 1217.87 L884.43 1217.09 L885.93 1216.33 L887.43 1215.57 L888.92 1214.82 L890.42 1214.09 L891.92 1213.36 L893.41 1212.64 L894.91 1211.94 L896.41 1211.24 L897.9 1210.56 L899.4 1209.89 L900.9 1209.22 L902.39 1208.57 L903.89 1207.93 L905.39 1207.3 L906.88 1206.68 L908.38 1206.07 L909.88 1205.46 L911.37 1204.86 L912.87 1204.26 L914.37 1203.67 L915.87 1203.08 L917.36 1202.49 L918.86 1201.91 L920.36 1201.32 L921.85 1200.74 L923.35 1200.15 L924.85 1199.56 L926.34 1198.96 L927.84 1198.37 L929.34 1197.76 L930.83 1197.15 L932.33 1196.54 L933.83 1195.91 L935.32 1195.28 L936.82 1194.63 L938.32 1193.98 L939.81 1193.32 L941.31 1192.64 L942.81 1191.95 L944.3 1191.24 L945.8 1190.52 L947.3 1189.78 L948.8 1189.03 L950.29 1188.25 L951.79 1187.46 L953.29 1186.65 L954.78 1185.83 L956.28 1184.98 L957.78 1184.13 L959.27 1183.25 L960.77 1182.37 L962.27 1181.47 L963.76 1180.56 L965.26 1179.65 L966.76 1178.72 L968.25 1177.78 L969.75 1176.84 L971.25 1175.9 L972.74 1174.95 L974.24 1173.99 L975.74 1173.03 L977.23 1172.07 L978.73 1171.11 L980.23 1170.16 L981.73 1169.2 L983.22 1168.25 L984.72 1167.29 L986.22 1166.35 L987.71 1165.41 L989.21 1164.48 L990.71 1163.55 L992.2 1162.64 L993.7 1161.73 L995.2 1160.84 L996.69 1159.96 L998.19 1159.09 L999.69 1158.23 L1001.18 1157.4 L1002.68 1156.57 L1004.18 1155.76 L1005.67 1154.95 L1007.17 1154.15 L1008.67 1153.35 L1010.17 1152.55 L1011.66 1151.74 L1013.16 1150.91 L1014.66 1150.07 L1016.15 1149.22 L1017.65 1148.34 L1019.15 1147.44 L1020.64 1146.5 L1022.14 1145.54 L1023.64 1144.53 L1025.13 1143.49 L1026.63 1142.4 L1028.13 1141.26 L1029.62 1140.07 L1031.12 1138.83 L1032.62 1137.53 L1034.11 1136.16 L1035.61 1134.74 L1037.11 1133.26 L1038.6 1131.74 L1040.1 1130.19 L1041.6 1128.62 L1043.1 1127.03 L1044.59 1125.44 L1046.09 1123.85 L1047.59 1122.27 L1049.08 1120.72 L1050.58 1119.2 L1052.08 1117.71 L1053.57 1116.28 L1055.07 1114.91 L1056.57 1113.6 L1058.06 1112.36 L1059.56 1111.2 L1061.06 1110.11 L1062.55 1109.11 L1064.05 1108.19 L1065.55 1107.35 L1067.04 1106.61 L1068.54 1105.96 L1070.04 1105.4 L1071.53 1104.95 L1073.03 1104.6 L1074.53 1104.35 L1076.03 1104.21 L1077.52 1104.18 L1079.02 1104.27 L1080.52 1104.47 L1082.01 1104.79 L1083.51 1105.22 L1085.01 1105.74 L1086.5 1106.36 L1088 1107.05 L1089.5 1107.8 L1090.99 1108.62 L1092.49 1109.48 L1093.99 1110.37 L1095.48 1111.3 L1096.98 1112.24 L1098.48 1113.19 L1099.97 1114.13 L1101.47 1115.06 L1102.97 1115.96 L1104.47 1116.85 L1105.96 1117.71 L1107.46 1118.54 L1108.96 1119.36 L1110.45 1120.15 L1111.95 1120.91 L1113.45 1121.66 L1114.94 1122.38 L1116.44 1123.07 L1117.94 1123.75 L1119.43 1124.4 L1120.93 1125.03 L1122.43 1125.63 L1123.92 1126.21 L1125.42 1126.77 L1126.92 1127.31 L1128.41 1127.83 L1129.91 1128.32 L1131.41 1128.79 L1132.9 1129.24 L1134.4 1129.67 L1135.9 1130.07 L1137.4 1130.46 L1138.89 1130.82 L1140.39 1131.16 L1141.89 1131.49 L1143.38 1131.79 L1144.88 1132.08 L1146.38 1132.34 L1147.87 1132.58 L1149.37 1132.81 L1150.87 1133.02 L1152.36 1133.21 L1153.86 1133.38 L1155.36 1133.53 L1156.85 1133.66 L1158.35 1133.78 L1159.85 1133.88 L1161.34 1133.96 L1162.84 1134.03 L1164.34 1134.08 L1165.83 1134.11 L1167.33 1134.13 L1168.83 1134.13 L1170.33 1134.12 L1171.82 1134.09 L1173.32 1134.05 L1174.82 1133.99 L1176.31 1133.91 L1177.81 1133.83 L1179.31 1133.73 L1180.8 1133.61 L1182.3 1133.48 L1183.8 1133.34 L1185.29 1133.18 L1186.79 1133.02 L1188.29 1132.84 L1189.78 1132.64 L1191.28 1132.44 L1192.78 1132.22 L1194.27 1132 L1195.77 1131.76 L1197.27 1131.51 L1198.77 1131.25 L1200.26 1130.98 L1201.76 1130.7 L1203.26 1130.4 L1204.75 1130.1 L1206.25 1129.79 L1207.75 1129.47 L1209.24 1129.14 L1210.74 1128.81 L1212.24 1128.46 L1213.73 1128.1 L1215.23 1127.73 L1216.73 1127.35 L1218.22 1126.97 L1219.72 1126.57 L1221.22 1126.16 L1222.71 1125.75 L1224.21 1125.32 L1225.71 1124.88 L1227.2 1124.44 L1228.7 1123.98 L1230.2 1123.51 L1231.7 1123.04 L1233.19 1122.55 L1234.69 1122.05 L1236.19 1121.54 L1237.68 1121.02 L1239.18 1120.49 L1240.68 1119.95 L1242.17 1119.4 L1243.67 1118.84 L1245.17 1118.27 L1246.66 1117.68 L1248.16 1117.09 L1249.66 1116.49 L1251.15 1115.87 L1252.65 1115.24 L1254.15 1114.61 L1255.64 1113.96 L1257.14 1113.3 L1258.64 1112.63 L1260.13 1111.94 L1261.63 1111.25 L1263.13 1110.54 L1264.63 1109.83 L1266.12 1109.1 L1267.62 1108.36 L1269.12 1107.61 L1270.61 1106.84 L1272.11 1106.07 L1273.61 1105.28 L1275.1 1104.48 L1276.6 1103.67 L1278.1 1102.85 L1279.59 1102.02 L1281.09 1101.17 L1282.59 1100.31 L1284.08 1099.44 L1285.58 1098.56 L1287.08 1097.66 L1288.57 1096.76 L1290.07 1095.84 L1291.57 1094.91 L1293.07 1093.96 L1294.56 1093 L1296.06 1092.03 L1297.56 1091.05 L1299.05 1090.06 L1300.55 1089.05 L1302.05 1088.03 L1303.54 1087 L1305.04 1085.95 L1306.54 1084.89 L1308.03 1083.82 L1309.53 1082.73 L1311.03 1081.63 L1312.52 1080.52 L1314.02 1079.4 L1315.52 1078.26 L1317.01 1077.11 L1318.51 1075.94 L1320.01 1074.77 L1321.5 1073.57 L1323 1072.37 L1324.5 1071.15 L1326 1069.92 L1327.49 1068.67 L1328.99 1067.41 L1330.49 1066.14 L1331.98 1064.85 L1333.48 1063.55 L1334.98 1062.23 L1336.47 1060.9 L1337.97 1059.56 L1339.47 1058.2 L1340.96 1056.83 L1342.46 1055.44 L1343.96 1054.04 L1345.45 1052.63 L1346.95 1051.2 L1348.45 1049.76 L1349.94 1048.3 L1351.44 1046.82 L1352.94 1045.34 L1354.43 1043.83 L1355.93 1042.32 L1357.43 1040.79 L1358.93 1039.24 L1360.42 1037.68 L1361.92 1036.1 L1363.42 1034.51 L1364.91 1032.9 L1366.41 1031.28 L1367.91 1029.65 L1369.4 1027.99 L1370.9 1026.33" fill="none" stroke="#000" stroke-width="2" stroke-dasharray="1.8 3"/>
<path d="M805.1 1267.12 L806.6 1266.11 L808.1 1265.1 L809.6 1264.08 L811.09 1263.07 L812.59 1262.06 L814.09 1261.05 L815.59 1260.04 L817.09 1259.03 L818.59 1258.02 L820.09 1257.02 L821.59 1256.02 L823.08 1255.02 L824.58 1254.02 L826.08 1253.03 L827.58 1252.04 L829.08 1251.05 L830.58 1250.07 L832.08 1249.09 L833.57 1248.12 L835.07 1247.15 L836.57 1246.19 L838.07 1245.24 L839.57 1244.29 L841.07 1243.35 L842.57 1242.41 L844.07 1241.48 L845.56 1240.56 L847.06 1239.65 L848.56 1238.74 L850.06 1237.85 L851.56 1236.96 L853.06 1236.08 L854.56 1235.21 L856.05 1234.35 L857.55 1233.5 L859.05 1232.66 L860.55 1231.84 L862.05 1231.02 L863.55 1230.21 L865.05 1229.42 L866.55 1228.64 L868.04 1227.87 L869.54 1227.11 L871.04 1226.37 L872.54 1225.64 L874.04 1224.92 L875.54 1224.22 L877.04 1223.53 L878.53 1222.85 L880.03 1222.19 L881.53 1221.55 L883.03 1220.92 L884.53 1220.31 L886.03 1219.71 L887.53 1219.13 L889.03 1218.56 L890.52 1218.01 L892.02 1217.47 L893.52 1216.95 L895.02 1216.44 L896.52 1215.94 L898.02 1215.46 L899.52 1214.99 L901.01 1214.54 L902.51 1214.1 L904.01 1213.67 L905.51 1213.26 L907.01 1212.86 L908.51 1212.47 L910.01 1212.09 L911.51 1211.72 L913 1211.37 L914.5 1211.02 L916 1210.69 L917.5 1210.37 L919 1210.06 L920.5 1209.76 L922 1209.47 L923.49 1209.19 L924.99 1208.92 L926.49 1208.66 L927.99 1208.41 L929.49 1208.17 L930.99 1207.94 L932.49 1207.72 L933.99 1207.5 L935.48 1207.3 L936.98 1207.1 L938.48 1206.91 L939.98 1206.73 L941.48 1206.55 L942.98 1206.39 L944.48 1206.23 L945.97 1206.07 L947.47 1205.92 L948.97 1205.78 L950.47 1205.65 L951.97 1205.52 L953.47 1205.4 L954.97 1205.28 L956.47 1205.17 L957.96 1205.06 L959.46 1204.96 L960.96 1204.86 L962.46 1204.77 L963.96 1204.68 L965.46 1204.6 L966.96 1204.52 L968.45 1204.45 L969.95 1204.38 L971.45 1204.32 L972.95 1204.25 L974.45 1204.2 L975.95 1204.15 L977.45 1204.1 L978.95 1204.05 L980.44 1204.01 L981.94 1203.98 L983.44 1203.95 L984.94 1203.92 L986.44 1203.9 L987.94 1203.88 L989.44 1203.86 L990.93 1203.85 L992.43 1203.84 L993.93 1203.83 L995.43 1203.83 L996.93 1203.83 L998.43 1203.84 L999.93 1203.85 L1001.43 1203.86 L1002.92 1203.87 L1004.42 1203.89 L1005.92 1203.91 L1007.42 1203.94 L1008.92 1203.96 L1010.42 1204 L1011.92 1204.03 L1013.41 1204.06 L1014.91 1204.1 L1016.41 1204.15 L1017.91 1204.19 L1019.41 1204.24 L1020.91 1204.29 L1022.41 1204.34 L1023.91 1204.39 L1025.4 1204.45 L1026.9 1204.51 L1028.4 1204.57 L1029.9 1204.64 L1031.4 1204.7 L1032.9 1204.77 L1034.4 1204.84 L1035.89 1204.92 L1037.39 1204.99 L1038.89 1205.07 L1040.39 1205.15 L1041.89 1205.23 L1043.39 1205.31 L1044.89 1205.39 L1046.39 1205.48 L1047.88 1205.56 L1049.38 1205.65 L1050.88 1205.74 L1052.38 1205.83 L1053.88 1205.91 L1055.38 1205.99 L1056.88 1206.06 L1058.37 1206.13 L1059.87 1206.18 L1061.37 1206.22 L1062.87 1206.25 L1064.37 1206.25 L1065.87 1206.25 L1067.37 1206.22 L1068.87 1206.17 L1070.36 1206.09 L1071.86 1206 L1073.36 1205.87 L1074.86 1205.74 L1076.36 1205.6 L1077.86 1205.45 L1079.36 1205.31 L1080.85 1205.19 L1082.35 1205.08 L1083.85 1205 L1085.35 1204.95 L1086.85 1204.94 L1088.35 1204.97 L1089.85 1205.06 L1091.35 1205.21 L1092.84 1205.4 L1094.34 1205.64 L1095.84 1205.9 L1097.34 1206.17 L1098.84 1206.45 L1100.34 1206.72 L1101.84 1206.96 L1103.33 1207.18 L1104.83 1207.35 L1106.33 1207.46 L1107.83 1207.52 L1109.33 1207.53 L1110.83 1207.5 L1112.33 1207.43 L1113.83 1207.33 L1115.32 1207.21 L1116.82 1207.06 L1118.32 1206.9 L1119.82 1206.73 L1121.32 1206.56 L1122.82 1206.39 L1124.32 1206.23 L1125.81 1206.08 L1127.31 1205.95 L1128.81 1205.84 L1130.31 1205.77 L1131.81 1205.72 L1133.31 1205.71 L1134.81 1205.73 L1136.31 1205.78 L1137.8 1205.84 L1139.3 1205.93 L1140.8 1206.03 L1142.3 1206.14 L1143.8 1206.26 L1145.3 1206.39 L1146.8 1206.52 L1148.29 1206.65 L1149.79 1206.77 L1151.29 1206.88 L1152.79 1206.99 L1154.29 1207.08 L1155.79 1207.15 L1157.29 1207.2 L1158.79 1207.23 L1160.28 1207.24 L1161.78 1207.22 L1163.28 1207.18 L1164.78 1207.12 L1166.28 1207.02 L1167.78 1206.9 L1169.28 1206.74 L1170.77 1206.55 L1172.27 1206.33 L1173.77 1206.08 L1175.27 1205.79 L1176.77 1205.47 L1178.27 1205.1 L1179.77 1204.7 L1181.27 1204.26 L1182.76 1203.77 L1184.26 1203.25 L1185.76 1202.67 L1187.26 1202.06 L1188.76 1201.4 L1190.26 1200.7 L1191.76 1199.97 L1193.25 1199.2 L1194.75 1198.39 L1196.25 1197.56 L1197.75 1196.7 L1199.25 1195.81 L1200.75 1194.9 L1202.25 1193.97 L1203.75 1193.02 L1205.24 1192.05 L1206.74 1191.07 L1208.24 1190.08 L1209.74 1189.08 L1211.24 1188.07 L1212.74 1187.05 L1214.24 1186.04 L1215.73 1185.02 L1217.23 1184.01 L1218.73 1183 L1220.23 1181.99 L1221.73 1181 L1223.23 1180.02 L1224.73 1179.05 L1226.23 1178.09 L1227.72 1177.16 L1229.22 1176.25 L1230.72 1175.36 L1232.22 1174.49 L1233.72 1173.66 L1235.22 1172.85 L1236.72 1172.08 L1238.21 1171.34 L1239.71 1170.63 L1241.21 1169.97 L1242.71 1169.35 L1244.21 1168.77 L1245.71 1168.24 L1247.21 1167.75 L1248.71 1167.29 L1250.2 1166.87 L1251.7 1166.48 L1253.2 1166.13 L1254.7 1165.81 L1256.2 1165.51 L1257.7 1165.24 L1259.2 1164.99 L1260.69 1164.76 L1262.19 1164.55 L1263.69 1164.36 L1265.19 1164.18 L1266.69 1164.01 L1268.19 1163.86 L1269.69 1163.71 L1271.19 1163.56 L1272.68 1163.42 L1274.18 1163.28 L1275.68 1163.14 L1277.18 1162.99 L1278.68 1162.84 L1280.18 1162.68 L1281.68 1162.52 L1283.17 1162.33 L1284.67 1162.14 L1286.17 1161.93 L1287.67 1161.7 L1289.17 1161.44 L1290.67 1161.17 L1292.17 1160.87 L1293.67 1160.54 L1295.16 1160.18 L1296.66 1159.8 L1298.16 1159.39 L1299.66 1158.95 L1301.16 1158.5 L1302.66 1158.02 L1304.16 1157.53 L1305.65 1157.02 L1307.15 1156.5 L1308.65 1155.97 L1310.15 1155.42 L1311.65 1154.86 L1313.15 1154.3 L1314.65 1153.73 L1316.15 1153.16 L1317.64 1152.59 L1319.14 1152.01 L1320.64 1151.44 L1322.14 1150.87 L1323.64 1150.3 L1325.14 1149.73 L1326.64 1149.16 L1328.13 1148.59 L1329.63 1148.03 L1331.13 1147.47 L1332.63 1146.91 L1334.13 1146.36 L1335.63 1145.81 L1337.13 1145.26 L1338.63 1144.71 L1340.12 1144.18 L1341.62 1143.64 L1343.12 1143.11 L1344.62 1142.58 L1346.12 1142.06 L1347.62 1141.55 L1349.12 1141.04 L1350.61 1140.54 L1352.11 1140.04 L1353.61 1139.55 L1355.11 1139.07 L1356.61 1138.6 L1358.11 1138.13 L1359.61 1137.67 L1361.11 1137.22 L1362.6 1136.77 L1364.1 1136.34 L1365.6 1135.91 L1367.1 1135.49" fill="none" stroke="#000" stroke-width="2.6" stroke-dasharray="9 8.5"/>
<path d="M805.1 1283.23 L806.6 1282.97 L808.09 1282.72 L809.59 1282.48 L811.09 1282.26 L812.58 1282.04 L814.08 1281.83 L815.58 1281.63 L817.07 1281.45 L818.57 1281.27 L820.07 1281.09 L821.57 1280.93 L823.06 1280.77 L824.56 1280.63 L826.06 1280.49 L827.55 1280.35 L829.05 1280.23 L830.55 1280.1 L832.04 1279.99 L833.54 1279.88 L835.04 1279.78 L836.53 1279.68 L838.03 1279.58 L839.53 1279.49 L841.02 1279.41 L842.52 1279.33 L844.02 1279.25 L845.51 1279.17 L847.01 1279.1 L848.51 1279.03 L850 1278.96 L851.5 1278.89 L853 1278.83 L854.5 1278.77 L855.99 1278.7 L857.49 1278.64 L858.99 1278.58 L860.48 1278.52 L861.98 1278.46 L863.48 1278.39 L864.97 1278.33 L866.47 1278.27 L867.97 1278.2 L869.46 1278.13 L870.96 1278.06 L872.46 1277.99 L873.95 1277.91 L875.45 1277.83 L876.95 1277.75 L878.44 1277.66 L879.94 1277.57 L881.44 1277.48 L882.93 1277.38 L884.43 1277.27 L885.93 1277.16 L887.43 1277.04 L888.92 1276.92 L890.42 1276.79 L891.92 1276.66 L893.41 1276.52 L894.91 1276.37 L896.41 1276.21 L897.9 1276.05 L899.4 1275.87 L900.9 1275.69 L902.39 1275.5 L903.89 1275.3 L905.39 1275.09 L906.88 1274.87 L908.38 1274.64 L909.88 1274.4 L911.37 1274.15 L912.87 1273.89 L914.37 1273.62 L915.87 1273.33 L917.36 1273.04 L918.86 1272.73 L920.36 1272.41 L921.85 1272.07 L923.35 1271.72 L924.85 1271.36 L926.34 1270.99 L927.84 1270.6 L929.34 1270.19 L930.83 1269.77 L932.33 1269.34 L933.83 1268.89 L935.32 1268.42 L936.82 1267.94 L938.32 1267.44 L939.81 1266.93 L941.31 1266.4 L942.81 1265.85 L944.3 1265.28 L945.8 1264.7 L947.3 1264.1 L948.8 1263.49 L950.29 1262.87 L951.79 1262.22 L953.29 1261.57 L954.78 1260.9 L956.28 1260.22 L957.78 1259.53 L959.27 1258.82 L960.77 1258.11 L962.27 1257.38 L963.76 1256.64 L965.26 1255.89 L966.76 1255.13 L968.25 1254.37 L969.75 1253.59 L971.25 1252.8 L972.74 1252.01 L974.24 1251.21 L975.74 1250.41 L977.23 1249.59 L978.73 1248.78 L980.23 1247.95 L981.73 1247.12 L983.22 1246.29 L984.72 1245.45 L986.22 1244.61 L987.71 1243.76 L989.21 1242.92 L990.71 1242.07 L992.2 1241.21 L993.7 1240.36 L995.2 1239.51 L996.69 1238.65 L998.19 1237.8 L999.69 1236.94 L1001.18 1236.09 L1002.68 1235.24 L1004.18 1234.38 L1005.67 1233.52 L1007.17 1232.66 L1008.67 1231.79 L1010.17 1230.9 L1011.66 1230.01 L1013.16 1229.1 L1014.66 1228.17 L1016.15 1227.23 L1017.65 1226.26 L1019.15 1225.27 L1020.64 1224.25 L1022.14 1223.21 L1023.64 1222.14 L1025.13 1221.04 L1026.63 1219.9 L1028.13 1218.72 L1029.62 1217.52 L1031.12 1216.28 L1032.62 1215 L1034.11 1213.7 L1035.61 1212.36 L1037.11 1210.99 L1038.6 1209.59 L1040.1 1208.16 L1041.6 1206.71 L1043.1 1205.22 L1044.59 1203.7 L1046.09 1202.16 L1047.59 1200.59 L1049.08 1198.99 L1050.58 1197.37 L1052.08 1195.75 L1053.57 1194.13 L1055.07 1192.54 L1056.57 1190.98 L1058.06 1189.47 L1059.56 1188.03 L1061.06 1186.69 L1062.55 1185.44 L1064.05 1184.31 L1065.55 1183.33 L1067.04 1182.49 L1068.54 1181.83 L1070.04 1181.34 L1071.53 1181.02 L1073.03 1180.85 L1074.53 1180.82 L1076.03 1180.92 L1077.52 1181.14 L1079.02 1181.48 L1080.52 1181.91 L1082.01 1182.43 L1083.51 1183.03 L1085.01 1183.69 L1086.5 1184.42 L1088 1185.18 L1089.5 1185.96 L1090.99 1186.76 L1092.49 1187.54 L1093.99 1188.3 L1095.48 1189.02 L1096.98 1189.69 L1098.48 1190.34 L1099.97 1190.95 L1101.47 1191.55 L1102.97 1192.13 L1104.47 1192.71 L1105.96 1193.29 L1107.46 1193.88 L1108.96 1194.48 L1110.45 1195.1 L1111.95 1195.76 L1113.45 1196.45 L1114.94 1197.19 L1116.44 1197.96 L1117.94 1198.75 L1119.43 1199.55 L1120.93 1200.35 L1122.43 1201.13 L1123.92 1201.87 L1125.42 1202.57 L1126.92 1203.22 L1128.41 1203.81 L1129.91 1204.36 L1131.41 1204.86 L1132.9 1205.31 L1134.4 1205.72 L1135.9 1206.09 L1137.4 1206.42 L1138.89 1206.71 L1140.39 1206.98 L1141.89 1207.21 L1143.38 1207.42 L1144.88 1207.6 L1146.38 1207.75 L1147.87 1207.89 L1149.37 1208.01 L1150.87 1208.11 L1152.36 1208.2 L1153.86 1208.28 L1155.36 1208.35 L1156.85 1208.42 L1158.35 1208.48 L1159.85 1208.55 L1161.34 1208.61 L1162.84 1208.68 L1164.34 1208.76 L1165.83 1208.84 L1167.33 1208.94 L1168.83 1209.05 L1170.33 1209.18 L1171.82 1209.32 L1173.32 1209.49 L1174.82 1209.68 L1176.31 1209.9 L1177.81 1210.15 L1179.31 1210.43 L1180.8 1210.74 L1182.3 1211.09 L1183.8 1211.48 L1185.29 1211.91 L1186.79 1212.39 L1188.29 1212.9 L1189.78 1213.46 L1191.28 1214.05 L1192.78 1214.67 L1194.27 1215.32 L1195.77 1216 L1197.27 1216.71 L1198.77 1217.44 L1200.26 1218.19 L1201.76 1218.96 L1203.26 1219.74 L1204.75 1220.53 L1206.25 1221.34 L1207.75 1222.15 L1209.24 1222.96 L1210.74 1223.77 L1212.24 1224.57 L1213.73 1225.36 L1215.23 1226.14 L1216.73 1226.9 L1218.22 1227.63 L1219.72 1228.34 L1221.22 1229.02 L1222.71 1229.66 L1224.21 1230.27 L1225.71 1230.83 L1227.2 1231.34 L1228.7 1231.8 L1230.2 1232.2 L1231.7 1232.55 L1233.19 1232.83 L1234.69 1233.04 L1236.19 1233.18 L1237.68 1233.25 L1239.18 1233.25 L1240.68 1233.18 L1242.17 1233.06 L1243.67 1232.89 L1245.17 1232.66 L1246.66 1232.39 L1248.16 1232.09 L1249.66 1231.74 L1251.15 1231.37 L1252.65 1230.97 L1254.15 1230.55 L1255.64 1230.12 L1257.14 1229.67 L1258.64 1229.22 L1260.13 1228.77 L1261.63 1228.32 L1263.13 1227.87 L1264.63 1227.43 L1266.12 1226.99 L1267.62 1226.54 L1269.12 1226.1 L1270.61 1225.66 L1272.11 1225.22 L1273.61 1224.77 L1275.1 1224.32 L1276.6 1223.86 L1278.1 1223.4 L1279.59 1222.94 L1281.09 1222.46 L1282.59 1221.98 L1284.08 1221.49 L1285.58 1220.98 L1287.08 1220.47 L1288.57 1219.94 L1290.07 1219.4 L1291.57 1218.85 L1293.07 1218.28 L1294.56 1217.7 L1296.06 1217.09 L1297.56 1216.48 L1299.05 1215.84 L1300.55 1215.18 L1302.05 1214.5 L1303.54 1213.8 L1305.04 1213.08 L1306.54 1212.33 L1308.03 1211.56 L1309.53 1210.76 L1311.03 1209.94 L1312.52 1209.09 L1314.02 1208.21 L1315.52 1207.3 L1317.01 1206.36 L1318.51 1205.39 L1320.01 1204.39 L1321.5 1203.37 L1323 1202.32 L1324.5 1201.26 L1326 1200.18 L1327.49 1199.11 L1328.99 1198.03 L1330.49 1196.95 L1331.98 1195.88 L1333.48 1194.83 L1334.98 1193.8 L1336.47 1192.79 L1337.97 1191.8 L1339.47 1190.86 L1340.96 1189.95 L1342.46 1189.08 L1343.96 1188.27 L1345.45 1187.51 L1346.95 1186.8 L1348.45 1186.17 L1349.94 1185.6 L1351.44 1185.1 L1352.94 1184.67 L1354.43 1184.28 L1355.93 1183.9 L1357.43 1183.52 L1358.93 1183.11 L1360.42 1182.64 L1361.92 1182.09 L1363.42 1181.43 L1364.91 1180.64 L1366.41 1179.69 L1367.91 1178.57 L1369.4 1177.24 L1370.9 1175.68" fill="none" stroke="#000" stroke-width="2.6" stroke-dasharray="10 4 2.5 4"/>
<path d="M83.3 1255.2 Q87 1258.6 92 1256.4 M89.2 1257.4 L89.6 1260" fill="none" stroke="#000" stroke-width="1.5"/>
<path d="M804.4 610.9 L812.4 615.1 M805 615.4 L811.5 611.2" fill="none" stroke="#000" stroke-width="1.6"/>
<rect x="55.7" y="2.1" width="623" height="326" fill="none" stroke="#000" stroke-width="1.6"/>
<text transform="translate(49.2,325.1) scale(1.12,1)" font-size="19.5" text-anchor="end" font-family='"Liberation Sans", sans-serif' fill="#111" stroke="#fff" stroke-width="0.35">0</text>
<text transform="translate(49.2,235.53) scale(1.12,1)" font-size="19.5" text-anchor="end" font-family='"Liberation Sans", sans-serif' fill="#111" stroke="#fff" stroke-width="0.35">1</text>
<text transform="translate(49.2,145.96) scale(1.12,1)" font-size="19.5" text-anchor="end" font-family='"Liberation Sans", sans-serif' fill="#111" stroke="#fff" stroke-width="0.35">2</text>
<text transform="translate(49.2,56.39) scale(1.12,1)" font-size="19.5" text-anchor="end" font-family='"Liberation Sans", sans-serif' fill="#111" stroke="#fff" stroke-width="0.35">3</text>
<rect x="55.7" y="328.1" width="623" height="326.1" fill="none" stroke="#000" stroke-width="1.6"/>
<text transform="translate(49.2,626.9) scale(1.12,1)" font-size="19.5" text-anchor="end" font-family='"Liberation Sans", sans-serif' fill="#111" stroke="#fff" stroke-width="0.35">0</text>
<text transform="translate(49.2,571.38) scale(1.12,1)" font-size="19.5" text-anchor="end" font-family='"Liberation Sans", sans-serif' fill="#111" stroke="#fff" stroke-width="0.35">2</text>
<text transform="translate(49.2,515.86) scale(1.12,1)" font-size="19.5" text-anchor="end" font-family='"Liberation Sans", sans-serif' fill="#111" stroke="#fff" stroke-width="0.35">4</text>
<text transform="translate(49.2,460.34) scale(1.12,1)" font-size="19.5" text-anchor="end" font-family='"Liberation Sans", sans-serif' fill="#111" stroke="#fff" stroke-width="0.35">6</text>
<text transform="translate(49.2,404.82) scale(1.12,1)" font-size="19.5" text-anchor="end" font-family='"Liberation Sans", sans-serif' fill="#111" stroke="#fff" stroke-width="0.35">8</text>
<text transform="translate(49.2,349.3) scale(1.12,1)" font-size="19.5" text-anchor="end" font-family='"Liberation Sans", sans-serif' fill="#111" stroke="#fff" stroke-width="0.35">10</text>
<rect x="55.7" y="654.2" width="623" height="325.6" fill="none" stroke="#000" stroke-width="1.6"/>
<text transform="translate(49.2,957.7) scale(1.12,1)" font-size="19.5" text-anchor="end" font-family='"Liberation Sans", sans-serif' fill="#111" stroke="#fff" stroke-width="0.35">0</text>
<text transform="translate(49.2,895.5) scale(1.12,1)" font-size="19.5" text-anchor="end" font-family='"Liberation Sans", sans-serif' fill="#111" stroke="#fff" stroke-width="0.35">1</text>
<text transform="translate(49.2,833.3) scale(1.12,1)" font-size="19.5" text-anchor="end" font-family='"Liberation Sans", sans-serif' fill="#111" stroke="#fff" stroke-width="0.35">2</text>
<text transform="translate(49.2,771.1) scale(1.12,1)" font-size="19.5" text-anchor="end" font-family='"Liberation Sans", sans-serif' fill="#111" stroke="#fff" stroke-width="0.35">3</text>
<text transform="translate(49.2,708.9) scale(1.12,1)" font-size="19.5" text-anchor="end" font-family='"Liberation Sans", sans-serif' fill="#111" stroke="#fff" stroke-width="0.35">4</text>
<rect x="55.7" y="979.8" width="623" height="325.9" fill="none" stroke="#000" stroke-width="1.6"/>
<text transform="translate(49.2,1298.5) scale(1.12,1)" font-size="19.5" text-anchor="end" font-family='"Liberation Sans", sans-serif' fill="#111" stroke="#fff" stroke-width="0.35">0.0</text>
<text transform="translate(49.2,1248.62) scale(1.12,1)" font-size="19.5" text-anchor="end" font-family='"Liberation Sans", sans-serif' fill="#111" stroke="#fff" stroke-width="0.35">0.5</text>
<text transform="translate(49.2,1198.75) scale(1.12,1)" font-size="19.5" text-anchor="end" font-family='"Liberation Sans", sans-serif' fill="#111" stroke="#fff" stroke-width="0.35">1.0</text>
<text transform="translate(49.2,1148.88) scale(1.12,1)" font-size="19.5" text-anchor="end" font-family='"Liberation Sans", sans-serif' fill="#111" stroke="#fff" stroke-width="0.35">1.5</text>
<text transform="translate(49.2,1099) scale(1.12,1)" font-size="19.5" text-anchor="end" font-family='"Liberation Sans", sans-serif' fill="#111" stroke="#fff" stroke-width="0.35">2.0</text>
<text transform="translate(49.2,1049.12) scale(1.12,1)" font-size="19.5" text-anchor="end" font-family='"Liberation Sans", sans-serif' fill="#111" stroke="#fff" stroke-width="0.35">2.5</text>
<text transform="translate(49.2,999.25) scale(1.12,1)" font-size="19.5" text-anchor="end" font-family='"Liberation Sans", sans-serif' fill="#111" stroke="#fff" stroke-width="0.35">3.0</text>
<rect x="776.5" y="2.1" width="623" height="326" fill="none" stroke="#000" stroke-width="1.6"/>
<text transform="translate(770,303.9) scale(1.12,1)" font-size="19.5" text-anchor="end" font-family='"Liberation Sans", sans-serif' fill="#111" stroke="#fff" stroke-width="0.35">0</text>
<text transform="translate(770,213.64) scale(1.12,1)" font-size="19.5" text-anchor="end" font-family='"Liberation Sans", sans-serif' fill="#111" stroke="#fff" stroke-width="0.35">2</text>
<text transform="translate(770,123.38) scale(1.12,1)" font-size="19.5" text-anchor="end" font-family='"Liberation Sans", sans-serif' fill="#111" stroke="#fff" stroke-width="0.35">4</text>
<text transform="translate(770,33.12) scale(1.12,1)" font-size="19.5" text-anchor="end" font-family='"Liberation Sans", sans-serif' fill="#111" stroke="#fff" stroke-width="0.35">6</text>
<rect x="776.5" y="328.1" width="623" height="326.1" fill="none" stroke="#000" stroke-width="1.6"/>
<text transform="translate(770,639.5) scale(1.12,1)" font-size="19.5" text-anchor="end" font-family='"Liberation Sans", sans-serif' fill="#111" stroke="#fff" stroke-width="0.35">0</text>
<text transform="translate(770,582.12) scale(1.12,1)" font-size="19.5" text-anchor="end" font-family='"Liberation Sans", sans-serif' fill="#111" stroke="#fff" stroke-width="0.35">1</text>
<text transform="translate(770,524.74) scale(1.12,1)" font-size="19.5" text-anchor="end" font-family='"Liberation Sans", sans-serif' fill="#111" stroke="#fff" stroke-width="0.35">2</text>
<text transform="translate(770,467.36) scale(1.12,1)" font-size="19.5" text-anchor="end" font-family='"Liberation Sans", sans-serif' fill="#111" stroke="#fff" stroke-width="0.35">3</text>
<text transform="translate(770,409.98) scale(1.12,1)" font-size="19.5" text-anchor="end" font-family='"Liberation Sans", sans-serif' fill="#111" stroke="#fff" stroke-width="0.35">4</text>
<text transform="translate(770,352.6) scale(1.12,1)" font-size="19.5" text-anchor="end" font-family='"Liberation Sans", sans-serif' fill="#111" stroke="#fff" stroke-width="0.35">5</text>
<rect x="776.5" y="654.2" width="623" height="325.6" fill="none" stroke="#000" stroke-width="1.6"/>
<text transform="translate(770,959) scale(1.12,1)" font-size="19.5" text-anchor="end" font-family='"Liberation Sans", sans-serif' fill="#111" stroke="#fff" stroke-width="0.35">0</text>
<text transform="translate(770,867.2) scale(1.12,1)" font-size="19.5" text-anchor="end" font-family='"Liberation Sans", sans-serif' fill="#111" stroke="#fff" stroke-width="0.35">2</text>
<text transform="translate(770,775.4) scale(1.12,1)" font-size="19.5" text-anchor="end" font-family='"Liberation Sans", sans-serif' fill="#111" stroke="#fff" stroke-width="0.35">4</text>
<text transform="translate(770,683.6) scale(1.12,1)" font-size="19.5" text-anchor="end" font-family='"Liberation Sans", sans-serif' fill="#111" stroke="#fff" stroke-width="0.35">6</text>
<rect x="776.5" y="979.8" width="623" height="325.9" fill="none" stroke="#000" stroke-width="1.6"/>
<text transform="translate(767.7,1292.6) scale(1.05,1)" font-size="23.8" text-anchor="end" font-family='"Liberation Sans", sans-serif' fill="#111" stroke="#fff" stroke-width="0.35">0</text>
<text transform="translate(767.7,1229.57) scale(1.05,1)" font-size="23.8" text-anchor="end" font-family='"Liberation Sans", sans-serif' fill="#111" stroke="#fff" stroke-width="0.35">1</text>
<text transform="translate(767.7,1166.54) scale(1.05,1)" font-size="23.8" text-anchor="end" font-family='"Liberation Sans", sans-serif' fill="#111" stroke="#fff" stroke-width="0.35">2</text>
<text transform="translate(767.7,1103.51) scale(1.05,1)" font-size="23.8" text-anchor="end" font-family='"Liberation Sans", sans-serif' fill="#111" stroke="#fff" stroke-width="0.35">3</text>
<text transform="translate(767.7,1040.48) scale(1.05,1)" font-size="23.8" text-anchor="end" font-family='"Liberation Sans", sans-serif' fill="#111" stroke="#fff" stroke-width="0.35">4</text>
<path d="M62.34 2.1v3.2M62.34 328.1v-3.2M98.23 2.1v3.2M98.23 328.1v-3.2M134.12 2.1v3.2M134.12 328.1v-3.2M170 2.1v6.5M170 328.1v-6.5M205.88 2.1v3.2M205.88 328.1v-3.2M241.77 2.1v3.2M241.77 328.1v-3.2M277.65 2.1v3.2M277.65 328.1v-3.2M313.54 2.1v6.5M313.54 328.1v-6.5M349.42 2.1v3.2M349.42 328.1v-3.2M385.31 2.1v3.2M385.31 328.1v-3.2M421.19 2.1v3.2M421.19 328.1v-3.2M457.08 2.1v6.5M457.08 328.1v-6.5M492.96 2.1v3.2M492.96 328.1v-3.2M528.85 2.1v3.2M528.85 328.1v-3.2M564.73 2.1v3.2M564.73 328.1v-3.2M600.62 2.1v6.5M600.62 328.1v-6.5M636.5 2.1v3.2M636.5 328.1v-3.2M672.39 2.1v3.2M672.39 328.1v-3.2M55.7 326.06h6M678.7 326.06h-6M55.7 317.1h12M678.7 317.1h-12M55.7 308.14h6M678.7 308.14h-6M55.7 299.19h6M678.7 299.19h-6M55.7 290.23h6M678.7 290.23h-6M55.7 281.27h6M678.7 281.27h-6M55.7 272.32h6M678.7 272.32h-6M55.7 263.36h6M678.7 263.36h-6M55.7 254.4h6M678.7 254.4h-6M55.7 245.44h6M678.7 245.44h-6M55.7 236.49h6M678.7 236.49h-6M55.7 227.53h12M678.7 227.53h-12M55.7 218.57h6M678.7 218.57h-6M55.7 209.62h6M678.7 209.62h-6M55.7 200.66h6M678.7 200.66h-6M55.7 191.7h6M678.7 191.7h-6M55.7 182.75h6M678.7 182.75h-6M55.7 173.79h6M678.7 173.79h-6M55.7 164.83h6M678.7 164.83h-6M55.7 155.87h6M678.7 155.87h-6M55.7 146.92h6M678.7 146.92h-6M55.7 137.96h12M678.7 137.96h-12M55.7 129h6M678.7 129h-6M55.7 120.05h6M678.7 120.05h-6M55.7 111.09h6M678.7 111.09h-6M55.7 102.13h6M678.7 102.13h-6M55.7 93.18h6M678.7 93.18h-6M55.7 84.22h6M678.7 84.22h-6M55.7 75.26h6M678.7 75.26h-6M55.7 66.3h6M678.7 66.3h-6M55.7 57.35h6M678.7 57.35h-6M55.7 48.39h12M678.7 48.39h-12M55.7 39.43h6M678.7 39.43h-6M55.7 30.48h6M678.7 30.48h-6M55.7 21.52h6M678.7 21.52h-6M55.7 12.56h6M678.7 12.56h-6M55.7 3.61h6M678.7 3.61h-6M62.34 328.1v3.2M62.34 654.2v-3.2M98.23 328.1v3.2M98.23 654.2v-3.2M134.12 328.1v3.2M134.12 654.2v-3.2M170 328.1v6.5M170 654.2v-6.5M205.88 328.1v3.2M205.88 654.2v-3.2M241.77 328.1v3.2M241.77 654.2v-3.2M277.65 328.1v3.2M277.65 654.2v-3.2M313.54 328.1v6.5M313.54 654.2v-6.5M349.42 328.1v3.2M349.42 654.2v-3.2M385.31 328.1v3.2M385.31 654.2v-3.2M421.19 328.1v3.2M421.19 654.2v-3.2M457.08 328.1v6.5M457.08 654.2v-6.5M492.96 328.1v3.2M492.96 654.2v-3.2M528.85 328.1v3.2M528.85 654.2v-3.2M564.73 328.1v3.2M564.73 654.2v-3.2M600.62 328.1v6.5M600.62 654.2v-6.5M636.5 328.1v3.2M636.5 654.2v-3.2M672.39 328.1v3.2M672.39 654.2v-3.2M55.7 646.66h6M678.7 646.66h-6M55.7 632.78h6M678.7 632.78h-6M55.7 618.9h12M678.7 618.9h-12M55.7 605.02h6M678.7 605.02h-6M55.7 591.14h6M678.7 591.14h-6M55.7 577.26h6M678.7 577.26h-6M55.7 563.38h12M678.7 563.38h-12M55.7 549.5h6M678.7 549.5h-6M55.7 535.62h6M678.7 535.62h-6M55.7 521.74h6M678.7 521.74h-6M55.7 507.86h12M678.7 507.86h-12M55.7 493.98h6M678.7 493.98h-6M55.7 480.1h6M678.7 480.1h-6M55.7 466.22h6M678.7 466.22h-6M55.7 452.34h12M678.7 452.34h-12M55.7 438.46h6M678.7 438.46h-6M55.7 424.58h6M678.7 424.58h-6M55.7 410.7h6M678.7 410.7h-6M55.7 396.82h12M678.7 396.82h-12M55.7 382.94h6M678.7 382.94h-6M55.7 369.06h6M678.7 369.06h-6M55.7 355.18h6M678.7 355.18h-6M55.7 341.3h12M678.7 341.3h-12M62.34 654.2v3.2M62.34 979.8v-3.2M98.23 654.2v3.2M98.23 979.8v-3.2M134.12 654.2v3.2M134.12 979.8v-3.2M170 654.2v6.5M170 979.8v-6.5M205.88 654.2v3.2M205.88 979.8v-3.2M241.77 654.2v3.2M241.77 979.8v-3.2M277.65 654.2v3.2M277.65 979.8v-3.2M313.54 654.2v6.5M313.54 979.8v-6.5M349.42 654.2v3.2M349.42 979.8v-3.2M385.31 654.2v3.2M385.31 979.8v-3.2M421.19 654.2v3.2M421.19 979.8v-3.2M457.08 654.2v6.5M457.08 979.8v-6.5M492.96 654.2v3.2M492.96 979.8v-3.2M528.85 654.2v3.2M528.85 979.8v-3.2M564.73 654.2v3.2M564.73 979.8v-3.2M600.62 654.2v6.5M600.62 979.8v-6.5M636.5 654.2v3.2M636.5 979.8v-3.2M672.39 654.2v3.2M672.39 979.8v-3.2M55.7 974.58h6M678.7 974.58h-6M55.7 968.36h6M678.7 968.36h-6M55.7 962.14h6M678.7 962.14h-6M55.7 955.92h6M678.7 955.92h-6M55.7 949.7h12M678.7 949.7h-12M55.7 943.48h6M678.7 943.48h-6M55.7 937.26h6M678.7 937.26h-6M55.7 931.04h6M678.7 931.04h-6M55.7 924.82h6M678.7 924.82h-6M55.7 918.6h6M678.7 918.6h-6M55.7 912.38h6M678.7 912.38h-6M55.7 906.16h6M678.7 906.16h-6M55.7 899.94h6M678.7 899.94h-6M55.7 893.72h6M678.7 893.72h-6M55.7 887.5h12M678.7 887.5h-12M55.7 881.28h6M678.7 881.28h-6M55.7 875.06h6M678.7 875.06h-6M55.7 868.84h6M678.7 868.84h-6M55.7 862.62h6M678.7 862.62h-6M55.7 856.4h6M678.7 856.4h-6M55.7 850.18h6M678.7 850.18h-6M55.7 843.96h6M678.7 843.96h-6M55.7 837.74h6M678.7 837.74h-6M55.7 831.52h6M678.7 831.52h-6M55.7 825.3h12M678.7 825.3h-12M55.7 819.08h6M678.7 819.08h-6M55.7 812.86h6M678.7 812.86h-6M55.7 806.64h6M678.7 806.64h-6M55.7 800.42h6M678.7 800.42h-6M55.7 794.2h6M678.7 794.2h-6M55.7 787.98h6M678.7 787.98h-6M55.7 781.76h6M678.7 781.76h-6M55.7 775.54h6M678.7 775.54h-6M55.7 769.32h6M678.7 769.32h-6M55.7 763.1h12M678.7 763.1h-12M55.7 756.88h6M678.7 756.88h-6M55.7 750.66h6M678.7 750.66h-6M55.7 744.44h6M678.7 744.44h-6M55.7 738.22h6M678.7 738.22h-6M55.7 732h6M678.7 732h-6M55.7 725.78h6M678.7 725.78h-6M55.7 719.56h6M678.7 719.56h-6M55.7 713.34h6M678.7 713.34h-6M55.7 707.12h6M678.7 707.12h-6M55.7 700.9h12M678.7 700.9h-12M55.7 694.68h6M678.7 694.68h-6M55.7 688.46h6M678.7 688.46h-6M55.7 682.24h6M678.7 682.24h-6M55.7 676.02h6M678.7 676.02h-6M55.7 669.8h6M678.7 669.8h-6M55.7 663.58h6M678.7 663.58h-6M55.7 657.36h6M678.7 657.36h-6M62.34 979.8v3.2M62.34 1305.7v-3.2M98.23 979.8v3.2M98.23 1305.7v-3.2M134.12 979.8v3.2M134.12 1305.7v-3.2M170 979.8v6.5M170 1305.7v-6.5M205.88 979.8v3.2M205.88 1305.7v-3.2M241.77 979.8v3.2M241.77 1305.7v-3.2M277.65 979.8v3.2M277.65 1305.7v-3.2M313.54 979.8v6.5M313.54 1305.7v-6.5M349.42 979.8v3.2M349.42 1305.7v-3.2M385.31 979.8v3.2M385.31 1305.7v-3.2M421.19 979.8v3.2M421.19 1305.7v-3.2M457.08 979.8v6.5M457.08 1305.7v-6.5M492.96 979.8v3.2M492.96 1305.7v-3.2M528.85 979.8v3.2M528.85 1305.7v-3.2M564.73 979.8v3.2M564.73 1305.7v-3.2M600.62 979.8v6.5M600.62 1305.7v-6.5M636.5 979.8v3.2M636.5 1305.7v-3.2M672.39 979.8v3.2M672.39 1305.7v-3.2M55.7 1300.47h6M678.7 1300.47h-6M55.7 1290.5h12M678.7 1290.5h-12M55.7 1280.53h6M678.7 1280.53h-6M55.7 1270.55h6M678.7 1270.55h-6M55.7 1260.58h6M678.7 1260.58h-6M55.7 1250.6h6M678.7 1250.6h-6M55.7 1240.62h12M678.7 1240.62h-12M55.7 1230.65h6M678.7 1230.65h-6M55.7 1220.67h6M678.7 1220.67h-6M55.7 1210.7h6M678.7 1210.7h-6M55.7 1200.72h6M678.7 1200.72h-6M55.7 1190.75h12M678.7 1190.75h-12M55.7 1180.78h6M678.7 1180.78h-6M55.7 1170.8h6M678.7 1170.8h-6M55.7 1160.83h6M678.7 1160.83h-6M55.7 1150.85h6M678.7 1150.85h-6M55.7 1140.88h12M678.7 1140.88h-12M55.7 1130.9h6M678.7 1130.9h-6M55.7 1120.92h6M678.7 1120.92h-6M55.7 1110.95h6M678.7 1110.95h-6M55.7 1100.97h6M678.7 1100.97h-6M55.7 1091h12M678.7 1091h-12M55.7 1081.03h6M678.7 1081.03h-6M55.7 1071.05h6M678.7 1071.05h-6M55.7 1061.08h6M678.7 1061.08h-6M55.7 1051.1h6M678.7 1051.1h-6M55.7 1041.12h12M678.7 1041.12h-12M55.7 1031.15h6M678.7 1031.15h-6M55.7 1021.17h6M678.7 1021.17h-6M55.7 1011.2h6M678.7 1011.2h-6M55.7 1001.22h6M678.7 1001.22h-6M55.7 991.25h12M678.7 991.25h-12M55.7 981.27h6M678.7 981.27h-6M783.11 2.1v3.2M783.11 328.1v-3.2M818.97 2.1v3.2M818.97 328.1v-3.2M854.84 2.1v3.2M854.84 328.1v-3.2M890.7 2.1v6.5M890.7 328.1v-6.5M926.57 2.1v3.2M926.57 328.1v-3.2M962.43 2.1v3.2M962.43 328.1v-3.2M998.3 2.1v3.2M998.3 328.1v-3.2M1034.16 2.1v6.5M1034.16 328.1v-6.5M1070.03 2.1v3.2M1070.03 328.1v-3.2M1105.89 2.1v3.2M1105.89 328.1v-3.2M1141.76 2.1v3.2M1141.76 328.1v-3.2M1177.62 2.1v6.5M1177.62 328.1v-6.5M1213.49 2.1v3.2M1213.49 328.1v-3.2M1249.35 2.1v3.2M1249.35 328.1v-3.2M1285.22 2.1v3.2M1285.22 328.1v-3.2M1321.08 2.1v6.5M1321.08 328.1v-6.5M1356.95 2.1v3.2M1356.95 328.1v-3.2M1392.81 2.1v3.2M1392.81 328.1v-3.2M776.5 318.46h6M1399.5 318.46h-6M776.5 295.9h12M1399.5 295.9h-12M776.5 273.33h6M1399.5 273.33h-6M776.5 250.77h6M1399.5 250.77h-6M776.5 228.2h6M1399.5 228.2h-6M776.5 205.64h12M1399.5 205.64h-12M776.5 183.07h6M1399.5 183.07h-6M776.5 160.51h6M1399.5 160.51h-6M776.5 137.94h6M1399.5 137.94h-6M776.5 115.38h12M1399.5 115.38h-12M776.5 92.81h6M1399.5 92.81h-6M776.5 70.25h6M1399.5 70.25h-6M776.5 47.68h6M1399.5 47.68h-6M776.5 25.12h12M1399.5 25.12h-12M783.11 328.1v3.2M783.11 654.2v-3.2M818.97 328.1v3.2M818.97 654.2v-3.2M854.84 328.1v3.2M854.84 654.2v-3.2M890.7 328.1v6.5M890.7 654.2v-6.5M926.57 328.1v3.2M926.57 654.2v-3.2M962.43 328.1v3.2M962.43 654.2v-3.2M998.3 328.1v3.2M998.3 654.2v-3.2M1034.16 328.1v6.5M1034.16 654.2v-6.5M1070.03 328.1v3.2M1070.03 654.2v-3.2M1105.89 328.1v3.2M1105.89 654.2v-3.2M1141.76 328.1v3.2M1141.76 654.2v-3.2M1177.62 328.1v6.5M1177.62 654.2v-6.5M1213.49 328.1v3.2M1213.49 654.2v-3.2M1249.35 328.1v3.2M1249.35 654.2v-3.2M1285.22 328.1v3.2M1285.22 654.2v-3.2M1321.08 328.1v6.5M1321.08 654.2v-6.5M1356.95 328.1v3.2M1356.95 654.2v-3.2M1392.81 328.1v3.2M1392.81 654.2v-3.2M776.5 648.71h6M1399.5 648.71h-6M776.5 642.98h6M1399.5 642.98h-6M776.5 637.24h6M1399.5 637.24h-6M776.5 631.5h12M1399.5 631.5h-12M776.5 625.76h6M1399.5 625.76h-6M776.5 620.02h6M1399.5 620.02h-6M776.5 614.29h6M1399.5 614.29h-6M776.5 608.55h6M1399.5 608.55h-6M776.5 602.81h6M1399.5 602.81h-6M776.5 597.07h6M1399.5 597.07h-6M776.5 591.33h6M1399.5 591.33h-6M776.5 585.6h6M1399.5 585.6h-6M776.5 579.86h6M1399.5 579.86h-6M776.5 574.12h12M1399.5 574.12h-12M776.5 568.38h6M1399.5 568.38h-6M776.5 562.64h6M1399.5 562.64h-6M776.5 556.91h6M1399.5 556.91h-6M776.5 551.17h6M1399.5 551.17h-6M776.5 545.43h6M1399.5 545.43h-6M776.5 539.69h6M1399.5 539.69h-6M776.5 533.95h6M1399.5 533.95h-6M776.5 528.22h6M1399.5 528.22h-6M776.5 522.48h6M1399.5 522.48h-6M776.5 516.74h12M1399.5 516.74h-12M776.5 511h6M1399.5 511h-6M776.5 505.26h6M1399.5 505.26h-6M776.5 499.53h6M1399.5 499.53h-6M776.5 493.79h6M1399.5 493.79h-6M776.5 488.05h6M1399.5 488.05h-6M776.5 482.31h6M1399.5 482.31h-6M776.5 476.57h6M1399.5 476.57h-6M776.5 470.84h6M1399.5 470.84h-6M776.5 465.1h6M1399.5 465.1h-6M776.5 459.36h12M1399.5 459.36h-12M776.5 453.62h6M1399.5 453.62h-6M776.5 447.88h6M1399.5 447.88h-6M776.5 442.15h6M1399.5 442.15h-6M776.5 436.41h6M1399.5 436.41h-6M776.5 430.67h6M1399.5 430.67h-6M776.5 424.93h6M1399.5 424.93h-6M776.5 419.19h6M1399.5 419.19h-6M776.5 413.46h6M1399.5 413.46h-6M776.5 407.72h6M1399.5 407.72h-6M776.5 401.98h12M1399.5 401.98h-12M776.5 396.24h6M1399.5 396.24h-6M776.5 390.5h6M1399.5 390.5h-6M776.5 384.77h6M1399.5 384.77h-6M776.5 379.03h6M1399.5 379.03h-6M776.5 373.29h6M1399.5 373.29h-6M776.5 367.55h6M1399.5 367.55h-6M776.5 361.81h6M1399.5 361.81h-6M776.5 356.08h6M1399.5 356.08h-6M776.5 350.34h6M1399.5 350.34h-6M776.5 344.6h12M1399.5 344.6h-12M776.5 338.86h6M1399.5 338.86h-6M776.5 333.12h6M1399.5 333.12h-6M783.11 654.2v3.2M783.11 979.8v-3.2M818.97 654.2v3.2M818.97 979.8v-3.2M854.84 654.2v3.2M854.84 979.8v-3.2M890.7 654.2v6.5M890.7 979.8v-6.5M926.57 654.2v3.2M926.57 979.8v-3.2M962.43 654.2v3.2M962.43 979.8v-3.2M998.3 654.2v3.2M998.3 979.8v-3.2M1034.16 654.2v6.5M1034.16 979.8v-6.5M1070.03 654.2v3.2M1070.03 979.8v-3.2M1105.89 654.2v3.2M1105.89 979.8v-3.2M1141.76 654.2v3.2M1141.76 979.8v-3.2M1177.62 654.2v6.5M1177.62 979.8v-6.5M1213.49 654.2v3.2M1213.49 979.8v-3.2M1249.35 654.2v3.2M1249.35 979.8v-3.2M1285.22 654.2v3.2M1285.22 979.8v-3.2M1321.08 654.2v6.5M1321.08 979.8v-6.5M1356.95 654.2v3.2M1356.95 979.8v-3.2M1392.81 654.2v3.2M1392.81 979.8v-3.2M776.5 973.95h6M1399.5 973.95h-6M776.5 951h12M1399.5 951h-12M776.5 928.05h6M1399.5 928.05h-6M776.5 905.1h6M1399.5 905.1h-6M776.5 882.15h6M1399.5 882.15h-6M776.5 859.2h12M1399.5 859.2h-12M776.5 836.25h6M1399.5 836.25h-6M776.5 813.3h6M1399.5 813.3h-6M776.5 790.35h6M1399.5 790.35h-6M776.5 767.4h12M1399.5 767.4h-12M776.5 744.45h6M1399.5 744.45h-6M776.5 721.5h6M1399.5 721.5h-6M776.5 698.55h6M1399.5 698.55h-6M776.5 675.6h12M1399.5 675.6h-12M783.11 979.8v3.2M783.11 1305.7v-3.2M818.97 979.8v3.2M818.97 1305.7v-3.2M854.84 979.8v3.2M854.84 1305.7v-3.2M890.7 979.8v6.5M890.7 1305.7v-6.5M926.57 979.8v3.2M926.57 1305.7v-3.2M962.43 979.8v3.2M962.43 1305.7v-3.2M998.3 979.8v3.2M998.3 1305.7v-3.2M1034.16 979.8v6.5M1034.16 1305.7v-6.5M1070.03 979.8v3.2M1070.03 1305.7v-3.2M1105.89 979.8v3.2M1105.89 1305.7v-3.2M1141.76 979.8v3.2M1141.76 1305.7v-3.2M1177.62 979.8v6.5M1177.62 1305.7v-6.5M1213.49 979.8v3.2M1213.49 1305.7v-3.2M1249.35 979.8v3.2M1249.35 1305.7v-3.2M1285.22 979.8v3.2M1285.22 1305.7v-3.2M1321.08 979.8v6.5M1321.08 1305.7v-6.5M1356.95 979.8v3.2M1356.95 1305.7v-3.2M1392.81 979.8v3.2M1392.81 1305.7v-3.2M776.5 1301.91h6M1399.5 1301.91h-6M776.5 1295.61h6M1399.5 1295.61h-6M776.5 1289.3h6M1399.5 1289.3h-6M776.5 1283h12M1399.5 1283h-12M776.5 1276.7h6M1399.5 1276.7h-6M776.5 1270.39h6M1399.5 1270.39h-6M776.5 1264.09h6M1399.5 1264.09h-6M776.5 1257.79h6M1399.5 1257.79h-6M776.5 1251.48h6M1399.5 1251.48h-6M776.5 1245.18h6M1399.5 1245.18h-6M776.5 1238.88h6M1399.5 1238.88h-6M776.5 1232.58h6M1399.5 1232.58h-6M776.5 1226.27h6M1399.5 1226.27h-6M776.5 1219.97h12M1399.5 1219.97h-12M776.5 1213.67h6M1399.5 1213.67h-6M776.5 1207.36h6M1399.5 1207.36h-6M776.5 1201.06h6M1399.5 1201.06h-6M776.5 1194.76h6M1399.5 1194.76h-6M776.5 1188.45h6M1399.5 1188.45h-6M776.5 1182.15h6M1399.5 1182.15h-6M776.5 1175.85h6M1399.5 1175.85h-6M776.5 1169.55h6M1399.5 1169.55h-6M776.5 1163.24h6M1399.5 1163.24h-6M776.5 1156.94h12M1399.5 1156.94h-12M776.5 1150.64h6M1399.5 1150.64h-6M776.5 1144.33h6M1399.5 1144.33h-6M776.5 1138.03h6M1399.5 1138.03h-6M776.5 1131.73h6M1399.5 1131.73h-6M776.5 1125.42h6M1399.5 1125.42h-6M776.5 1119.12h6M1399.5 1119.12h-6M776.5 1112.82h6M1399.5 1112.82h-6M776.5 1106.52h6M1399.5 1106.52h-6M776.5 1100.21h6M1399.5 1100.21h-6M776.5 1093.91h12M1399.5 1093.91h-12M776.5 1087.61h6M1399.5 1087.61h-6M776.5 1081.3h6M1399.5 1081.3h-6M776.5 1075h6M1399.5 1075h-6M776.5 1068.7h6M1399.5 1068.7h-6M776.5 1062.39h6M1399.5 1062.39h-6M776.5 1056.09h6M1399.5 1056.09h-6M776.5 1049.79h6M1399.5 1049.79h-6M776.5 1043.49h6M1399.5 1043.49h-6M776.5 1037.18h6M1399.5 1037.18h-6M776.5 1030.88h12M1399.5 1030.88h-12M776.5 1024.58h6M1399.5 1024.58h-6M776.5 1018.27h6M1399.5 1018.27h-6M776.5 1011.97h6M1399.5 1011.97h-6M776.5 1005.67h6M1399.5 1005.67h-6M776.5 999.37h6M1399.5 999.37h-6M776.5 993.06h6M1399.5 993.06h-6M776.5 986.76h6M1399.5 986.76h-6" fill="none" stroke="#000" stroke-width="1.5"/>
<g font-size="20" font-family='"Liberation Sans", sans-serif' fill="#111" stroke="#fff" stroke-width="0.35" text-anchor="middle">
<text transform="translate(112.4,84.4) scale(0.97,1)">H</text>
<text transform="translate(126.3,84.4) scale(0.97,1)">D</text>
<text transform="translate(149.6,84.4) scale(1.05,1)">1</text>
<text transform="translate(162.4,84.4) scale(1.05,1)">9</text>
<text transform="translate(175.2,84.4) scale(1.05,1)">7</text>
<text transform="translate(188,84.4) scale(1.05,1)">7</text>
<text transform="translate(200.8,84.4) scale(1.05,1)">0</text>
<text transform="translate(213.6,84.4) scale(1.05,1)">2</text>
</g>
<g font-size="20" font-family='"Liberation Sans", sans-serif' fill="#111" stroke="#fff" stroke-width="0.35" text-anchor="middle">
<text transform="translate(112.3,410.3) scale(0.97,1)">H</text>
<text transform="translate(126.2,410.3) scale(0.97,1)">D</text>
<text transform="translate(149.5,410.3) scale(1.05,1)">2</text>
<text transform="translate(162.3,410.3) scale(1.05,1)">1</text>
<text transform="translate(175.1,410.3) scale(1.05,1)">0</text>
<text transform="translate(187.9,410.3) scale(1.05,1)">1</text>
<text transform="translate(200.7,410.3) scale(1.05,1)">2</text>
<text transform="translate(213.5,410.3) scale(1.05,1)">1</text>
</g>
<g font-size="20" font-family='"Liberation Sans", sans-serif' fill="#111" stroke="#fff" stroke-width="0.35" text-anchor="middle">
<text transform="translate(112.3,736.5) scale(0.97,1)">H</text>
<text transform="translate(126.2,736.5) scale(0.97,1)">D</text>
<text transform="translate(149.5,736.5) scale(1.05,1)">1</text>
<text transform="translate(162.3,736.5) scale(1.05,1)">8</text>
<text transform="translate(175.1,736.5) scale(1.05,1)">5</text>
<text transform="translate(187.9,736.5) scale(1.05,1)">4</text>
<text transform="translate(200.7,736.5) scale(1.05,1)">1</text>
<text transform="translate(213.5,736.5) scale(1.05,1)">8</text>
</g>
<g font-size="20" font-family='"Liberation Sans", sans-serif' fill="#111" stroke="#fff" stroke-width="0.35" text-anchor="middle">
<text transform="translate(112.3,1062.8) scale(0.97,1)">H</text>
<text transform="translate(126.2,1062.8) scale(0.97,1)">D</text>
<text transform="translate(149.5,1062.8) scale(1.05,1)">1</text>
<text transform="translate(162.3,1062.8) scale(1.05,1)">4</text>
<text transform="translate(175.1,1062.8) scale(1.05,1)">7</text>
<text transform="translate(187.9,1062.8) scale(1.05,1)">1</text>
<text transform="translate(200.7,1062.8) scale(1.05,1)">6</text>
<text transform="translate(213.5,1062.8) scale(1.05,1)">5</text>
</g>
<g font-size="20" font-family='"Liberation Sans", sans-serif' fill="#111" stroke="#fff" stroke-width="0.35" text-anchor="middle">
<text transform="translate(845.6,84.4) scale(0.97,1)">H</text>
<text transform="translate(859.5,84.4) scale(0.97,1)">D</text>
<text transform="translate(882.8,84.4) scale(1.05,1)">1</text>
<text transform="translate(895.6,84.4) scale(1.05,1)">2</text>
<text transform="translate(908.4,84.4) scale(1.05,1)">3</text>
<text transform="translate(921.2,84.4) scale(1.05,1)">2</text>
<text transform="translate(934,84.4) scale(1.05,1)">3</text>
</g>
<text x="879.5" y="410.8" font-size="20" font-family='"Liberation Sans", sans-serif' fill="#111" stroke="#fff" stroke-width="0.35" textLength="60.6" lengthAdjust="spacingAndGlyphs">VCT10</text>
<g font-size="20" font-family='"Liberation Sans", sans-serif' fill="#111" stroke="#fff" stroke-width="0.35" text-anchor="middle">
<text transform="translate(845.6,736.5) scale(0.97,1)">H</text>
<text transform="translate(859.5,736.5) scale(0.97,1)">D</text>
<text transform="translate(882.8,736.5) scale(1.05,1)">1</text>
<text transform="translate(895.6,736.5) scale(1.05,1)">3</text>
<text transform="translate(908.4,736.5) scale(1.05,1)">6</text>
<text transform="translate(921.2,736.5) scale(1.05,1)">5</text>
<text transform="translate(934,736.5) scale(1.05,1)">9</text>
</g>
<g font-size="20" font-family='"Liberation Sans", sans-serif' fill="#111" stroke="#fff" stroke-width="0.35" text-anchor="middle">
<text transform="translate(833.1,1062.8) scale(0.97,1)">H</text>
<text transform="translate(847,1062.8) scale(0.97,1)">D</text>
<text transform="translate(870.3,1062.8) scale(1.05,1)">1</text>
<text transform="translate(883.1,1062.8) scale(1.05,1)">5</text>
<text transform="translate(895.9,1062.8) scale(1.05,1)">1</text>
<text transform="translate(908.7,1062.8) scale(1.05,1)">3</text>
<text transform="translate(921.5,1062.8) scale(1.05,1)">4</text>
<text transform="translate(934.3,1062.8) scale(1.05,1)">6</text>
</g>
<text x="170" y="1334.5" font-size="19.8" text-anchor="middle" font-family='"Liberation Sans", sans-serif' fill="#111" stroke="#fff" stroke-width="0.35">2</text>
<text x="313.54" y="1334.5" font-size="19.8" text-anchor="middle" font-family='"Liberation Sans", sans-serif' fill="#111" stroke="#fff" stroke-width="0.35">4</text>
<text x="457.08" y="1334.5" font-size="19.8" text-anchor="middle" font-family='"Liberation Sans", sans-serif' fill="#111" stroke="#fff" stroke-width="0.35">6</text>
<text x="600.62" y="1334.5" font-size="19.8" text-anchor="middle" font-family='"Liberation Sans", sans-serif' fill="#111" stroke="#fff" stroke-width="0.35">8</text>
<g transform="translate(0,0)" font-family='"Liberation Sans", sans-serif' fill="#111" stroke="#fff" stroke-width="0.35">
<text x="327.5" y="1349.5" font-size="23">&#955;</text>
<text x="340.5" y="1339" font-size="14">&#8722;1</text>
<text x="367.5" y="1352" font-size="23">(</text>
<text x="377" y="1349.5" font-size="23" font-style="italic">&#956;</text>
<text x="394.5" y="1349.5" font-size="23">m</text>
<text x="418.5" y="1339" font-size="14">&#8722;1</text>
<text x="433" y="1352" font-size="23">)</text>
</g>
<g transform="translate(19.5,664) rotate(-90)" font-family='"Liberation Sans", sans-serif' fill="#111" stroke="#fff" stroke-width="0.35">
<text x="-0.3" y="0" font-size="23.5">A</text>
<text x="13.5" y="3.5" font-size="13">&#955;</text>
<line x1="20.6" y1="5.9" x2="34.2" y2="-19.5" stroke="#111" stroke-width="1.4"/>
<text x="35.2" y="0" font-size="23.5">A</text>
<text x="49.5" y="3.5" font-size="13">V</text>
</g>
<text x="890.7" y="1341.2" font-size="23.8" text-anchor="middle" font-family='"Liberation Sans", sans-serif' fill="#111" stroke="#fff" stroke-width="0.35">2</text>
<text x="1034.16" y="1341.2" font-size="23.8" text-anchor="middle" font-family='"Liberation Sans", sans-serif' fill="#111" stroke="#fff" stroke-width="0.35">4</text>
<text x="1177.62" y="1341.2" font-size="23.8" text-anchor="middle" font-family='"Liberation Sans", sans-serif' fill="#111" stroke="#fff" stroke-width="0.35">6</text>
<text x="1321.08" y="1341.2" font-size="23.8" text-anchor="middle" font-family='"Liberation Sans", sans-serif' fill="#111" stroke="#fff" stroke-width="0.35">8</text>
<g transform="translate(720.2,0)" font-family='"Liberation Sans", sans-serif' fill="#111" stroke="#fff" stroke-width="0.35">
<text x="327.5" y="1349.5" font-size="23">&#955;</text>
<text x="340.5" y="1339" font-size="14">&#8722;1</text>
<text x="367.5" y="1352" font-size="23">(</text>
<text x="377" y="1349.5" font-size="23" font-style="italic">&#956;</text>
<text x="394.5" y="1349.5" font-size="23">m</text>
<text x="418.5" y="1339" font-size="14">&#8722;1</text>
<text x="433" y="1352" font-size="23">)</text>
</g>
<g transform="translate(739.7,664) rotate(-90)" font-family='"Liberation Sans", sans-serif' fill="#111" stroke="#fff" stroke-width="0.35">
<text x="-0.3" y="0" font-size="23.5">A</text>
<text x="13.5" y="3.5" font-size="13">&#955;</text>
<line x1="20.6" y1="5.9" x2="34.2" y2="-19.5" stroke="#111" stroke-width="1.4"/>
<text x="35.2" y="0" font-size="23.5">A</text>
<text x="49.5" y="3.5" font-size="13">V</text>
</g>
</svg></body></html>
